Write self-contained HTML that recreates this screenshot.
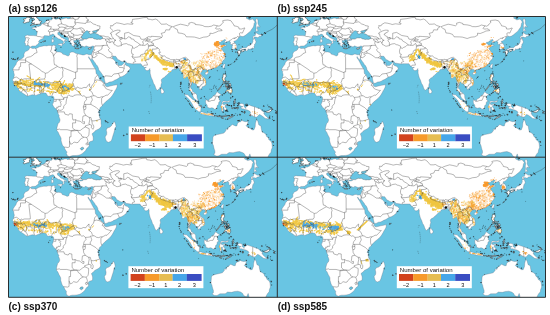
<!DOCTYPE html>
<html><head><meta charset="utf-8"><title>Number of variation</title>
<style>html,body{margin:0;padding:0;background:#fff}svg{display:block;font-family:"Liberation Sans",Arial,sans-serif}</style>
</head><body>
<svg width="550" height="315" viewBox="0 0 550 315">
<rect width="550" height="315" fill="#fff"/>
<defs>
<clipPath id="cpa"><rect x="0" y="0" width="268.8" height="140.7"/></clipPath><clipPath id="cpb"><rect x="0" y="0" width="268.2" height="140.7"/></clipPath><clipPath id="cpc"><rect x="0" y="0" width="268.8" height="140.1"/></clipPath><clipPath id="cpd"><rect x="0" y="0" width="268.2" height="140.1"/></clipPath>
<clipPath id="lc"><path d="M237.8 -6.5L237.8 -1.1L238.7 0.3L237.5 1.5L239.9 2.8L241.0 3.4L244.2 2.5L245.6 4.2L246.6 5.6L245.7 6.7L245.3 9.0L244.9 10.5L243.0 13.1L242.2 14.4L239.1 17.0L237.6 18.3L235.3 19.8L233.6 20.1L232.1 19.5L230.7 20.4L230.3 20.9L229.7 21.8L228.7 22.9L228.7 23.2L226.6 24.4L225.4 24.8L225.4 25.7L226.6 26.6L227.8 28.2L228.3 29.4L228.4 30.6L228.1 31.7L226.6 32.3L225.4 32.6L223.8 33.1L223.5 32.2L223.8 30.6L223.4 29.4L224.3 29.1L224.0 28.2L222.6 28.0L221.6 27.5L222.0 26.6L221.9 25.5L220.6 24.6L219.3 24.9L217.3 25.8L216.4 26.1L215.7 25.4L216.7 24.4L217.3 23.7L216.8 23.1L215.4 23.2L214.7 24.1L213.3 24.6L212.2 25.7L210.5 25.8L210.2 26.8L211.3 27.5L212.4 28.0L212.2 28.6L213.1 28.9L214.4 28.2L216.0 28.3L217.7 28.5L217.9 29.2L216.2 29.5L215.0 30.2L214.4 30.6L213.3 31.4L212.7 32.5L213.9 33.4L215.1 35.3L216.2 36.5L216.8 37.3L216.7 38.4L215.9 39.0L214.7 39.4L216.2 39.9L217.0 40.2L216.5 41.8L215.9 42.9L214.8 43.8L213.9 45.0L213.3 46.1L213.3 47.0L212.2 47.6L211.2 48.4L209.9 49.5L208.9 50.3L207.0 51.2L205.5 51.4L205.0 51.8L204.0 52.0L202.9 52.6L201.4 52.9L199.8 53.2L199.2 54.1L199.4 54.9L198.9 54.9L198.3 54.8L198.3 53.4L197.4 52.9L196.3 52.8L195.6 53.1L194.6 53.5L193.7 54.1L193.3 55.1L192.3 56.2L192.0 57.2L193.1 58.5L194.0 59.7L194.9 60.6L195.9 61.4L196.9 62.7L197.4 64.7L197.5 66.2L197.4 67.8L197.1 68.7L196.0 69.3L194.5 70.2L193.7 70.2L193.6 71.5L192.8 71.9L191.6 72.7L190.7 73.0L190.8 71.6L191.1 70.9L190.2 70.2L189.0 70.1L188.7 69.3L187.9 68.7L187.8 68.1L186.8 67.4L186.1 66.7L184.9 66.7L184.7 65.6L184.1 65.4L183.3 65.7L183.2 67.0L182.9 68.5L182.1 70.1L182.3 71.9L183.3 72.4L183.8 73.5L184.1 75.0L184.9 75.6L185.9 76.0L186.7 76.7L187.9 77.8L188.5 78.9L188.5 80.1L188.7 81.7L189.1 82.5L189.7 84.0L189.4 84.3L188.7 84.3L187.6 83.5L186.1 82.3L185.3 81.7L184.6 80.1L183.9 78.0L183.8 76.7L182.9 75.8L182.3 74.7L181.0 73.9L180.7 73.2L181.0 71.6L181.2 70.1L181.3 68.2L181.2 67.0L180.6 65.0L180.3 63.4L180.0 62.3L179.7 60.8L178.6 60.0L177.5 60.8L176.1 61.9L174.6 61.6L174.9 59.7L174.6 57.7L173.7 56.2L172.6 55.1L171.6 54.0L170.9 52.8L170.8 51.7L169.6 51.4L168.8 51.7L168.5 52.4L167.3 52.6L166.5 52.8L165.3 52.8L164.7 52.8L163.5 53.4L163.1 54.3L162.7 55.2L161.2 55.8L160.4 56.5L159.2 57.7L158.1 58.8L156.6 60.0L156.1 60.8L154.6 61.6L154.0 61.9L153.1 62.7L152.7 63.9L153.1 65.4L153.2 66.2L152.6 67.8L152.4 68.8L152.6 70.4L151.7 70.5L151.1 71.6L151.5 72.1L150.3 72.4L149.8 73.2L148.9 73.8L147.9 72.9L147.1 71.2L146.6 69.6L146.0 68.2L145.1 67.0L144.6 65.4L144.0 63.6L143.3 62.3L142.7 60.8L142.3 59.3L141.9 57.7L141.7 56.9L141.6 55.4L141.7 53.8L141.4 53.1L141.3 52.0L140.7 53.5L139.0 54.1L137.9 54.0L136.7 52.9L135.9 51.8L137.5 51.2L137.9 50.7L136.2 51.1L135.2 50.3L134.7 49.7L133.6 49.3L133.3 48.3L132.6 47.8L132.3 47.2L129.8 47.2L128.3 47.2L126.0 47.3L124.5 47.5L122.9 47.2L121.4 47.0L119.9 46.7L118.3 46.6L117.6 45.2L116.5 44.4L115.3 44.9L113.8 45.2L112.2 44.6L110.7 43.6L109.2 43.0L108.4 41.6L107.6 40.5L107.2 39.8L106.1 39.8L105.2 39.4L104.6 39.9L103.8 40.1L103.7 40.8L104.3 41.8L105.0 43.0L106.1 44.1L106.9 44.9L107.2 45.8L107.0 46.9L108.1 48.0L108.7 46.7L108.9 45.9L109.3 46.9L109.2 48.3L109.6 49.0L110.7 48.9L112.2 49.0L113.5 48.7L114.8 47.3L116.1 46.1L116.7 45.5L116.7 46.9L117.0 48.4L118.3 49.3L120.0 49.8L121.1 51.1L121.9 51.5L121.1 53.1L120.0 54.6L118.8 55.1L118.8 56.9L117.6 57.2L116.5 58.6L115.0 59.3L113.8 60.0L111.8 60.5L110.2 61.6L108.4 62.8L106.1 63.7L104.6 64.7L103.1 65.3L100.8 65.6L99.2 66.5L97.6 66.8L96.8 66.7L96.5 65.4L96.0 63.4L95.7 61.6L95.6 60.5L94.3 58.8L93.1 57.1L92.0 55.4L90.8 54.1L90.2 53.1L89.9 51.5L88.8 49.3L87.5 48.0L86.7 46.4L85.5 44.9L84.4 43.3L83.6 42.5L83.8 40.7L83.0 42.9L82.8 43.4L81.8 42.5L80.9 41.2L80.3 40.1L80.0 40.7L80.7 42.2L81.6 43.3L82.4 44.7L83.2 46.3L84.2 48.3L85.0 49.7L85.8 51.1L86.8 52.3L87.3 53.8L87.5 56.2L87.9 57.5L89.4 58.5L90.5 61.6L91.1 63.0L92.4 63.4L93.9 64.8L95.4 66.2L96.5 67.1L96.8 68.1L95.9 68.5L96.6 68.8L97.7 70.1L99.2 70.2L101.5 69.6L103.1 69.2L105.0 68.8L106.9 68.5L108.7 67.9L108.6 69.3L108.7 70.1L108.1 71.6L107.2 73.2L106.4 74.4L105.5 76.3L104.6 77.8L103.5 79.5L101.5 81.7L99.7 83.2L97.7 84.8L96.2 86.3L94.6 87.9L93.9 89.1L92.8 90.2L91.9 90.7L91.3 92.2L90.8 93.4L90.1 94.8L89.8 96.1L90.8 97.2L90.5 98.7L91.0 100.2L91.3 101.8L92.4 102.7L92.5 104.9L92.5 107.2L92.8 108.8L92.5 110.3L91.6 111.5L90.1 112.6L88.2 113.4L86.8 114.2L85.8 115.6L84.4 116.6L83.6 117.3L83.8 118.3L84.4 119.6L84.7 121.1L84.7 123.1L84.2 124.4L82.4 124.8L80.9 125.5L80.3 126.5L80.7 127.8L80.6 129.3L80.0 130.6L78.9 131.2L77.8 132.6L77.1 134.0L76.0 135.1L74.8 136.3L73.2 137.4L71.7 138.3L69.7 138.8L68.7 138.9L66.4 139.1L64.4 139.1L62.5 139.5L61.0 140.2L59.9 139.7L59.2 139.2L58.6 139.4L58.6 138.8L58.3 137.5L57.8 136.9L58.4 136.3L58.3 135.2L57.2 133.8L56.4 132.4L55.7 130.6L54.4 129.3L53.7 127.9L53.2 126.2L52.6 124.2L52.6 121.7L51.8 120.0L50.9 118.5L49.7 115.7L48.5 114.2L48.3 112.9L48.5 111.1L48.9 109.5L49.5 107.2L50.9 105.8L51.5 104.1L51.5 102.9L50.8 101.0L50.3 100.2L50.9 99.5L50.0 97.9L49.2 95.8L49.1 95.3L48.8 94.1L47.6 92.5L45.7 91.0L45.1 90.0L44.5 89.0L43.9 87.6L44.6 86.8L45.0 85.5L45.1 84.8L45.4 83.5L45.4 82.5L45.6 81.4L45.1 80.3L44.2 79.8L43.6 79.2L43.0 79.4L41.9 79.4L41.1 79.5L39.9 79.7L38.8 79.1L38.1 77.5L37.3 76.6L35.6 76.4L34.2 76.5L32.9 76.7L32.0 77.2L30.4 77.7L28.9 78.3L27.4 78.9L25.8 78.4L24.3 78.2L22.8 78.4L21.3 78.9L19.7 79.4L18.8 79.6L17.7 79.1L16.4 78.1L15.1 77.2L13.9 76.4L12.8 75.6L11.6 74.9L10.7 74.1L10.1 73.2L10.2 72.2L9.5 71.6L8.6 70.5L7.8 69.6L7.2 69.2L6.0 68.2L4.9 67.1L4.7 65.9L5.0 65.0L4.3 63.9L3.7 63.5L4.4 62.8L5.2 61.6L5.5 60.0L5.9 58.5L5.5 56.9L5.2 56.2L5.5 55.1L4.4 54.0L4.4 53.1L4.7 52.0L5.5 50.7L6.3 49.5L7.5 48.0L7.8 46.9L8.4 45.6L9.8 44.2L10.7 43.2L12.8 42.5L14.8 41.0L15.6 39.6L15.4 37.7L16.2 36.0L17.4 34.8L18.8 34.3L20.0 33.6L20.8 32.2L21.4 30.9L22.3 30.8L22.8 31.6L23.9 31.9L25.1 31.9L26.0 31.7L27.1 32.0L28.4 31.7L29.7 30.9L30.9 30.3L32.7 29.9L34.9 29.4L36.4 29.2L38.1 29.4L40.1 28.9L41.6 28.9L43.6 29.2L45.4 28.6L46.2 28.8L46.2 29.4L47.4 29.0L47.1 30.0L46.5 30.6L46.8 31.4L47.4 31.9L46.8 32.8L45.9 33.4L46.0 34.2L47.2 34.5L48.0 35.0L49.2 35.5L50.6 35.4L52.1 35.7L53.7 36.4L54.1 37.6L55.7 38.1L57.2 38.5L58.7 39.3L59.8 39.4L61.0 38.5L61.0 37.1L61.8 36.0L63.3 35.4L64.8 35.6L65.9 36.0L67.1 36.8L68.7 37.3L70.2 37.6L72.2 37.9L74.0 38.4L75.5 38.5L76.8 37.9L77.8 37.6L79.4 37.7L80.1 38.2L81.6 38.2L82.9 37.9L83.5 36.8L83.9 35.6L84.2 34.5L84.9 33.4L85.3 32.2L85.2 30.9L85.6 29.7L85.0 29.7L83.9 29.5L82.4 30.2L80.9 30.5L79.8 30.3L78.1 29.5L77.2 29.4L76.9 30.2L75.5 30.3L74.5 29.7L73.2 29.4L72.3 29.1L72.2 28.3L71.9 27.5L70.9 26.9L71.6 26.3L71.4 25.4L70.5 25.2L70.5 24.4L71.3 23.8L72.5 24.0L74.0 23.8L75.1 23.4L74.8 22.9L73.2 22.9L72.2 23.1L71.3 23.7L70.5 24.3L70.6 23.5L70.2 23.2L68.7 23.1L67.6 23.2L67.1 23.8L66.8 24.4L66.1 24.1L65.3 23.7L65.0 24.4L65.6 25.5L65.4 26.1L66.4 26.8L67.1 27.2L67.2 28.0L66.4 27.7L65.6 27.7L65.9 28.5L65.3 28.3L65.7 29.9L64.8 29.9L64.5 29.2L63.6 29.4L63.0 28.2L63.6 27.2L62.8 26.9L62.2 26.1L61.5 25.2L60.9 24.4L60.1 23.8L60.1 22.4L60.2 21.7L59.5 21.2L58.7 20.6L57.2 19.8L55.7 19.0L54.1 18.3L53.4 17.3L52.6 16.4L52.1 16.7L51.7 17.0L51.2 16.2L51.4 15.6L50.3 15.6L49.2 16.2L49.4 17.0L49.2 17.8L50.0 18.4L51.2 19.0L51.8 20.1L53.1 21.2L54.6 21.5L55.0 21.5L54.7 22.1L56.1 22.6L57.2 23.2L58.6 24.1L58.7 24.6L57.9 24.6L56.7 23.8L56.3 23.8L55.8 24.8L56.6 26.0L55.8 26.5L55.7 26.9L55.0 27.6L54.4 27.5L54.4 27.1L54.7 26.5L55.0 26.0L54.9 25.2L54.4 24.4L53.4 24.1L53.1 23.5L52.3 23.2L51.5 22.6L50.3 22.4L49.2 21.8L48.3 21.0L47.4 20.6L46.5 19.8L46.2 19.0L45.7 18.3L45.0 17.8L43.9 17.6L43.0 18.3L41.9 18.6L41.1 19.0L39.9 19.6L38.7 19.3L37.3 19.2L36.4 19.0L35.3 19.5L35.2 20.6L35.3 21.5L33.8 22.3L32.0 22.9L31.5 23.4L30.7 24.1L30.0 25.2L30.7 26.3L29.7 27.1L29.2 28.0L28.0 28.6L27.1 29.4L25.1 29.5L23.7 29.5L22.3 30.3L21.9 30.6L21.1 30.2L20.6 29.2L19.7 28.8L18.3 29.1L16.8 29.1L17.0 27.7L16.8 26.8L16.1 26.5L16.2 25.4L16.8 24.1L17.1 22.9L17.0 21.5L16.4 19.8L17.7 19.0L18.7 18.6L20.5 18.9L22.8 19.0L25.1 19.1L27.4 19.3L28.1 18.9L28.4 17.5L28.7 15.9L28.6 15.2L27.4 13.9L27.1 13.3L26.1 12.8L25.1 12.4L23.7 12.2L23.2 11.4L24.6 11.0L25.8 10.8L27.4 11.1L28.1 11.0L27.8 9.6L28.6 9.6L29.1 10.0L30.6 9.9L30.9 9.4L32.4 8.9L32.9 8.2L32.9 7.6L34.2 7.3L35.5 6.8L36.5 6.0L37.3 5.3L37.8 4.4L38.8 3.9L40.8 3.6L41.6 3.2L43.0 3.4L43.6 2.9L44.0 2.3L43.6 1.4L43.1 0.5L42.8 -0.3L43.0 -1.4L43.0 -6.5L46.2 -6.5L46.2 -1.1L47.1 -0.9L46.2 -0.3L46.0 0.5L45.4 0.9L45.1 1.4L45.7 2.0L46.9 2.8L47.6 2.8L48.8 2.5L49.5 2.2L51.1 2.3L52.1 2.9L52.8 2.8L54.9 2.3L56.4 1.7L58.4 1.5L59.0 2.2L60.2 2.2L60.9 1.7L61.8 1.4L62.5 0.8L62.7 -0.2L62.5 -0.8L62.6 -1.5L62.6 -6.5ZM20.9 -6.5L21.6 -1.5L21.9 -0.8L21.7 0.6L22.9 0.2L23.1 1.2L22.6 1.5L23.7 1.7L25.1 1.4L25.2 2.0L26.0 2.6L25.8 3.6L25.4 3.9L23.9 3.9L23.4 4.6L24.2 5.1L23.2 5.9L22.5 6.2L23.9 6.5L25.5 6.8L26.3 6.5L25.1 7.1L23.5 7.4L22.5 8.5L21.7 8.9L22.6 9.0L24.0 8.4L25.1 8.5L25.2 8.0L26.6 8.0L28.1 7.9L29.7 7.7L30.9 7.8L32.0 7.4L32.6 7.1L32.4 6.8L31.3 6.7L31.8 6.2L32.9 5.6L33.1 4.8L32.3 4.4L30.9 4.5L30.7 3.9L30.3 3.4L30.6 3.4L30.1 2.6L29.2 2.0L28.4 1.5L28.0 0.5L27.1 -0.3L25.5 -0.3L26.1 -0.8L26.6 -1.2L26.9 -6.5ZM15.1 6.5L15.9 6.7L17.4 6.3L19.0 5.7L20.6 5.6L21.1 4.6L21.1 3.6L20.9 2.8L21.9 2.2L21.6 1.4L20.8 0.9L19.3 0.8L17.9 1.1L17.4 1.9L17.3 2.3L15.1 2.5L15.3 3.6L16.2 4.2L15.7 5.0L14.7 5.7ZM49.8 -6.5L49.8 -0.8L50.2 0.5L50.9 0.7L52.1 0.6L52.4 0.2L52.9 -0.5L54.6 -0.5L55.5 -1.2L55.8 -6.5ZM47.6 0.2L49.5 -0.3L49.7 0.3L49.1 0.9L48.6 1.7L47.6 0.9ZM45.4 0.5L46.8 0.5L46.9 1.1L45.9 1.2ZM43.6 20.7L44.8 19.8L45.0 20.6L44.8 21.8L44.5 22.3L43.9 22.0ZM43.0 23.1L44.5 22.6L45.3 23.7L45.1 25.5L44.2 25.8L43.3 26.0L43.3 24.4ZM49.4 27.5L50.8 27.2L54.3 27.1L53.7 28.3L53.5 29.5L52.4 29.2L51.1 28.6L49.5 28.2ZM66.4 31.4L67.9 31.6L70.6 31.7L70.5 32.2L68.2 32.3L66.4 31.8ZM79.8 32.1L80.9 31.6L83.3 31.1L82.4 32.2L80.9 32.8L80.0 32.6ZM34.1 25.1L35.3 24.5L35.6 24.9L35.2 25.5ZM65.9 26.1L67.3 26.6L67.9 27.5L67.0 27.1ZM72.9 30.2L73.5 30.0L73.2 30.8ZM70.0 25.7L71.1 25.5L70.8 26.0ZM105.8 104.9L106.9 107.2L107.6 110.3L106.6 111.1L106.1 113.4L105.3 116.5L104.3 119.6L103.4 122.7L102.4 124.8L100.0 125.8L98.2 125.0L97.1 122.7L96.6 120.4L98.2 118.0L98.3 115.7L97.7 113.4L98.9 111.4L101.2 110.8L103.1 109.2L103.8 107.4L105.0 106.1ZM152.6 71.2L154.0 72.4L155.5 74.7L155.3 76.3L153.7 77.1L152.7 76.7L152.4 75.2L152.4 73.2ZM196.6 56.5L197.9 55.4L199.5 55.2L200.1 56.0L199.4 57.2L198.0 58.2L196.6 57.7ZM216.2 47.2L216.8 47.6L216.4 49.2L216.0 50.6L215.3 52.3L215.0 51.5L214.1 50.7L214.2 49.5L215.1 48.1ZM230.6 33.7L231.8 34.3L232.3 35.6L231.3 37.7L230.3 38.4L229.5 37.9L229.8 36.4L228.7 35.7L228.9 34.8L229.8 34.3ZM233.0 33.7L234.7 33.3L236.2 33.4L236.4 34.0L235.6 34.8L234.2 35.0L233.6 35.7L232.9 34.7ZM230.6 33.6L230.7 33.1L232.3 32.3L233.8 31.4L236.1 31.2L237.6 31.2L238.4 30.6L239.4 29.4L240.4 28.3L239.9 29.2L241.4 28.9L242.7 27.8L243.7 26.8L244.5 24.8L244.3 23.5L244.9 22.6L246.6 22.3L246.8 23.7L247.5 25.2L246.9 27.1L246.0 27.7L246.0 29.1L245.4 30.3L245.9 31.1L244.9 32.0L244.2 32.2L244.2 31.2L243.7 31.7L243.1 32.0L242.7 32.8L242.2 32.2L241.7 32.8L239.9 32.8L239.7 32.2L239.3 32.8L239.7 33.3L238.8 33.9L238.1 34.6L237.0 33.9L237.1 33.3L237.5 32.7L236.1 32.6L234.5 33.1L233.0 33.3L231.9 33.7ZM244.5 22.1L244.2 20.4L245.3 19.3L246.6 19.3L247.1 17.5L247.2 16.1L248.3 16.7L249.8 17.8L251.2 18.3L252.6 17.8L252.3 18.7L253.4 19.3L252.1 19.8L250.5 20.0L249.5 21.0L249.4 21.3L247.5 20.6L246.0 20.6L245.1 20.7L245.9 21.3L246.3 21.7L245.3 22.3ZM247.5 2.3L248.9 2.3L249.5 4.3L249.4 6.7L250.3 9.0L251.7 10.5L249.1 10.1L248.5 12.1L249.7 13.9L249.8 14.9L248.6 14.1L247.5 15.2L247.4 13.6L247.7 11.3L247.5 9.0L247.9 6.7L247.2 3.9ZM214.8 57.7L217.3 57.7L217.6 60.0L216.4 61.6L216.4 63.1L217.0 64.4L218.5 64.8L220.0 66.2L220.0 66.8L219.0 65.9L217.7 65.3L216.5 64.8L215.3 65.0L214.8 63.9L214.1 63.4L213.8 61.3L214.5 60.6L214.5 59.3ZM217.0 75.5L217.6 73.9L219.3 73.0L220.8 73.0L222.2 71.3L223.4 72.4L223.8 74.7L223.2 76.3L222.2 77.7L221.9 76.3L220.3 76.7L220.0 75.2L219.0 74.7L217.7 75.5ZM220.5 67.0L222.0 67.0L222.6 69.0L221.6 70.4L220.9 69.6L220.8 68.5ZM217.7 70.1L219.0 69.5L219.4 70.5L219.0 72.1L217.9 71.6ZM217.0 68.1L218.5 68.5L218.0 69.9L217.0 70.1ZM209.6 73.3L213.1 68.7L212.8 70.2L210.2 73.5ZM214.4 65.4L216.0 65.6L215.9 67.3L215.3 67.3ZM197.1 84.0L198.0 83.2L199.1 83.7L200.5 84.2L200.8 82.6L203.2 81.4L204.7 79.4L206.3 78.6L207.2 77.7L208.1 75.8L209.0 75.5L210.4 76.7L212.7 78.1L211.3 79.1L210.2 80.0L210.7 81.7L210.5 83.2L212.4 84.8L210.8 85.1L210.1 86.3L210.1 87.9L208.6 89.1L208.4 91.0L207.8 92.4L205.8 92.7L204.7 91.6L203.2 91.3L201.4 91.7L198.9 90.8L198.6 88.6L197.4 87.1L197.1 85.5ZM176.1 77.7L178.0 78.3L179.5 78.3L180.7 79.7L183.0 81.7L184.1 82.9L185.6 83.5L187.1 84.8L188.5 85.5L189.1 86.8L190.2 87.9L190.2 89.1L191.3 89.7L192.5 91.0L192.3 93.3L192.2 95.3L191.0 95.3L190.1 95.3L188.7 93.9L186.8 92.5L185.6 91.0L184.6 89.4L183.8 87.7L182.9 86.3L181.8 84.8L181.2 83.5L179.8 82.3L178.7 80.9L177.5 80.1L176.3 78.7ZM191.3 96.8L192.5 95.4L194.0 95.6L196.3 96.4L198.6 97.0L200.0 96.2L200.9 96.7L202.7 97.2L204.0 98.2L205.5 98.4L205.3 99.8L203.2 99.2L200.9 99.2L198.6 98.7L196.3 98.2L194.0 97.9L193.1 97.5ZM205.5 99.0L207.3 99.2L206.6 99.9ZM207.8 99.2L208.9 99.3L208.6 100.1ZM209.0 99.5L212.4 99.2L212.4 99.9L209.3 100.2ZM213.6 99.5L218.5 99.0L218.2 99.9L213.9 100.1ZM212.4 101.0L215.1 101.5L214.7 102.1L212.7 101.5ZM219.3 102.3L220.8 100.6L225.1 99.3L223.8 100.4L221.6 101.5L219.7 102.4ZM213.1 94.8L213.1 92.5L213.1 91.6L212.1 90.7L212.7 88.6L213.6 87.1L213.6 85.5L214.7 84.5L216.2 84.6L218.5 84.9L220.8 84.3L221.9 83.8L220.8 85.5L219.0 85.7L216.2 85.5L214.7 85.7L214.1 87.6L215.4 88.2L217.0 87.7L219.1 87.6L218.2 88.6L216.5 89.1L216.7 90.7L217.6 91.4L218.3 92.8L217.6 93.7L216.4 93.7L215.4 92.4L215.4 90.5L214.4 90.8L214.5 92.5L214.5 94.8ZM225.4 85.1L226.1 83.2L226.9 84.0L226.1 85.5L227.4 85.9L226.1 87.4L225.8 86.0ZM226.1 91.0L230.4 91.3L229.2 91.9L226.4 91.6ZM223.1 91.3L224.9 91.4L224.3 92.2L223.2 91.9ZM230.7 87.6L233.0 86.9L235.3 87.6L235.6 90.2L236.8 91.4L238.4 89.9L240.7 88.6L243.0 89.4L246.0 90.3L249.1 91.6L251.4 92.2L253.4 94.1L255.2 95.6L256.4 96.4L255.2 96.8L256.4 98.7L258.2 100.2L259.8 101.8L261.0 102.3L259.0 102.3L256.7 101.9L254.4 100.1L252.1 98.4L250.6 98.1L249.5 99.5L248.3 100.6L246.0 100.4L243.7 98.9L241.4 99.2L241.1 97.6L242.3 96.4L241.4 94.8L239.1 93.6L236.8 93.1L234.5 92.2L233.5 92.5L232.3 90.7L234.5 90.2L232.7 89.7L230.7 88.5ZM257.2 95.0L259.8 94.2L262.1 92.8L263.3 93.0L262.8 94.5L260.5 95.9L258.2 95.9ZM261.0 90.3L263.6 91.7L264.4 93.4L263.8 92.5L261.3 90.8ZM204.7 120.0L206.3 118.8L209.0 118.0L212.4 117.3L215.4 116.6L217.4 114.2L217.3 112.6L219.3 113.1L219.4 111.4L221.6 110.0L223.8 108.0L225.8 108.9L226.9 109.4L228.4 109.4L228.9 107.2L230.4 105.5L232.3 105.2L233.2 103.8L234.5 104.6L236.8 105.2L239.6 104.9L239.1 107.2L237.6 109.2L239.1 110.8L241.4 111.8L243.7 113.4L245.4 113.4L246.7 110.3L246.9 107.2L247.2 105.7L248.2 103.0L249.4 104.9L250.3 108.4L252.4 109.4L252.7 111.8L253.5 115.4L255.4 116.3L257.3 117.7L258.1 120.0L260.0 121.6L260.2 123.1L262.4 124.7L263.3 126.5L263.6 128.9L263.8 130.9L262.8 133.5L262.5 135.8L261.0 137.4L260.1 138.9L259.0 141.2L258.2 143.6L258.1 148.2L244.5 148.2L244.0 142.8L243.0 141.6L241.7 141.4L242.2 140.2L241.4 137.4L240.7 138.9L239.9 140.8L238.2 140.2L237.1 139.7L235.6 137.1L233.8 136.0L231.0 135.1L227.7 135.4L224.6 136.3L220.6 136.0L219.1 137.1L218.3 137.7L215.3 137.7L213.0 137.8L210.7 139.1L209.6 139.5L207.6 139.4L205.7 138.5L205.3 137.2L206.4 136.8L206.4 134.4L205.7 132.4L205.2 130.6L205.0 129.3L204.0 127.0L204.1 124.7L204.3 122.7L204.4 121.1ZM112.1 66.8L113.8 66.8L113.0 67.3ZM223.4 34.7L224.5 34.5L224.0 35.0ZM191.4 89.0L192.8 88.8L193.6 91.0L192.5 90.3ZM90.4 95.3L90.8 95.6L90.7 96.4ZM43.4 80.6L44.0 80.8L43.6 81.2Z"/></clipPath>
<g id="base">
<rect x="-2" y="-2" width="280.5" height="152.5" fill="#69c5e3"/>
<path d="M237.8 -6.5L237.8 -1.1L238.7 0.3L237.5 1.5L239.9 2.8L241.0 3.4L244.2 2.5L245.6 4.2L246.6 5.6L245.7 6.7L245.3 9.0L244.9 10.5L243.0 13.1L242.2 14.4L239.1 17.0L237.6 18.3L235.3 19.8L233.6 20.1L232.1 19.5L230.7 20.4L230.3 20.9L229.7 21.8L228.7 22.9L228.7 23.2L226.6 24.4L225.4 24.8L225.4 25.7L226.6 26.6L227.8 28.2L228.3 29.4L228.4 30.6L228.1 31.7L226.6 32.3L225.4 32.6L223.8 33.1L223.5 32.2L223.8 30.6L223.4 29.4L224.3 29.1L224.0 28.2L222.6 28.0L221.6 27.5L222.0 26.6L221.9 25.5L220.6 24.6L219.3 24.9L217.3 25.8L216.4 26.1L215.7 25.4L216.7 24.4L217.3 23.7L216.8 23.1L215.4 23.2L214.7 24.1L213.3 24.6L212.2 25.7L210.5 25.8L210.2 26.8L211.3 27.5L212.4 28.0L212.2 28.6L213.1 28.9L214.4 28.2L216.0 28.3L217.7 28.5L217.9 29.2L216.2 29.5L215.0 30.2L214.4 30.6L213.3 31.4L212.7 32.5L213.9 33.4L215.1 35.3L216.2 36.5L216.8 37.3L216.7 38.4L215.9 39.0L214.7 39.4L216.2 39.9L217.0 40.2L216.5 41.8L215.9 42.9L214.8 43.8L213.9 45.0L213.3 46.1L213.3 47.0L212.2 47.6L211.2 48.4L209.9 49.5L208.9 50.3L207.0 51.2L205.5 51.4L205.0 51.8L204.0 52.0L202.9 52.6L201.4 52.9L199.8 53.2L199.2 54.1L199.4 54.9L198.9 54.9L198.3 54.8L198.3 53.4L197.4 52.9L196.3 52.8L195.6 53.1L194.6 53.5L193.7 54.1L193.3 55.1L192.3 56.2L192.0 57.2L193.1 58.5L194.0 59.7L194.9 60.6L195.9 61.4L196.9 62.7L197.4 64.7L197.5 66.2L197.4 67.8L197.1 68.7L196.0 69.3L194.5 70.2L193.7 70.2L193.6 71.5L192.8 71.9L191.6 72.7L190.7 73.0L190.8 71.6L191.1 70.9L190.2 70.2L189.0 70.1L188.7 69.3L187.9 68.7L187.8 68.1L186.8 67.4L186.1 66.7L184.9 66.7L184.7 65.6L184.1 65.4L183.3 65.7L183.2 67.0L182.9 68.5L182.1 70.1L182.3 71.9L183.3 72.4L183.8 73.5L184.1 75.0L184.9 75.6L185.9 76.0L186.7 76.7L187.9 77.8L188.5 78.9L188.5 80.1L188.7 81.7L189.1 82.5L189.7 84.0L189.4 84.3L188.7 84.3L187.6 83.5L186.1 82.3L185.3 81.7L184.6 80.1L183.9 78.0L183.8 76.7L182.9 75.8L182.3 74.7L181.0 73.9L180.7 73.2L181.0 71.6L181.2 70.1L181.3 68.2L181.2 67.0L180.6 65.0L180.3 63.4L180.0 62.3L179.7 60.8L178.6 60.0L177.5 60.8L176.1 61.9L174.6 61.6L174.9 59.7L174.6 57.7L173.7 56.2L172.6 55.1L171.6 54.0L170.9 52.8L170.8 51.7L169.6 51.4L168.8 51.7L168.5 52.4L167.3 52.6L166.5 52.8L165.3 52.8L164.7 52.8L163.5 53.4L163.1 54.3L162.7 55.2L161.2 55.8L160.4 56.5L159.2 57.7L158.1 58.8L156.6 60.0L156.1 60.8L154.6 61.6L154.0 61.9L153.1 62.7L152.7 63.9L153.1 65.4L153.2 66.2L152.6 67.8L152.4 68.8L152.6 70.4L151.7 70.5L151.1 71.6L151.5 72.1L150.3 72.4L149.8 73.2L148.9 73.8L147.9 72.9L147.1 71.2L146.6 69.6L146.0 68.2L145.1 67.0L144.6 65.4L144.0 63.6L143.3 62.3L142.7 60.8L142.3 59.3L141.9 57.7L141.7 56.9L141.6 55.4L141.7 53.8L141.4 53.1L141.3 52.0L140.7 53.5L139.0 54.1L137.9 54.0L136.7 52.9L135.9 51.8L137.5 51.2L137.9 50.7L136.2 51.1L135.2 50.3L134.7 49.7L133.6 49.3L133.3 48.3L132.6 47.8L132.3 47.2L129.8 47.2L128.3 47.2L126.0 47.3L124.5 47.5L122.9 47.2L121.4 47.0L119.9 46.7L118.3 46.6L117.6 45.2L116.5 44.4L115.3 44.9L113.8 45.2L112.2 44.6L110.7 43.6L109.2 43.0L108.4 41.6L107.6 40.5L107.2 39.8L106.1 39.8L105.2 39.4L104.6 39.9L103.8 40.1L103.7 40.8L104.3 41.8L105.0 43.0L106.1 44.1L106.9 44.9L107.2 45.8L107.0 46.9L108.1 48.0L108.7 46.7L108.9 45.9L109.3 46.9L109.2 48.3L109.6 49.0L110.7 48.9L112.2 49.0L113.5 48.7L114.8 47.3L116.1 46.1L116.7 45.5L116.7 46.9L117.0 48.4L118.3 49.3L120.0 49.8L121.1 51.1L121.9 51.5L121.1 53.1L120.0 54.6L118.8 55.1L118.8 56.9L117.6 57.2L116.5 58.6L115.0 59.3L113.8 60.0L111.8 60.5L110.2 61.6L108.4 62.8L106.1 63.7L104.6 64.7L103.1 65.3L100.8 65.6L99.2 66.5L97.6 66.8L96.8 66.7L96.5 65.4L96.0 63.4L95.7 61.6L95.6 60.5L94.3 58.8L93.1 57.1L92.0 55.4L90.8 54.1L90.2 53.1L89.9 51.5L88.8 49.3L87.5 48.0L86.7 46.4L85.5 44.9L84.4 43.3L83.6 42.5L83.8 40.7L83.0 42.9L82.8 43.4L81.8 42.5L80.9 41.2L80.3 40.1L80.0 40.7L80.7 42.2L81.6 43.3L82.4 44.7L83.2 46.3L84.2 48.3L85.0 49.7L85.8 51.1L86.8 52.3L87.3 53.8L87.5 56.2L87.9 57.5L89.4 58.5L90.5 61.6L91.1 63.0L92.4 63.4L93.9 64.8L95.4 66.2L96.5 67.1L96.8 68.1L95.9 68.5L96.6 68.8L97.7 70.1L99.2 70.2L101.5 69.6L103.1 69.2L105.0 68.8L106.9 68.5L108.7 67.9L108.6 69.3L108.7 70.1L108.1 71.6L107.2 73.2L106.4 74.4L105.5 76.3L104.6 77.8L103.5 79.5L101.5 81.7L99.7 83.2L97.7 84.8L96.2 86.3L94.6 87.9L93.9 89.1L92.8 90.2L91.9 90.7L91.3 92.2L90.8 93.4L90.1 94.8L89.8 96.1L90.8 97.2L90.5 98.7L91.0 100.2L91.3 101.8L92.4 102.7L92.5 104.9L92.5 107.2L92.8 108.8L92.5 110.3L91.6 111.5L90.1 112.6L88.2 113.4L86.8 114.2L85.8 115.6L84.4 116.6L83.6 117.3L83.8 118.3L84.4 119.6L84.7 121.1L84.7 123.1L84.2 124.4L82.4 124.8L80.9 125.5L80.3 126.5L80.7 127.8L80.6 129.3L80.0 130.6L78.9 131.2L77.8 132.6L77.1 134.0L76.0 135.1L74.8 136.3L73.2 137.4L71.7 138.3L69.7 138.8L68.7 138.9L66.4 139.1L64.4 139.1L62.5 139.5L61.0 140.2L59.9 139.7L59.2 139.2L58.6 139.4L58.6 138.8L58.3 137.5L57.8 136.9L58.4 136.3L58.3 135.2L57.2 133.8L56.4 132.4L55.7 130.6L54.4 129.3L53.7 127.9L53.2 126.2L52.6 124.2L52.6 121.7L51.8 120.0L50.9 118.5L49.7 115.7L48.5 114.2L48.3 112.9L48.5 111.1L48.9 109.5L49.5 107.2L50.9 105.8L51.5 104.1L51.5 102.9L50.8 101.0L50.3 100.2L50.9 99.5L50.0 97.9L49.2 95.8L49.1 95.3L48.8 94.1L47.6 92.5L45.7 91.0L45.1 90.0L44.5 89.0L43.9 87.6L44.6 86.8L45.0 85.5L45.1 84.8L45.4 83.5L45.4 82.5L45.6 81.4L45.1 80.3L44.2 79.8L43.6 79.2L43.0 79.4L41.9 79.4L41.1 79.5L39.9 79.7L38.8 79.1L38.1 77.5L37.3 76.6L35.6 76.4L34.2 76.5L32.9 76.7L32.0 77.2L30.4 77.7L28.9 78.3L27.4 78.9L25.8 78.4L24.3 78.2L22.8 78.4L21.3 78.9L19.7 79.4L18.8 79.6L17.7 79.1L16.4 78.1L15.1 77.2L13.9 76.4L12.8 75.6L11.6 74.9L10.7 74.1L10.1 73.2L10.2 72.2L9.5 71.6L8.6 70.5L7.8 69.6L7.2 69.2L6.0 68.2L4.9 67.1L4.7 65.9L5.0 65.0L4.3 63.9L3.7 63.5L4.4 62.8L5.2 61.6L5.5 60.0L5.9 58.5L5.5 56.9L5.2 56.2L5.5 55.1L4.4 54.0L4.4 53.1L4.7 52.0L5.5 50.7L6.3 49.5L7.5 48.0L7.8 46.9L8.4 45.6L9.8 44.2L10.7 43.2L12.8 42.5L14.8 41.0L15.6 39.6L15.4 37.7L16.2 36.0L17.4 34.8L18.8 34.3L20.0 33.6L20.8 32.2L21.4 30.9L22.3 30.8L22.8 31.6L23.9 31.9L25.1 31.9L26.0 31.7L27.1 32.0L28.4 31.7L29.7 30.9L30.9 30.3L32.7 29.9L34.9 29.4L36.4 29.2L38.1 29.4L40.1 28.9L41.6 28.9L43.6 29.2L45.4 28.6L46.2 28.8L46.2 29.4L47.4 29.0L47.1 30.0L46.5 30.6L46.8 31.4L47.4 31.9L46.8 32.8L45.9 33.4L46.0 34.2L47.2 34.5L48.0 35.0L49.2 35.5L50.6 35.4L52.1 35.7L53.7 36.4L54.1 37.6L55.7 38.1L57.2 38.5L58.7 39.3L59.8 39.4L61.0 38.5L61.0 37.1L61.8 36.0L63.3 35.4L64.8 35.6L65.9 36.0L67.1 36.8L68.7 37.3L70.2 37.6L72.2 37.9L74.0 38.4L75.5 38.5L76.8 37.9L77.8 37.6L79.4 37.7L80.1 38.2L81.6 38.2L82.9 37.9L83.5 36.8L83.9 35.6L84.2 34.5L84.9 33.4L85.3 32.2L85.2 30.9L85.6 29.7L85.0 29.7L83.9 29.5L82.4 30.2L80.9 30.5L79.8 30.3L78.1 29.5L77.2 29.4L76.9 30.2L75.5 30.3L74.5 29.7L73.2 29.4L72.3 29.1L72.2 28.3L71.9 27.5L70.9 26.9L71.6 26.3L71.4 25.4L70.5 25.2L70.5 24.4L71.3 23.8L72.5 24.0L74.0 23.8L75.1 23.4L74.8 22.9L73.2 22.9L72.2 23.1L71.3 23.7L70.5 24.3L70.6 23.5L70.2 23.2L68.7 23.1L67.6 23.2L67.1 23.8L66.8 24.4L66.1 24.1L65.3 23.7L65.0 24.4L65.6 25.5L65.4 26.1L66.4 26.8L67.1 27.2L67.2 28.0L66.4 27.7L65.6 27.7L65.9 28.5L65.3 28.3L65.7 29.9L64.8 29.9L64.5 29.2L63.6 29.4L63.0 28.2L63.6 27.2L62.8 26.9L62.2 26.1L61.5 25.2L60.9 24.4L60.1 23.8L60.1 22.4L60.2 21.7L59.5 21.2L58.7 20.6L57.2 19.8L55.7 19.0L54.1 18.3L53.4 17.3L52.6 16.4L52.1 16.7L51.7 17.0L51.2 16.2L51.4 15.6L50.3 15.6L49.2 16.2L49.4 17.0L49.2 17.8L50.0 18.4L51.2 19.0L51.8 20.1L53.1 21.2L54.6 21.5L55.0 21.5L54.7 22.1L56.1 22.6L57.2 23.2L58.6 24.1L58.7 24.6L57.9 24.6L56.7 23.8L56.3 23.8L55.8 24.8L56.6 26.0L55.8 26.5L55.7 26.9L55.0 27.6L54.4 27.5L54.4 27.1L54.7 26.5L55.0 26.0L54.9 25.2L54.4 24.4L53.4 24.1L53.1 23.5L52.3 23.2L51.5 22.6L50.3 22.4L49.2 21.8L48.3 21.0L47.4 20.6L46.5 19.8L46.2 19.0L45.7 18.3L45.0 17.8L43.9 17.6L43.0 18.3L41.9 18.6L41.1 19.0L39.9 19.6L38.7 19.3L37.3 19.2L36.4 19.0L35.3 19.5L35.2 20.6L35.3 21.5L33.8 22.3L32.0 22.9L31.5 23.4L30.7 24.1L30.0 25.2L30.7 26.3L29.7 27.1L29.2 28.0L28.0 28.6L27.1 29.4L25.1 29.5L23.7 29.5L22.3 30.3L21.9 30.6L21.1 30.2L20.6 29.2L19.7 28.8L18.3 29.1L16.8 29.1L17.0 27.7L16.8 26.8L16.1 26.5L16.2 25.4L16.8 24.1L17.1 22.9L17.0 21.5L16.4 19.8L17.7 19.0L18.7 18.6L20.5 18.9L22.8 19.0L25.1 19.1L27.4 19.3L28.1 18.9L28.4 17.5L28.7 15.9L28.6 15.2L27.4 13.9L27.1 13.3L26.1 12.8L25.1 12.4L23.7 12.2L23.2 11.4L24.6 11.0L25.8 10.8L27.4 11.1L28.1 11.0L27.8 9.6L28.6 9.6L29.1 10.0L30.6 9.9L30.9 9.4L32.4 8.9L32.9 8.2L32.9 7.6L34.2 7.3L35.5 6.8L36.5 6.0L37.3 5.3L37.8 4.4L38.8 3.9L40.8 3.6L41.6 3.2L43.0 3.4L43.6 2.9L44.0 2.3L43.6 1.4L43.1 0.5L42.8 -0.3L43.0 -1.4L43.0 -6.5L46.2 -6.5L46.2 -1.1L47.1 -0.9L46.2 -0.3L46.0 0.5L45.4 0.9L45.1 1.4L45.7 2.0L46.9 2.8L47.6 2.8L48.8 2.5L49.5 2.2L51.1 2.3L52.1 2.9L52.8 2.8L54.9 2.3L56.4 1.7L58.4 1.5L59.0 2.2L60.2 2.2L60.9 1.7L61.8 1.4L62.5 0.8L62.7 -0.2L62.5 -0.8L62.6 -1.5L62.6 -6.5ZM49.8 -6.5L49.8 -0.8L50.2 0.5L50.9 0.7L52.1 0.6L52.4 0.2L52.9 -0.5L54.6 -0.5L55.5 -1.2L55.8 -6.5ZM43.6 20.7L44.8 19.8L45.0 20.6L44.8 21.8L44.5 22.3L43.9 22.0ZM43.0 23.1L44.5 22.6L45.3 23.7L45.1 25.5L44.2 25.8L43.3 26.0L43.3 24.4ZM49.4 27.5L50.8 27.2L54.3 27.1L53.7 28.3L53.5 29.5L52.4 29.2L51.1 28.6L49.5 28.2ZM105.8 104.9L106.9 107.2L107.6 110.3L106.6 111.1L106.1 113.4L105.3 116.5L104.3 119.6L103.4 122.7L102.4 124.8L100.0 125.8L98.2 125.0L97.1 122.7L96.6 120.4L98.2 118.0L98.3 115.7L97.7 113.4L98.9 111.4L101.2 110.8L103.1 109.2L103.8 107.4L105.0 106.1ZM152.6 71.2L154.0 72.4L155.5 74.7L155.3 76.3L153.7 77.1L152.7 76.7L152.4 75.2L152.4 73.2ZM196.6 56.5L197.9 55.4L199.5 55.2L200.1 56.0L199.4 57.2L198.0 58.2L196.6 57.7ZM216.2 47.2L216.8 47.6L216.4 49.2L216.0 50.6L215.3 52.3L215.0 51.5L214.1 50.7L214.2 49.5L215.1 48.1ZM230.6 33.6L230.7 33.1L232.3 32.3L233.8 31.4L236.1 31.2L237.6 31.2L238.4 30.6L239.4 29.4L240.4 28.3L239.9 29.2L241.4 28.9L242.7 27.8L243.7 26.8L244.5 24.8L244.3 23.5L244.9 22.6L246.6 22.3L246.8 23.7L247.5 25.2L246.9 27.1L246.0 27.7L246.0 29.1L245.4 30.3L245.9 31.1L244.9 32.0L244.2 32.2L244.2 31.2L243.7 31.7L243.1 32.0L242.7 32.8L242.2 32.2L241.7 32.8L239.9 32.8L239.7 32.2L239.3 32.8L239.7 33.3L238.8 33.9L238.1 34.6L237.0 33.9L237.1 33.3L237.5 32.7L236.1 32.6L234.5 33.1L233.0 33.3L231.9 33.7ZM244.5 22.1L244.2 20.4L245.3 19.3L246.6 19.3L247.1 17.5L247.2 16.1L248.3 16.7L249.8 17.8L251.2 18.3L252.6 17.8L252.3 18.7L253.4 19.3L252.1 19.8L250.5 20.0L249.5 21.0L249.4 21.3L247.5 20.6L246.0 20.6L245.1 20.7L245.9 21.3L246.3 21.7L245.3 22.3ZM247.5 2.3L248.9 2.3L249.5 4.3L249.4 6.7L250.3 9.0L251.7 10.5L249.1 10.1L248.5 12.1L249.7 13.9L249.8 14.9L248.6 14.1L247.5 15.2L247.4 13.6L247.7 11.3L247.5 9.0L247.9 6.7L247.2 3.9ZM197.1 84.0L198.0 83.2L199.1 83.7L200.5 84.2L200.8 82.6L203.2 81.4L204.7 79.4L206.3 78.6L207.2 77.7L208.1 75.8L209.0 75.5L210.4 76.7L212.7 78.1L211.3 79.1L210.2 80.0L210.7 81.7L210.5 83.2L212.4 84.8L210.8 85.1L210.1 86.3L210.1 87.9L208.6 89.1L208.4 91.0L207.8 92.4L205.8 92.7L204.7 91.6L203.2 91.3L201.4 91.7L198.9 90.8L198.6 88.6L197.4 87.1L197.1 85.5ZM176.1 77.7L178.0 78.3L179.5 78.3L180.7 79.7L183.0 81.7L184.1 82.9L185.6 83.5L187.1 84.8L188.5 85.5L189.1 86.8L190.2 87.9L190.2 89.1L191.3 89.7L192.5 91.0L192.3 93.3L192.2 95.3L191.0 95.3L190.1 95.3L188.7 93.9L186.8 92.5L185.6 91.0L184.6 89.4L183.8 87.7L182.9 86.3L181.8 84.8L181.2 83.5L179.8 82.3L178.7 80.9L177.5 80.1L176.3 78.7ZM191.3 96.8L192.5 95.4L194.0 95.6L196.3 96.4L198.6 97.0L200.0 96.2L200.9 96.7L202.7 97.2L204.0 98.2L205.5 98.4L205.3 99.8L203.2 99.2L200.9 99.2L198.6 98.7L196.3 98.2L194.0 97.9L193.1 97.5ZM213.1 94.8L213.1 92.5L213.1 91.6L212.1 90.7L212.7 88.6L213.6 87.1L213.6 85.5L214.7 84.5L216.2 84.6L218.5 84.9L220.8 84.3L221.9 83.8L220.8 85.5L219.0 85.7L216.2 85.5L214.7 85.7L214.1 87.6L215.4 88.2L217.0 87.7L219.1 87.6L218.2 88.6L216.5 89.1L216.7 90.7L217.6 91.4L218.3 92.8L217.6 93.7L216.4 93.7L215.4 92.4L215.4 90.5L214.4 90.8L214.5 92.5L214.5 94.8ZM230.7 87.6L233.0 86.9L235.3 87.6L235.6 90.2L236.8 91.4L238.4 89.9L240.7 88.6L243.0 89.4L246.0 90.3L249.1 91.6L251.4 92.2L253.4 94.1L255.2 95.6L256.4 96.4L255.2 96.8L256.4 98.7L258.2 100.2L259.8 101.8L261.0 102.3L259.0 102.3L256.7 101.9L254.4 100.1L252.1 98.4L250.6 98.1L249.5 99.5L248.3 100.6L246.0 100.4L243.7 98.9L241.4 99.2L241.1 97.6L242.3 96.4L241.4 94.8L239.1 93.6L236.8 93.1L234.5 92.2L233.5 92.5L232.3 90.7L234.5 90.2L232.7 89.7L230.7 88.5ZM204.7 120.0L206.3 118.8L209.0 118.0L212.4 117.3L215.4 116.6L217.4 114.2L217.3 112.6L219.3 113.1L219.4 111.4L221.6 110.0L223.8 108.0L225.8 108.9L226.9 109.4L228.4 109.4L228.9 107.2L230.4 105.5L232.3 105.2L233.2 103.8L234.5 104.6L236.8 105.2L239.6 104.9L239.1 107.2L237.6 109.2L239.1 110.8L241.4 111.8L243.7 113.4L245.4 113.4L246.7 110.3L246.9 107.2L247.2 105.7L248.2 103.0L249.4 104.9L250.3 108.4L252.4 109.4L252.7 111.8L253.5 115.4L255.4 116.3L257.3 117.7L258.1 120.0L260.0 121.6L260.2 123.1L262.4 124.7L263.3 126.5L263.6 128.9L263.8 130.9L262.8 133.5L262.5 135.8L261.0 137.4L260.1 138.9L259.0 141.2L258.2 143.6L258.1 148.2L244.5 148.2L244.0 142.8L243.0 141.6L241.7 141.4L242.2 140.2L241.4 137.4L240.7 138.9L239.9 140.8L238.2 140.2L237.1 139.7L235.6 137.1L233.8 136.0L231.0 135.1L227.7 135.4L224.6 136.3L220.6 136.0L219.1 137.1L218.3 137.7L215.3 137.7L213.0 137.8L210.7 139.1L209.6 139.5L207.6 139.4L205.7 138.5L205.3 137.2L206.4 136.8L206.4 134.4L205.7 132.4L205.2 130.6L205.0 129.3L204.0 127.0L204.1 124.7L204.3 122.7L204.4 121.1Z" fill="#fff" stroke="#667" stroke-width="0.3" stroke-linejoin="round"/>
<path d="M20.9 -6.5L21.6 -1.5L21.9 -0.8L21.7 0.6L22.9 0.2L23.1 1.2L22.6 1.5L23.7 1.7L25.1 1.4L25.2 2.0L26.0 2.6L25.8 3.6L25.4 3.9L23.9 3.9L23.4 4.6L24.2 5.1L23.2 5.9L22.5 6.2L23.9 6.5L25.5 6.8L26.3 6.5L25.1 7.1L23.5 7.4L22.5 8.5L21.7 8.9L22.6 9.0L24.0 8.4L25.1 8.5L25.2 8.0L26.6 8.0L28.1 7.9L29.7 7.7L30.9 7.8L32.0 7.4L32.6 7.1L32.4 6.8L31.3 6.7L31.8 6.2L32.9 5.6L33.1 4.8L32.3 4.4L30.9 4.5L30.7 3.9L30.3 3.4L30.6 3.4L30.1 2.6L29.2 2.0L28.4 1.5L28.0 0.5L27.1 -0.3L25.5 -0.3L26.1 -0.8L26.6 -1.2L26.9 -6.5ZM15.1 6.5L15.9 6.7L17.4 6.3L19.0 5.7L20.6 5.6L21.1 4.6L21.1 3.6L20.9 2.8L21.9 2.2L21.6 1.4L20.8 0.9L19.3 0.8L17.9 1.1L17.4 1.9L17.3 2.3L15.1 2.5L15.3 3.6L16.2 4.2L15.7 5.0L14.7 5.7ZM47.6 0.2L49.5 -0.3L49.7 0.3L49.1 0.9L48.6 1.7L47.6 0.9ZM45.4 0.5L46.8 0.5L46.9 1.1L45.9 1.2ZM66.4 31.4L67.9 31.6L70.6 31.7L70.5 32.2L68.2 32.3L66.4 31.8ZM79.8 32.1L80.9 31.6L83.3 31.1L82.4 32.2L80.9 32.8L80.0 32.6ZM34.1 25.1L35.3 24.5L35.6 24.9L35.2 25.5ZM65.9 26.1L67.3 26.6L67.9 27.5L67.0 27.1ZM72.9 30.2L73.5 30.0L73.2 30.8ZM70.0 25.7L71.1 25.5L70.8 26.0ZM230.6 33.7L231.8 34.3L232.3 35.6L231.3 37.7L230.3 38.4L229.5 37.9L229.8 36.4L228.7 35.7L228.9 34.8L229.8 34.3ZM233.0 33.7L234.7 33.3L236.2 33.4L236.4 34.0L235.6 34.8L234.2 35.0L233.6 35.7L232.9 34.7ZM214.8 57.7L217.3 57.7L217.6 60.0L216.4 61.6L216.4 63.1L217.0 64.4L218.5 64.8L220.0 66.2L220.0 66.8L219.0 65.9L217.7 65.3L216.5 64.8L215.3 65.0L214.8 63.9L214.1 63.4L213.8 61.3L214.5 60.6L214.5 59.3ZM217.0 75.5L217.6 73.9L219.3 73.0L220.8 73.0L222.2 71.3L223.4 72.4L223.8 74.7L223.2 76.3L222.2 77.7L221.9 76.3L220.3 76.7L220.0 75.2L219.0 74.7L217.7 75.5ZM220.5 67.0L222.0 67.0L222.6 69.0L221.6 70.4L220.9 69.6L220.8 68.5ZM217.7 70.1L219.0 69.5L219.4 70.5L219.0 72.1L217.9 71.6ZM217.0 68.1L218.5 68.5L218.0 69.9L217.0 70.1ZM209.6 73.3L213.1 68.7L212.8 70.2L210.2 73.5ZM214.4 65.4L216.0 65.6L215.9 67.3L215.3 67.3ZM205.5 99.0L207.3 99.2L206.6 99.9ZM207.8 99.2L208.9 99.3L208.6 100.1ZM209.0 99.5L212.4 99.2L212.4 99.9L209.3 100.2ZM213.6 99.5L218.5 99.0L218.2 99.9L213.9 100.1ZM212.4 101.0L215.1 101.5L214.7 102.1L212.7 101.5ZM219.3 102.3L220.8 100.6L225.1 99.3L223.8 100.4L221.6 101.5L219.7 102.4ZM225.4 85.1L226.1 83.2L226.9 84.0L226.1 85.5L227.4 85.9L226.1 87.4L225.8 86.0ZM226.1 91.0L230.4 91.3L229.2 91.9L226.4 91.6ZM223.1 91.3L224.9 91.4L224.3 92.2L223.2 91.9ZM257.2 95.0L259.8 94.2L262.1 92.8L263.3 93.0L262.8 94.5L260.5 95.9L258.2 95.9ZM261.0 90.3L263.6 91.7L264.4 93.4L263.8 92.5L261.3 90.8ZM112.1 66.8L113.8 66.8L113.0 67.3ZM223.4 34.7L224.5 34.5L224.0 35.0ZM191.4 89.0L192.8 88.8L193.6 91.0L192.5 90.3ZM90.4 95.3L90.8 95.6L90.7 96.4ZM43.4 80.6L44.0 80.8L43.6 81.2Z" fill="#fff" stroke="#222" stroke-width="0.45" stroke-linejoin="round"/>
<path d="M68.3 27.9L68.4 28.1L68.9 28.4L69.0 28.2L68.8 28.0L68.4 27.8ZM69.1 29.2L69.2 29.2L69.6 29.1L69.5 28.9L69.4 28.8L69.1 28.8ZM67.7 29.6L67.8 29.7L68.1 29.6L68.1 29.5L67.9 29.4L67.7 29.5ZM69.1 30.1L69.2 30.1L69.4 30.1L69.4 29.9L69.3 29.9L69.1 29.9ZM70.1 27.2L70.2 27.3L70.4 27.2L70.4 26.8L70.3 26.7L70.1 26.8ZM71.2 28.1L71.4 28.1L71.8 28.0L71.8 27.9L71.5 27.9L71.2 27.9ZM71.6 29.5L71.8 29.4L72.2 29.3L72.1 29.2L71.9 29.2L71.6 29.4ZM61.7 27.4L61.8 27.5L62.2 27.4L62.2 27.1L62.0 27.0L61.7 27.1ZM60.4 25.2L60.5 25.4L60.7 25.3L60.9 24.9L60.9 24.7L60.7 24.7ZM68.7 24.7L68.9 24.8L69.3 24.7L69.3 24.5L69.1 24.4L68.7 24.5ZM67.9 23.5L68.0 23.5L68.3 23.5L68.3 23.3L68.2 23.2L67.9 23.3ZM67.8 26.3L67.9 26.4L68.1 26.3L68.1 26.1L68.0 26.1L67.8 26.1ZM65.5 30.4L65.5 30.4L65.7 30.4L65.7 30.1L65.6 30.1L65.5 30.1ZM71.8 31.5L71.9 31.6L72.1 31.4L72.0 31.1L72.0 30.9L71.8 31.0ZM69.9 29.3L70.0 29.4L70.2 29.3L70.2 29.2L70.1 29.1L69.9 29.2ZM67.5 28.5L67.5 28.5L67.7 28.4L67.7 28.2L67.6 28.1L67.5 28.1ZM52.3 17.1L52.4 17.3L52.7 17.2L52.9 16.7L52.8 16.4L52.5 16.5ZM52.9 17.5L52.9 17.7L53.2 17.7L53.5 17.3L53.5 17.1L53.3 17.1ZM53.3 18.3L53.3 18.4L53.5 18.4L53.8 18.1L53.9 17.9L53.7 17.9ZM55.5 19.4L55.8 19.4L56.4 19.4L56.4 19.3L56.1 19.2L55.5 19.3ZM55.7 19.6L56.0 19.6L56.9 19.6L56.8 19.5L56.4 19.5L55.7 19.5ZM56.0 20.0L56.2 20.0L56.9 20.0L56.8 19.9L56.5 19.8L56.0 19.9ZM57.0 20.2L57.1 20.3L57.4 20.2L57.4 20.2L57.2 20.1L57.0 20.1ZM32.3 26.1L32.5 26.2L32.8 26.1L32.8 25.9L32.6 25.8L32.3 25.9ZM36.2 24.6L36.5 24.7L37.0 24.6L37.0 24.4L36.7 24.4L36.2 24.4ZM52.3 30.9L52.4 30.9L52.6 30.9L52.6 30.7L52.5 30.7L52.3 30.7ZM46.8 34.2L47.0 34.2L47.4 34.2L47.3 33.9L47.1 33.8L46.8 33.9ZM45.9 20.2L46.1 20.3L46.4 20.2L46.4 20.1L46.2 20.1L45.9 20.1ZM47.3 32.6L47.5 32.6L47.8 32.6L47.8 32.5L47.6 32.5L47.3 32.5ZM4.6 42.5L4.8 42.7L5.5 42.9L5.6 42.6L5.3 42.4L4.7 42.2ZM6.2 43.3L6.4 43.4L6.9 43.3L6.9 42.9L6.6 42.8L6.2 42.9ZM8.6 42.7L8.6 42.9L9.0 42.8L9.3 42.2L9.2 41.9L8.9 41.9ZM9.3 41.5L9.3 41.6L9.7 41.7L9.8 41.3L9.7 41.1L9.5 41.1ZM3.0 42.1L3.1 42.2L3.3 42.1L3.3 41.8L3.2 41.7L3.0 41.7ZM4.0 43.0L4.1 43.0L4.3 42.9L4.3 42.8L4.2 42.7L4.0 42.7ZM4.1 35.7L4.3 35.8L4.8 35.7L4.8 35.6L4.5 35.5L4.1 35.6ZM107.6 46.2L107.7 46.3L107.9 46.2L107.9 45.8L107.7 45.7L107.6 45.8ZM115.2 44.7L115.6 44.8L116.5 45.0L116.5 44.9L116.1 44.7L115.3 44.5ZM120.0 54.9L120.0 55.1L120.3 55.0L120.5 54.5L120.4 54.3L120.2 54.3ZM94.4 60.5L94.6 60.6L94.9 60.5L94.9 60.1L94.7 60.0L94.4 60.1ZM91.4 62.3L91.6 62.3L92.0 62.2L92.0 61.8L91.8 61.7L91.4 61.8ZM111.7 67.6L111.8 67.6L112.2 67.6L112.1 67.5L112.0 67.4L111.7 67.5ZM91.1 94.5L91.1 94.7L91.4 94.5L91.3 93.9L91.2 93.7L91.1 93.9ZM91.1 98.8L91.2 98.9L91.4 98.7L91.4 98.4L91.3 98.2L91.1 98.3ZM96.5 104.6L96.6 104.7L96.9 104.6L96.9 104.1L96.8 104.0L96.5 104.1ZM98.0 105.3L98.2 105.4L98.6 105.3L98.6 105.1L98.4 105.0L98.0 105.1ZM99.3 106.3L99.4 106.4L99.7 106.3L99.6 106.0L99.5 105.9L99.3 106.0ZM97.2 105.4L97.3 105.5L97.5 105.4L97.5 105.3L97.4 105.2L97.2 105.3ZM114.9 119.2L115.1 119.3L115.7 119.1L115.6 118.8L115.4 118.7L114.9 118.7ZM118.2 117.9L118.4 118.0L118.8 117.9L118.8 117.4L118.6 117.3L118.2 117.4ZM115.1 93.6L115.1 93.7L115.4 93.6L115.3 93.4L115.2 93.4L115.1 93.4ZM5.7 69.1L6.0 69.2L6.5 69.1L6.5 68.8L6.2 68.7L5.7 68.8ZM40.3 86.1L40.4 86.2L40.7 86.1L40.7 85.8L40.6 85.7L40.3 85.7ZM41.6 83.9L41.7 84.0L41.8 83.9L41.8 83.8L41.8 83.7L41.6 83.8ZM106.6 112.8L106.7 112.9L106.8 112.8L106.8 112.4L106.7 112.3L106.6 112.4ZM104.1 107.1L104.2 107.1L104.5 107.1L104.4 106.9L104.3 106.8L104.1 106.9ZM172.2 67.1L172.4 67.4L172.7 66.9L172.5 65.7L172.4 65.4L172.1 65.7ZM172.1 68.2L172.2 68.4L172.4 68.2L172.4 67.6L172.3 67.4L172.1 67.6ZM171.6 70.0L171.8 70.1L172.1 70.0L172.1 69.7L171.9 69.6L171.6 69.7ZM173.6 75.7L173.7 75.9L174.0 75.8L174.1 75.3L174.0 75.1L173.7 75.2ZM173.3 74.1L173.3 74.1L173.5 74.0L173.5 73.9L173.4 73.8L173.3 73.8ZM172.2 72.2L172.3 72.2L172.4 72.2L172.4 72.0L172.3 71.9L172.2 72.0ZM152.2 72.4L152.3 72.4L152.4 72.3L152.4 72.2L152.3 72.1L152.2 72.1ZM217.0 39.9L217.1 40.0L217.4 39.9L217.4 39.7L217.2 39.7L217.0 39.7ZM215.9 37.4L216.1 37.5L216.8 37.6L216.8 37.5L216.5 37.3L215.9 37.2ZM213.1 50.0L213.2 50.1L213.4 50.0L213.4 49.8L213.3 49.7L213.1 49.8ZM213.5 47.0L213.6 47.0L213.7 46.9L213.7 46.8L213.6 46.8L213.5 46.8ZM211.3 48.6L211.3 48.6L211.5 48.5L211.5 48.5L211.4 48.4L211.3 48.4ZM204.4 52.0L204.5 52.0L204.8 51.9L204.8 51.9L204.6 51.8L204.4 51.8ZM202.7 52.9L202.8 52.9L203.1 52.9L203.0 52.8L202.9 52.7L202.7 52.7ZM216.1 52.3L216.2 52.3L216.3 52.3L216.3 52.2L216.2 52.1L216.1 52.2ZM199.3 53.9L199.4 54.0L199.6 53.9L199.6 53.8L199.5 53.7L199.3 53.8ZM217.9 25.7L218.0 25.7L218.2 25.6L218.2 25.6L218.1 25.5L217.9 25.5ZM215.4 27.7L215.4 27.7L215.5 27.7L215.5 27.4L215.5 27.3L215.4 27.4ZM200.9 60.9L201.1 60.9L201.5 60.9L201.5 60.7L201.3 60.7L200.9 60.7ZM202.1 60.3L202.2 60.3L202.3 60.3L202.3 60.2L202.2 60.2L202.1 60.2ZM200.4 61.9L200.4 62.0L200.5 61.9L200.5 61.8L200.5 61.8L200.4 61.8ZM205.2 70.4L205.2 70.4L205.4 70.4L205.4 70.3L205.3 70.2L205.2 70.3ZM204.5 71.7L204.7 71.7L204.9 71.7L204.9 71.6L204.8 71.5L204.5 71.6ZM207.4 69.8L207.4 69.9L207.6 69.8L207.6 69.7L207.5 69.7L207.4 69.7ZM203.1 73.1L203.2 73.1L203.3 73.1L203.3 73.0L203.2 72.9L203.1 73.0ZM205.7 68.8L205.8 68.8L205.9 68.7L205.9 68.6L205.8 68.6L205.7 68.6ZM208.7 54.4L208.8 54.4L209.0 54.3L209.0 54.3L208.9 54.2L208.7 54.2ZM210.4 62.9L210.5 63.0L210.7 62.9L210.6 62.8L210.6 62.8L210.4 62.8ZM201.4 72.7L201.5 72.7L201.6 72.7L201.6 72.6L201.5 72.6L201.4 72.6ZM203.0 74.8L203.0 74.8L203.1 74.8L203.1 74.7L203.1 74.6L203.0 74.7ZM206.9 71.4L207.0 71.4L207.1 71.4L207.1 71.3L207.0 71.2L206.9 71.3ZM208.1 72.5L208.2 72.5L208.4 72.4L208.4 72.4L208.3 72.3L208.1 72.3ZM223.2 33.1L223.4 33.2L223.8 33.1L223.8 32.9L223.6 32.9L223.2 32.9ZM226.8 32.5L227.0 32.6L227.3 32.5L227.3 32.3L227.1 32.3L226.8 32.3ZM230.4 28.4L230.5 28.4L230.6 28.4L230.6 28.3L230.5 28.2L230.4 28.3ZM242.0 27.8L242.2 27.9L242.4 27.5L242.1 27.1L241.8 27.1L241.7 27.3ZM228.2 33.5L228.3 33.6L228.5 33.3L228.2 32.8L228.0 32.7L227.9 32.9ZM236.6 33.4L236.7 33.5L236.8 33.3L236.6 33.0L236.5 32.9L236.4 33.1ZM227.3 35.9L227.5 35.9L227.7 35.5L227.5 35.3L227.2 35.3L227.0 35.6ZM229.0 36.5L229.1 36.5L229.4 36.4L229.4 36.1L229.2 36.0L229.0 36.1ZM230.7 39.3L230.8 39.4L230.9 39.2L230.8 38.7L230.7 38.6L230.6 38.7ZM229.8 39.6L229.9 39.6L230.2 39.6L230.1 39.3L230.0 39.3L229.8 39.3ZM227.8 42.4L228.0 42.6L228.6 42.9L228.7 42.7L228.4 42.5L227.9 42.2ZM227.4 43.5L227.5 43.5L227.7 43.5L227.7 43.3L227.5 43.2L227.4 43.3ZM225.8 45.4L225.7 45.6L226.1 45.6L226.5 45.1L226.5 44.9L226.2 44.8ZM221.8 48.0L221.9 48.1L222.2 48.0L222.2 47.9L222.0 47.8L221.8 47.9ZM220.1 48.7L220.3 48.7L220.5 48.6L220.5 48.5L220.4 48.5L220.1 48.5ZM219.5 48.8L219.6 48.8L219.9 48.7L219.9 48.6L219.8 48.5L219.5 48.5ZM233.7 30.4L233.8 30.5L234.2 30.4L234.1 30.2L234.0 30.2L233.7 30.2ZM243.5 32.6L243.5 32.7L243.6 32.6L243.6 32.5L243.6 32.4L243.5 32.5ZM244.1 35.2L244.2 35.2L244.3 35.2L244.3 35.0L244.2 35.0L244.1 35.0ZM246.3 16.6L246.4 16.6L246.6 16.6L246.6 16.4L246.5 16.3L246.3 16.4ZM247.8 44.6L247.8 44.6L247.9 44.5L247.9 44.4L247.9 44.4L247.8 44.4ZM252.8 17.7L253.2 18.0L254.1 18.6L254.1 18.4L253.7 18.1L252.9 17.6ZM255.5 16.0L256.1 16.4L257.5 17.4L257.5 17.2L256.8 16.7L255.6 15.9ZM240.2 1.7L240.6 1.8L241.4 1.6L241.4 1.2L240.9 1.0L240.2 1.1ZM241.5 1.2L241.6 1.3L242.0 1.2L241.9 0.9L241.8 0.9L241.5 0.9ZM219.2 70.9L219.2 71.2L219.6 70.8L220.0 69.4L220.0 68.9L219.8 69.2ZM219.8 71.3L220.1 71.4L220.9 71.3L220.8 70.9L220.4 70.7L219.8 70.8ZM220.9 70.4L221.0 70.7L221.5 70.3L221.7 69.0L221.5 68.5L221.1 68.8ZM218.7 67.3L219.1 67.5L220.0 67.9L220.0 67.6L219.6 67.3L218.9 67.0ZM216.6 76.2L216.8 76.3L217.3 76.2L217.3 76.0L217.0 75.9L216.6 76.0ZM215.3 77.2L215.5 77.2L216.0 77.3L216.0 77.1L215.8 77.0L215.3 76.9ZM213.5 78.4L213.7 78.5L214.2 78.7L214.3 78.5L214.0 78.3L213.6 78.2ZM220.2 65.2L220.3 65.4L220.6 65.2L220.6 64.7L220.4 64.6L220.2 64.7ZM216.7 54.9L216.8 54.9L216.9 54.9L216.9 54.7L216.8 54.6L216.7 54.7ZM216.6 56.5L216.7 56.6L217.0 56.5L217.0 56.4L216.9 56.3L216.6 56.4ZM216.9 57.1L216.9 57.1L217.1 57.1L217.1 56.9L217.0 56.9L216.9 56.9ZM222.4 71.2L222.5 71.3L222.7 71.2L222.6 70.7L222.6 70.5L222.4 70.7ZM223.0 71.2L223.1 71.3L223.3 71.2L223.3 70.9L223.2 70.9L223.0 70.9ZM217.7 67.3L217.8 67.4L218.1 67.3L218.1 67.0L217.9 66.9L217.7 67.0ZM217.0 67.1L217.1 67.2L217.2 67.1L217.2 66.7L217.1 66.6L217.0 66.7ZM216.6 65.7L216.8 65.7L217.2 65.7L217.1 65.5L216.9 65.4L216.6 65.5ZM213.9 67.8L214.0 67.9L214.4 68.0L214.5 67.7L214.4 67.6L214.1 67.5ZM213.6 68.1L213.7 68.1L213.9 68.1L213.9 67.9L213.8 67.8L213.6 67.9ZM209.2 74.2L209.3 74.2L209.5 74.1L209.5 73.9L209.4 73.8L209.2 73.9ZM221.0 72.2L221.1 72.2L221.3 72.2L221.3 72.0L221.2 72.0L221.0 72.0ZM219.3 72.2L219.4 72.2L219.6 72.2L219.5 72.0L219.4 72.0L219.3 72.0ZM215.3 69.9L215.3 69.9L215.4 69.9L215.4 69.7L215.4 69.6L215.3 69.7ZM213.8 61.1L213.8 61.1L213.9 61.1L213.9 61.0L213.8 61.0L213.8 61.0ZM223.9 80.1L224.0 80.2L224.2 80.1L224.2 79.9L224.1 79.8L223.9 79.8ZM222.2 77.9L222.2 78.0L222.3 77.9L222.3 77.8L222.3 77.8L222.2 77.8ZM215.4 57.1L215.4 57.2L215.5 57.1L215.5 57.0L215.5 57.0L215.4 57.0ZM195.1 91.1L195.4 91.2L196.0 91.0L196.0 90.6L195.7 90.4L195.1 90.5ZM195.7 80.5L195.8 80.6L196.1 80.5L196.0 80.1L195.9 79.9L195.7 80.0ZM192.7 81.6L192.8 81.7L193.0 81.6L193.0 81.4L192.9 81.4L192.7 81.4ZM191.9 81.9L192.0 82.0L192.2 81.9L192.1 81.8L192.1 81.7L191.9 81.8ZM189.7 85.0L189.9 85.1L190.4 85.0L190.3 84.7L190.1 84.6L189.7 84.7ZM190.1 86.8L190.3 86.9L190.6 86.8L190.6 86.5L190.4 86.4L190.1 86.5ZM189.7 86.1L189.8 86.2L190.1 86.1L190.0 85.9L189.9 85.9L189.7 85.9ZM188.6 85.1L188.7 85.2L188.9 85.1L188.9 84.9L188.8 84.9L188.6 84.9ZM186.8 84.1L186.9 84.2L187.4 84.4L187.5 84.3L187.3 84.1L186.9 83.9ZM186.6 84.8L186.8 84.9L187.1 85.1L187.2 84.9L187.0 84.7L186.7 84.6ZM179.7 85.2L179.9 85.3L180.1 84.8L179.5 84.2L179.2 84.1L179.1 84.5ZM181.9 88.9L182.2 89.0L182.2 88.6L181.7 88.0L181.4 87.8L181.3 88.2ZM177.5 82.7L177.7 82.7L177.7 82.4L177.2 82.0L177.0 81.9L177.0 82.2ZM183.7 91.0L183.8 91.0L183.9 90.7L183.6 90.4L183.4 90.3L183.3 90.5ZM184.0 91.2L184.2 91.2L184.2 91.0L184.0 90.8L183.9 90.7L183.8 90.9ZM182.8 89.8L182.9 89.8L183.0 89.6L182.8 89.4L182.7 89.4L182.6 89.5ZM180.8 87.1L181.0 87.1L181.1 86.9L180.9 86.5L180.8 86.5L180.6 86.7ZM186.6 94.8L186.7 94.8L187.0 94.7L186.9 94.6L186.8 94.6L186.6 94.6ZM176.0 77.3L176.1 77.4L176.3 77.3L176.2 77.2L176.2 77.2L176.0 77.2ZM183.7 78.2L183.7 78.2L183.9 78.2L183.9 77.9L183.8 77.9L183.7 77.9ZM182.8 76.6L182.9 76.6L183.2 76.6L183.2 76.4L183.1 76.4L182.8 76.4ZM180.7 74.3L180.7 74.4L181.0 74.2L180.9 73.8L180.8 73.7L180.7 73.8ZM180.6 68.0L180.7 68.1L180.8 68.0L180.8 67.5L180.8 67.4L180.6 67.5ZM180.3 69.5L180.4 69.6L180.5 69.5L180.5 69.1L180.4 69.0L180.3 69.1ZM180.3 67.0L180.4 67.1L180.5 67.0L180.5 66.7L180.4 66.6L180.3 66.7ZM180.0 71.0L180.1 71.0L180.2 70.9L180.2 70.8L180.1 70.7L180.0 70.7ZM173.2 57.2L173.3 57.4L173.6 57.4L173.8 57.1L173.7 56.9L173.4 56.9ZM173.8 56.6L173.9 56.6L174.0 56.5L174.0 56.2L173.9 56.2L173.8 56.2ZM189.3 70.7L189.4 70.9L189.6 70.7L189.5 70.2L189.5 70.1L189.3 70.2ZM193.3 72.9L193.4 72.9L193.5 72.9L193.5 72.8L193.4 72.8L193.3 72.8ZM197.2 81.9L197.2 81.9L197.3 81.9L197.3 81.8L197.3 81.8L197.2 81.8ZM202.7 97.4L203.4 97.5L205.0 97.4L204.8 97.1L204.0 97.0L202.7 97.1ZM206.8 97.1L207.0 97.1L207.2 97.1L207.2 96.9L207.1 96.9L206.8 96.9ZM202.6 95.4L202.7 95.4L202.9 95.4L202.9 95.2L202.8 95.2L202.6 95.2ZM207.9 92.2L208.0 92.3L208.2 92.1L208.2 91.6L208.1 91.5L207.9 91.6ZM210.2 81.1L210.3 81.2L210.5 81.1L210.5 80.9L210.3 80.8L210.2 80.9ZM210.3 80.2L210.4 80.2L210.7 80.2L210.6 80.1L210.5 80.0L210.3 80.1ZM196.7 88.9L196.8 88.9L197.0 88.9L197.0 88.7L196.9 88.7L196.7 88.7ZM191.3 102.5L191.3 102.6L191.4 102.5L191.4 102.4L191.4 102.4L191.3 102.4ZM199.2 95.4L199.2 95.4L199.3 95.4L199.3 95.3L199.2 95.3L199.2 95.3ZM218.3 94.7L218.5 95.0L218.8 94.6L218.6 93.5L218.3 93.1L218.0 93.5ZM217.5 94.5L217.7 94.7L217.9 94.4L217.8 93.7L217.6 93.4L217.4 93.7ZM216.8 94.7L216.9 94.7L217.3 94.6L217.2 94.4L217.1 94.3L216.8 94.4ZM214.6 96.1L214.6 96.3L214.8 96.1L214.8 95.4L214.7 95.2L214.6 95.4ZM216.7 97.7L216.8 97.7L216.9 97.7L216.9 97.6L216.8 97.5L216.7 97.6ZM219.2 95.1L219.3 95.1L219.6 95.1L219.6 94.9L219.5 94.9L219.2 94.9ZM218.3 88.5L218.6 88.6L219.5 88.6L219.4 88.3L219.0 88.2L218.3 88.2ZM220.0 89.1L220.4 89.2L221.2 89.1L221.2 88.9L220.8 88.9L220.0 88.9ZM222.4 89.3L222.7 89.3L223.5 89.3L223.4 89.1L223.0 89.0L222.4 89.1ZM222.9 90.1L223.0 90.2L223.1 90.1L223.1 89.8L223.0 89.7L222.9 89.8ZM225.0 88.9L225.4 88.9L226.2 88.8L226.2 88.6L225.7 88.5L225.0 88.6ZM226.5 83.0L226.6 83.2L227.0 83.0L227.0 82.5L226.8 82.4L226.5 82.5ZM225.1 87.6L225.3 87.7L225.6 87.6L225.6 87.1L225.4 86.9L225.1 87.1ZM225.1 85.3L225.1 85.3L225.2 85.3L225.2 85.1L225.2 85.0L225.1 85.1ZM225.2 86.0L225.2 86.0L225.3 86.0L225.3 85.8L225.2 85.7L225.2 85.8ZM224.2 80.6L224.3 80.7L224.4 80.5L224.3 79.9L224.2 79.8L224.1 79.9ZM222.2 81.3L222.3 81.3L222.4 81.2L222.4 80.9L222.3 80.8L222.2 80.9ZM222.1 82.4L222.1 82.4L222.2 82.3L222.2 82.1L222.2 82.0L222.1 82.1ZM229.7 86.7L230.1 86.7L231.2 86.7L231.1 86.4L230.6 86.4L229.7 86.4ZM228.8 89.3L229.1 89.3L229.9 89.3L229.8 89.1L229.5 89.0L228.8 89.1ZM230.0 88.1L230.1 88.2L230.2 88.0L230.2 87.6L230.1 87.4L230.0 87.5ZM228.9 87.0L229.0 87.1L229.2 87.0L229.1 86.7L229.1 86.6L228.9 86.7ZM238.0 87.8L238.2 87.9L239.0 88.1L239.0 87.8L238.7 87.6L238.1 87.5ZM237.1 89.1L237.8 89.1L239.3 89.1L239.2 89.0L238.4 88.9L237.1 88.9ZM236.5 88.0L236.6 88.0L236.9 87.9L236.9 87.8L236.7 87.8L236.5 87.8ZM235.6 96.5L235.9 96.8L236.5 96.4L236.5 95.1L236.2 94.7L235.6 95.0ZM233.7 95.6L233.8 95.8L234.0 95.5L233.7 94.7L233.6 94.5L233.4 94.8ZM233.2 95.1L233.3 95.2L233.4 95.1L233.4 94.8L233.3 94.8L233.2 94.8ZM231.4 98.6L231.6 98.8L231.9 98.4L231.6 97.6L231.4 97.4L231.1 97.7ZM228.6 98.7L228.7 98.7L229.0 98.7L229.0 98.6L228.9 98.5L228.6 98.5ZM227.0 97.4L227.1 97.5L227.2 97.4L227.2 97.3L227.2 97.3L227.0 97.3ZM225.8 99.0L225.9 99.0L226.2 99.0L226.2 98.9L226.0 98.8L225.8 98.9ZM222.9 98.4L223.4 98.4L224.5 98.4L224.4 98.1L223.8 98.0L222.9 98.1ZM222.5 99.0L222.6 99.0L222.8 99.0L222.8 98.9L222.7 98.8L222.5 98.9ZM220.4 99.2L220.7 99.3L221.5 99.3L221.4 99.2L221.1 99.0L220.4 99.0ZM219.8 99.2L220.0 99.3L220.4 99.2L220.3 99.1L220.2 99.0L219.8 99.1ZM219.0 99.3L219.1 99.4L219.6 99.3L219.5 99.1L219.3 99.1L219.0 99.1ZM218.5 103.2L218.7 103.1L219.2 102.8L219.1 102.6L218.8 102.7L218.4 102.9ZM216.5 102.7L216.7 102.8L216.9 102.7L216.9 102.6L216.8 102.5L216.5 102.6ZM213.0 99.7L213.1 99.8L213.4 99.7L213.4 99.5L213.3 99.5L213.0 99.5ZM210.8 99.1L210.9 99.2L211.2 99.1L211.2 98.9L211.0 98.9L210.8 98.9ZM228.1 91.2L228.3 91.2L228.8 91.2L228.8 91.1L228.5 91.0L228.1 91.1ZM226.2 92.1L226.3 92.1L226.7 92.1L226.7 91.9L226.5 91.8L226.2 91.9ZM225.4 91.5L225.4 91.5L225.5 91.5L225.5 91.4L225.5 91.3L225.4 91.3ZM229.0 93.4L229.0 93.4L229.1 93.4L229.1 93.3L229.1 93.3L229.0 93.3ZM229.1 89.5L229.2 89.5L229.3 89.5L229.3 89.4L229.2 89.3L229.1 89.4ZM241.5 99.3L241.9 99.2L242.6 98.6L242.3 98.1L241.8 98.2L241.1 98.8ZM237.4 91.6L237.4 91.7L237.5 91.6L237.5 91.5L237.5 91.5L237.4 91.5ZM254.6 89.7L254.9 89.7L255.8 89.7L255.7 89.5L255.3 89.4L254.6 89.5ZM259.1 88.6L259.1 88.7L259.3 88.6L259.3 88.5L259.2 88.4L259.1 88.5ZM260.1 90.4L260.3 90.4L260.7 90.4L260.7 90.2L260.4 90.1L260.1 90.2ZM262.8 90.9L262.8 90.9L262.9 90.9L262.9 90.8L262.9 90.7L262.8 90.8ZM255.3 94.6L255.4 94.7L255.7 94.6L255.7 94.4L255.5 94.4L255.3 94.4ZM256.4 95.1L256.5 95.1L256.8 95.1L256.7 94.9L256.6 94.8L256.4 94.9ZM253.5 93.6L253.6 93.7L253.8 93.6L253.8 93.4L253.7 93.4L253.5 93.4ZM266.9 96.2L266.8 96.6L267.5 96.6L268.5 95.4L268.6 94.9L268.0 94.8ZM266.7 94.5L266.8 94.6L267.0 94.5L267.0 94.2L266.9 94.1L266.7 94.2ZM260.5 101.2L260.8 101.1L261.3 100.7L261.1 100.6L260.8 100.7L260.4 101.0ZM261.1 101.9L261.3 101.9L261.7 101.7L261.6 101.5L261.4 101.5L261.0 101.7ZM261.3 99.7L261.4 99.7L261.6 99.6L261.6 99.5L261.5 99.4L261.3 99.4ZM263.8 100.5L263.9 100.5L264.2 100.5L264.2 100.3L264.0 100.3L263.8 100.3ZM264.7 104.2L264.9 104.2L265.6 104.2L265.5 104.0L265.2 104.0L264.7 104.0ZM266.0 103.9L266.1 104.0L266.3 103.9L266.3 103.8L266.2 103.8L266.0 103.8ZM263.9 102.9L264.0 102.9L264.2 102.8L264.2 102.8L264.1 102.7L263.9 102.7ZM249.9 91.6L250.0 91.6L250.1 91.6L250.0 91.5L250.0 91.5L249.9 91.5ZM268.1 97.1L268.2 97.2L268.5 97.3L268.6 97.2L268.5 97.0L268.2 96.9ZM230.0 104.5L230.4 104.7L231.3 104.5L231.3 104.0L230.8 103.9L230.0 104.0ZM229.1 104.4L229.3 104.5L229.9 104.4L229.8 104.0L229.6 103.9L229.1 104.0ZM239.0 108.3L239.2 108.4L239.7 108.3L239.7 107.7L239.4 107.5L239.0 107.7ZM243.2 112.1L243.4 112.1L244.0 112.0L243.9 111.8L243.6 111.7L243.2 111.8ZM264.6 125.9L264.7 126.1L264.9 125.7L264.6 124.8L264.4 124.6L264.3 124.8ZM239.6 104.3L239.7 104.3L239.7 104.1L239.5 103.7L239.3 103.6L239.3 103.8ZM203.3 126.7L203.3 126.9L203.4 126.7L203.4 126.1L203.4 125.9L203.3 126.1ZM265.0 129.1L265.0 129.2L265.1 129.1L265.1 128.7L265.1 128.6L265.0 128.6ZM253.9 115.3L254.0 115.4L254.2 115.3L254.1 115.2L254.1 115.1L253.9 115.2ZM247.7 102.7L247.8 102.8L248.0 102.7L248.0 102.6L247.9 102.5L247.7 102.6ZM232.9 103.5L233.0 103.5L233.3 103.5L233.3 103.4L233.1 103.3L232.9 103.4ZM206.7 118.5L206.8 118.5L207.0 118.5L207.0 118.4L206.9 118.3L206.7 118.4ZM239.5 110.7L239.7 110.7L240.0 110.7L240.0 110.5L239.8 110.5L239.5 110.5ZM261.7 122.8L261.7 122.8L261.9 122.8L261.8 122.6L261.8 122.5L261.7 122.6ZM260.1 120.9L260.2 120.9L260.4 120.9L260.3 120.8L260.3 120.7L260.1 120.7ZM258.2 117.8L258.2 117.8L258.3 117.8L258.3 117.7L258.3 117.6L258.2 117.7ZM219.2 111.7L219.3 111.7L219.4 111.7L219.4 111.5L219.4 111.5L219.2 111.5ZM221.0 109.9L221.0 109.9L221.2 109.9L221.2 109.8L221.1 109.7L221.0 109.8ZM46.9 1.7L47.1 1.7L47.6 1.7L47.6 1.4L47.3 1.4L46.9 1.4ZM48.9 1.5L49.0 1.5L49.3 1.5L49.3 1.3L49.1 1.2L48.9 1.3ZM52.9 1.1L53.1 1.2L53.5 1.1L53.5 0.9L53.3 0.9L52.9 0.9ZM50.5 2.2L50.8 2.3L51.3 2.2L51.3 1.8L51.0 1.7L50.5 1.8ZM51.5 2.9L51.7 2.9L52.1 2.9L52.1 2.7L51.9 2.7L51.5 2.7ZM46.3 1.6L46.4 1.7L46.6 1.6L46.6 1.2L46.5 1.1L46.3 1.2ZM43.2 1.8L43.2 1.9L43.4 1.8L43.4 1.5L43.3 1.4L43.2 1.5ZM20.7 0.2L20.9 0.3L21.2 0.2L21.2 -0.1L21.0 -0.2L20.7 -0.1ZM22.2 0.5L22.3 0.5L22.6 0.4L22.6 0.2L22.4 0.1L22.2 0.1ZM23.4 2.7L23.5 2.7L23.7 2.6L23.7 2.3L23.6 2.2L23.4 2.3ZM28.2 8.0L28.3 8.1L28.7 8.0L28.7 7.9L28.5 7.8L28.2 7.9ZM23.4 4.0L23.6 4.1L24.0 4.0L23.9 3.8L23.8 3.7L23.4 3.8ZM20.9 -0.8L21.1 -0.8L21.6 -0.9L21.6 -1.1L21.3 -1.2L20.9 -1.2ZM27.0 10.3L27.1 10.3L27.3 10.3L27.3 10.2L27.2 10.1L27.0 10.1ZM26.4 9.9L26.5 9.9L26.6 9.9L26.6 9.8L26.5 9.7L26.4 9.8ZM37.7 4.0L37.9 4.0L38.5 3.8L38.4 3.8L38.1 3.8L37.7 3.9ZM39.1 3.6L39.4 3.7L40.1 3.6L40.0 3.6L39.7 3.5L39.1 3.6ZM28.4 15.4L28.5 15.4L28.6 15.4L28.6 15.1L28.5 15.0L28.4 15.1ZM25.5 13.2L25.5 13.2L25.8 13.1L25.7 13.1L25.6 13.0L25.5 13.0ZM49.6 -0.3L49.7 -0.3L49.8 -0.3L49.8 -0.4L49.7 -0.5L49.6 -0.4ZM47.9 -1.3L47.9 -1.3L48.2 -1.3L48.1 -1.5L48.0 -1.5L47.9 -1.5ZM46.6 0.0L46.6 0.1L46.7 0.0L46.7 -0.2L46.6 -0.2L46.6 -0.2Z" fill="#fff" stroke="#111" stroke-width="0.6" stroke-linejoin="round"/>
<path d="M74.8 22.6L73.4 22.0L73.1 20.9L72.5 20.4L73.1 19.5L74.2 18.9L74.3 17.8L74.8 17.0L75.8 16.4L76.6 15.3L77.5 14.4L78.6 14.2L79.4 14.4L80.1 15.0L81.8 15.0L80.1 16.1L81.5 17.3L82.3 17.6L84.4 16.7L86.2 16.2L84.4 16.1L83.8 15.0L84.4 14.5L86.7 14.1L88.1 13.6L89.4 13.3L90.5 13.5L89.3 14.1L88.2 14.2L88.8 15.0L88.2 15.8L87.0 16.2L86.7 16.6L87.6 17.2L88.8 17.6L90.4 18.4L91.3 19.2L93.1 20.0L94.0 20.7L94.0 22.0L93.1 22.4L91.6 22.9L90.1 22.7L88.5 23.0L87.0 22.6L85.9 22.4L84.7 21.8L83.9 21.3L82.4 21.4L80.9 21.3L79.4 21.8L78.3 22.6L76.8 22.6ZM71.7 132.1L72.5 133.2L73.5 133.7L74.9 132.6L75.4 131.6L74.3 130.7L72.9 131.0Z" fill="#69c5e3" stroke="#333" stroke-width="0.3" stroke-linejoin="round"/>
</g>
<g id="lines">
<path d="M27.1 32.0L27.8 33.0L28.6 36.0L25.8 37.1L24.8 38.5L22.0 40.2L19.0 40.8L17.1 41.9L17.1 43.5M10.2 43.5L17.1 43.5L17.1 46.1L12.1 46.1L12.1 50.0L10.6 50.7L10.6 53.4L4.4 53.4M17.1 44.1L23.1 47.6L20.5 47.6L22.0 60.8L21.9 62.3L16.2 62.3L13.8 63.0L12.8 62.2L11.8 63.4M11.8 63.4L10.6 62.3L9.3 61.4L8.3 60.6L6.7 60.8L5.5 61.4L5.2 61.6M11.8 63.4L12.4 65.6L13.0 67.1M13.0 67.1L11.3 67.1L9.5 66.8L7.5 66.7L4.9 67.2M9.5 66.8L9.5 68.2L8.0 68.5L7.5 69.4M4.9 65.3L7.3 65.0L9.3 65.4L9.3 65.9L7.2 65.7L4.9 66.1M10.1 72.4L11.3 71.0L13.3 70.9L14.2 72.2L14.7 73.2L14.2 73.9L12.8 75.6M14.7 73.2L15.9 73.3L16.2 74.9L17.4 74.6L17.7 76.3L19.0 77.3L18.9 79.5M13.0 67.1L14.4 67.8L16.2 67.1L17.0 68.5L17.7 69.3L18.2 70.5L18.7 72.4L17.9 73.5L17.4 74.6M18.2 70.5L20.5 70.1L22.0 70.2L23.5 71.3L26.3 71.6L26.1 73.9L25.5 76.3L26.1 78.4M22.0 70.2L22.3 68.1L23.7 66.7L25.1 65.7L26.1 64.7L27.7 63.9L29.4 63.1L30.7 63.2L32.0 62.7L35.8 62.5L36.8 60.8L36.8 56.8L35.3 55.7L33.2 54.9L32.3 53.7L23.1 47.6M36.8 56.8L39.3 56.2L41.9 54.0L48.8 50.0L48.0 48.7L46.0 48.3L45.6 46.1L45.4 43.8L45.6 41.5L45.0 39.6L44.3 36.7L43.1 36.0L42.0 34.8L43.0 32.6L43.1 30.6L43.6 29.2M45.0 39.6L46.2 37.3L48.0 35.9L48.0 35.0M48.8 50.0L52.1 51.4L53.4 50.7L67.1 56.2L67.1 55.4L68.7 55.4L68.7 52.3L68.7 41.2L68.2 39.6L69.0 37.4M68.7 52.3L86.8 52.3M53.4 50.7L54.7 53.8L54.1 55.4L54.3 60.3L51.2 63.9L51.1 65.1L49.5 66.1L46.5 65.7L44.2 66.5L41.9 66.1L40.1 65.3L37.8 65.1L36.5 65.7L35.9 68.2L34.7 67.3L34.1 67.8L33.2 66.7L31.8 65.6L30.9 64.5L30.7 63.2M26.3 71.6L26.1 69.3L30.3 69.2L31.8 69.3L32.6 68.7L34.1 67.8M30.3 69.2L31.0 70.4L31.0 72.4L31.3 74.7L31.5 76.6L32.3 76.9M31.8 69.3L32.6 71.6L32.9 75.5L32.9 76.7M35.9 68.2L35.9 70.9L34.7 72.4L34.6 74.7L34.6 76.4M51.1 65.1L52.0 66.1L52.1 67.1L52.8 68.5L51.5 69.3L50.6 70.9L49.5 73.0L48.5 75.3L47.7 76.3L46.5 75.5L45.4 75.8L44.2 77.2L43.6 78.9M52.0 66.1L53.2 67.0L53.5 68.5L54.1 70.9L51.8 71.0L53.7 73.2L54.1 74.7L56.4 74.4L58.9 73.8L59.6 72.4L61.6 72.2L63.6 69.9L65.4 69.5L64.8 67.0L64.1 66.2L64.8 64.4L65.6 62.0L67.1 62.0L67.1 56.2M54.1 74.7L52.6 77.0L52.9 79.2L54.6 80.9L55.2 82.9M45.4 82.8L47.7 82.9L50.8 82.9L55.2 82.9L55.8 80.9L58.9 80.9M45.4 84.8L47.7 84.8L47.7 82.9M50.8 82.9L50.6 84.3L52.1 84.3L52.6 85.1L51.7 86.3L52.6 87.1L52.4 89.1L52.0 90.0L50.2 89.7L49.8 90.8L48.2 90.7L48.6 92.0L47.4 92.4M58.9 80.9L58.9 79.7L60.2 78.4L61.9 79.5L64.7 80.0L65.4 78.9L67.7 78.4L69.1 78.3L72.3 78.4L70.8 76.1L69.0 74.7L67.1 72.9L66.4 72.7L66.5 71.0L65.4 69.5M58.9 80.9L58.1 82.6L57.6 85.5L57.5 87.1L55.2 89.7L55.2 91.7L54.1 92.5L52.8 93.9L50.9 93.7L50.0 93.1L49.1 95.3M48.8 94.1L49.7 93.9M49.2 95.8L50.6 95.4L55.8 95.4L56.4 97.6L60.1 98.7L61.0 97.2L63.8 97.6L63.9 101.0L64.5 103.6L67.1 103.2L67.1 106.4L64.1 106.4L64.1 111.4L66.2 113.5M48.5 113.1L51.1 112.6L52.1 113.2L58.6 113.2L62.5 114.2L66.2 113.5L69.1 113.9M62.5 114.6L66.2 114.2L69.1 113.9M62.5 114.6L62.5 120.4L61.0 120.4L61.0 124.7L61.0 130.3L59.5 131.0L57.0 130.7L55.7 130.6M61.0 124.7L62.2 127.8L64.1 127.0L65.6 125.5L68.2 126.2L69.6 125.9L71.6 123.0L73.1 121.9L75.4 120.7L73.2 119.6L72.8 118.0L70.5 116.5L69.1 113.9L71.7 114.0L74.5 111.8L76.9 110.5L78.3 111.1L80.7 112.2L80.7 114.9L80.4 118.0L80.0 119.3L78.3 121.0L75.4 120.7M78.3 121.0L79.4 124.2L79.2 126.4L77.8 126.5L77.5 127.8L78.3 128.6L79.5 127.8L79.2 126.4M79.5 127.8L80.7 127.9M67.1 103.2L69.1 104.3L71.6 104.7L72.5 105.4L74.8 107.1L76.0 107.1L76.0 105.1L74.8 105.5L73.9 104.6L74.2 102.1L74.3 100.6L74.6 99.5L77.4 99.0L80.7 100.9M80.7 100.9L82.4 101.0L83.3 104.3L83.8 107.2L85.3 109.4L85.2 111.1L84.4 112.8L82.9 111.1L83.3 108.8L81.2 108.0L80.4 107.4L81.3 103.0L80.7 100.9M81.2 108.0L76.6 109.5L76.9 110.5M83.3 104.3L85.5 104.4L88.5 103.8L92.2 102.6M90.4 93.6L87.9 91.1L82.4 87.9L77.1 87.9M82.4 87.9L82.4 86.0L83.2 84.6L83.9 83.4L83.0 80.6L82.4 79.8L85.3 79.2L86.8 79.5L88.7 80.8L90.8 81.1L93.1 80.3L94.5 80.3L93.1 82.0L93.1 86.3L93.9 89.0M94.5 80.3L95.9 79.7L97.6 78.7L99.2 78.7L103.8 73.9L102.3 73.9L98.6 72.7L97.1 71.8L96.0 69.5L95.3 69.3L94.3 68.8L95.3 67.0L96.3 66.7M95.3 67.0L92.8 64.4L90.1 63.7L88.4 63.4L86.2 64.2L86.8 61.1L87.6 60.0L89.4 58.5M86.2 64.2L85.6 66.7L84.1 68.1L82.9 70.1L82.6 73.0L80.9 73.9L82.0 74.4L83.6 75.8L84.4 78.0L85.3 79.2M67.1 72.9L68.7 70.4L70.9 71.6L73.2 71.9L75.5 70.9L77.8 71.2L80.0 68.2L81.2 67.4L81.0 69.8L82.6 71.6M72.3 78.4L73.9 79.7L75.5 79.2L77.5 80.9L79.4 80.8L81.6 80.5L82.4 79.8M77.5 80.9L78.1 82.9L76.3 85.1L75.8 86.5L75.7 88.5L77.1 87.9L77.5 90.0L77.1 90.0L77.5 91.4L76.8 93.1L75.4 93.2M74.8 90.5L77.1 90.0M75.7 88.5L75.1 89.0L74.8 90.5L75.1 92.4L75.4 93.2L75.7 96.1L77.4 99.0M17.0 21.5L17.9 21.2L20.3 21.5L20.9 22.0L19.9 22.9L19.7 24.9L19.0 25.1L19.7 26.1L19.3 27.1L19.1 28.8M27.7 19.3L29.4 20.0L31.5 20.1L33.0 20.6L35.2 20.7M41.9 18.6L41.1 17.8L41.0 16.6L41.1 15.3L39.8 14.9L39.8 14.2L41.1 13.0L42.0 12.7L42.4 11.1L43.0 10.5L40.2 9.7L39.3 9.7L37.8 9.0L36.8 8.5L35.0 7.7L34.3 7.3M35.6 6.8L37.0 6.8L38.1 6.7L39.3 7.1L39.1 7.7L39.6 7.8L40.1 8.5L39.8 8.8L40.4 9.3L40.2 9.7M39.3 9.7L39.1 8.8L39.8 8.8M39.6 7.8L39.8 6.2L40.8 5.9L41.1 5.1L41.4 3.9M43.6 1.4L45.0 1.5M52.1 2.9L52.4 3.9L52.0 4.5L52.9 5.4L52.9 6.7L53.4 7.4L52.3 7.4L49.2 8.5L49.5 9.1L51.5 10.8L50.0 11.9L50.3 12.8L49.1 12.7L46.5 12.8L45.1 12.8L43.4 12.5L42.0 12.7M45.1 12.8L45.0 13.6L46.3 13.8L46.5 14.2L45.9 14.7L44.6 14.4L44.2 15.3L43.4 14.5L42.7 15.2L41.1 15.3M46.5 14.2L47.6 13.7L49.1 13.6L49.4 14.1L51.4 14.4L51.1 15.2L51.4 15.8M51.4 14.4L52.8 14.5L54.9 14.1L55.0 13.8L55.7 12.8L56.6 12.1L56.3 11.0L53.4 10.5L51.5 10.8M53.4 7.4L54.9 8.0L56.3 8.4L57.5 8.5L59.2 9.7L57.8 10.5L56.3 11.0M59.2 9.7L61.0 10.2L62.5 9.9L65.0 10.4L64.2 11.4L63.3 11.3L61.0 11.8L59.2 12.4L56.6 12.1M65.0 10.4L65.1 9.6L67.1 8.0L66.5 6.7L66.7 5.6L65.9 5.4L67.0 4.8L66.4 2.9L65.3 2.2L60.7 2.1M65.3 2.2L65.1 1.4L64.1 1.1L63.0 0.9M66.4 2.9L67.7 2.9L69.9 2.5L69.6 1.4L71.1 0.8L71.1 0.2L68.5 -0.9L64.1 -0.9L62.6 -0.5M71.1 0.2L73.5 -0.5L77.7 0.3L77.8 1.7L79.5 3.1L80.4 3.7L78.4 4.0L79.0 5.7L77.7 5.7L77.1 7.0L75.1 6.8L72.5 6.5L68.7 6.0L66.5 6.7M73.5 -0.5L72.8 -1.9M79.0 5.7L82.1 5.3L84.7 7.4L87.8 8.4L88.5 9.1L91.6 9.6L91.3 11.1L91.3 12.4L88.8 13.5M55.0 13.8L55.7 14.4L56.7 15.2L59.3 15.3L61.5 14.9L62.8 14.5L64.1 12.7L65.4 12.1L64.2 11.4M65.4 12.1L68.5 12.5L71.1 11.6L72.9 11.3L74.9 12.2L76.3 14.5L74.6 14.5L73.5 15.9L73.4 13.9L71.1 11.6M73.5 15.9L75.8 16.2M61.5 14.9L63.1 16.4L63.1 17.0L64.8 17.3L65.1 17.9L65.4 18.6L69.4 18.8L71.7 18.1L74.2 18.6M65.1 17.9L64.7 19.0L65.6 19.6L64.7 20.9L65.6 22.4L67.9 22.1L70.3 22.3L70.8 21.8L72.2 21.2L73.2 21.3M70.8 21.8L71.1 22.4L70.2 23.2M65.6 22.4L63.8 23.1L62.4 23.1L62.1 24.3L61.0 24.9M62.4 23.1L61.8 22.1L61.9 21.3L61.2 20.4L60.1 21.5M61.9 21.3L63.5 21.0L64.7 20.9M61.2 20.4L61.9 19.5L63.8 20.3L63.5 21.0M61.2 20.4L61.5 19.8L59.9 19.0L58.7 20.6M59.9 19.0L60.2 17.9L59.6 16.9L56.4 16.4L54.6 16.4L54.6 17.2L55.7 18.3L57.3 19.8L58.7 20.6M59.6 16.9L59.5 15.9L59.3 15.3M51.2 15.9L53.8 15.9L54.4 14.9L55.7 14.4M94.0 22.1L95.9 22.1L96.9 22.7L97.2 24.3L98.9 24.9L98.3 25.4L98.0 26.9L98.9 28.8L95.3 28.9L91.6 29.4L88.5 29.4L86.5 29.4L86.4 30.3L85.8 30.8L85.3 30.8M95.3 28.9L93.6 29.9L93.4 32.5L89.8 34.7L86.7 36.4L85.2 35.7M84.1 35.1L85.2 34.8L86.4 33.4L86.1 32.8L85.4 32.7M84.9 35.7L84.7 37.6L83.9 40.6M82.8 37.9L83.8 40.7M83.9 40.8L85.6 41.2L87.8 39.9L88.5 39.1L87.0 37.6L90.1 36.8L90.4 36.6L89.8 34.7M90.4 36.6L92.2 37.0L94.6 38.2L98.8 41.2L101.5 41.3L102.9 39.9L103.7 39.9M101.5 41.3L103.1 41.5L103.4 42.2L104.4 42.2M98.9 28.8L99.8 30.6L101.1 31.9L100.0 33.0L100.3 34.3L101.1 35.3L102.9 36.2L103.5 37.1L103.4 38.4L103.8 39.1L104.7 40.0M95.9 61.0L96.5 59.4L98.5 59.4L101.5 59.7L103.1 60.0L105.3 57.5L109.9 56.9L114.5 55.4L115.6 52.3L114.8 51.2L110.9 50.9L109.3 48.9M115.6 52.3L115.7 49.2L116.2 48.1L116.7 47.7M109.9 56.9L111.6 60.6M108.1 48.0L108.9 48.3M98.9 24.9L100.8 26.1L101.5 26.1L103.8 24.9L104.4 25.4L105.2 26.8M105.2 26.8L105.7 25.5L106.0 24.1L107.5 23.8L106.1 23.4L105.3 22.4L104.7 21.6L103.5 20.1L103.1 19.0L102.9 17.3L101.8 17.3L102.6 15.9L104.6 15.2L105.7 14.5L107.6 13.9L109.2 13.6L111.5 13.8L111.8 14.5L110.7 15.9L108.9 16.4L108.4 17.5L107.3 17.6L108.9 19.5L110.7 20.1L110.7 21.8L111.5 21.7L113.3 21.0L113.9 22.4L111.5 23.2L111.3 24.4L112.4 25.7L112.8 26.1L112.7 28.6L113.0 29.1L111.5 29.3L109.9 29.7L108.4 29.5L107.2 28.5L106.0 28.3L105.2 26.8M91.6 19.2L93.9 19.5L95.4 19.5L97.4 20.3L99.1 20.3L100.3 20.6L101.4 21.5L102.7 22.4L103.7 22.6L104.7 21.6M101.4 21.5L101.7 22.7L99.2 22.4L96.9 22.7M99.2 22.4L100.1 23.2L100.8 24.1L101.5 25.2L101.5 26.1M104.6 14.2L102.3 12.1L101.5 11.4L102.3 10.2L102.0 9.1L104.4 9.3L105.0 8.0L108.1 6.3L110.7 6.7L113.8 7.4L115.6 8.0L118.8 7.3L120.0 7.4L122.0 7.7L124.3 7.7L124.6 7.0L122.3 6.0L123.7 5.4L123.8 4.3L124.0 2.9L126.8 2.5L129.8 2.2L134.7 1.2L138.7 0.8L139.3 2.6L142.0 2.9L143.6 3.4L147.4 2.5L147.9 2.9L149.5 3.9L152.7 7.7L155.8 7.7L157.9 7.4L160.4 9.0L163.9 10.2M163.9 10.2L161.5 11.6L161.2 13.5L157.3 13.3L156.3 15.9L152.7 16.9L154.0 19.5L153.1 21.0L151.5 20.3L146.3 20.0L142.8 19.8L142.7 20.6L140.2 20.1L139.0 20.6L138.8 21.0L135.9 22.6L134.4 22.9L132.4 22.6L131.3 20.0L125.2 19.0L120.0 15.9L116.1 16.7L116.1 22.4L114.2 21.5L111.5 21.2M116.1 22.4L117.6 22.4L120.0 20.3L122.2 21.0L122.5 22.4L125.1 22.7L126.0 24.4L129.0 26.1L132.1 28.5M112.8 28.5L115.3 27.5L117.9 27.1L119.9 28.2L121.2 28.4L124.0 29.7L124.0 31.2L125.7 31.9L127.1 30.9L129.0 30.2L130.7 28.5L132.1 28.5L134.1 28.8L136.4 28.9L137.8 28.2L138.7 26.9L139.6 27.5L139.9 29.5L142.5 28.5L144.9 28.8L144.9 26.8L143.3 26.6L143.1 25.4L140.2 25.4L138.2 24.4L136.4 24.8M134.1 28.8L134.9 27.2L134.1 25.1L136.4 23.2L138.2 23.8L138.2 24.1L140.2 24.3L142.0 23.2L140.5 22.6L137.9 22.9L139.4 22.1L138.8 21.0M143.1 25.4L145.1 23.8L147.9 23.0L150.1 22.4L153.1 21.0M124.0 31.2L123.1 33.3L122.9 35.3L123.5 37.6L124.9 37.9L123.5 40.1L126.0 40.8L128.3 40.7L131.8 40.2L132.0 38.5L133.6 37.9L135.6 37.4L136.4 36.8L136.7 35.3L137.5 33.7L139.1 33.6L139.9 31.6L139.9 30.0L142.8 29.2L144.9 28.8M123.5 40.1L124.9 42.1L126.4 42.7L126.4 44.2L127.2 45.0L124.9 45.8L124.6 47.3M134.7 49.7L135.6 48.7L139.0 48.6L138.5 46.7L137.8 45.3L136.7 44.6L138.1 43.0L140.4 43.2L142.0 41.2L143.4 39.6L144.5 38.2L144.3 36.8L145.6 36.4L144.2 35.6L143.6 35.0L144.0 33.7L143.6 32.6L146.6 32.6L148.2 32.2L149.4 31.4M144.9 28.8L146.3 29.5L147.9 31.1L149.4 31.4L151.1 33.3L150.8 34.3L152.0 35.9L150.9 36.2L150.3 36.0L150.8 37.6L151.5 38.2L154.3 39.6M154.3 39.6L156.0 39.4L158.1 41.2L159.2 41.6L160.7 42.1L161.9 43.2L163.5 43.2L165.1 43.2L166.2 43.0L166.4 44.1L167.6 42.7L169.6 43.2L170.5 43.3M154.3 39.6L153.1 40.2L152.8 41.8L154.7 42.8L156.9 43.5L157.8 44.0L159.9 44.2L161.6 45.2L163.9 45.5L165.1 45.5L165.1 43.2M170.5 43.3L171.2 44.7L168.5 44.9L166.5 44.9L166.4 44.1M165.6 45.3L166.5 45.8L167.7 46.1L167.7 47.2L171.7 47.5L171.4 48.7L169.9 49.2L169.9 50.0L170.3 50.7L170.8 50.3L171.6 49.7L172.0 52.4L171.6 53.8L171.6 54.3M166.5 52.8L166.2 51.5L166.0 50.3L165.7 48.7L165.0 48.1L165.6 47.2L165.1 46.3L165.6 45.3M172.0 52.3L172.9 52.0L173.2 49.7L174.5 49.2L175.2 47.0L176.0 45.5L177.5 44.1L178.7 43.5L179.4 42.7M170.5 43.3L171.2 44.7L173.4 44.6L175.7 43.5L177.2 43.2L178.7 43.5M170.5 43.3L172.9 42.2L175.2 41.0L177.2 40.8L179.4 42.7M179.4 42.7L180.7 43.6L181.3 45.3L179.7 48.0L179.7 49.3L181.6 49.0L181.6 50.4L182.6 50.9L182.1 52.1L183.6 53.1L185.1 52.9L185.2 53.5L183.5 54.8L181.8 55.2L180.3 55.8L179.8 57.7L179.4 57.7L181.2 61.0L180.6 62.8L182.1 66.2L182.7 68.1L181.5 70.2L181.4 70.9M185.2 53.5L186.1 53.5L186.5 51.7L187.9 51.5L189.3 51.4L191.4 50.3L193.6 50.9L193.6 52.3L195.6 53.1M186.5 51.7L187.8 52.8L189.3 54.1L190.8 55.1L189.4 56.2L191.3 57.5L193.3 60.0L194.6 61.6L194.9 62.8L194.8 63.6L194.8 67.0L192.5 68.2L192.3 69.5L190.1 70.2M183.5 54.8L184.1 56.0L185.2 56.2L185.2 59.1L186.5 58.3L188.2 57.9L189.7 58.5L190.7 59.6L190.7 61.0L191.7 62.0L191.9 63.9L191.3 64.2L192.5 64.0L194.8 63.6M191.3 64.2L188.2 64.1L187.1 65.3L187.1 67.0L187.8 68.2M183.5 76.3L184.9 77.3L186.1 77.3L186.5 76.7M198.0 83.2L199.4 84.9L201.4 84.8L203.2 84.0L206.0 83.8L207.2 80.9L207.3 79.7L210.2 79.8M204.9 79.2L206.0 79.7L206.7 78.7M246.0 90.3L246.0 100.4M221.6 99.8L221.7 100.9M164.7 10.2L166.2 11.8L168.8 13.0L169.6 16.4L173.4 16.9L176.3 17.9L177.8 20.3L183.3 20.4L186.1 20.6L191.0 22.0L194.8 20.7L198.6 20.3L201.5 18.7L201.4 16.7L204.1 17.0L207.8 15.6L209.9 14.5L213.6 14.1L213.4 13.3L210.8 12.2L210.5 12.5L207.6 12.5L207.0 11.8L208.9 9.3M164.7 10.2L167.4 9.1L171.9 7.7L174.6 8.2L179.2 9.3L180.7 8.0L180.3 6.7L183.2 5.9L186.7 7.0L186.7 8.0L191.0 8.4L194.0 9.0L196.3 10.1L199.8 10.2L202.9 9.7L205.2 8.5L208.9 9.3M208.9 9.3L210.5 9.7L212.7 8.5L212.8 8.0L215.1 5.4L213.9 4.6L215.3 3.9L219.4 3.5L222.5 4.3L225.4 8.5L225.5 9.3L228.4 9.9L230.3 10.7L230.6 12.5L233.2 12.5L236.1 11.4L236.4 11.6L235.5 13.1L233.9 16.6L232.1 16.2L230.9 16.9L231.2 19.0L230.1 20.7M230.1 20.7L229.0 19.9L228.0 21.0L226.1 21.3L226.6 22.1L224.5 21.7L223.1 23.1L220.6 24.4M223.2 27.9L224.6 27.1L226.7 26.6" fill="none" stroke="#333" stroke-width="0.36" stroke-linejoin="round"/>
<path d="M230.0 39.1L228.4 41.8L226.1 44.9L225.7 45.8M224.9 46.1L222.0 48.0L220.0 48.6L218.5 48.6M172.5 65.3L172.2 67.4L172.0 68.5M171.9 69.6L171.9 70.1M172.3 72.1L173.8 75.3M142.0 75.3L142.7 79.8L142.8 83.5L142.5 87.3M141.6 68.4L140.8 70.7M140.2 94.5L141.1 97.6M115.1 93.4L115.4 93.6M96.6 104.3L98.3 105.2L99.5 106.3M118.3 117.6L118.7 117.9M115.1 119.0L115.6 119.1M213.0 78.6L213.9 77.8L215.4 77.0L217.0 76.0M236.1 95.0L236.2 96.5L235.6 95.9L236.1 95.0M231.3 97.6L231.8 98.4L231.2 98.7M225.5 91.3L226.4 92.0M220.5 89.0L222.0 89.1L223.1 89.1M218.2 94.4L218.6 93.6M4.7 42.5L5.7 42.2M6.4 43.0L6.9 42.9M8.7 42.5L9.2 42.1M4.1 35.7L4.7 35.6M-6.3 63.1L-5.5 63.0" fill="none" stroke="#222" stroke-width="0.45" stroke-dasharray="0.7 1.3"/>
<path d="M253.4 18.4L256.0 16.7L259.8 14.7L263.6 12.8L266.7 10.5L269.0 8.0L270.5 6.7" fill="none" stroke="#333" stroke-width="0.35"/>
<path d="M167 49.9l1.7-.6 1 1.6-1.3 1.3-1.6-.7zM92 60.6l.8.3.3 1-.8-.2z" fill="#111"/>
</g>
<g id="legend">
<rect x="120.2" y="110" width="75" height="22" fill="#fff"/>
<rect x="122.4" y="117.8" width="14.3" height="6.9" fill="#d2421c"/>
<rect x="136.6" y="117.8" width="14.5" height="6.9" fill="#f79a2a"/>
<rect x="151" y="117.8" width="13.5" height="6.9" fill="#e6bd52"/>
<rect x="164.4" y="117.8" width="14.3" height="6.9" fill="#46a6e8"/>
<rect x="178.6" y="117.8" width="14.8" height="6.9" fill="#3a4dc2"/>
<text x="123.2" y="115.7" font-size="6.05" fill="#111">Number of variation</text>
<g font-size="5.6" fill="#111" text-anchor="middle">
<text x="129.3" y="130.4">−2</text><text x="143.8" y="130.4">−1</text><text x="157.6" y="130.4">1</text><text x="171.4" y="130.4">2</text><text x="186.2" y="130.4">3</text>
</g>
</g>
</defs>
<g transform="translate(8.5 16.5)" clip-path="url(#cpa)"><g transform="scale(1.0000 1.0000)"><use href="#base"/><g clip-path="url(#lc)"><path transform="translate(1.3 0.3)" d="M87 64.3L85.6 66.4M85 67.6L83 70.7" stroke="#efc53f" stroke-width="0.8" fill="none"/><path transform="translate(1.3 0.3)" d="M80.6 72L79.4 73.2" stroke="#efc53f" stroke-width="1.3" fill="none"/><path d="M69.6 74.5L71 76.1L71.4 74.7M71 76.1L71.9 77.3" stroke="#efc53f" stroke-width="1.0" fill="none" stroke-linecap="round"/><path d="M212.2 43.0h1.5v1.5h-1.5zM211.0 41.4h1.1v1.1h-1.1zM202.8 37.5h1.4v1.4h-1.4z" fill="#efc53f" opacity="0.1"/><path d="M207.3 51.2h1.2v1.2h-1.2zM206.9 41.7h1.4v1.4h-1.4zM212.1 38.6h1.3v1.3h-1.3zM215.2 37.3h1.1v1.1h-1.1zM214.3 44.1h1.0v1.0h-1.0zM196.6 46.0h1.5v1.5h-1.5zM208.8 40.9h0.8v0.8h-0.8zM194.4 44.9h1.5v1.5h-1.5zM209.5 49.1h1.3v1.3h-1.3zM208.8 48.5h1.2v1.2h-1.2zM207.0 42.2h1.4v1.4h-1.4zM207.6 39.4h1.1v1.1h-1.1zM210.4 45.9h1.4v1.4h-1.4zM204.7 49.2h1.2v1.2h-1.2zM203.3 43.7h1.0v1.0h-1.0zM186.0 46.7h1.1v1.1h-1.1z" fill="#efc53f" opacity="0.2"/><path d="M180.1 53.4h1.8v1.8h-1.8zM174.3 56.5h1.6v1.6h-1.6zM177.6 59.3h1.4v1.4h-1.4zM179.2 60.7h1.5v1.5h-1.5zM173.0 47.5h1.3v1.3h-1.3zM178.9 58.2h1.1v1.1h-1.1zM177.9 43.1h1.6v1.6h-1.6zM180.8 57.4h1.3v1.3h-1.3zM174.8 46.3h1.4v1.4h-1.4zM173.0 46.5h1.6v1.6h-1.6zM179.7 60.8h1.1v1.1h-1.1zM189.9 59.5h1.5v1.5h-1.5zM182.2 60.8h1.3v1.3h-1.3zM189.8 54.2h1.8v1.8h-1.8zM182.8 62.3h1.2v1.2h-1.2zM184.0 56.4h1.2v1.2h-1.2zM179.4 59.2h1.1v1.1h-1.1zM187.5 65.0h1.7v1.7h-1.7zM188.2 53.8h1.1v1.1h-1.1zM194.6 44.1h1.2v1.2h-1.2zM190.5 51.7h1.5v1.5h-1.5zM190.5 48.8h1.0v1.0h-1.0zM189.5 52.4h1.2v1.2h-1.2zM196.8 65.1h0.9v0.9h-0.9zM197.0 68.4h1.1v1.1h-1.1zM181.3 73.3h0.9v0.9h-0.9zM202.3 43.7h1.4v1.4h-1.4zM207.1 36.8h1.5v1.5h-1.5zM209.9 45.8h1.3v1.3h-1.3zM193.7 43.6h1.0v1.0h-1.0zM211.2 42.0h1.5v1.5h-1.5zM202.7 47.2h0.9v0.9h-0.9zM202.4 50.2h0.9v0.9h-0.9zM199.4 48.6h0.9v0.9h-0.9zM200.0 46.8h0.9v0.9h-0.9zM190.1 47.6h1.4v1.4h-1.4zM184.6 45.0h1.3v1.3h-1.3zM185.8 46.3h1.2v1.2h-1.2zM187.9 45.0h0.9v0.9h-0.9zM184.2 47.4h1.2v1.2h-1.2zM189.2 44.2h1.1v1.1h-1.1z" fill="#efc53f" opacity="0.3"/><path d="M181.5 57.9h1.4v1.4h-1.4zM176.4 61.6h1.6v1.6h-1.6zM181.7 59.3h1.4v1.4h-1.4zM175.4 55.6h1.1v1.1h-1.1zM180.0 61.8h1.7v1.7h-1.7zM175.8 53.7h1.8v1.8h-1.8zM181.7 51.2h1.8v1.8h-1.8zM173.0 54.2h1.6v1.6h-1.6zM176.1 51.5h1.0v1.0h-1.0zM176.4 42.1h1.4v1.4h-1.4zM179.7 54.4h1.8v1.8h-1.8zM178.0 54.9h1.3v1.3h-1.3zM176.3 60.3h1.5v1.5h-1.5zM176.5 60.0h1.2v1.2h-1.2zM179.8 48.6h1.6v1.6h-1.6zM177.2 53.4h1.5v1.5h-1.5zM175.4 48.8h1.7v1.7h-1.7zM181.3 49.2h1.6v1.6h-1.6zM179.9 61.1h1.8v1.8h-1.8zM176.1 55.7h1.7v1.7h-1.7zM176.0 45.5h1.7v1.7h-1.7zM172.9 46.8h1.1v1.1h-1.1zM178.4 49.3h1.6v1.6h-1.6zM178.1 50.7h1.5v1.5h-1.5zM181.8 64.0h1.7v1.7h-1.7zM190.1 61.8h1.8v1.8h-1.8zM187.4 54.6h1.8v1.8h-1.8zM189.1 60.4h1.4v1.4h-1.4zM188.1 58.0h1.3v1.3h-1.3zM188.7 63.8h1.4v1.4h-1.4zM190.9 61.0h1.4v1.4h-1.4zM186.4 63.3h1.3v1.3h-1.3zM186.1 51.9h1.2v1.2h-1.2zM179.5 56.3h1.4v1.4h-1.4zM185.4 51.3h1.7v1.7h-1.7zM187.0 57.6h1.2v1.2h-1.2zM187.6 63.4h1.6v1.6h-1.6zM180.2 60.7h1.1v1.1h-1.1zM182.1 64.1h1.5v1.5h-1.5zM183.1 58.9h1.4v1.4h-1.4zM180.5 56.4h1.3v1.3h-1.3zM188.9 60.2h1.7v1.7h-1.7zM183.1 61.8h1.6v1.6h-1.6zM184.9 59.2h1.2v1.2h-1.2zM180.4 56.4h1.3v1.3h-1.3zM187.6 58.4h1.4v1.4h-1.4zM186.2 61.7h1.7v1.7h-1.7zM181.4 59.9h1.4v1.4h-1.4zM185.1 58.0h1.7v1.7h-1.7zM183.3 53.7h1.5v1.5h-1.5zM185.4 62.6h1.3v1.3h-1.3zM183.2 57.8h1.8v1.8h-1.8zM181.1 59.4h1.1v1.1h-1.1zM188.1 64.4h1.6v1.6h-1.6zM183.9 65.5h1.4v1.4h-1.4zM187.0 57.7h1.2v1.2h-1.2zM179.9 56.5h1.6v1.6h-1.6zM183.4 61.6h1.8v1.8h-1.8zM181.2 52.9h1.6v1.6h-1.6zM187.1 63.0h1.2v1.2h-1.2zM183.5 54.2h1.4v1.4h-1.4zM192.0 48.6h1.1v1.1h-1.1zM188.1 49.6h1.1v1.1h-1.1zM193.0 48.4h1.5v1.5h-1.5zM194.9 51.5h1.4v1.4h-1.4zM194.0 52.2h1.5v1.5h-1.5zM192.4 50.2h1.1v1.1h-1.1zM190.6 49.0h1.4v1.4h-1.4zM196.5 47.4h0.9v0.9h-0.9zM191.3 51.4h1.3v1.3h-1.3zM191.9 47.1h1.5v1.5h-1.5zM190.2 51.4h1.5v1.5h-1.5zM194.2 45.7h1.1v1.1h-1.1zM195.7 62.0h0.8v0.8h-0.8zM194.3 61.3h0.9v0.9h-0.9zM196.4 66.1h0.8v0.8h-0.8zM197.0 64.8h0.9v0.9h-0.9zM204.7 44.5h1.1v1.1h-1.1zM210.7 41.4h1.2v1.2h-1.2zM202.4 35.7h1.3v1.3h-1.3zM202.9 35.5h1.3v1.3h-1.3zM196.4 36.7h0.8v0.8h-0.8zM193.3 42.9h1.3v1.3h-1.3zM182.8 45.8h1.2v1.2h-1.2zM187.1 45.9h1.3v1.3h-1.3z" fill="#efc53f" opacity="0.4"/><path d="M132.6 39.0h1.3v1.3h-1.3zM137.3 39.2h1.0v1.0h-1.0zM133.7 42.9h0.8v0.8h-0.8zM136.0 43.4h1.2v1.2h-1.2zM132.5 43.1h0.8v0.8h-0.8zM135.3 43.5h1.1v1.1h-1.1zM132.4 42.9h1.2v1.2h-1.2zM132.8 44.3h1.0v1.0h-1.0zM133.9 44.1h0.8v0.8h-0.8zM171.7 45.1h0.9v0.9h-0.9zM167.5 46.8h0.9v0.9h-0.9zM169.3 46.3h0.7v0.7h-0.7zM177.5 55.5h1.5v1.5h-1.5zM179.0 58.4h1.7v1.7h-1.7zM177.5 45.6h1.2v1.2h-1.2zM175.7 45.6h1.2v1.2h-1.2zM177.0 57.7h1.0v1.0h-1.0zM179.4 60.8h1.4v1.4h-1.4zM172.5 50.5h1.7v1.7h-1.7zM180.2 55.3h1.1v1.1h-1.1zM173.9 50.3h1.8v1.8h-1.8zM173.3 53.1h1.7v1.7h-1.7zM177.2 55.6h1.4v1.4h-1.4zM173.5 54.0h1.2v1.2h-1.2zM175.2 52.6h1.0v1.0h-1.0zM179.1 54.7h1.2v1.2h-1.2zM174.2 43.2h1.7v1.7h-1.7zM175.6 44.4h1.5v1.5h-1.5zM179.8 47.8h1.2v1.2h-1.2zM176.1 53.0h1.4v1.4h-1.4zM180.3 59.7h1.5v1.5h-1.5zM175.7 48.3h1.4v1.4h-1.4zM180.7 50.4h1.3v1.3h-1.3zM178.2 58.1h1.7v1.7h-1.7zM173.7 45.8h1.3v1.3h-1.3zM186.9 63.5h1.4v1.4h-1.4zM184.1 64.1h1.1v1.1h-1.1zM188.5 65.7h1.4v1.4h-1.4zM189.0 55.1h1.3v1.3h-1.3zM181.2 53.2h1.3v1.3h-1.3zM187.8 56.7h1.3v1.3h-1.3zM183.3 56.2h1.2v1.2h-1.2zM182.2 53.8h1.2v1.2h-1.2zM179.6 57.8h1.0v1.0h-1.0zM183.5 56.1h1.1v1.1h-1.1zM184.7 55.2h1.7v1.7h-1.7zM183.6 64.8h1.6v1.6h-1.6zM184.4 54.5h1.8v1.8h-1.8zM183.6 59.6h1.5v1.5h-1.5zM189.2 57.1h1.8v1.8h-1.8zM189.4 57.7h1.4v1.4h-1.4zM184.1 61.1h1.1v1.1h-1.1zM181.5 64.1h1.7v1.7h-1.7zM184.4 62.4h1.6v1.6h-1.6zM191.4 59.7h1.2v1.2h-1.2zM187.2 64.3h1.8v1.8h-1.8zM181.0 53.8h1.2v1.2h-1.2zM194.7 49.9h1.3v1.3h-1.3zM194.3 45.0h1.0v1.0h-1.0zM192.1 48.9h1.5v1.5h-1.5zM194.6 52.3h1.2v1.2h-1.2zM194.7 62.6h1.0v1.0h-1.0zM197.3 66.5h0.8v0.8h-0.8zM195.7 63.3h1.0v1.0h-1.0zM194.4 63.7h0.8v0.8h-0.8zM196.5 69.3h1.1v1.1h-1.1zM213.6 58.8h1.1v1.1h-1.1zM222.7 74.2h1.0v1.0h-1.0zM186.6 45.9h1.0v1.0h-1.0z" fill="#efc53f" opacity="0.5"/><path d="M145.1 38.5h1.1v1.1h-1.1zM147.6 39.4h1.2v1.2h-1.2zM152.0 43.4h0.8v0.8h-0.8zM132.2 41.1h1.0v1.0h-1.0zM135.3 42.5h1.2v1.2h-1.2zM133.5 43.3h1.2v1.2h-1.2zM138.2 41.9h1.0v1.0h-1.0zM136.8 39.1h1.0v1.0h-1.0zM133.6 38.2h0.8v0.8h-0.8zM133.7 42.0h1.1v1.1h-1.1zM136.1 39.5h1.1v1.1h-1.1zM135.2 41.6h0.8v0.8h-0.8zM172.3 45.0h0.8v0.8h-0.8zM177.9 57.5h1.5v1.5h-1.5zM175.8 61.1h1.5v1.5h-1.5zM177.0 58.6h1.8v1.8h-1.8zM182.0 57.1h1.4v1.4h-1.4zM181.7 50.1h1.1v1.1h-1.1zM176.0 42.0h1.7v1.7h-1.7zM180.7 60.9h1.2v1.2h-1.2zM180.6 51.1h1.6v1.6h-1.6zM181.1 52.9h1.6v1.6h-1.6zM178.3 54.2h1.0v1.0h-1.0zM176.8 53.4h1.7v1.7h-1.7zM176.2 47.0h1.5v1.5h-1.5zM174.8 58.0h1.5v1.5h-1.5zM180.2 49.4h1.5v1.5h-1.5zM174.5 49.8h1.8v1.8h-1.8zM174.9 45.7h1.7v1.7h-1.7zM172.8 54.3h1.5v1.5h-1.5zM175.9 52.5h1.1v1.1h-1.1zM181.8 55.4h1.6v1.6h-1.6zM181.2 56.6h1.4v1.4h-1.4zM184.0 60.6h1.4v1.4h-1.4zM185.7 51.9h1.4v1.4h-1.4zM181.4 57.7h1.5v1.5h-1.5zM185.5 62.0h1.3v1.3h-1.3zM183.9 63.5h1.5v1.5h-1.5zM189.5 56.2h1.4v1.4h-1.4zM182.2 58.1h1.2v1.2h-1.2zM188.6 54.8h1.7v1.7h-1.7zM180.9 55.1h1.2v1.2h-1.2zM189.2 59.5h1.6v1.6h-1.6zM180.6 54.9h1.3v1.3h-1.3zM190.9 59.1h1.3v1.3h-1.3zM188.8 56.5h1.4v1.4h-1.4zM186.5 57.3h1.4v1.4h-1.4zM190.7 61.2h1.3v1.3h-1.3zM183.4 52.8h1.4v1.4h-1.4zM191.4 59.0h1.5v1.5h-1.5zM188.8 66.0h1.0v1.0h-1.0zM186.4 62.9h1.6v1.6h-1.6zM181.2 59.6h1.7v1.7h-1.7zM180.0 59.1h1.6v1.6h-1.6zM187.3 66.0h1.3v1.3h-1.3zM186.7 56.3h1.3v1.3h-1.3zM188.7 63.9h1.2v1.2h-1.2zM190.1 60.1h1.2v1.2h-1.2zM179.3 57.2h1.0v1.0h-1.0zM179.6 61.3h1.2v1.2h-1.2zM185.7 60.7h1.7v1.7h-1.7zM194.2 50.3h1.1v1.1h-1.1zM190.0 45.8h1.4v1.4h-1.4zM190.1 54.7h1.6v1.6h-1.6zM188.5 53.2h1.3v1.3h-1.3zM194.6 52.6h1.0v1.0h-1.0zM196.5 47.7h1.4v1.4h-1.4zM188.0 51.8h1.4v1.4h-1.4zM188.5 49.4h1.0v1.0h-1.0zM196.6 69.8h1.1v1.1h-1.1zM197.5 65.8h0.8v0.8h-0.8zM212.3 61.8h0.9v0.9h-0.9zM218.5 73.7h0.9v0.9h-0.9zM213.3 91.8h1.0v1.0h-1.0zM212.5 89.4h1.0v1.0h-1.0zM185.5 48.6h0.9v0.9h-0.9zM184.7 47.0h1.1v1.1h-1.1z" fill="#efc53f" opacity="0.6"/><path d="M10.3 73.6h1.2v1.2h-1.2zM22.5 73.6h1.0v1.0h-1.0zM21.1 71.7h1.3v1.3h-1.3zM28.5 73.4h1.0v1.0h-1.0zM39.5 74.3h1.1v1.1h-1.1zM44.1 74.3h1.0v1.0h-1.0zM43.5 75.8h1.3v1.3h-1.3zM40.3 74.2h1.2v1.2h-1.2zM145.1 41.0h1.2v1.2h-1.2zM144.7 36.2h0.9v0.9h-0.9zM149.3 43.7h1.1v1.1h-1.1zM146.6 40.4h1.2v1.2h-1.2zM156.2 47.3h1.0v1.0h-1.0zM155.1 45.1h1.0v1.0h-1.0zM158.1 45.9h1.2v1.2h-1.2zM162.9 47.9h1.1v1.1h-1.1zM161.9 49.1h0.9v0.9h-0.9zM162.1 46.3h0.9v0.9h-0.9zM162.2 48.4h1.2v1.2h-1.2zM136.7 42.3h1.2v1.2h-1.2zM136.8 42.8h1.0v1.0h-1.0zM137.1 40.7h1.0v1.0h-1.0zM137.3 43.6h0.8v0.8h-0.8zM136.0 40.8h1.2v1.2h-1.2zM133.2 42.2h1.0v1.0h-1.0zM136.7 42.7h1.1v1.1h-1.1zM167.5 47.0h0.8v0.8h-0.8zM168.2 47.5h0.6v0.6h-0.6zM174.3 43.4h1.0v1.0h-1.0zM167.1 46.0h0.7v0.7h-0.7zM172.2 45.1h0.8v0.8h-0.8zM175.5 45.1h0.8v0.8h-0.8zM175.2 43.1h1.8v1.8h-1.8zM181.3 53.5h1.6v1.6h-1.6zM173.8 44.8h1.2v1.2h-1.2zM176.3 46.8h1.4v1.4h-1.4zM174.5 52.7h1.7v1.7h-1.7zM174.3 53.4h1.3v1.3h-1.3zM174.0 45.8h1.0v1.0h-1.0zM179.6 54.9h1.4v1.4h-1.4zM175.1 60.5h1.5v1.5h-1.5zM176.8 45.4h1.7v1.7h-1.7zM179.4 55.7h1.3v1.3h-1.3zM173.9 46.1h1.4v1.4h-1.4zM179.7 54.1h1.7v1.7h-1.7zM177.7 45.6h1.6v1.6h-1.6zM173.4 48.4h1.7v1.7h-1.7zM179.7 60.4h1.7v1.7h-1.7zM183.5 54.5h1.2v1.2h-1.2zM181.7 56.9h1.1v1.1h-1.1zM186.7 65.4h1.0v1.0h-1.0zM184.8 58.2h1.3v1.3h-1.3zM191.2 61.2h1.6v1.6h-1.6zM184.7 60.0h1.0v1.0h-1.0zM184.6 65.1h1.2v1.2h-1.2zM186.0 55.0h1.1v1.1h-1.1zM184.4 53.6h1.6v1.6h-1.6zM181.2 62.4h1.8v1.8h-1.8zM188.6 53.2h1.7v1.7h-1.7zM182.4 59.4h1.2v1.2h-1.2zM192.6 44.5h1.5v1.5h-1.5zM188.7 51.8h0.9v0.9h-0.9zM190.2 49.5h1.0v1.0h-1.0zM188.9 47.6h1.1v1.1h-1.1zM189.8 49.3h0.9v0.9h-0.9zM192.9 50.2h1.3v1.3h-1.3zM190.9 48.8h1.5v1.5h-1.5zM195.5 61.5h1.1v1.1h-1.1zM196.3 63.1h1.0v1.0h-1.0zM194.8 63.1h0.9v0.9h-0.9zM196.4 67.9h0.8v0.8h-0.8zM219.3 73.5h0.7v0.7h-0.7zM219.3 73.3h0.8v0.8h-0.8zM221.1 73.6h0.8v0.8h-0.8zM184.1 84.4h0.9v0.9h-0.9zM185.6 85.0h1.0v1.0h-1.0zM190.4 88.2h0.9v0.9h-0.9z" fill="#efc53f" opacity="0.7"/><path d="M7.9 67.7h1.0v1.0h-1.0zM7.0 64.0h1.0v1.0h-1.0zM14.4 65.3h1.3v1.3h-1.3zM7.4 66.2h1.0v1.0h-1.0zM21.0 67.1h1.1v1.1h-1.1zM19.0 65.2h1.5v1.5h-1.5zM9.0 66.0h0.9v0.9h-0.9zM6.7 68.3h1.2v1.2h-1.2zM9.2 66.7h1.5v1.5h-1.5zM5.9 66.7h1.4v1.4h-1.4zM14.9 66.0h1.3v1.3h-1.3zM20.1 68.6h1.0v1.0h-1.0zM16.4 65.6h1.4v1.4h-1.4zM16.6 66.0h1.2v1.2h-1.2zM13.1 66.0h1.2v1.2h-1.2zM15.5 64.9h1.2v1.2h-1.2zM17.2 65.0h1.3v1.3h-1.3zM16.9 64.6h0.8v0.8h-0.8zM10.4 66.2h0.9v0.9h-0.9zM19.9 65.7h1.3v1.3h-1.3zM19.6 65.2h1.1v1.1h-1.1zM9.8 66.8h1.1v1.1h-1.1zM15.2 67.6h1.4v1.4h-1.4zM16.7 66.5h1.4v1.4h-1.4zM13.2 64.0h1.1v1.1h-1.1zM15.1 67.3h1.4v1.4h-1.4zM19.8 69.5h1.1v1.1h-1.1zM15.3 68.1h1.2v1.2h-1.2zM20.5 67.5h1.3v1.3h-1.3zM10.4 63.9h1.4v1.4h-1.4zM9.7 66.7h1.1v1.1h-1.1zM18.4 67.8h1.2v1.2h-1.2zM8.5 66.2h1.2v1.2h-1.2zM7.0 68.0h1.2v1.2h-1.2zM9.4 66.6h1.1v1.1h-1.1zM13.7 67.9h1.2v1.2h-1.2zM9.4 65.6h0.9v0.9h-0.9zM8.5 67.2h0.8v0.8h-0.8zM14.5 64.5h0.9v0.9h-0.9zM22.5 68.3h1.1v1.1h-1.1zM35.3 65.6h1.1v1.1h-1.1zM26.4 63.0h0.9v0.9h-0.9zM35.7 69.1h1.5v1.5h-1.5zM24.3 67.8h1.1v1.1h-1.1zM26.7 66.9h0.8v0.8h-0.8zM24.2 65.6h1.4v1.4h-1.4zM34.5 71.5h1.4v1.4h-1.4zM34.7 69.5h1.5v1.5h-1.5zM37.9 68.0h1.1v1.1h-1.1zM23.0 66.0h1.1v1.1h-1.1zM29.0 66.9h1.4v1.4h-1.4zM35.3 68.4h1.3v1.3h-1.3zM23.1 66.2h0.9v0.9h-0.9zM27.9 69.4h0.9v0.9h-0.9zM36.0 66.2h1.1v1.1h-1.1zM38.2 68.6h1.1v1.1h-1.1zM28.6 66.4h1.2v1.2h-1.2zM35.8 64.8h1.3v1.3h-1.3zM37.3 66.9h1.2v1.2h-1.2zM31.5 65.9h0.9v0.9h-0.9zM34.6 67.9h1.3v1.3h-1.3zM33.0 66.9h1.3v1.3h-1.3zM35.0 65.1h0.9v0.9h-0.9zM25.2 65.9h1.0v1.0h-1.0zM22.8 65.1h0.9v0.9h-0.9zM24.6 67.3h1.3v1.3h-1.3zM32.0 67.4h1.3v1.3h-1.3zM30.1 65.0h1.5v1.5h-1.5zM35.8 66.0h1.5v1.5h-1.5zM33.2 68.6h1.1v1.1h-1.1zM28.2 67.9h0.9v0.9h-0.9zM32.7 68.4h1.3v1.3h-1.3zM31.0 68.8h1.4v1.4h-1.4zM27.9 67.7h1.1v1.1h-1.1zM29.6 69.9h1.1v1.1h-1.1zM28.3 67.0h1.0v1.0h-1.0zM33.3 67.1h1.3v1.3h-1.3zM27.7 66.5h1.3v1.3h-1.3zM39.2 65.3h1.5v1.5h-1.5zM32.8 67.2h1.0v1.0h-1.0zM31.8 66.9h1.1v1.1h-1.1zM23.6 65.5h1.4v1.4h-1.4zM59.4 68.3h1.4v1.4h-1.4zM53.0 68.1h0.9v0.9h-0.9zM52.6 67.3h0.8v0.8h-0.8zM57.9 68.4h1.1v1.1h-1.1zM51.5 70.3h1.3v1.3h-1.3zM52.5 68.9h0.8v0.8h-0.8zM41.9 66.9h1.2v1.2h-1.2zM62.8 70.6h0.8v0.8h-0.8zM61.4 69.3h1.0v1.0h-1.0zM53.7 69.1h1.1v1.1h-1.1zM44.6 67.6h0.9v0.9h-0.9zM43.8 68.2h1.3v1.3h-1.3zM61.0 71.4h1.0v1.0h-1.0zM62.0 68.6h1.5v1.5h-1.5zM54.2 68.6h1.0v1.0h-1.0zM57.8 70.1h1.2v1.2h-1.2zM45.7 68.3h1.4v1.4h-1.4zM53.6 66.3h1.0v1.0h-1.0zM46.0 67.7h1.0v1.0h-1.0zM40.2 70.3h1.0v1.0h-1.0zM48.5 66.3h1.1v1.1h-1.1zM55.0 72.2h1.3v1.3h-1.3zM60.7 66.5h1.4v1.4h-1.4zM48.9 66.8h1.0v1.0h-1.0zM44.0 67.2h1.1v1.1h-1.1zM46.1 69.6h1.0v1.0h-1.0zM49.0 70.5h0.9v0.9h-0.9zM61.4 70.4h1.4v1.4h-1.4zM56.9 68.9h0.9v0.9h-0.9zM60.8 69.5h0.8v0.8h-0.8zM63.3 68.7h1.3v1.3h-1.3zM54.9 70.1h1.1v1.1h-1.1zM47.5 69.2h0.9v0.9h-0.9zM49.5 67.7h0.9v0.9h-0.9zM47.8 68.4h1.2v1.2h-1.2zM56.8 66.8h1.1v1.1h-1.1zM41.0 67.1h1.1v1.1h-1.1zM53.9 67.5h1.0v1.0h-1.0zM61.2 69.4h1.3v1.3h-1.3zM44.1 66.1h1.2v1.2h-1.2zM61.7 69.9h1.2v1.2h-1.2zM47.3 65.8h1.0v1.0h-1.0zM55.9 71.9h1.2v1.2h-1.2zM63.1 68.5h1.2v1.2h-1.2zM45.4 67.7h0.9v0.9h-0.9zM51.9 68.9h1.3v1.3h-1.3zM43.3 69.9h1.2v1.2h-1.2zM62.1 70.9h1.3v1.3h-1.3zM48.7 67.5h1.1v1.1h-1.1zM56.7 66.6h0.9v0.9h-0.9zM45.1 68.4h1.0v1.0h-1.0zM40.6 70.7h0.9v0.9h-0.9zM51.1 69.6h1.4v1.4h-1.4zM51.4 66.3h1.2v1.2h-1.2zM55.3 70.0h1.5v1.5h-1.5zM40.2 67.9h0.9v0.9h-0.9zM48.3 68.5h0.9v0.9h-0.9zM57.9 67.0h0.9v0.9h-0.9zM48.1 67.7h1.2v1.2h-1.2zM49.2 67.5h1.4v1.4h-1.4zM47.0 69.7h1.5v1.5h-1.5zM60.4 67.9h1.4v1.4h-1.4zM15.9 72.5h1.3v1.3h-1.3zM18.8 74.3h1.3v1.3h-1.3zM13.8 72.8h0.9v0.9h-0.9zM8.0 70.6h1.2v1.2h-1.2zM18.1 72.1h0.8v0.8h-0.8zM11.8 69.5h1.1v1.1h-1.1zM25.5 74.0h1.4v1.4h-1.4zM25.1 74.7h1.0v1.0h-1.0zM20.7 72.9h1.2v1.2h-1.2zM19.9 71.7h1.0v1.0h-1.0zM20.2 73.8h1.2v1.2h-1.2zM29.8 73.5h1.2v1.2h-1.2zM21.0 72.5h1.1v1.1h-1.1zM30.5 73.5h0.8v0.8h-0.8zM25.5 71.5h0.8v0.8h-0.8zM21.5 72.3h1.4v1.4h-1.4zM20.6 72.5h1.1v1.1h-1.1zM38.7 73.9h1.0v1.0h-1.0zM41.2 75.0h0.9v0.9h-0.9zM41.7 75.9h1.0v1.0h-1.0zM42.0 74.6h1.1v1.1h-1.1zM40.7 74.8h1.0v1.0h-1.0zM42.7 74.3h1.4v1.4h-1.4zM41.3 74.7h1.0v1.0h-1.0zM41.1 75.2h0.8v0.8h-0.8zM35.9 73.2h1.0v1.0h-1.0zM35.8 73.3h1.1v1.1h-1.1zM53.5 72.6h1.3v1.3h-1.3zM48.8 74.3h1.3v1.3h-1.3zM53.6 75.2h1.3v1.3h-1.3zM50.1 73.0h1.5v1.5h-1.5zM51.8 73.7h1.3v1.3h-1.3zM57.3 76.3h1.4v1.4h-1.4zM53.8 73.7h1.2v1.2h-1.2zM56.5 72.2h1.4v1.4h-1.4zM57.8 72.4h1.0v1.0h-1.0zM52.9 72.5h1.4v1.4h-1.4zM54.4 76.2h1.2v1.2h-1.2zM56.8 73.7h1.0v1.0h-1.0zM54.7 73.6h1.1v1.1h-1.1zM55.6 74.1h1.4v1.4h-1.4zM59.2 74.2h1.3v1.3h-1.3zM54.1 75.5h0.9v0.9h-0.9zM57.8 75.6h0.9v0.9h-0.9zM59.3 76.6h1.0v1.0h-1.0zM59.3 73.9h1.0v1.0h-1.0zM57.2 72.7h1.5v1.5h-1.5zM55.6 75.8h0.8v0.8h-0.8zM57.0 75.0h1.0v1.0h-1.0zM52.0 75.7h1.5v1.5h-1.5zM55.7 76.0h1.2v1.2h-1.2zM56.6 74.3h1.3v1.3h-1.3zM58.1 74.9h1.2v1.2h-1.2zM62.8 72.7h1.4v1.4h-1.4zM57.0 72.0h0.8v0.8h-0.8zM56.8 71.7h0.9v0.9h-0.9zM58.9 70.1h1.4v1.4h-1.4zM61.2 72.7h1.0v1.0h-1.0zM57.3 72.6h1.1v1.1h-1.1zM63.6 71.6h1.3v1.3h-1.3zM61.0 72.0h1.3v1.3h-1.3zM64.3 72.3h1.3v1.3h-1.3zM59.3 71.9h1.5v1.5h-1.5zM56.1 71.7h1.5v1.5h-1.5zM58.0 72.4h1.4v1.4h-1.4zM58.5 70.8h1.3v1.3h-1.3zM57.0 72.3h1.3v1.3h-1.3zM61.9 70.3h1.2v1.2h-1.2zM57.0 71.4h1.2v1.2h-1.2zM59.0 72.6h1.1v1.1h-1.1zM147.9 41.6h1.0v1.0h-1.0zM151.2 40.1h1.2v1.2h-1.2zM154.2 46.0h1.0v1.0h-1.0zM156.8 45.6h1.3v1.3h-1.3zM150.7 43.9h1.0v1.0h-1.0zM154.0 44.9h0.8v0.8h-0.8zM160.9 46.4h1.0v1.0h-1.0zM161.6 54.5h0.9v0.9h-0.9zM159.4 54.2h1.0v1.0h-1.0zM134.0 39.7h1.1v1.1h-1.1zM136.5 42.2h1.0v1.0h-1.0zM135.3 41.0h1.1v1.1h-1.1zM135.5 40.1h1.1v1.1h-1.1zM135.4 40.0h1.2v1.2h-1.2zM136.9 41.2h0.9v0.9h-0.9zM135.3 41.2h1.2v1.2h-1.2zM132.6 43.1h1.1v1.1h-1.1zM164.8 47.8h1.0v1.0h-1.0zM173.5 45.4h0.9v0.9h-0.9zM213.9 62.9h1.1v1.1h-1.1zM222.8 75.0h0.7v0.7h-0.7zM221.6 75.4h0.7v0.7h-0.7zM199.8 96.8h0.9v0.9h-0.9zM200.5 97.3h1.0v1.0h-1.0zM212.1 89.4h0.7v0.7h-0.7zM185.3 91.2h1.1v1.1h-1.1zM246.1 95.0h0.9v0.9h-0.9z" fill="#efc53f" opacity="0.8"/><path d="M12.8 63.1h1.2v1.2h-1.2zM8.4 64.6h1.4v1.4h-1.4zM7.1 65.8h0.8v0.8h-0.8zM21.1 67.3h1.2v1.2h-1.2zM5.8 65.8h1.4v1.4h-1.4zM13.9 65.2h1.0v1.0h-1.0zM10.5 66.2h1.1v1.1h-1.1zM6.5 69.0h1.0v1.0h-1.0zM7.0 69.2h0.9v0.9h-0.9zM11.5 62.5h1.4v1.4h-1.4zM19.5 69.0h0.9v0.9h-0.9zM6.6 66.1h1.0v1.0h-1.0zM12.6 67.1h0.9v0.9h-0.9zM17.2 65.1h1.3v1.3h-1.3zM21.3 68.0h1.1v1.1h-1.1zM6.0 65.1h1.0v1.0h-1.0zM18.6 67.7h1.5v1.5h-1.5zM7.6 67.1h1.1v1.1h-1.1zM15.7 65.0h0.9v0.9h-0.9zM16.8 66.9h1.2v1.2h-1.2zM19.5 67.7h0.9v0.9h-0.9zM17.1 63.0h1.3v1.3h-1.3zM8.5 69.1h1.4v1.4h-1.4zM7.0 64.3h0.8v0.8h-0.8zM18.4 67.3h0.9v0.9h-0.9zM10.7 66.2h1.3v1.3h-1.3zM20.9 68.7h0.9v0.9h-0.9zM11.8 66.1h1.1v1.1h-1.1zM20.5 65.9h0.8v0.8h-0.8zM18.8 64.2h1.3v1.3h-1.3zM5.5 66.8h1.4v1.4h-1.4zM20.8 67.9h1.3v1.3h-1.3zM30.9 66.9h0.8v0.8h-0.8zM34.0 68.0h1.1v1.1h-1.1zM25.1 66.3h0.8v0.8h-0.8zM37.5 68.4h1.1v1.1h-1.1zM37.5 66.3h1.3v1.3h-1.3zM21.5 68.0h1.2v1.2h-1.2zM25.5 68.9h1.2v1.2h-1.2zM33.9 67.6h1.3v1.3h-1.3zM28.1 68.0h1.2v1.2h-1.2zM32.2 70.6h1.2v1.2h-1.2zM27.9 68.3h1.2v1.2h-1.2zM32.4 66.5h1.1v1.1h-1.1zM24.9 68.6h1.3v1.3h-1.3zM29.6 67.8h1.1v1.1h-1.1zM35.8 62.7h1.0v1.0h-1.0zM23.5 65.8h1.2v1.2h-1.2zM27.9 66.7h1.2v1.2h-1.2zM32.8 67.2h0.9v0.9h-0.9zM25.2 65.2h1.4v1.4h-1.4zM22.8 68.8h0.9v0.9h-0.9zM33.0 68.5h1.4v1.4h-1.4zM22.8 68.5h1.0v1.0h-1.0zM30.3 65.7h1.3v1.3h-1.3zM31.0 66.7h0.9v0.9h-0.9zM23.6 67.5h0.9v0.9h-0.9zM25.8 69.3h1.5v1.5h-1.5zM22.9 66.5h1.1v1.1h-1.1zM27.0 66.7h1.3v1.3h-1.3zM34.3 66.9h1.1v1.1h-1.1zM21.5 69.4h1.0v1.0h-1.0zM28.6 66.6h1.0v1.0h-1.0zM38.5 66.8h1.0v1.0h-1.0zM36.2 68.1h1.3v1.3h-1.3zM23.2 67.1h0.9v0.9h-0.9zM37.9 68.4h1.3v1.3h-1.3zM35.4 68.3h0.8v0.8h-0.8zM23.2 66.6h1.4v1.4h-1.4zM63.4 71.3h1.3v1.3h-1.3zM44.5 67.4h0.9v0.9h-0.9zM52.2 68.8h1.0v1.0h-1.0zM50.8 69.0h1.3v1.3h-1.3zM49.4 66.6h1.4v1.4h-1.4zM57.2 68.7h1.2v1.2h-1.2zM61.5 70.4h1.4v1.4h-1.4zM49.6 68.6h1.4v1.4h-1.4zM62.4 69.5h0.9v0.9h-0.9zM56.9 70.6h0.9v0.9h-0.9zM44.9 69.9h0.9v0.9h-0.9zM50.4 67.6h0.8v0.8h-0.8zM43.7 71.4h1.3v1.3h-1.3zM49.1 65.9h0.9v0.9h-0.9zM53.1 67.8h1.2v1.2h-1.2zM51.9 67.5h1.2v1.2h-1.2zM62.7 70.6h1.0v1.0h-1.0zM50.0 70.6h1.4v1.4h-1.4zM45.4 67.3h0.8v0.8h-0.8zM53.9 68.7h1.4v1.4h-1.4zM43.8 68.2h1.1v1.1h-1.1zM40.5 67.1h1.2v1.2h-1.2zM49.2 68.1h0.9v0.9h-0.9zM52.8 68.5h1.5v1.5h-1.5zM60.6 69.6h1.1v1.1h-1.1zM62.4 68.2h1.3v1.3h-1.3zM47.5 68.6h0.8v0.8h-0.8zM49.2 68.6h0.8v0.8h-0.8zM47.2 68.8h0.9v0.9h-0.9zM46.2 70.6h1.1v1.1h-1.1zM39.8 68.8h1.4v1.4h-1.4zM62.4 69.7h1.2v1.2h-1.2zM49.0 68.5h1.2v1.2h-1.2zM47.8 69.2h1.3v1.3h-1.3zM51.5 67.3h1.2v1.2h-1.2zM42.2 68.3h1.1v1.1h-1.1zM59.2 67.0h1.0v1.0h-1.0zM53.2 69.8h1.2v1.2h-1.2zM59.9 69.5h1.0v1.0h-1.0zM43.8 67.2h1.5v1.5h-1.5zM63.1 70.9h1.1v1.1h-1.1zM47.5 68.6h1.1v1.1h-1.1zM62.5 68.7h0.9v0.9h-0.9zM47.3 70.2h1.0v1.0h-1.0zM60.6 70.9h0.9v0.9h-0.9zM62.9 68.0h1.4v1.4h-1.4zM56.8 69.0h1.0v1.0h-1.0zM48.6 71.4h1.4v1.4h-1.4zM41.9 67.0h0.9v0.9h-0.9zM50.0 69.6h0.9v0.9h-0.9zM44.2 65.4h1.1v1.1h-1.1zM54.8 72.1h1.4v1.4h-1.4zM56.4 67.7h1.1v1.1h-1.1zM49.0 68.8h0.8v0.8h-0.8zM14.6 72.7h1.2v1.2h-1.2zM18.5 73.0h1.0v1.0h-1.0zM18.7 72.2h1.1v1.1h-1.1zM10.9 70.0h1.1v1.1h-1.1zM8.6 70.1h1.3v1.3h-1.3zM11.8 69.8h1.0v1.0h-1.0zM14.8 71.0h1.1v1.1h-1.1zM11.5 71.7h1.0v1.0h-1.0zM12.3 71.1h1.4v1.4h-1.4zM10.7 70.9h1.1v1.1h-1.1zM32.6 73.2h1.2v1.2h-1.2zM23.6 73.4h0.9v0.9h-0.9zM30.7 75.4h1.1v1.1h-1.1zM33.4 72.2h1.4v1.4h-1.4zM28.1 73.3h1.3v1.3h-1.3zM32.6 74.0h1.1v1.1h-1.1zM21.3 72.2h1.0v1.0h-1.0zM21.7 71.2h1.2v1.2h-1.2zM40.4 75.7h1.0v1.0h-1.0zM38.7 74.0h1.1v1.1h-1.1zM37.5 74.2h1.0v1.0h-1.0zM37.9 74.0h1.2v1.2h-1.2zM34.1 73.9h1.4v1.4h-1.4zM41.2 76.5h1.4v1.4h-1.4zM46.3 75.4h1.1v1.1h-1.1zM39.4 74.0h1.4v1.4h-1.4zM50.5 75.9h1.5v1.5h-1.5zM49.5 74.6h1.5v1.5h-1.5zM56.6 72.3h1.0v1.0h-1.0zM58.3 73.6h1.1v1.1h-1.1zM54.3 76.0h1.0v1.0h-1.0zM54.2 76.1h1.0v1.0h-1.0zM58.0 72.6h1.3v1.3h-1.3zM52.4 72.3h1.0v1.0h-1.0zM55.8 74.4h1.0v1.0h-1.0zM52.5 71.4h1.2v1.2h-1.2zM52.9 74.1h1.0v1.0h-1.0zM55.5 76.6h1.1v1.1h-1.1zM53.4 75.2h1.5v1.5h-1.5zM53.5 74.3h1.2v1.2h-1.2zM58.6 73.9h1.5v1.5h-1.5zM55.0 74.0h1.2v1.2h-1.2zM54.6 74.1h1.2v1.2h-1.2zM55.6 75.5h1.3v1.3h-1.3zM54.1 72.7h1.2v1.2h-1.2zM56.7 76.2h1.0v1.0h-1.0zM50.2 75.6h1.3v1.3h-1.3zM56.4 72.8h1.1v1.1h-1.1zM54.0 71.6h1.1v1.1h-1.1zM50.3 73.3h1.2v1.2h-1.2zM60.3 75.8h0.8v0.8h-0.8zM55.5 73.2h1.1v1.1h-1.1zM51.1 75.8h1.0v1.0h-1.0zM57.2 73.6h1.2v1.2h-1.2zM58.6 73.0h1.5v1.5h-1.5zM49.8 74.3h1.1v1.1h-1.1zM59.3 74.8h0.9v0.9h-0.9zM54.7 77.2h1.0v1.0h-1.0zM48.6 73.4h1.5v1.5h-1.5zM59.7 73.6h1.3v1.3h-1.3zM57.1 74.1h1.0v1.0h-1.0zM55.3 76.0h1.5v1.5h-1.5zM61.1 69.9h1.5v1.5h-1.5zM60.8 70.9h1.3v1.3h-1.3zM59.2 73.4h1.5v1.5h-1.5zM58.5 73.3h1.1v1.1h-1.1zM60.9 71.4h1.3v1.3h-1.3zM61.4 71.7h1.5v1.5h-1.5zM63.5 73.0h1.3v1.3h-1.3zM58.7 73.2h1.3v1.3h-1.3zM57.5 72.1h1.5v1.5h-1.5zM62.4 72.6h1.3v1.3h-1.3zM58.9 70.9h0.8v0.8h-0.8zM63.2 73.1h0.8v0.8h-0.8zM56.9 72.3h1.1v1.1h-1.1zM57.5 72.0h1.1v1.1h-1.1zM64.6 71.4h1.3v1.3h-1.3zM63.9 71.7h0.8v0.8h-0.8zM60.8 70.5h1.0v1.0h-1.0zM60.8 70.1h1.0v1.0h-1.0zM58.9 71.1h1.5v1.5h-1.5zM63.8 71.4h0.9v0.9h-0.9zM42.9 69.9h1.1v1.1h-1.1zM43.5 70.4h1.1v1.1h-1.1zM43.9 71.2h1.1v1.1h-1.1zM44.4 71.8h1.1v1.1h-1.1zM45.0 72.2h1.1v1.1h-1.1zM45.8 72.4h1.1v1.1h-1.1zM46.6 72.2h1.1v1.1h-1.1zM47.4 72.3h1.1v1.1h-1.1zM48.1 72.6h1.1v1.1h-1.1zM48.9 72.6h1.1v1.1h-1.1zM45.0 71.2h1.1v1.1h-1.1zM44.3 71.6h1.1v1.1h-1.1zM43.6 72.1h1.1v1.1h-1.1zM42.9 72.4h1.1v1.1h-1.1zM42.1 72.3h1.1v1.1h-1.1zM41.3 72.1h1.1v1.1h-1.1zM40.7 71.6h1.1v1.1h-1.1zM39.9 71.5h1.1v1.1h-1.1zM39.2 71.1h1.1v1.1h-1.1zM38.6 70.6h1.1v1.1h-1.1zM34.7 68.2h1.1v1.1h-1.1zM33.9 68.4h1.1v1.1h-1.1zM33.2 68.7h1.1v1.1h-1.1zM32.4 68.9h1.1v1.1h-1.1zM31.6 68.8h1.1v1.1h-1.1zM30.9 68.5h1.1v1.1h-1.1zM16.9 67.4h1.1v1.1h-1.1zM17.7 67.6h1.1v1.1h-1.1zM18.5 67.5h1.1v1.1h-1.1zM19.3 67.7h1.1v1.1h-1.1zM19.9 68.2h1.1v1.1h-1.1zM20.7 68.4h1.1v1.1h-1.1zM21.4 68.6h1.1v1.1h-1.1zM22.2 68.6h1.1v1.1h-1.1zM23.0 68.7h1.1v1.1h-1.1zM45.0 70.3h1.1v1.1h-1.1zM45.7 70.6h1.1v1.1h-1.1zM46.5 70.9h1.1v1.1h-1.1zM47.3 70.9h1.1v1.1h-1.1zM48.0 70.6h1.1v1.1h-1.1zM48.7 70.2h1.1v1.1h-1.1zM49.5 70.2h1.1v1.1h-1.1zM50.3 70.2h1.1v1.1h-1.1zM51.0 70.5h1.1v1.1h-1.1zM51.8 70.5h1.1v1.1h-1.1zM8.6 65.7h1.1v1.1h-1.1zM7.8 66.0h1.1v1.1h-1.1zM7.1 66.4h1.1v1.1h-1.1zM6.4 66.8h1.1v1.1h-1.1zM5.9 67.4h1.1v1.1h-1.1zM5.3 67.9h1.1v1.1h-1.1zM26.9 66.2h1.1v1.1h-1.1zM27.6 66.5h1.1v1.1h-1.1zM28.4 66.3h1.1v1.1h-1.1zM29.2 66.0h1.1v1.1h-1.1zM29.9 65.8h1.1v1.1h-1.1zM30.6 65.4h1.1v1.1h-1.1zM31.1 64.8h1.1v1.1h-1.1zM32.8 66.2h1.1v1.1h-1.1zM32.0 66.2h1.1v1.1h-1.1zM31.2 65.9h1.1v1.1h-1.1zM30.4 65.8h1.1v1.1h-1.1zM29.6 65.9h1.1v1.1h-1.1zM28.8 66.0h1.1v1.1h-1.1zM28.0 66.0h1.1v1.1h-1.1zM27.3 65.7h1.1v1.1h-1.1zM26.7 65.1h1.1v1.1h-1.1zM22.8 66.8h1.1v1.1h-1.1zM22.0 66.9h1.1v1.1h-1.1zM21.3 67.3h1.1v1.1h-1.1zM20.7 67.8h1.1v1.1h-1.1zM20.0 68.2h1.1v1.1h-1.1zM57.3 67.4h1.1v1.1h-1.1zM56.5 67.5h1.1v1.1h-1.1zM55.7 67.6h1.1v1.1h-1.1zM54.9 67.9h1.1v1.1h-1.1zM54.2 68.1h1.1v1.1h-1.1zM53.4 68.2h1.1v1.1h-1.1zM52.6 68.0h1.1v1.1h-1.1zM51.8 68.1h1.1v1.1h-1.1zM36.3 67.1h1.1v1.1h-1.1zM35.5 67.1h1.1v1.1h-1.1zM34.7 67.3h1.1v1.1h-1.1zM34.0 67.7h1.1v1.1h-1.1zM33.4 68.3h1.1v1.1h-1.1zM32.7 68.4h1.1v1.1h-1.1zM31.9 68.6h1.1v1.1h-1.1zM31.2 69.1h1.1v1.1h-1.1zM30.4 69.2h1.1v1.1h-1.1zM46.0 68.4h1.1v1.1h-1.1zM45.2 68.2h1.1v1.1h-1.1zM44.5 68.0h1.1v1.1h-1.1zM43.7 68.0h1.1v1.1h-1.1zM42.9 68.1h1.1v1.1h-1.1zM42.1 67.8h1.1v1.1h-1.1zM41.4 67.5h1.1v1.1h-1.1zM40.6 67.3h1.1v1.1h-1.1zM39.8 67.2h1.1v1.1h-1.1zM25.6 65.4h1.1v1.1h-1.1zM26.3 65.0h1.1v1.1h-1.1zM26.9 64.5h1.1v1.1h-1.1zM27.3 63.8h1.1v1.1h-1.1zM27.8 63.1h1.1v1.1h-1.1zM28.2 62.4h1.1v1.1h-1.1zM28.8 62.0h1.1v1.1h-1.1zM29.5 61.6h1.1v1.1h-1.1zM30.0 60.9h1.1v1.1h-1.1zM30.6 60.4h1.1v1.1h-1.1zM51.4 68.3h1.1v1.1h-1.1zM52.2 68.4h1.1v1.1h-1.1zM53.0 68.2h1.1v1.1h-1.1zM53.7 67.8h1.1v1.1h-1.1zM54.1 67.1h1.1v1.1h-1.1zM54.3 66.3h1.1v1.1h-1.1zM54.5 65.5h1.1v1.1h-1.1zM54.9 64.9h1.1v1.1h-1.1zM55.3 64.2h1.1v1.1h-1.1zM55.5 63.4h1.1v1.1h-1.1zM17.4 63.9h1.1v1.1h-1.1zM18.1 63.7h1.1v1.1h-1.1zM18.9 63.5h1.1v1.1h-1.1zM19.7 63.2h1.1v1.1h-1.1zM20.5 63.2h1.1v1.1h-1.1zM21.2 62.9h1.1v1.1h-1.1zM22.0 62.9h1.1v1.1h-1.1zM22.8 62.6h1.1v1.1h-1.1zM23.5 62.3h1.1v1.1h-1.1zM24.3 62.3h1.1v1.1h-1.1zM22.5 69.0h1.1v1.1h-1.1zM23.2 68.6h1.1v1.1h-1.1zM23.7 68.0h1.1v1.1h-1.1zM24.5 67.7h1.1v1.1h-1.1zM25.2 67.5h1.1v1.1h-1.1zM26.0 67.7h1.1v1.1h-1.1zM26.8 68.0h1.1v1.1h-1.1zM27.5 68.4h1.1v1.1h-1.1zM28.2 68.7h1.1v1.1h-1.1zM28.8 69.2h1.1v1.1h-1.1zM10.6 65.0h1.1v1.1h-1.1zM9.8 64.9h1.1v1.1h-1.1zM9.0 65.1h1.1v1.1h-1.1zM8.5 65.6h1.1v1.1h-1.1zM7.7 65.9h1.1v1.1h-1.1zM25.2 68.4h1.1v1.1h-1.1zM26.0 68.1h1.1v1.1h-1.1zM26.8 68.0h1.1v1.1h-1.1zM27.6 68.0h1.1v1.1h-1.1zM28.4 67.7h1.1v1.1h-1.1zM46.6 70.1h1.1v1.1h-1.1zM47.3 69.9h1.1v1.1h-1.1zM48.0 69.6h1.1v1.1h-1.1zM48.7 69.1h1.1v1.1h-1.1zM49.2 68.5h1.1v1.1h-1.1zM16.2 64.4h1.1v1.1h-1.1zM15.5 64.2h1.1v1.1h-1.1zM14.7 64.0h1.1v1.1h-1.1zM14.1 63.5h1.1v1.1h-1.1zM13.3 63.2h1.1v1.1h-1.1zM12.7 62.7h1.1v1.1h-1.1zM45.9 70.8h1.1v1.1h-1.1zM46.4 71.5h1.1v1.1h-1.1zM46.7 72.2h1.1v1.1h-1.1zM47.0 73.0h1.1v1.1h-1.1zM47.4 73.7h1.1v1.1h-1.1zM48.0 74.2h1.1v1.1h-1.1zM48.6 74.7h1.1v1.1h-1.1zM49.3 75.1h1.1v1.1h-1.1zM50.1 75.3h1.1v1.1h-1.1zM11.2 67.5h1.1v1.1h-1.1zM10.5 67.6h1.1v1.1h-1.1zM9.8 68.1h1.1v1.1h-1.1zM9.4 68.8h1.1v1.1h-1.1zM9.1 69.5h1.1v1.1h-1.1zM8.6 70.1h1.1v1.1h-1.1zM8.3 70.9h1.1v1.1h-1.1zM7.8 71.5h1.1v1.1h-1.1zM7.1 71.9h1.1v1.1h-1.1zM50.0 66.1h1.1v1.1h-1.1zM49.2 66.0h1.1v1.1h-1.1zM48.4 66.1h1.1v1.1h-1.1zM47.7 66.4h1.1v1.1h-1.1zM46.9 66.4h1.1v1.1h-1.1zM46.1 66.6h1.1v1.1h-1.1zM45.3 66.6h1.1v1.1h-1.1zM9.6 65.8h1.1v1.1h-1.1zM10.4 65.8h1.1v1.1h-1.1zM11.2 65.6h1.1v1.1h-1.1zM12.0 65.8h1.1v1.1h-1.1zM12.7 66.1h1.1v1.1h-1.1zM13.5 66.1h1.1v1.1h-1.1zM14.2 66.5h1.1v1.1h-1.1zM14.8 67.1h1.1v1.1h-1.1zM15.1 67.8h1.1v1.1h-1.1zM15.6 68.5h1.1v1.1h-1.1zM59.2 70.5h1.1v1.1h-1.1zM58.5 70.1h1.1v1.1h-1.1zM57.8 69.8h1.1v1.1h-1.1zM57.1 69.4h1.1v1.1h-1.1zM56.3 69.3h1.1v1.1h-1.1zM55.5 69.1h1.1v1.1h-1.1zM54.7 69.3h1.1v1.1h-1.1zM53.9 69.2h1.1v1.1h-1.1zM53.1 69.0h1.1v1.1h-1.1zM52.3 68.9h1.1v1.1h-1.1zM51.6 68.7h1.1v1.1h-1.1zM59.0 68.2h1.1v1.1h-1.1zM59.8 68.0h1.1v1.1h-1.1zM60.6 67.9h1.1v1.1h-1.1zM61.4 67.8h1.1v1.1h-1.1zM62.1 67.5h1.1v1.1h-1.1zM62.8 67.1h1.1v1.1h-1.1zM63.5 66.8h1.1v1.1h-1.1zM13.6 67.2h1.1v1.1h-1.1zM14.4 67.1h1.1v1.1h-1.1zM15.2 67.4h1.1v1.1h-1.1zM15.9 67.8h1.1v1.1h-1.1zM16.6 67.9h1.1v1.1h-1.1zM17.4 68.2h1.1v1.1h-1.1zM18.2 68.3h1.1v1.1h-1.1zM19.0 68.3h1.1v1.1h-1.1zM19.8 68.5h1.1v1.1h-1.1zM20.4 69.0h1.1v1.1h-1.1zM30.2 66.7h1.1v1.1h-1.1zM29.4 66.5h1.1v1.1h-1.1zM28.6 66.2h1.1v1.1h-1.1zM27.8 66.1h1.1v1.1h-1.1zM27.1 65.9h1.1v1.1h-1.1zM26.5 65.3h1.1v1.1h-1.1zM25.9 64.9h1.1v1.1h-1.1zM25.2 64.4h1.1v1.1h-1.1zM24.4 64.2h1.1v1.1h-1.1zM23.7 64.3h1.1v1.1h-1.1zM22.9 64.5h1.1v1.1h-1.1zM46.9 69.9h1.1v1.1h-1.1zM46.2 69.6h1.1v1.1h-1.1zM45.6 69.0h1.1v1.1h-1.1zM44.9 68.6h1.1v1.1h-1.1zM44.3 68.0h1.1v1.1h-1.1zM21.2 63.9h1.1v1.1h-1.1zM21.7 63.2h1.1v1.1h-1.1zM21.9 62.5h1.1v1.1h-1.1zM21.8 61.7h1.1v1.1h-1.1zM21.4 61.0h1.1v1.1h-1.1zM20.8 60.5h1.1v1.1h-1.1zM20.1 60.0h1.1v1.1h-1.1zM19.4 59.7h1.1v1.1h-1.1zM18.7 59.4h1.1v1.1h-1.1zM18.1 58.8h1.1v1.1h-1.1zM13.9 67.2h1.1v1.1h-1.1zM13.3 66.7h1.1v1.1h-1.1zM12.5 66.5h1.1v1.1h-1.1zM11.7 66.5h1.1v1.1h-1.1zM10.9 66.6h1.1v1.1h-1.1zM10.1 66.7h1.1v1.1h-1.1zM9.4 67.0h1.1v1.1h-1.1zM8.7 67.3h1.1v1.1h-1.1zM8.0 67.7h1.1v1.1h-1.1zM31.3 68.6h1.1v1.1h-1.1zM32.1 68.6h1.1v1.1h-1.1zM32.9 68.5h1.1v1.1h-1.1zM33.6 68.3h1.1v1.1h-1.1zM34.3 67.9h1.1v1.1h-1.1zM46.8 67.0h1.1v1.1h-1.1zM47.6 66.9h1.1v1.1h-1.1zM48.3 66.6h1.1v1.1h-1.1zM49.1 66.7h1.1v1.1h-1.1zM49.9 66.9h1.1v1.1h-1.1zM50.5 67.4h1.1v1.1h-1.1zM51.0 68.0h1.1v1.1h-1.1zM51.3 68.8h1.1v1.1h-1.1zM51.8 69.4h1.1v1.1h-1.1zM45.3 64.3h1.1v1.1h-1.1zM46.1 64.2h1.1v1.1h-1.1zM46.9 64.2h1.1v1.1h-1.1zM47.7 64.4h1.1v1.1h-1.1zM48.5 64.5h1.1v1.1h-1.1zM49.3 64.4h1.1v1.1h-1.1zM50.1 64.3h1.1v1.1h-1.1zM50.8 64.5h1.1v1.1h-1.1zM51.6 64.4h1.1v1.1h-1.1zM137.4 36.6h1.4v1.4h-1.4zM137.5 36.3h1.2v1.2h-1.2zM136.2 38.9h1.0v1.0h-1.0zM136.2 36.4h1.6v1.6h-1.6zM137.1 37.8h1.5v1.5h-1.5zM137.8 36.3h1.2v1.2h-1.2zM137.4 37.3h1.3v1.3h-1.3zM137.4 36.6h1.4v1.4h-1.4zM138.8 35.4h1.0v1.0h-1.0zM138.1 35.9h1.1v1.1h-1.1zM138.8 36.3h1.4v1.4h-1.4zM138.9 33.8h1.3v1.3h-1.3zM139.6 34.0h1.4v1.4h-1.4zM141.5 32.7h1.0v1.0h-1.0zM141.1 32.3h1.4v1.4h-1.4zM141.0 33.3h1.4v1.4h-1.4zM139.8 34.0h1.1v1.1h-1.1zM140.6 33.0h1.1v1.1h-1.1zM142.0 33.2h1.2v1.2h-1.2zM143.3 35.2h1.2v1.2h-1.2zM142.2 33.2h1.4v1.4h-1.4zM143.3 35.5h1.4v1.4h-1.4zM142.0 34.9h1.5v1.5h-1.5zM142.0 38.8h1.5v1.5h-1.5zM141.1 39.4h1.0v1.0h-1.0zM142.5 37.2h1.1v1.1h-1.1zM140.9 40.4h1.2v1.2h-1.2zM140.7 39.8h1.3v1.3h-1.3zM142.4 37.0h1.5v1.5h-1.5zM141.3 39.3h1.5v1.5h-1.5zM141.3 39.4h1.4v1.4h-1.4zM140.8 38.2h1.6v1.6h-1.6zM144.0 36.2h1.9v1.9h-1.9zM145.4 39.1h2.0v2.0h-2.0zM143.5 36.8h1.2v1.2h-1.2zM145.1 39.5h1.6v1.6h-1.6zM142.9 36.2h1.6v1.6h-1.6zM146.1 38.4h1.6v1.6h-1.6zM146.7 39.2h1.7v1.7h-1.7zM145.6 38.1h1.4v1.4h-1.4zM144.0 36.7h1.5v1.5h-1.5zM142.9 36.7h1.8v1.8h-1.8zM143.4 37.8h1.5v1.5h-1.5zM143.6 36.7h1.7v1.7h-1.7zM149.5 42.0h1.8v1.8h-1.8zM147.7 40.1h1.4v1.4h-1.4zM148.2 42.0h1.3v1.3h-1.3zM150.0 43.3h1.2v1.2h-1.2zM147.9 41.5h1.7v1.7h-1.7zM149.4 42.2h1.8v1.8h-1.8zM148.7 40.7h1.5v1.5h-1.5zM148.3 41.6h1.3v1.3h-1.3zM148.5 40.9h1.5v1.5h-1.5zM147.3 40.1h1.3v1.3h-1.3zM150.7 42.5h2.0v2.0h-2.0zM153.5 44.6h2.0v2.0h-2.0zM154.3 44.0h1.6v1.6h-1.6zM156.2 44.7h1.4v1.4h-1.4zM151.0 42.3h1.4v1.4h-1.4zM150.5 44.1h2.0v2.0h-2.0zM155.1 45.4h1.5v1.5h-1.5zM155.5 47.4h1.8v1.8h-1.8zM152.3 44.1h1.3v1.3h-1.3zM156.6 45.2h1.5v1.5h-1.5zM151.8 43.3h1.6v1.6h-1.6zM156.1 44.5h1.8v1.8h-1.8zM154.1 44.4h1.3v1.3h-1.3zM152.3 45.6h1.7v1.7h-1.7zM151.7 43.4h1.7v1.7h-1.7zM151.0 43.8h1.8v1.8h-1.8zM153.6 44.5h1.9v1.9h-1.9zM153.1 45.7h1.2v1.2h-1.2zM153.9 44.5h1.9v1.9h-1.9zM153.0 44.0h1.8v1.8h-1.8zM152.6 45.1h1.5v1.5h-1.5zM151.2 43.0h1.8v1.8h-1.8zM156.6 45.5h1.8v1.8h-1.8zM153.2 45.0h1.9v1.9h-1.9zM154.5 43.8h1.7v1.7h-1.7zM154.9 47.3h1.6v1.6h-1.6zM151.8 44.0h1.7v1.7h-1.7zM151.6 44.0h1.9v1.9h-1.9zM155.4 45.6h1.4v1.4h-1.4zM155.8 45.3h1.7v1.7h-1.7zM152.6 45.9h2.1v2.1h-2.1zM153.9 47.0h1.9v1.9h-1.9zM158.2 48.0h1.6v1.6h-1.6zM162.6 48.4h1.5v1.5h-1.5zM160.0 47.0h2.0v2.0h-2.0zM160.5 48.4h1.6v1.6h-1.6zM157.8 45.7h1.4v1.4h-1.4zM160.2 47.4h1.4v1.4h-1.4zM161.7 46.0h2.1v2.1h-2.1zM160.3 46.4h1.3v1.3h-1.3zM161.3 47.7h1.4v1.4h-1.4zM158.7 46.9h1.3v1.3h-1.3zM161.0 48.6h1.8v1.8h-1.8zM162.5 47.7h1.9v1.9h-1.9zM157.3 47.0h1.5v1.5h-1.5zM159.8 47.0h1.8v1.8h-1.8zM163.5 47.0h1.7v1.7h-1.7zM159.6 45.6h1.7v1.7h-1.7zM157.5 47.3h1.6v1.6h-1.6zM158.5 45.6h1.9v1.9h-1.9zM160.9 46.8h1.4v1.4h-1.4zM158.4 47.5h1.8v1.8h-1.8zM157.8 46.1h1.2v1.2h-1.2zM157.2 46.0h1.4v1.4h-1.4zM160.7 46.6h1.4v1.4h-1.4zM160.6 46.3h1.8v1.8h-1.8zM159.6 46.2h2.0v2.0h-2.0zM163.6 48.9h1.4v1.4h-1.4zM157.8 44.8h1.8v1.8h-1.8zM160.7 46.4h1.8v1.8h-1.8zM163.2 47.4h1.6v1.6h-1.6zM163.8 47.0h1.8v1.8h-1.8zM158.8 47.2h1.5v1.5h-1.5zM156.8 45.0h2.1v2.1h-2.1zM157.3 48.4h1.2v1.2h-1.2zM163.1 46.4h2.0v2.0h-2.0zM161.4 48.4h1.3v1.3h-1.3zM161.2 47.8h1.7v1.7h-1.7zM160.5 47.6h1.7v1.7h-1.7zM163.4 47.5h2.0v2.0h-2.0zM158.1 48.0h1.5v1.5h-1.5zM145.6 39.2h1.1v1.1h-1.1zM146.2 38.1h0.9v0.9h-0.9zM157.4 48.8h1.1v1.1h-1.1zM155.6 52.8h0.9v0.9h-0.9zM156.2 51.8h1.4v1.4h-1.4zM154.9 51.5h1.2v1.2h-1.2zM154.9 51.8h1.0v1.0h-1.0zM154.3 52.6h1.0v1.0h-1.0zM156.0 51.3h1.1v1.1h-1.1zM158.0 51.8h1.2v1.2h-1.2zM157.7 51.4h1.2v1.2h-1.2zM155.5 52.0h1.0v1.0h-1.0zM157.1 52.8h1.0v1.0h-1.0zM156.4 52.3h1.2v1.2h-1.2zM155.9 52.8h1.1v1.1h-1.1zM155.5 52.2h1.0v1.0h-1.0zM157.9 51.6h1.4v1.4h-1.4zM160.5 54.4h0.9v0.9h-0.9zM159.8 55.0h0.8v0.8h-0.8zM159.3 54.5h0.7v0.7h-0.7zM169.6 46.8h1.0v1.0h-1.0zM212.4 57.3h1.1v1.1h-1.1zM248.3 97.5h0.7v0.7h-0.7z" fill="#efc53f" opacity="0.9"/><path d="M21.4 65.3h1.3v1.3h-1.3zM18.8 67.6h1.4v1.4h-1.4zM5.4 66.6h1.1v1.1h-1.1zM8.2 66.9h1.4v1.4h-1.4zM11.1 66.4h1.3v1.3h-1.3zM17.9 67.5h1.4v1.4h-1.4zM12.1 65.4h1.2v1.2h-1.2zM8.5 64.5h1.4v1.4h-1.4zM21.3 66.3h0.8v0.8h-0.8zM5.8 66.9h1.0v1.0h-1.0zM10.8 63.7h1.0v1.0h-1.0zM18.9 65.8h1.1v1.1h-1.1zM15.6 66.9h1.2v1.2h-1.2zM14.1 64.3h1.2v1.2h-1.2zM16.2 67.9h1.4v1.4h-1.4zM15.9 63.7h1.0v1.0h-1.0zM17.4 66.0h1.0v1.0h-1.0zM10.5 67.1h0.9v0.9h-0.9zM19.0 66.5h0.9v0.9h-0.9zM32.2 65.1h1.4v1.4h-1.4zM26.0 69.0h1.1v1.1h-1.1zM31.0 66.5h1.2v1.2h-1.2zM38.7 68.3h1.2v1.2h-1.2zM29.2 68.6h1.0v1.0h-1.0zM30.6 69.3h1.4v1.4h-1.4zM29.0 69.0h1.1v1.1h-1.1zM34.4 64.5h1.1v1.1h-1.1zM31.6 64.0h0.8v0.8h-0.8zM30.7 67.3h1.3v1.3h-1.3zM37.9 65.2h1.4v1.4h-1.4zM36.3 69.0h1.2v1.2h-1.2zM27.0 68.0h1.1v1.1h-1.1zM27.3 64.9h1.2v1.2h-1.2zM21.3 66.6h1.4v1.4h-1.4zM38.6 70.0h1.0v1.0h-1.0zM35.9 64.8h0.9v0.9h-0.9zM24.6 67.3h1.2v1.2h-1.2zM28.6 65.7h1.4v1.4h-1.4zM36.3 66.9h1.2v1.2h-1.2zM31.1 65.4h1.5v1.5h-1.5zM46.5 69.2h0.9v0.9h-0.9zM49.0 67.8h0.8v0.8h-0.8zM55.0 70.9h1.2v1.2h-1.2zM57.9 68.9h1.4v1.4h-1.4zM46.5 71.0h1.0v1.0h-1.0zM50.9 66.9h1.5v1.5h-1.5zM57.1 68.1h1.4v1.4h-1.4zM43.3 67.6h1.4v1.4h-1.4zM41.2 66.8h0.8v0.8h-0.8zM51.5 69.4h0.9v0.9h-0.9zM50.7 68.6h0.9v0.9h-0.9zM46.9 67.9h1.3v1.3h-1.3zM55.7 71.0h1.0v1.0h-1.0zM49.6 67.5h1.1v1.1h-1.1zM53.1 70.4h1.0v1.0h-1.0zM56.9 68.2h1.4v1.4h-1.4zM42.4 69.2h0.9v0.9h-0.9zM54.4 71.2h1.1v1.1h-1.1zM58.8 68.8h1.3v1.3h-1.3zM63.7 68.0h1.1v1.1h-1.1zM48.5 67.5h1.0v1.0h-1.0zM46.2 68.0h1.0v1.0h-1.0zM8.6 71.0h1.2v1.2h-1.2zM12.8 71.8h0.9v0.9h-0.9zM10.4 69.8h1.3v1.3h-1.3zM8.1 68.4h1.3v1.3h-1.3zM9.1 69.2h1.2v1.2h-1.2zM28.7 73.0h1.4v1.4h-1.4zM28.8 72.4h1.4v1.4h-1.4zM22.8 71.6h0.9v0.9h-0.9zM31.3 74.1h1.1v1.1h-1.1zM42.5 75.4h1.1v1.1h-1.1zM33.6 75.3h0.8v0.8h-0.8zM44.7 74.8h1.0v1.0h-1.0zM42.4 74.5h1.3v1.3h-1.3zM54.0 76.7h1.1v1.1h-1.1zM53.6 71.3h1.3v1.3h-1.3zM53.8 76.0h0.9v0.9h-0.9zM51.5 75.5h1.2v1.2h-1.2zM51.7 76.0h0.9v0.9h-0.9zM51.7 71.7h0.9v0.9h-0.9zM52.7 74.2h1.2v1.2h-1.2zM60.0 74.1h1.5v1.5h-1.5zM55.4 75.0h0.8v0.8h-0.8zM49.9 75.8h1.5v1.5h-1.5zM60.0 74.1h0.9v0.9h-0.9zM52.9 76.4h1.1v1.1h-1.1zM51.2 73.3h1.2v1.2h-1.2zM50.3 74.1h1.2v1.2h-1.2zM55.2 76.1h1.4v1.4h-1.4zM56.5 72.2h1.0v1.0h-1.0zM50.5 72.1h1.3v1.3h-1.3zM53.6 73.5h1.4v1.4h-1.4zM58.4 70.7h1.0v1.0h-1.0zM59.9 72.4h1.2v1.2h-1.2zM59.3 73.3h1.3v1.3h-1.3zM63.4 71.8h0.8v0.8h-0.8zM57.1 71.2h0.9v0.9h-0.9zM58.7 73.4h1.0v1.0h-1.0zM58.2 70.1h1.1v1.1h-1.1zM59.6 70.7h1.1v1.1h-1.1zM87.8 103.8h1.3v1.3h-1.3zM137.9 36.3h1.3v1.3h-1.3zM137.8 37.3h1.0v1.0h-1.0zM137.0 37.4h1.5v1.5h-1.5zM138.8 35.8h1.2v1.2h-1.2zM138.8 34.2h1.1v1.1h-1.1zM138.5 35.6h1.6v1.6h-1.6zM142.5 35.2h1.0v1.0h-1.0zM142.9 35.3h1.5v1.5h-1.5zM142.3 37.4h1.2v1.2h-1.2zM141.9 38.7h1.2v1.2h-1.2zM141.1 39.1h1.6v1.6h-1.6zM141.4 37.3h1.2v1.2h-1.2zM146.2 40.0h1.4v1.4h-1.4zM146.6 39.1h1.5v1.5h-1.5zM144.4 36.6h1.5v1.5h-1.5zM142.9 37.3h1.8v1.8h-1.8zM146.4 39.3h1.6v1.6h-1.6zM143.8 36.7h1.8v1.8h-1.8zM143.4 37.3h1.6v1.6h-1.6zM142.6 37.1h1.3v1.3h-1.3zM147.3 39.7h1.4v1.4h-1.4zM147.1 38.8h1.8v1.8h-1.8zM149.7 43.0h1.5v1.5h-1.5zM146.5 40.4h1.7v1.7h-1.7zM148.7 42.2h1.3v1.3h-1.3zM147.4 40.7h1.7v1.7h-1.7zM149.0 42.4h1.9v1.9h-1.9zM149.1 43.2h1.4v1.4h-1.4zM148.8 41.2h2.0v2.0h-2.0zM147.6 41.1h1.9v1.9h-1.9zM150.3 42.4h2.0v2.0h-2.0zM155.2 45.2h1.5v1.5h-1.5zM155.3 45.5h1.4v1.4h-1.4zM151.8 45.3h1.7v1.7h-1.7zM152.8 43.3h1.8v1.8h-1.8zM153.9 43.1h1.3v1.3h-1.3zM153.7 43.9h1.4v1.4h-1.4zM155.1 44.6h1.8v1.8h-1.8zM155.0 44.2h2.1v2.1h-2.1zM154.3 43.4h1.8v1.8h-1.8zM152.8 40.8h1.2v1.2h-1.2zM153.1 44.8h1.3v1.3h-1.3zM153.8 47.4h1.4v1.4h-1.4zM158.3 45.9h1.4v1.4h-1.4zM162.9 48.6h2.1v2.1h-2.1zM162.8 48.7h1.8v1.8h-1.8zM162.1 47.7h1.7v1.7h-1.7zM159.9 45.8h1.9v1.9h-1.9zM159.9 45.5h1.5v1.5h-1.5zM161.5 48.0h1.9v1.9h-1.9zM159.8 47.4h1.7v1.7h-1.7zM157.0 52.5h1.2v1.2h-1.2zM157.3 51.3h0.9v0.9h-0.9zM156.6 52.4h1.2v1.2h-1.2zM154.2 51.5h1.3v1.3h-1.3zM157.1 52.0h1.2v1.2h-1.2zM155.7 51.7h1.2v1.2h-1.2zM157.8 52.2h1.0v1.0h-1.0zM156.2 51.8h1.0v1.0h-1.0zM156.2 52.2h1.0v1.0h-1.0zM156.2 51.8h1.2v1.2h-1.2zM196.9 97.3h1.1v1.1h-1.1zM194.3 96.8h0.7v0.7h-0.7zM192.5 96.8h1.0v1.0h-1.0z" fill="#efc53f" opacity="1.0"/><path d="M203.3 49.4h1.1v1.1h-1.1zM192.2 50.6h1.5v1.5h-1.5zM198.2 52.8h0.9v0.9h-0.9zM212.2 42.0h1.2v1.2h-1.2zM195.1 45.4h1.0v1.0h-1.0zM190.8 49.3h1.1v1.1h-1.1zM193.7 46.9h1.5v1.5h-1.5zM207.0 45.6h1.0v1.0h-1.0zM213.3 37.5h1.0v1.0h-1.0zM203.9 46.8h1.6v1.6h-1.6zM205.9 39.4h1.3v1.3h-1.3zM211.0 43.6h1.3v1.3h-1.3zM198.2 39.3h1.5v1.5h-1.5z" fill="#f8992a" opacity="0.1"/><path d="M200.1 39.6h0.8v0.8h-0.8zM206.4 41.0h0.9v0.9h-0.9zM211.0 48.8h1.5v1.5h-1.5zM206.4 50.8h1.4v1.4h-1.4zM193.6 50.1h1.6v1.6h-1.6zM194.4 49.1h1.5v1.5h-1.5zM204.9 43.2h1.5v1.5h-1.5zM212.2 43.1h0.9v0.9h-0.9zM191.3 43.4h1.0v1.0h-1.0zM205.8 47.4h1.6v1.6h-1.6zM201.8 49.8h1.4v1.4h-1.4zM201.4 36.6h1.3v1.3h-1.3zM195.1 49.0h1.5v1.5h-1.5zM214.1 40.9h1.1v1.1h-1.1zM206.4 47.3h1.0v1.0h-1.0zM205.2 39.1h1.5v1.5h-1.5zM194.9 49.0h1.1v1.1h-1.1zM209.3 34.9h1.2v1.2h-1.2zM191.7 49.5h1.2v1.2h-1.2zM201.2 36.1h1.3v1.3h-1.3zM198.2 44.2h1.6v1.6h-1.6zM205.6 48.3h1.0v1.0h-1.0zM204.4 48.2h1.3v1.3h-1.3zM201.9 51.3h1.4v1.4h-1.4zM205.0 37.5h1.4v1.4h-1.4zM215.9 37.1h0.8v0.8h-0.8zM200.9 36.5h0.9v0.9h-0.9zM204.7 52.2h1.4v1.4h-1.4zM209.6 38.3h1.2v1.2h-1.2zM210.9 39.3h1.1v1.1h-1.1zM195.3 45.1h1.4v1.4h-1.4zM197.7 36.7h1.3v1.3h-1.3zM196.5 37.7h1.4v1.4h-1.4zM207.9 45.8h1.0v1.0h-1.0zM206.3 46.4h1.1v1.1h-1.1zM194.7 51.9h1.3v1.3h-1.3zM197.2 49.2h1.3v1.3h-1.3zM195.7 49.9h0.9v0.9h-0.9zM197.6 45.3h1.2v1.2h-1.2zM196.8 45.3h1.3v1.3h-1.3zM208.7 48.8h1.2v1.2h-1.2zM203.0 33.5h1.0v1.0h-1.0zM198.0 51.8h0.9v0.9h-0.9zM198.7 37.2h1.3v1.3h-1.3zM200.6 49.6h0.9v0.9h-0.9zM206.5 44.1h1.6v1.6h-1.6zM213.8 46.4h1.5v1.5h-1.5zM195.8 44.2h1.3v1.3h-1.3zM204.7 51.3h1.2v1.2h-1.2zM191.0 43.5h1.4v1.4h-1.4zM211.8 36.7h1.3v1.3h-1.3zM211.7 44.8h1.3v1.3h-1.3zM210.9 49.2h0.9v0.9h-0.9zM206.8 45.9h1.0v1.0h-1.0zM195.6 43.0h1.2v1.2h-1.2zM193.9 40.6h0.9v0.9h-0.9zM188.7 44.1h1.1v1.1h-1.1zM186.0 45.3h0.9v0.9h-0.9z" fill="#f8992a" opacity="0.2"/><path d="M178.3 43.6h1.0v1.0h-1.0zM178.7 56.2h1.1v1.1h-1.1zM173.4 45.0h1.2v1.2h-1.2zM177.6 47.7h1.6v1.6h-1.6zM176.8 61.5h1.7v1.7h-1.7zM188.7 53.9h1.4v1.4h-1.4zM184.8 56.7h1.0v1.0h-1.0zM190.5 60.9h1.4v1.4h-1.4zM192.2 50.3h1.0v1.0h-1.0zM188.9 52.1h1.4v1.4h-1.4zM190.9 46.1h1.1v1.1h-1.1zM196.6 63.2h1.0v1.0h-1.0zM180.0 74.0h0.9v0.9h-0.9zM208.8 40.7h1.1v1.1h-1.1zM198.4 34.9h1.0v1.0h-1.0zM196.4 44.4h1.0v1.0h-1.0zM204.9 43.6h1.2v1.2h-1.2zM203.5 34.9h1.4v1.4h-1.4zM197.5 44.8h1.3v1.3h-1.3zM192.7 42.9h1.0v1.0h-1.0zM207.8 41.0h1.3v1.3h-1.3zM207.9 33.5h0.9v0.9h-0.9zM212.2 43.5h0.8v0.8h-0.8zM203.4 44.0h1.3v1.3h-1.3zM191.6 44.2h1.3v1.3h-1.3zM209.3 35.6h1.2v1.2h-1.2zM210.3 39.2h0.9v0.9h-0.9zM191.4 49.6h0.9v0.9h-0.9zM210.6 50.6h1.2v1.2h-1.2zM204.2 46.7h1.5v1.5h-1.5zM206.5 46.2h1.5v1.5h-1.5zM200.8 48.0h1.3v1.3h-1.3zM198.8 40.2h0.9v0.9h-0.9zM215.6 40.5h1.1v1.1h-1.1zM202.4 52.7h1.4v1.4h-1.4zM201.6 49.5h1.2v1.2h-1.2zM203.6 49.3h1.4v1.4h-1.4zM210.1 43.4h1.4v1.4h-1.4zM212.5 39.4h1.0v1.0h-1.0zM195.9 52.7h1.4v1.4h-1.4zM199.6 35.6h0.8v0.8h-0.8zM192.7 39.8h1.1v1.1h-1.1zM205.9 32.9h1.0v1.0h-1.0zM202.5 41.7h0.9v0.9h-0.9zM206.0 39.1h1.4v1.4h-1.4zM208.1 41.2h1.5v1.5h-1.5zM198.8 46.3h1.2v1.2h-1.2zM211.4 36.6h1.0v1.0h-1.0zM211.4 33.7h1.5v1.5h-1.5zM216.2 41.5h1.4v1.4h-1.4zM191.8 50.7h1.0v1.0h-1.0zM207.9 47.8h1.3v1.3h-1.3zM193.5 45.7h0.9v0.9h-0.9zM201.3 33.9h1.0v1.0h-1.0zM199.2 47.5h1.0v1.0h-1.0zM208.5 42.5h0.9v0.9h-0.9zM205.5 37.5h1.5v1.5h-1.5zM206.8 49.5h1.3v1.3h-1.3zM205.2 50.8h0.9v0.9h-0.9zM203.7 34.1h1.5v1.5h-1.5zM212.2 29.6h0.9v0.9h-0.9zM209.8 32.4h0.9v0.9h-0.9zM211.4 31.5h0.9v0.9h-0.9zM186.6 47.1h1.1v1.1h-1.1zM192.2 46.9h1.0v1.0h-1.0zM185.8 45.3h1.0v1.0h-1.0zM213.3 26.8h0.9v0.9h-0.9zM213.3 24.8h0.9v0.9h-0.9z" fill="#f8992a" opacity="0.3"/><path d="M174.9 59.1h1.3v1.3h-1.3zM177.2 47.9h1.7v1.7h-1.7zM172.7 45.1h1.3v1.3h-1.3zM176.4 52.1h1.2v1.2h-1.2zM176.9 50.8h1.5v1.5h-1.5zM180.9 60.5h1.2v1.2h-1.2zM186.3 64.3h1.4v1.4h-1.4zM185.8 53.7h1.2v1.2h-1.2zM181.8 63.6h1.0v1.0h-1.0zM182.4 54.5h1.5v1.5h-1.5zM187.2 55.0h1.4v1.4h-1.4zM188.4 63.0h1.5v1.5h-1.5zM190.7 63.9h1.2v1.2h-1.2zM191.3 60.0h1.3v1.3h-1.3zM184.4 61.0h1.2v1.2h-1.2zM189.2 63.6h1.6v1.6h-1.6zM187.9 54.3h1.6v1.6h-1.6zM190.8 51.1h1.1v1.1h-1.1zM195.6 51.2h1.4v1.4h-1.4zM193.7 47.9h1.4v1.4h-1.4zM188.6 51.6h1.3v1.3h-1.3zM194.3 48.5h1.0v1.0h-1.0zM194.5 65.0h0.8v0.8h-0.8zM195.4 63.3h0.8v0.8h-0.8zM201.0 36.6h1.1v1.1h-1.1zM211.6 46.1h0.8v0.8h-0.8zM213.9 40.5h1.3v1.3h-1.3zM207.7 37.8h1.5v1.5h-1.5zM196.6 43.0h0.9v0.9h-0.9zM213.6 42.0h1.0v1.0h-1.0zM208.4 35.2h1.0v1.0h-1.0zM200.9 49.2h1.1v1.1h-1.1zM207.7 32.7h1.4v1.4h-1.4zM216.2 38.2h1.0v1.0h-1.0zM197.8 48.1h1.0v1.0h-1.0zM197.6 53.2h0.9v0.9h-0.9zM197.6 40.4h1.4v1.4h-1.4zM195.5 38.2h1.2v1.2h-1.2zM195.2 52.2h0.8v0.8h-0.8zM201.2 37.9h1.5v1.5h-1.5zM212.5 46.6h1.1v1.1h-1.1zM213.6 39.9h0.8v0.8h-0.8zM205.4 53.2h1.0v1.0h-1.0zM205.1 52.9h1.0v1.0h-1.0zM201.5 49.9h0.8v0.8h-0.8zM213.0 48.3h1.1v1.1h-1.1zM214.3 46.4h1.2v1.2h-1.2zM198.1 38.4h1.3v1.3h-1.3zM198.8 48.5h0.8v0.8h-0.8zM205.3 40.9h1.3v1.3h-1.3zM197.3 44.3h1.4v1.4h-1.4zM196.0 51.3h1.0v1.0h-1.0zM190.7 43.3h1.5v1.5h-1.5zM216.0 39.1h1.4v1.4h-1.4zM194.4 39.5h1.4v1.4h-1.4zM203.1 45.0h1.4v1.4h-1.4zM199.5 36.1h1.3v1.3h-1.3zM192.7 45.6h1.4v1.4h-1.4zM199.0 44.1h1.4v1.4h-1.4zM216.0 42.3h1.3v1.3h-1.3zM206.9 50.4h1.4v1.4h-1.4zM200.8 48.0h1.4v1.4h-1.4zM210.0 42.3h1.0v1.0h-1.0zM202.2 52.0h1.2v1.2h-1.2zM205.5 40.3h1.1v1.1h-1.1zM209.2 33.3h1.1v1.1h-1.1zM202.6 36.6h1.5v1.5h-1.5zM195.5 41.5h0.9v0.9h-0.9zM210.4 29.2h1.1v1.1h-1.1zM204.7 51.9h1.0v1.0h-1.0zM204.0 51.3h1.1v1.1h-1.1zM212.2 47.4h0.9v0.9h-0.9zM208.4 48.1h0.8v0.8h-0.8zM206.4 49.5h1.0v1.0h-1.0zM187.5 48.9h1.3v1.3h-1.3zM217.2 20.8h0.9v0.9h-0.9zM217.9 21.8h1.0v1.0h-1.0zM211.9 23.5h1.0v1.0h-1.0z" fill="#f8992a" opacity="0.4"/><path d="M173.2 44.1h0.7v0.7h-0.7zM172.4 44.6h0.6v0.6h-0.6zM181.8 51.8h1.7v1.7h-1.7zM180.6 54.4h1.6v1.6h-1.6zM174.3 53.9h1.1v1.1h-1.1zM181.4 63.8h1.7v1.7h-1.7zM184.1 65.2h1.7v1.7h-1.7zM181.8 62.1h1.4v1.4h-1.4zM181.6 62.7h1.2v1.2h-1.2zM187.9 58.1h1.3v1.3h-1.3zM179.5 57.3h1.8v1.8h-1.8zM190.3 57.7h1.4v1.4h-1.4zM184.1 59.5h1.2v1.2h-1.2zM182.1 64.6h1.4v1.4h-1.4zM180.2 60.6h1.6v1.6h-1.6zM192.0 50.1h1.0v1.0h-1.0zM192.2 48.5h1.0v1.0h-1.0zM192.6 47.0h1.3v1.3h-1.3zM192.4 54.2h1.2v1.2h-1.2zM194.3 47.9h1.2v1.2h-1.2zM196.4 65.6h1.0v1.0h-1.0zM195.7 63.3h0.9v0.9h-0.9zM181.2 77.0h0.9v0.9h-0.9zM179.0 72.8h1.0v1.0h-1.0zM178.6 70.2h0.9v0.9h-0.9zM180.8 76.9h0.9v0.9h-0.9zM180.1 73.8h1.0v1.0h-1.0zM188.4 90.9h0.9v0.9h-0.9zM202.1 48.0h1.1v1.1h-1.1zM213.8 40.5h1.1v1.1h-1.1zM195.3 36.7h0.8v0.8h-0.8zM199.4 34.6h0.9v0.9h-0.9zM199.4 40.1h1.1v1.1h-1.1zM199.7 35.5h1.1v1.1h-1.1zM197.7 36.6h1.2v1.2h-1.2zM212.8 29.8h1.0v1.0h-1.0zM211.6 29.6h1.2v1.2h-1.2zM209.2 30.5h1.0v1.0h-1.0zM212.3 29.6h1.3v1.3h-1.3zM201.6 53.2h1.2v1.2h-1.2zM201.4 50.8h0.9v0.9h-0.9zM210.5 49.3h1.1v1.1h-1.1zM206.8 50.6h0.8v0.8h-0.8zM211.6 46.3h0.9v0.9h-0.9zM204.1 51.0h1.0v1.0h-1.0zM201.8 53.2h0.8v0.8h-0.8zM184.6 46.1h1.1v1.1h-1.1z" fill="#f8992a" opacity="0.5"/><path d="M172.9 44.0h0.9v0.9h-0.9zM164.4 46.5h0.8v0.8h-0.8zM173.6 45.4h0.8v0.8h-0.8zM171.6 46.2h0.7v0.7h-0.7zM180.9 49.7h1.3v1.3h-1.3zM180.7 61.2h1.1v1.1h-1.1zM174.3 55.1h1.7v1.7h-1.7zM183.1 65.9h1.6v1.6h-1.6zM187.0 58.8h1.1v1.1h-1.1zM191.3 58.1h1.5v1.5h-1.5zM193.4 51.6h1.1v1.1h-1.1zM193.1 54.4h0.9v0.9h-0.9zM194.4 47.5h1.0v1.0h-1.0zM191.6 52.1h0.9v0.9h-0.9zM193.5 51.6h1.5v1.5h-1.5zM189.2 49.7h1.2v1.2h-1.2zM196.4 68.3h0.9v0.9h-0.9zM197.0 64.9h0.9v0.9h-0.9zM179.5 75.1h1.0v1.0h-1.0zM180.0 71.8h0.7v0.7h-0.7zM182.4 75.5h1.1v1.1h-1.1zM179.3 70.2h1.0v1.0h-1.0zM213.7 61.5h0.9v0.9h-0.9zM214.1 64.1h0.9v0.9h-0.9zM201.4 97.3h1.0v1.0h-1.0zM202.6 97.2h0.8v0.8h-0.8zM248.0 96.9h0.8v0.8h-0.8zM245.3 96.7h0.8v0.8h-0.8zM202.4 46.3h0.9v0.9h-0.9zM207.5 48.8h1.1v1.1h-1.1zM211.8 43.1h1.1v1.1h-1.1zM197.4 52.6h0.9v0.9h-0.9zM199.4 40.0h1.0v1.0h-1.0zM204.1 35.2h0.9v0.9h-0.9zM194.7 40.1h0.9v0.9h-0.9zM191.9 36.5h0.8v0.8h-0.8zM211.3 32.5h0.8v0.8h-0.8zM213.7 47.2h0.7v0.7h-0.7zM196.9 55.9h0.7v0.7h-0.7zM206.1 48.1h1.1v1.1h-1.1zM211.4 47.1h1.0v1.0h-1.0zM196.7 55.4h1.0v1.0h-1.0zM202.7 53.4h1.1v1.1h-1.1zM203.4 51.1h0.9v0.9h-0.9zM187.7 45.0h0.9v0.9h-0.9z" fill="#f8992a" opacity="0.6"/><path d="M172.1 45.0h1.0v1.0h-1.0zM176.0 56.4h1.5v1.5h-1.5zM178.5 54.0h1.7v1.7h-1.7zM180.4 47.9h1.6v1.6h-1.6zM187.2 57.8h1.2v1.2h-1.2zM188.1 55.9h1.7v1.7h-1.7zM188.9 48.4h1.2v1.2h-1.2zM196.2 64.8h0.9v0.9h-0.9zM181.3 73.3h1.0v1.0h-1.0zM213.5 63.8h1.0v1.0h-1.0zM223.0 73.4h0.8v0.8h-0.8zM193.4 96.7h0.7v0.7h-0.7zM198.3 97.8h0.9v0.9h-0.9zM187.7 91.5h1.0v1.0h-1.0zM198.1 40.1h0.7v0.7h-0.7zM197.5 48.3h0.8v0.8h-0.8zM205.5 34.5h1.2v1.2h-1.2zM212.4 44.3h0.9v0.9h-0.9zM195.9 46.6h0.7v0.7h-0.7zM199.4 35.7h1.1v1.1h-1.1zM209.8 45.2h0.8v0.8h-0.8zM193.9 41.5h1.0v1.0h-1.0zM197.1 36.7h0.7v0.7h-0.7zM201.6 39.0h1.1v1.1h-1.1zM198.2 39.5h0.9v0.9h-0.9zM200.9 34.7h1.0v1.0h-1.0zM201.0 40.9h0.7v0.7h-0.7zM202.9 38.8h1.1v1.1h-1.1zM206.4 27.8h1.0v1.0h-1.0zM208.9 24.9h1.2v1.2h-1.2zM207.4 24.9h0.9v0.9h-0.9zM209.0 28.4h1.4v1.4h-1.4zM206.4 27.6h0.9v0.9h-0.9zM207.8 24.8h1.3v1.3h-1.3zM205.5 26.3h1.5v1.5h-1.5zM206.4 27.7h1.5v1.5h-1.5zM207.0 27.5h1.1v1.1h-1.1zM212.9 30.0h0.9v0.9h-0.9zM211.8 33.6h1.2v1.2h-1.2zM213.3 30.5h1.2v1.2h-1.2zM207.8 30.1h1.3v1.3h-1.3zM216.2 38.5h1.1v1.1h-1.1zM215.8 37.0h0.9v0.9h-0.9zM210.2 48.5h1.1v1.1h-1.1zM198.2 55.4h0.9v0.9h-0.9zM199.6 53.6h1.0v1.0h-1.0zM212.9 23.4h0.8v0.8h-0.8z" fill="#f8992a" opacity="0.7"/><path d="M172.5 45.9h0.9v0.9h-0.9zM169.9 46.4h0.8v0.8h-0.8zM172.5 44.7h1.0v1.0h-1.0zM214.6 63.9h0.7v0.7h-0.7zM212.5 57.9h0.8v0.8h-0.8zM199.8 97.9h0.7v0.7h-0.7zM202.4 97.1h0.8v0.8h-0.8zM211.9 89.3h0.9v0.9h-0.9zM212.9 92.2h1.1v1.1h-1.1zM190.2 90.2h0.8v0.8h-0.8zM248.2 95.7h0.9v0.9h-0.9zM201.4 45.4h1.0v1.0h-1.0zM200.4 42.6h0.8v0.8h-0.8zM212.7 39.4h0.9v0.9h-0.9zM207.7 35.0h0.9v0.9h-0.9zM193.0 37.2h0.9v0.9h-0.9zM203.6 37.0h0.8v0.8h-0.8zM209.0 24.6h1.3v1.3h-1.3zM209.4 25.3h1.0v1.0h-1.0zM208.6 26.9h1.1v1.1h-1.1zM210.0 27.3h1.2v1.2h-1.2zM208.7 25.7h1.1v1.1h-1.1zM206.4 26.7h1.4v1.4h-1.4zM205.9 28.4h1.3v1.3h-1.3zM209.5 27.6h1.0v1.0h-1.0zM206.1 28.2h1.2v1.2h-1.2zM207.9 25.9h1.0v1.0h-1.0zM207.3 27.9h1.1v1.1h-1.1zM207.9 24.6h1.1v1.1h-1.1zM207.4 28.9h1.3v1.3h-1.3zM209.7 26.8h1.0v1.0h-1.0zM208.3 24.8h1.2v1.2h-1.2zM205.6 26.8h1.1v1.1h-1.1zM206.3 25.2h1.0v1.0h-1.0zM206.2 26.0h1.0v1.0h-1.0zM207.2 26.9h1.0v1.0h-1.0zM207.3 28.9h1.4v1.4h-1.4zM214.1 29.2h1.0v1.0h-1.0zM213.6 28.6h1.2v1.2h-1.2zM213.9 29.1h1.2v1.2h-1.2zM214.1 29.5h0.8v0.8h-0.8zM213.1 29.1h1.1v1.1h-1.1zM210.6 33.2h1.3v1.3h-1.3zM209.4 31.0h1.3v1.3h-1.3zM210.4 31.6h1.0v1.0h-1.0zM212.4 32.7h1.0v1.0h-1.0zM216.9 36.4h0.8v0.8h-0.8zM216.1 38.0h1.1v1.1h-1.1zM212.2 47.1h0.9v0.9h-0.9zM206.9 51.0h1.1v1.1h-1.1zM207.8 49.8h1.0v1.0h-1.0zM198.5 54.6h0.9v0.9h-0.9zM201.1 52.6h1.1v1.1h-1.1zM210.3 49.1h1.1v1.1h-1.1zM210.8 47.6h1.0v1.0h-1.0zM204.5 52.1h0.8v0.8h-0.8zM203.2 52.1h0.8v0.8h-0.8zM196.8 54.9h0.8v0.8h-0.8z" fill="#f8992a" opacity="0.8"/><path d="M166.4 47.0h0.8v0.8h-0.8zM166.1 45.6h0.7v0.7h-0.7zM214.1 64.0h0.9v0.9h-0.9zM199.2 97.9h1.0v1.0h-1.0zM203.3 97.9h1.0v1.0h-1.0zM201.0 97.7h0.9v0.9h-0.9zM195.1 96.7h0.8v0.8h-0.8zM213.6 89.7h0.7v0.7h-0.7zM212.3 90.2h0.7v0.7h-0.7zM188.2 85.7h1.1v1.1h-1.1zM246.3 96.5h0.9v0.9h-0.9zM207.9 51.0h1.2v1.2h-1.2zM214.2 36.4h1.0v1.0h-1.0zM198.0 45.7h1.1v1.1h-1.1zM210.7 40.7h0.9v0.9h-0.9zM202.1 38.3h1.1v1.1h-1.1zM205.1 37.5h0.8v0.8h-0.8zM206.1 28.6h1.0v1.0h-1.0zM207.1 25.8h1.1v1.1h-1.1zM209.5 26.3h1.1v1.1h-1.1zM210.0 27.5h0.9v0.9h-0.9zM210.3 26.3h1.3v1.3h-1.3zM206.4 27.9h1.0v1.0h-1.0zM206.5 27.3h1.1v1.1h-1.1zM207.6 24.9h1.5v1.5h-1.5zM208.4 28.5h1.4v1.4h-1.4zM208.6 24.4h1.3v1.3h-1.3zM210.3 25.8h1.0v1.0h-1.0zM208.8 27.7h1.4v1.4h-1.4zM206.9 28.4h1.3v1.3h-1.3zM208.6 28.3h1.1v1.1h-1.1zM210.3 26.9h1.3v1.3h-1.3zM206.6 27.1h1.2v1.2h-1.2zM205.6 26.1h1.1v1.1h-1.1zM209.3 27.9h1.4v1.4h-1.4zM207.8 25.7h1.3v1.3h-1.3zM208.4 27.7h1.1v1.1h-1.1zM208.5 26.5h1.1v1.1h-1.1zM207.5 26.8h1.0v1.0h-1.0zM207.1 26.7h1.3v1.3h-1.3zM208.3 26.4h0.9v0.9h-0.9zM215.3 28.4h1.1v1.1h-1.1zM212.2 28.7h1.3v1.3h-1.3zM213.0 29.4h1.2v1.2h-1.2zM214.3 28.6h0.8v0.8h-0.8zM216.8 36.2h1.2v1.2h-1.2zM215.4 37.6h0.8v0.8h-0.8zM226.2 28.8h1.0v1.0h-1.0zM226.3 30.8h1.0v1.0h-1.0z" fill="#f8992a" opacity="0.9"/><path d="M195.8 97.1h1.0v1.0h-1.0zM212.3 90.4h1.1v1.1h-1.1zM243.9 95.0h0.7v0.7h-0.7zM245.5 95.0h1.0v1.0h-1.0zM207.3 26.1h0.9v0.9h-0.9zM205.2 27.3h1.3v1.3h-1.3zM208.3 24.5h1.5v1.5h-1.5zM207.9 25.3h1.4v1.4h-1.4zM207.9 27.5h1.0v1.0h-1.0zM209.0 28.3h1.2v1.2h-1.2zM207.5 26.8h1.5v1.5h-1.5zM212.8 29.0h0.9v0.9h-0.9zM216.0 38.7h1.0v1.0h-1.0zM215.6 37.3h1.1v1.1h-1.1zM215.9 37.3h0.9v0.9h-0.9zM225.6 32.4h1.0v1.0h-1.0z" fill="#f8992a" opacity="1.0"/><path d="M139.2 41.1h0.9v0.9h-0.9z" fill="#47a5e6" opacity="0.7"/><path d="M139.9 41.7h0.8v0.8h-0.8z" fill="#47a5e6" opacity="0.8"/><path d="M31.7 67.1h1.0v1.0h-1.0zM31.5 67.5h1.2v1.2h-1.2zM25.6 66.9h1.2v1.2h-1.2zM31.8 67.2h0.9v0.9h-0.9zM29.3 66.4h1.3v1.3h-1.3zM27.0 66.6h1.2v1.2h-1.2zM29.6 67.7h1.0v1.0h-1.0zM32.2 67.1h1.3v1.3h-1.3zM27.7 66.4h1.3v1.3h-1.3zM29.8 67.9h1.1v1.1h-1.1zM26.3 67.2h1.4v1.4h-1.4zM35.3 67.1h1.1v1.1h-1.1zM38.1 67.9h1.4v1.4h-1.4zM32.6 68.1h1.1v1.1h-1.1zM32.6 66.7h1.5v1.5h-1.5zM39.2 68.3h1.4v1.4h-1.4zM33.2 67.3h1.0v1.0h-1.0zM36.6 66.9h1.3v1.3h-1.3zM38.1 66.4h1.0v1.0h-1.0zM39.1 68.2h1.2v1.2h-1.2zM37.8 67.7h1.0v1.0h-1.0zM36.2 67.8h1.0v1.0h-1.0zM36.4 69.2h1.5v1.5h-1.5zM54.1 70.4h1.3v1.3h-1.3zM58.4 70.8h1.1v1.1h-1.1zM57.5 70.7h0.9v0.9h-0.9zM53.7 69.3h1.3v1.3h-1.3zM59.2 71.7h1.0v1.0h-1.0zM58.9 70.8h1.5v1.5h-1.5zM54.6 71.6h1.1v1.1h-1.1zM59.1 71.4h1.0v1.0h-1.0zM53.8 70.1h1.2v1.2h-1.2zM57.0 70.1h0.9v0.9h-0.9zM29.6 66.8h1.1v1.1h-1.1zM30.4 66.8h1.1v1.1h-1.1zM31.2 66.8h1.1v1.1h-1.1zM32.0 67.0h1.1v1.1h-1.1zM25.6 67.6h1.1v1.1h-1.1zM26.2 67.1h1.1v1.1h-1.1zM26.9 66.8h1.1v1.1h-1.1zM27.7 66.5h1.1v1.1h-1.1zM28.4 66.2h1.1v1.1h-1.1zM29.1 65.9h1.1v1.1h-1.1zM29.9 65.6h1.1v1.1h-1.1zM36.5 68.5h1.1v1.1h-1.1zM37.2 68.8h1.1v1.1h-1.1zM38.0 69.2h1.1v1.1h-1.1zM38.7 69.6h1.1v1.1h-1.1zM39.3 70.0h1.1v1.1h-1.1zM175.5 41.6h1.0v1.0h-1.0zM175.2 42.4h1.2v1.2h-1.2zM174.8 41.5h1.1v1.1h-1.1zM176.4 42.6h1.1v1.1h-1.1zM175.4 41.7h1.3v1.3h-1.3zM175.5 42.2h1.2v1.2h-1.2z" fill="#47a5e6" opacity="0.9"/><path d="M29.3 66.9h1.1v1.1h-1.1zM24.9 66.9h1.3v1.3h-1.3zM25.6 64.6h1.4v1.4h-1.4zM26.4 66.0h1.4v1.4h-1.4zM27.1 66.7h1.3v1.3h-1.3zM28.1 67.4h1.2v1.2h-1.2zM30.5 66.9h1.5v1.5h-1.5zM27.2 66.2h1.4v1.4h-1.4zM25.4 66.0h1.1v1.1h-1.1zM27.5 67.6h1.0v1.0h-1.0zM35.0 67.9h1.3v1.3h-1.3zM40.2 67.7h1.5v1.5h-1.5zM38.6 67.3h1.0v1.0h-1.0zM32.9 66.9h1.1v1.1h-1.1zM36.0 66.6h1.1v1.1h-1.1zM33.1 67.9h1.3v1.3h-1.3zM39.2 67.6h1.0v1.0h-1.0zM38.5 68.4h1.0v1.0h-1.0zM54.2 70.2h1.2v1.2h-1.2zM56.8 69.3h1.1v1.1h-1.1zM53.8 69.9h1.4v1.4h-1.4zM53.6 69.9h1.0v1.0h-1.0zM54.8 69.1h1.3v1.3h-1.3zM55.7 69.3h1.1v1.1h-1.1zM59.8 72.4h1.0v1.0h-1.0zM55.0 72.7h1.3v1.3h-1.3zM55.6 68.8h1.3v1.3h-1.3zM56.4 69.5h1.1v1.1h-1.1zM176.0 41.6h1.3v1.3h-1.3z" fill="#47a5e6" opacity="1.0"/></g><use href="#lines"/></g><use href="#legend" transform="translate(0 0)"/></g>
<g transform="translate(277.3 16.5)" clip-path="url(#cpb)"><g transform="scale(0.9941 1.0000)"><use href="#base"/><g clip-path="url(#lc)"><path transform="translate(1.3 0.3)" d="M87 64.5L86.4 65.3M84.6 67.8L83 70.3" stroke="#efc53f" stroke-width="0.9" fill="none"/><path transform="translate(1.3 0.3)" d="M80.3 72L79 73.2" stroke="#efc53f" stroke-width="1.4" fill="none"/><path d="M69.6 74.5L71 76.1L71.4 74.7M71 76.1L71.9 77.3" stroke="#efc53f" stroke-width="1.0" fill="none" stroke-linecap="round"/><path d="M198.0 47.3h1.5v1.5h-1.5z" fill="#efc53f" opacity="0.1"/><path d="M204.5 33.7h1.1v1.1h-1.1zM209.7 46.1h1.4v1.4h-1.4zM208.3 43.9h1.3v1.3h-1.3zM209.5 48.8h1.0v1.0h-1.0zM209.0 41.6h1.4v1.4h-1.4zM206.3 32.5h1.4v1.4h-1.4zM191.2 46.4h1.4v1.4h-1.4zM205.2 39.0h1.2v1.2h-1.2zM195.9 40.6h1.2v1.2h-1.2zM205.8 42.9h1.4v1.4h-1.4zM194.5 49.9h1.1v1.1h-1.1zM210.5 35.7h1.4v1.4h-1.4zM212.7 40.3h1.5v1.5h-1.5zM183.3 46.5h1.3v1.3h-1.3zM190.9 46.8h1.4v1.4h-1.4zM191.0 45.0h1.4v1.4h-1.4zM184.0 45.2h1.3v1.3h-1.3z" fill="#efc53f" opacity="0.2"/><path d="M182.3 54.6h1.1v1.1h-1.1zM175.2 55.6h1.3v1.3h-1.3zM176.9 45.0h1.2v1.2h-1.2zM180.1 59.7h1.7v1.7h-1.7zM175.6 45.3h1.2v1.2h-1.2zM177.4 46.9h1.4v1.4h-1.4zM180.6 46.3h1.2v1.2h-1.2zM175.4 50.5h1.1v1.1h-1.1zM179.9 59.9h1.5v1.5h-1.5zM181.7 53.2h1.3v1.3h-1.3zM181.6 59.2h1.8v1.8h-1.8zM183.8 58.3h1.1v1.1h-1.1zM179.6 59.9h1.7v1.7h-1.7zM189.0 56.3h1.4v1.4h-1.4zM189.1 55.0h1.1v1.1h-1.1zM187.5 52.5h1.4v1.4h-1.4zM185.7 58.5h1.5v1.5h-1.5zM188.4 56.4h1.4v1.4h-1.4zM182.2 55.0h1.5v1.5h-1.5zM181.7 59.0h1.0v1.0h-1.0zM189.8 60.4h1.6v1.6h-1.6zM180.9 63.0h1.7v1.7h-1.7zM188.3 53.2h1.1v1.1h-1.1zM189.5 56.1h1.6v1.6h-1.6zM190.4 57.0h1.6v1.6h-1.6zM185.8 54.8h1.8v1.8h-1.8zM184.1 63.9h1.0v1.0h-1.0zM185.3 59.5h1.2v1.2h-1.2zM182.7 63.3h1.2v1.2h-1.2zM182.9 57.1h1.3v1.3h-1.3zM183.9 54.0h1.2v1.2h-1.2zM194.8 46.7h1.3v1.3h-1.3zM195.1 45.6h1.3v1.3h-1.3zM191.8 53.5h1.4v1.4h-1.4zM190.9 46.6h0.9v0.9h-0.9zM195.5 49.3h1.4v1.4h-1.4zM195.2 49.3h1.1v1.1h-1.1zM192.3 44.1h1.5v1.5h-1.5zM195.5 68.4h0.9v0.9h-0.9zM179.4 71.5h1.0v1.0h-1.0zM182.4 74.4h0.9v0.9h-0.9zM202.4 52.6h1.0v1.0h-1.0zM214.2 38.5h1.2v1.2h-1.2zM201.7 47.2h1.3v1.3h-1.3zM191.3 46.1h1.2v1.2h-1.2zM197.9 53.8h1.3v1.3h-1.3zM208.0 33.1h0.9v0.9h-0.9zM204.4 38.8h1.0v1.0h-1.0zM199.9 54.0h1.2v1.2h-1.2zM207.0 47.5h1.3v1.3h-1.3zM212.6 39.6h0.9v0.9h-0.9zM214.2 46.4h1.4v1.4h-1.4zM207.8 34.2h1.1v1.1h-1.1zM198.7 48.8h1.5v1.5h-1.5z" fill="#efc53f" opacity="0.3"/><path d="M176.2 54.3h1.4v1.4h-1.4zM175.3 49.6h1.2v1.2h-1.2zM181.3 49.5h1.6v1.6h-1.6zM178.6 61.2h1.6v1.6h-1.6zM172.8 54.0h1.2v1.2h-1.2zM176.9 51.0h1.6v1.6h-1.6zM178.3 60.4h1.1v1.1h-1.1zM179.4 45.4h1.8v1.8h-1.8zM175.5 51.2h1.7v1.7h-1.7zM179.4 54.3h1.4v1.4h-1.4zM179.4 62.0h1.5v1.5h-1.5zM172.3 49.8h1.2v1.2h-1.2zM178.0 55.8h1.2v1.2h-1.2zM179.2 62.4h1.4v1.4h-1.4zM176.6 47.3h1.6v1.6h-1.6zM173.6 46.3h1.6v1.6h-1.6zM177.1 59.7h1.7v1.7h-1.7zM180.3 50.2h1.3v1.3h-1.3zM179.5 55.4h1.0v1.0h-1.0zM176.6 51.6h1.3v1.3h-1.3zM171.9 49.0h1.6v1.6h-1.6zM179.3 55.5h1.5v1.5h-1.5zM184.1 53.5h1.7v1.7h-1.7zM185.4 59.1h1.7v1.7h-1.7zM186.3 53.6h1.5v1.5h-1.5zM184.9 53.8h1.6v1.6h-1.6zM184.4 58.8h1.8v1.8h-1.8zM183.2 54.8h1.2v1.2h-1.2zM181.9 62.7h1.8v1.8h-1.8zM184.6 64.1h1.0v1.0h-1.0zM186.2 57.9h1.2v1.2h-1.2zM180.7 60.2h1.1v1.1h-1.1zM183.7 66.7h1.4v1.4h-1.4zM187.2 63.8h1.4v1.4h-1.4zM188.5 57.2h1.6v1.6h-1.6zM179.0 58.0h1.6v1.6h-1.6zM181.5 59.9h1.2v1.2h-1.2zM184.8 52.3h1.3v1.3h-1.3zM190.0 62.8h1.6v1.6h-1.6zM183.1 55.0h1.7v1.7h-1.7zM181.7 65.7h1.3v1.3h-1.3zM185.4 55.9h1.0v1.0h-1.0zM188.1 57.6h1.3v1.3h-1.3zM189.0 58.7h1.5v1.5h-1.5zM190.7 60.8h1.7v1.7h-1.7zM185.2 56.0h1.4v1.4h-1.4zM183.7 58.7h1.0v1.0h-1.0zM182.5 55.9h1.5v1.5h-1.5zM183.8 57.9h1.5v1.5h-1.5zM188.6 57.2h1.3v1.3h-1.3zM191.1 58.0h1.4v1.4h-1.4zM183.2 60.3h1.4v1.4h-1.4zM182.6 56.9h1.3v1.3h-1.3zM188.6 59.8h1.3v1.3h-1.3zM188.5 63.0h1.6v1.6h-1.6zM186.0 51.6h1.1v1.1h-1.1zM185.0 59.1h1.2v1.2h-1.2zM180.1 64.0h1.6v1.6h-1.6zM183.4 60.9h1.1v1.1h-1.1zM189.5 63.0h1.5v1.5h-1.5zM179.8 58.0h1.8v1.8h-1.8zM194.2 46.3h1.1v1.1h-1.1zM193.0 44.5h1.0v1.0h-1.0zM190.1 53.1h0.9v0.9h-0.9zM190.1 48.6h1.6v1.6h-1.6zM191.7 47.9h1.5v1.5h-1.5zM189.5 50.3h1.1v1.1h-1.1zM190.4 51.8h1.3v1.3h-1.3zM192.3 50.7h1.3v1.3h-1.3zM192.6 49.8h1.0v1.0h-1.0zM193.2 51.4h1.4v1.4h-1.4zM190.0 48.8h1.0v1.0h-1.0zM195.8 45.7h1.4v1.4h-1.4zM189.1 50.4h1.2v1.2h-1.2zM191.4 48.8h0.9v0.9h-0.9zM190.3 45.6h1.3v1.3h-1.3zM191.4 53.2h1.2v1.2h-1.2zM189.1 49.7h1.2v1.2h-1.2zM195.8 63.5h1.0v1.0h-1.0zM195.3 65.5h1.0v1.0h-1.0zM181.3 73.3h0.8v0.8h-0.8zM207.7 46.3h1.4v1.4h-1.4zM199.9 40.2h0.9v0.9h-0.9zM209.2 49.6h1.4v1.4h-1.4zM206.1 39.8h1.4v1.4h-1.4zM195.7 43.8h1.2v1.2h-1.2zM185.8 45.9h1.0v1.0h-1.0zM188.7 47.1h0.8v0.8h-0.8zM190.2 45.5h1.2v1.2h-1.2zM183.9 45.4h1.3v1.3h-1.3zM187.6 44.6h1.1v1.1h-1.1zM186.3 49.4h1.1v1.1h-1.1z" fill="#efc53f" opacity="0.4"/><path d="M135.4 40.7h1.2v1.2h-1.2zM136.6 40.8h0.9v0.9h-0.9zM135.1 41.3h1.0v1.0h-1.0zM137.0 43.4h0.8v0.8h-0.8zM132.0 40.9h1.1v1.1h-1.1zM137.0 40.3h0.9v0.9h-0.9zM134.6 38.6h1.4v1.4h-1.4zM133.3 40.5h1.1v1.1h-1.1zM136.3 42.5h1.1v1.1h-1.1zM134.5 41.0h1.2v1.2h-1.2zM133.6 42.9h1.2v1.2h-1.2zM132.0 41.3h1.3v1.3h-1.3zM135.9 40.3h1.1v1.1h-1.1zM168.6 45.0h0.7v0.7h-0.7zM172.0 44.9h1.0v1.0h-1.0zM167.0 46.2h1.0v1.0h-1.0zM175.2 52.8h1.4v1.4h-1.4zM177.9 46.1h1.0v1.0h-1.0zM178.1 53.3h1.3v1.3h-1.3zM175.1 54.9h1.5v1.5h-1.5zM173.7 53.9h1.2v1.2h-1.2zM179.1 60.1h1.4v1.4h-1.4zM180.5 53.0h1.7v1.7h-1.7zM181.8 57.5h1.6v1.6h-1.6zM176.7 46.8h1.2v1.2h-1.2zM179.3 54.5h1.3v1.3h-1.3zM174.5 43.1h1.4v1.4h-1.4zM178.7 49.5h1.7v1.7h-1.7zM175.2 49.7h1.2v1.2h-1.2zM173.4 44.8h1.2v1.2h-1.2zM175.3 42.1h1.6v1.6h-1.6zM180.2 54.2h1.4v1.4h-1.4zM182.2 56.7h1.8v1.8h-1.8zM181.8 51.0h1.6v1.6h-1.6zM179.7 60.6h1.3v1.3h-1.3zM179.9 61.5h1.8v1.8h-1.8zM177.8 60.2h1.4v1.4h-1.4zM180.1 50.2h1.6v1.6h-1.6zM177.8 53.1h1.3v1.3h-1.3zM180.0 56.0h1.1v1.1h-1.1zM174.6 50.6h1.3v1.3h-1.3zM179.9 53.7h1.8v1.8h-1.8zM179.9 56.2h1.7v1.7h-1.7zM174.9 59.3h1.5v1.5h-1.5zM176.9 55.0h1.6v1.6h-1.6zM176.6 62.1h1.4v1.4h-1.4zM178.9 47.5h1.2v1.2h-1.2zM187.6 60.1h1.4v1.4h-1.4zM184.4 53.0h1.8v1.8h-1.8zM184.8 54.5h1.4v1.4h-1.4zM183.9 59.0h1.5v1.5h-1.5zM188.2 52.7h1.5v1.5h-1.5zM189.5 56.3h1.6v1.6h-1.6zM180.1 59.7h1.2v1.2h-1.2zM189.2 62.7h1.7v1.7h-1.7zM182.7 61.7h1.4v1.4h-1.4zM191.3 58.7h1.0v1.0h-1.0zM184.1 60.4h1.1v1.1h-1.1zM183.7 56.3h1.0v1.0h-1.0zM189.5 64.1h1.0v1.0h-1.0zM179.6 58.8h1.1v1.1h-1.1zM191.3 57.4h1.3v1.3h-1.3zM189.2 57.3h1.1v1.1h-1.1zM182.7 53.7h1.7v1.7h-1.7zM184.2 58.0h1.7v1.7h-1.7zM180.8 54.6h1.8v1.8h-1.8zM189.0 66.0h1.1v1.1h-1.1zM183.6 59.8h1.3v1.3h-1.3zM187.7 65.9h1.5v1.5h-1.5zM182.5 63.1h1.4v1.4h-1.4zM190.4 56.9h1.8v1.8h-1.8zM182.6 54.2h1.3v1.3h-1.3zM187.6 63.8h1.5v1.5h-1.5zM183.2 57.0h1.2v1.2h-1.2zM186.8 65.0h1.3v1.3h-1.3zM188.4 48.8h1.4v1.4h-1.4zM190.2 47.3h1.6v1.6h-1.6zM189.8 49.3h1.4v1.4h-1.4zM190.3 54.6h1.0v1.0h-1.0zM194.7 44.3h1.2v1.2h-1.2zM194.8 43.9h1.4v1.4h-1.4zM194.8 47.3h1.0v1.0h-1.0zM192.8 50.8h1.5v1.5h-1.5zM190.4 49.2h1.5v1.5h-1.5zM194.4 46.3h1.3v1.3h-1.3zM193.1 48.0h1.4v1.4h-1.4zM194.6 50.9h1.5v1.5h-1.5zM193.5 47.5h1.4v1.4h-1.4zM188.8 51.6h1.3v1.3h-1.3zM190.2 51.1h1.5v1.5h-1.5zM196.3 66.4h0.7v0.7h-0.7zM197.1 66.1h0.9v0.9h-0.9zM197.1 63.7h0.8v0.8h-0.8zM179.4 74.1h0.8v0.8h-0.8zM212.5 61.0h1.0v1.0h-1.0zM191.6 47.2h1.0v1.0h-1.0zM187.3 44.7h1.2v1.2h-1.2zM191.2 46.6h0.9v0.9h-0.9z" fill="#efc53f" opacity="0.5"/><path d="M144.2 36.1h1.0v1.0h-1.0zM145.8 38.0h1.2v1.2h-1.2zM142.7 37.0h1.1v1.1h-1.1zM149.7 42.4h1.2v1.2h-1.2zM156.0 45.8h0.9v0.9h-0.9zM162.7 50.3h1.1v1.1h-1.1zM134.9 39.7h0.9v0.9h-0.9zM134.3 42.7h1.4v1.4h-1.4zM137.2 38.5h1.3v1.3h-1.3zM133.1 38.8h1.0v1.0h-1.0zM137.4 41.9h1.2v1.2h-1.2zM133.8 40.0h1.0v1.0h-1.0zM133.6 38.6h0.9v0.9h-0.9zM136.4 43.3h1.2v1.2h-1.2zM136.6 42.6h1.1v1.1h-1.1zM137.8 40.7h0.9v0.9h-0.9zM134.5 41.8h1.2v1.2h-1.2zM133.6 39.8h0.9v0.9h-0.9zM133.6 43.4h0.9v0.9h-0.9zM134.3 41.3h1.2v1.2h-1.2zM132.0 39.2h1.2v1.2h-1.2zM135.4 39.0h1.0v1.0h-1.0zM134.7 41.1h1.0v1.0h-1.0zM133.6 41.9h1.0v1.0h-1.0zM133.6 42.8h1.2v1.2h-1.2zM135.1 41.0h1.1v1.1h-1.1zM132.7 44.2h0.8v0.8h-0.8zM164.7 47.1h0.9v0.9h-0.9zM164.1 47.2h0.7v0.7h-0.7zM163.5 47.1h0.8v0.8h-0.8zM174.7 45.7h0.9v0.9h-0.9zM167.0 48.8h0.6v0.6h-0.6zM164.2 47.2h0.6v0.6h-0.6zM174.3 57.4h1.4v1.4h-1.4zM174.8 58.3h1.5v1.5h-1.5zM176.3 43.7h1.5v1.5h-1.5zM177.2 43.3h1.6v1.6h-1.6zM176.1 59.5h1.4v1.4h-1.4zM173.8 57.5h1.4v1.4h-1.4zM174.9 58.5h1.4v1.4h-1.4zM178.8 49.3h1.4v1.4h-1.4zM174.1 57.7h1.3v1.3h-1.3zM177.3 56.8h1.3v1.3h-1.3zM176.7 58.0h1.6v1.6h-1.6zM172.9 52.8h1.4v1.4h-1.4zM176.3 45.0h1.4v1.4h-1.4zM178.2 52.7h1.7v1.7h-1.7zM175.4 52.6h1.6v1.6h-1.6zM182.4 53.1h1.3v1.3h-1.3zM178.7 58.9h1.8v1.8h-1.8zM173.2 53.4h1.4v1.4h-1.4zM177.3 51.2h1.2v1.2h-1.2zM178.7 59.5h1.5v1.5h-1.5zM181.2 51.7h1.4v1.4h-1.4zM177.4 42.2h1.6v1.6h-1.6zM178.3 61.8h1.8v1.8h-1.8zM176.5 53.0h1.0v1.0h-1.0zM176.7 44.8h1.6v1.6h-1.6zM177.9 54.0h1.6v1.6h-1.6zM175.5 57.3h1.5v1.5h-1.5zM177.8 52.7h1.4v1.4h-1.4zM178.2 56.1h1.4v1.4h-1.4zM181.7 57.2h1.2v1.2h-1.2zM172.7 47.7h1.2v1.2h-1.2zM178.7 58.7h1.6v1.6h-1.6zM180.8 47.4h1.8v1.8h-1.8zM174.0 54.4h1.1v1.1h-1.1zM177.1 60.6h1.4v1.4h-1.4zM181.1 55.1h1.1v1.1h-1.1zM181.1 54.1h1.3v1.3h-1.3zM179.4 45.6h1.4v1.4h-1.4zM179.6 56.1h1.4v1.4h-1.4zM189.5 63.4h1.1v1.1h-1.1zM185.0 63.1h1.1v1.1h-1.1zM185.7 53.3h1.2v1.2h-1.2zM182.1 64.7h1.6v1.6h-1.6zM189.2 64.8h1.7v1.7h-1.7zM179.7 56.7h1.4v1.4h-1.4zM190.9 60.3h1.5v1.5h-1.5zM189.5 55.6h1.2v1.2h-1.2zM188.9 61.4h1.4v1.4h-1.4zM183.0 62.8h1.1v1.1h-1.1zM185.7 59.1h1.6v1.6h-1.6zM181.3 58.6h1.1v1.1h-1.1zM189.9 57.6h1.1v1.1h-1.1zM190.1 59.2h1.2v1.2h-1.2zM187.1 57.9h1.4v1.4h-1.4zM186.8 58.2h1.1v1.1h-1.1zM180.9 56.4h1.4v1.4h-1.4zM184.8 59.4h1.7v1.7h-1.7zM184.2 52.0h1.1v1.1h-1.1zM185.5 66.3h1.3v1.3h-1.3zM187.4 52.8h1.4v1.4h-1.4zM188.6 55.5h1.3v1.3h-1.3zM186.5 53.7h1.4v1.4h-1.4zM180.5 58.3h1.7v1.7h-1.7zM180.1 56.5h1.1v1.1h-1.1zM183.0 59.3h1.8v1.8h-1.8zM180.4 63.4h1.3v1.3h-1.3zM183.7 65.1h1.2v1.2h-1.2zM184.8 52.2h1.1v1.1h-1.1zM181.6 64.7h1.3v1.3h-1.3zM188.9 62.6h1.7v1.7h-1.7zM193.4 44.3h1.5v1.5h-1.5zM190.6 52.0h1.3v1.3h-1.3zM191.1 48.7h1.2v1.2h-1.2zM194.2 47.9h1.5v1.5h-1.5zM191.4 53.1h1.1v1.1h-1.1zM195.9 45.2h1.2v1.2h-1.2zM195.4 65.9h0.8v0.8h-0.8zM196.9 64.2h0.9v0.9h-0.9zM212.9 60.8h0.7v0.7h-0.7zM221.7 74.6h0.8v0.8h-0.8zM195.5 97.1h0.8v0.8h-0.8zM212.6 89.6h1.1v1.1h-1.1zM185.1 91.3h0.8v0.8h-0.8zM190.0 89.4h1.0v1.0h-1.0zM184.0 87.6h0.8v0.8h-0.8zM243.9 95.5h1.0v1.0h-1.0z" fill="#efc53f" opacity="0.6"/><path d="M15.7 71.2h1.3v1.3h-1.3zM10.5 71.5h0.9v0.9h-0.9zM14.3 70.5h1.3v1.3h-1.3zM8.2 71.1h1.2v1.2h-1.2zM13.4 70.4h0.9v0.9h-0.9zM32.4 74.7h0.9v0.9h-0.9zM33.0 74.1h1.2v1.2h-1.2zM37.2 72.7h1.3v1.3h-1.3zM33.6 73.2h1.3v1.3h-1.3zM40.1 75.2h1.1v1.1h-1.1zM40.3 75.5h1.0v1.0h-1.0zM39.4 74.8h1.1v1.1h-1.1zM39.0 76.3h0.8v0.8h-0.8zM42.4 73.8h0.8v0.8h-0.8zM36.4 75.0h1.1v1.1h-1.1zM144.1 37.7h1.3v1.3h-1.3zM150.5 41.2h1.0v1.0h-1.0zM148.8 41.4h0.8v0.8h-0.8zM150.2 42.3h1.0v1.0h-1.0zM156.4 43.9h0.9v0.9h-0.9zM152.5 44.0h0.9v0.9h-0.9zM156.8 45.6h1.1v1.1h-1.1zM156.5 44.8h1.1v1.1h-1.1zM159.4 44.4h1.0v1.0h-1.0zM161.0 49.8h0.9v0.9h-0.9zM163.7 46.8h1.0v1.0h-1.0zM160.2 54.5h0.9v0.9h-0.9zM135.6 40.7h0.8v0.8h-0.8zM136.7 42.9h0.8v0.8h-0.8zM132.6 40.6h0.8v0.8h-0.8zM135.1 41.7h1.4v1.4h-1.4zM133.7 43.7h1.0v1.0h-1.0zM135.9 42.4h1.3v1.3h-1.3zM133.3 39.8h1.3v1.3h-1.3zM133.7 40.3h0.9v0.9h-0.9zM136.6 43.2h1.1v1.1h-1.1zM133.3 39.8h1.2v1.2h-1.2zM135.3 38.9h1.1v1.1h-1.1zM134.1 39.8h1.4v1.4h-1.4zM132.5 41.0h0.9v0.9h-0.9zM133.3 43.2h1.0v1.0h-1.0zM135.8 43.5h1.0v1.0h-1.0zM137.9 42.6h0.9v0.9h-0.9zM137.1 42.2h1.1v1.1h-1.1zM132.7 44.0h0.9v0.9h-0.9zM134.4 42.3h1.0v1.0h-1.0zM133.4 43.8h0.8v0.8h-0.8zM135.3 39.8h1.0v1.0h-1.0zM134.3 40.7h0.9v0.9h-0.9zM163.6 47.1h0.9v0.9h-0.9zM167.3 47.0h0.7v0.7h-0.7zM172.8 45.5h0.9v0.9h-0.9zM176.3 48.7h1.5v1.5h-1.5zM181.0 59.7h1.2v1.2h-1.2zM179.3 47.6h1.8v1.8h-1.8zM174.9 53.9h1.3v1.3h-1.3zM174.2 43.4h1.6v1.6h-1.6zM180.1 58.5h1.1v1.1h-1.1zM181.6 59.1h1.7v1.7h-1.7zM175.1 50.0h1.1v1.1h-1.1zM179.5 59.3h1.6v1.6h-1.6zM174.6 52.9h1.5v1.5h-1.5zM176.8 53.6h1.7v1.7h-1.7zM187.0 53.6h1.1v1.1h-1.1zM189.8 60.3h1.3v1.3h-1.3zM189.9 55.7h1.7v1.7h-1.7zM180.7 63.3h1.1v1.1h-1.1zM187.0 53.4h1.4v1.4h-1.4zM186.0 56.2h1.4v1.4h-1.4zM184.7 60.9h1.0v1.0h-1.0zM180.0 56.7h1.1v1.1h-1.1zM189.7 55.3h1.7v1.7h-1.7zM188.4 61.6h1.3v1.3h-1.3zM188.3 57.2h1.8v1.8h-1.8zM179.6 59.8h1.5v1.5h-1.5zM183.2 54.7h1.2v1.2h-1.2zM184.3 61.8h1.4v1.4h-1.4zM180.6 58.4h1.8v1.8h-1.8zM179.1 60.6h1.2v1.2h-1.2zM186.3 61.7h1.5v1.5h-1.5zM179.9 55.6h1.4v1.4h-1.4zM188.1 63.7h1.8v1.8h-1.8zM183.3 51.5h1.7v1.7h-1.7zM182.7 61.6h1.0v1.0h-1.0zM195.5 46.0h1.6v1.6h-1.6zM188.9 47.9h1.2v1.2h-1.2zM195.1 61.7h0.8v0.8h-0.8zM180.7 70.4h0.7v0.7h-0.7zM213.5 66.4h0.8v0.8h-0.8zM213.9 60.8h0.9v0.9h-0.9zM213.2 63.3h0.9v0.9h-0.9zM214.0 65.1h1.1v1.1h-1.1zM220.1 73.6h0.9v0.9h-0.9zM218.7 73.0h0.8v0.8h-0.8zM218.8 73.5h1.1v1.1h-1.1zM191.4 95.9h0.8v0.8h-0.8zM193.2 96.3h1.0v1.0h-1.0zM196.4 95.9h0.8v0.8h-0.8zM197.7 97.9h0.9v0.9h-0.9zM201.8 97.4h0.8v0.8h-0.8zM211.7 90.1h0.8v0.8h-0.8zM185.0 90.6h0.9v0.9h-0.9zM246.6 97.0h1.0v1.0h-1.0zM248.2 95.6h1.0v1.0h-1.0z" fill="#efc53f" opacity="0.7"/><path d="M20.9 67.0h0.9v0.9h-0.9zM16.1 65.6h1.5v1.5h-1.5zM14.4 65.7h0.8v0.8h-0.8zM5.8 63.6h1.3v1.3h-1.3zM12.2 66.0h1.5v1.5h-1.5zM11.0 65.8h1.1v1.1h-1.1zM19.2 63.3h1.1v1.1h-1.1zM11.6 66.2h1.0v1.0h-1.0zM17.9 65.0h0.8v0.8h-0.8zM16.0 65.8h1.0v1.0h-1.0zM6.4 67.0h0.9v0.9h-0.9zM12.6 65.6h1.1v1.1h-1.1zM20.5 68.6h1.5v1.5h-1.5zM13.8 66.5h0.9v0.9h-0.9zM13.1 66.8h1.1v1.1h-1.1zM6.3 64.8h1.0v1.0h-1.0zM5.8 63.3h1.1v1.1h-1.1zM20.1 68.3h1.0v1.0h-1.0zM14.7 64.4h1.2v1.2h-1.2zM9.0 68.2h1.3v1.3h-1.3zM9.3 67.4h1.5v1.5h-1.5zM13.6 66.4h1.1v1.1h-1.1zM13.0 66.5h1.1v1.1h-1.1zM8.2 66.1h1.4v1.4h-1.4zM10.8 64.9h1.4v1.4h-1.4zM6.7 63.7h1.2v1.2h-1.2zM18.2 64.5h1.2v1.2h-1.2zM5.7 64.5h1.3v1.3h-1.3zM6.9 65.0h0.9v0.9h-0.9zM19.5 66.2h1.4v1.4h-1.4zM18.8 66.7h0.9v0.9h-0.9zM27.6 67.0h1.3v1.3h-1.3zM27.9 68.0h0.8v0.8h-0.8zM27.2 64.7h0.9v0.9h-0.9zM27.3 67.6h0.8v0.8h-0.8zM31.3 67.6h0.9v0.9h-0.9zM31.9 68.7h0.9v0.9h-0.9zM29.1 67.5h0.9v0.9h-0.9zM27.2 66.8h1.3v1.3h-1.3zM38.9 69.0h1.3v1.3h-1.3zM35.4 68.3h1.1v1.1h-1.1zM33.7 65.2h1.4v1.4h-1.4zM28.8 66.8h1.0v1.0h-1.0zM31.0 67.5h0.9v0.9h-0.9zM34.4 69.7h1.3v1.3h-1.3zM39.2 66.7h1.2v1.2h-1.2zM31.4 67.2h0.9v0.9h-0.9zM25.6 66.1h1.0v1.0h-1.0zM28.3 66.0h1.2v1.2h-1.2zM35.7 65.2h1.2v1.2h-1.2zM38.9 67.7h1.3v1.3h-1.3zM30.3 66.2h1.1v1.1h-1.1zM36.3 67.8h1.3v1.3h-1.3zM28.4 66.1h1.0v1.0h-1.0zM23.8 65.2h1.0v1.0h-1.0zM38.2 66.0h1.2v1.2h-1.2zM39.5 67.7h0.9v0.9h-0.9zM26.7 64.1h1.3v1.3h-1.3zM38.7 68.6h1.2v1.2h-1.2zM36.7 67.9h1.4v1.4h-1.4zM35.9 69.8h1.3v1.3h-1.3zM21.6 67.2h1.4v1.4h-1.4zM29.8 67.1h1.1v1.1h-1.1zM30.2 66.8h1.1v1.1h-1.1zM22.2 67.0h1.5v1.5h-1.5zM29.4 64.9h1.3v1.3h-1.3zM25.4 67.2h1.0v1.0h-1.0zM36.1 68.3h0.8v0.8h-0.8zM21.6 66.5h1.2v1.2h-1.2zM24.9 67.0h1.4v1.4h-1.4zM28.0 69.0h1.3v1.3h-1.3zM47.0 70.3h1.0v1.0h-1.0zM53.0 71.2h1.1v1.1h-1.1zM58.7 67.3h1.3v1.3h-1.3zM55.7 70.9h1.1v1.1h-1.1zM56.1 66.2h0.8v0.8h-0.8zM58.5 68.3h1.0v1.0h-1.0zM48.3 69.0h0.8v0.8h-0.8zM51.5 66.3h1.0v1.0h-1.0zM49.0 70.4h1.0v1.0h-1.0zM55.1 68.4h0.8v0.8h-0.8zM47.0 67.5h1.3v1.3h-1.3zM49.7 69.9h1.4v1.4h-1.4zM42.3 66.3h0.9v0.9h-0.9zM60.6 69.3h1.3v1.3h-1.3zM50.9 70.2h1.3v1.3h-1.3zM39.4 67.1h1.2v1.2h-1.2zM46.1 67.4h0.8v0.8h-0.8zM44.1 70.0h1.3v1.3h-1.3zM50.6 68.4h1.3v1.3h-1.3zM62.8 70.0h1.2v1.2h-1.2zM47.3 68.4h1.4v1.4h-1.4zM63.3 69.7h0.8v0.8h-0.8zM39.9 65.8h1.3v1.3h-1.3zM55.7 72.1h0.9v0.9h-0.9zM41.1 67.8h1.3v1.3h-1.3zM42.9 66.0h1.1v1.1h-1.1zM56.1 71.4h0.8v0.8h-0.8zM59.4 69.9h1.1v1.1h-1.1zM48.4 66.1h0.8v0.8h-0.8zM51.8 67.8h0.9v0.9h-0.9zM54.0 69.1h1.2v1.2h-1.2zM48.1 69.2h1.2v1.2h-1.2zM55.5 71.1h1.2v1.2h-1.2zM61.4 70.4h0.9v0.9h-0.9zM63.3 68.8h1.2v1.2h-1.2zM61.8 69.5h1.5v1.5h-1.5zM42.5 66.8h0.9v0.9h-0.9zM62.6 70.1h1.4v1.4h-1.4zM51.2 69.1h1.3v1.3h-1.3zM55.4 68.3h1.0v1.0h-1.0zM44.9 67.7h0.9v0.9h-0.9zM49.6 69.8h1.1v1.1h-1.1zM59.9 68.8h1.1v1.1h-1.1zM61.0 68.3h1.4v1.4h-1.4zM60.0 69.5h1.1v1.1h-1.1zM51.8 68.5h1.1v1.1h-1.1zM59.9 69.6h0.9v0.9h-0.9zM40.5 68.5h1.3v1.3h-1.3zM17.7 72.2h1.3v1.3h-1.3zM12.6 72.2h0.9v0.9h-0.9zM9.8 70.3h0.9v0.9h-0.9zM14.3 70.5h0.8v0.8h-0.8zM12.9 70.0h1.1v1.1h-1.1zM9.2 68.1h1.3v1.3h-1.3zM11.8 72.0h0.9v0.9h-0.9zM19.5 70.0h1.3v1.3h-1.3zM14.4 70.6h1.2v1.2h-1.2zM21.5 70.3h1.3v1.3h-1.3zM30.3 72.9h1.2v1.2h-1.2zM23.4 74.7h1.0v1.0h-1.0zM20.6 70.9h1.3v1.3h-1.3zM24.3 74.4h0.8v0.8h-0.8zM24.3 72.9h0.9v0.9h-0.9zM26.2 73.2h0.8v0.8h-0.8zM28.1 72.8h0.9v0.9h-0.9zM24.9 73.7h1.1v1.1h-1.1zM27.7 71.3h1.3v1.3h-1.3zM42.6 73.5h1.3v1.3h-1.3zM41.5 74.6h1.3v1.3h-1.3zM44.3 74.7h1.3v1.3h-1.3zM43.5 76.9h1.2v1.2h-1.2zM43.1 73.6h1.4v1.4h-1.4zM33.9 74.3h1.1v1.1h-1.1zM42.0 75.3h1.1v1.1h-1.1zM54.8 73.0h1.0v1.0h-1.0zM51.7 76.3h1.0v1.0h-1.0zM53.0 75.5h0.9v0.9h-0.9zM54.8 71.8h1.4v1.4h-1.4zM54.4 73.3h1.0v1.0h-1.0zM52.9 71.3h1.4v1.4h-1.4zM55.7 74.6h1.1v1.1h-1.1zM53.6 74.9h1.1v1.1h-1.1zM59.0 76.5h1.0v1.0h-1.0zM50.8 73.0h1.1v1.1h-1.1zM55.5 74.2h0.9v0.9h-0.9zM51.8 71.5h1.4v1.4h-1.4zM54.0 76.4h1.2v1.2h-1.2zM49.7 74.7h1.2v1.2h-1.2zM55.8 75.2h1.4v1.4h-1.4zM51.9 75.3h1.1v1.1h-1.1zM51.0 71.7h1.4v1.4h-1.4zM58.9 74.2h1.3v1.3h-1.3zM57.8 74.7h1.1v1.1h-1.1zM49.8 73.6h1.2v1.2h-1.2zM58.1 75.5h1.0v1.0h-1.0zM51.9 76.8h1.4v1.4h-1.4zM55.4 75.7h1.4v1.4h-1.4zM59.0 75.9h1.3v1.3h-1.3zM57.6 73.4h1.0v1.0h-1.0zM59.3 73.3h1.1v1.1h-1.1zM55.2 77.5h0.9v0.9h-0.9zM50.3 75.2h1.4v1.4h-1.4zM51.8 73.6h1.3v1.3h-1.3zM57.5 72.5h1.1v1.1h-1.1zM57.3 71.4h1.1v1.1h-1.1zM59.0 71.7h1.4v1.4h-1.4zM61.9 72.3h1.0v1.0h-1.0zM62.5 73.1h1.2v1.2h-1.2zM60.8 70.7h1.2v1.2h-1.2zM64.8 72.0h0.9v0.9h-0.9zM57.3 71.9h1.3v1.3h-1.3zM58.4 71.2h1.0v1.0h-1.0zM64.6 71.7h1.0v1.0h-1.0zM61.6 73.6h1.1v1.1h-1.1zM58.9 70.5h1.5v1.5h-1.5zM57.7 72.2h1.0v1.0h-1.0zM64.1 71.8h1.3v1.3h-1.3zM61.1 70.4h1.3v1.3h-1.3zM56.8 72.5h1.4v1.4h-1.4zM145.5 35.0h0.9v0.9h-0.9zM151.1 41.9h0.9v0.9h-0.9zM154.4 41.8h1.2v1.2h-1.2zM156.7 46.2h1.1v1.1h-1.1zM153.7 45.6h1.0v1.0h-1.0zM155.1 46.3h0.8v0.8h-0.8zM161.0 46.4h1.2v1.2h-1.2zM157.2 47.5h1.2v1.2h-1.2zM160.9 48.5h0.9v0.9h-0.9zM159.4 54.5h0.9v0.9h-0.9zM159.2 54.6h0.8v0.8h-0.8zM159.6 54.7h0.9v0.9h-0.9zM133.8 39.1h0.9v0.9h-0.9zM136.1 39.1h1.3v1.3h-1.3zM134.4 37.6h1.4v1.4h-1.4zM135.2 41.5h0.9v0.9h-0.9zM133.8 39.3h1.3v1.3h-1.3zM138.3 41.1h1.0v1.0h-1.0zM134.5 43.0h1.2v1.2h-1.2zM134.9 41.0h1.2v1.2h-1.2zM132.8 42.9h0.9v0.9h-0.9zM136.6 39.1h0.9v0.9h-0.9zM135.4 42.5h1.4v1.4h-1.4zM133.1 42.7h1.1v1.1h-1.1zM133.3 40.1h1.3v1.3h-1.3zM137.8 40.8h1.4v1.4h-1.4zM136.6 38.9h1.4v1.4h-1.4zM135.8 40.7h0.9v0.9h-0.9zM136.5 39.7h1.2v1.2h-1.2zM135.8 42.4h0.9v0.9h-0.9zM135.4 39.5h1.1v1.1h-1.1zM135.9 39.2h1.2v1.2h-1.2zM164.5 47.1h0.8v0.8h-0.8zM163.7 47.8h1.0v1.0h-1.0zM171.1 45.1h0.8v0.8h-0.8zM164.0 47.7h0.7v0.7h-0.7zM218.4 74.8h1.0v1.0h-1.0zM198.8 97.3h1.0v1.0h-1.0zM193.4 96.3h0.8v0.8h-0.8zM190.5 87.1h1.0v1.0h-1.0zM244.4 95.4h0.8v0.8h-0.8z" fill="#efc53f" opacity="0.8"/><path d="M20.7 65.7h1.4v1.4h-1.4zM20.6 69.3h1.2v1.2h-1.2zM7.8 65.6h0.9v0.9h-0.9zM6.2 65.4h1.2v1.2h-1.2zM11.5 65.1h1.1v1.1h-1.1zM14.0 67.4h0.9v0.9h-0.9zM18.9 67.0h1.2v1.2h-1.2zM21.3 66.7h1.0v1.0h-1.0zM17.9 64.7h1.5v1.5h-1.5zM9.9 66.8h0.9v0.9h-0.9zM9.9 63.8h0.9v0.9h-0.9zM19.8 66.5h0.8v0.8h-0.8zM13.4 66.0h0.8v0.8h-0.8zM15.5 69.3h0.9v0.9h-0.9zM11.4 65.5h0.9v0.9h-0.9zM9.7 67.4h1.4v1.4h-1.4zM20.7 68.9h1.4v1.4h-1.4zM11.2 67.3h1.5v1.5h-1.5zM7.9 63.1h1.3v1.3h-1.3zM5.7 64.6h1.4v1.4h-1.4zM18.4 66.8h1.5v1.5h-1.5zM19.9 66.9h1.3v1.3h-1.3zM12.0 64.4h1.4v1.4h-1.4zM20.1 65.0h1.2v1.2h-1.2zM18.0 67.0h0.8v0.8h-0.8zM16.5 67.7h0.9v0.9h-0.9zM11.8 65.5h1.4v1.4h-1.4zM9.4 67.6h1.3v1.3h-1.3zM11.2 66.6h1.0v1.0h-1.0zM12.3 65.0h0.8v0.8h-0.8zM15.1 65.4h1.3v1.3h-1.3zM12.7 66.8h1.0v1.0h-1.0zM14.2 66.0h1.0v1.0h-1.0zM12.5 66.2h0.8v0.8h-0.8zM20.6 63.6h0.9v0.9h-0.9zM20.7 66.5h1.1v1.1h-1.1zM6.2 66.4h0.9v0.9h-0.9zM18.2 65.7h1.1v1.1h-1.1zM9.2 65.1h1.0v1.0h-1.0zM37.3 68.7h1.3v1.3h-1.3zM22.3 64.8h1.3v1.3h-1.3zM21.3 66.8h1.4v1.4h-1.4zM30.4 65.6h1.0v1.0h-1.0zM32.0 69.2h1.2v1.2h-1.2zM30.5 68.4h0.9v0.9h-0.9zM38.7 68.0h1.3v1.3h-1.3zM30.5 65.9h1.0v1.0h-1.0zM29.1 68.3h1.2v1.2h-1.2zM30.3 65.8h1.3v1.3h-1.3zM31.3 64.1h1.2v1.2h-1.2zM38.6 68.9h1.1v1.1h-1.1zM22.0 65.6h0.8v0.8h-0.8zM23.7 66.3h1.4v1.4h-1.4zM26.8 67.8h1.4v1.4h-1.4zM29.6 66.2h1.0v1.0h-1.0zM26.6 68.1h1.2v1.2h-1.2zM38.0 67.2h1.3v1.3h-1.3zM31.0 66.5h1.3v1.3h-1.3zM35.5 66.5h1.3v1.3h-1.3zM23.4 67.1h1.2v1.2h-1.2zM39.2 67.9h1.1v1.1h-1.1zM29.3 66.1h1.0v1.0h-1.0zM30.2 66.7h1.1v1.1h-1.1zM36.9 65.0h1.1v1.1h-1.1zM27.3 65.6h1.4v1.4h-1.4zM36.6 68.2h1.0v1.0h-1.0zM22.4 65.1h0.8v0.8h-0.8zM37.1 66.2h1.2v1.2h-1.2zM23.2 69.5h0.9v0.9h-0.9zM32.7 68.8h1.1v1.1h-1.1zM36.5 67.4h1.3v1.3h-1.3zM22.3 67.4h1.3v1.3h-1.3zM36.1 65.8h1.1v1.1h-1.1zM38.9 62.8h1.3v1.3h-1.3zM38.6 67.7h1.5v1.5h-1.5zM26.1 65.8h0.9v0.9h-0.9zM23.8 65.2h0.9v0.9h-0.9zM22.8 66.0h1.3v1.3h-1.3zM30.5 64.9h1.0v1.0h-1.0zM39.5 69.2h1.5v1.5h-1.5zM59.6 65.5h1.2v1.2h-1.2zM57.8 66.7h1.0v1.0h-1.0zM61.9 70.4h1.3v1.3h-1.3zM54.1 69.8h0.9v0.9h-0.9zM48.6 65.1h1.2v1.2h-1.2zM53.1 70.4h0.9v0.9h-0.9zM42.5 66.0h1.4v1.4h-1.4zM46.2 67.6h1.4v1.4h-1.4zM63.6 71.2h1.2v1.2h-1.2zM50.2 68.3h0.9v0.9h-0.9zM61.0 67.1h0.9v0.9h-0.9zM46.2 68.0h0.9v0.9h-0.9zM51.6 69.2h1.1v1.1h-1.1zM48.6 68.1h1.4v1.4h-1.4zM48.2 69.6h1.2v1.2h-1.2zM52.6 68.5h1.2v1.2h-1.2zM44.1 67.6h1.4v1.4h-1.4zM44.1 67.9h1.2v1.2h-1.2zM55.1 69.3h1.4v1.4h-1.4zM39.6 70.0h0.8v0.8h-0.8zM47.3 69.2h1.1v1.1h-1.1zM60.9 68.5h1.5v1.5h-1.5zM62.2 67.9h1.1v1.1h-1.1zM57.1 68.2h1.3v1.3h-1.3zM63.1 69.0h1.4v1.4h-1.4zM50.7 69.4h1.0v1.0h-1.0zM45.4 64.9h0.8v0.8h-0.8zM58.1 67.7h1.4v1.4h-1.4zM58.6 67.6h0.8v0.8h-0.8zM55.2 68.1h1.3v1.3h-1.3zM56.0 65.6h1.4v1.4h-1.4zM53.2 71.3h0.9v0.9h-0.9zM56.1 67.7h0.9v0.9h-0.9zM55.0 70.4h1.1v1.1h-1.1zM58.3 66.9h0.8v0.8h-0.8zM52.0 69.3h1.2v1.2h-1.2zM59.2 70.5h1.1v1.1h-1.1zM48.8 69.9h1.0v1.0h-1.0zM63.9 68.8h1.2v1.2h-1.2zM61.2 70.9h1.0v1.0h-1.0zM56.5 70.9h1.3v1.3h-1.3zM42.6 67.3h1.2v1.2h-1.2zM51.2 66.9h1.2v1.2h-1.2zM50.2 69.1h1.3v1.3h-1.3zM39.8 68.4h1.2v1.2h-1.2zM45.2 66.6h1.0v1.0h-1.0zM63.6 68.1h1.0v1.0h-1.0zM11.1 69.1h1.2v1.2h-1.2zM9.2 70.4h0.9v0.9h-0.9zM10.3 70.5h1.2v1.2h-1.2zM11.0 70.0h1.0v1.0h-1.0zM28.1 71.8h1.3v1.3h-1.3zM31.6 73.2h1.4v1.4h-1.4zM23.4 70.1h0.9v0.9h-0.9zM29.0 73.6h1.0v1.0h-1.0zM30.1 73.0h1.0v1.0h-1.0zM30.2 73.6h0.9v0.9h-0.9zM24.2 74.1h1.1v1.1h-1.1zM20.7 72.4h1.0v1.0h-1.0zM37.6 74.3h1.0v1.0h-1.0zM43.8 73.6h1.2v1.2h-1.2zM36.8 75.2h1.2v1.2h-1.2zM34.2 72.1h1.0v1.0h-1.0zM43.5 73.8h1.0v1.0h-1.0zM58.2 73.7h1.1v1.1h-1.1zM50.0 73.5h0.9v0.9h-0.9zM52.4 73.8h0.8v0.8h-0.8zM57.6 72.8h1.4v1.4h-1.4zM58.1 75.0h0.8v0.8h-0.8zM49.2 73.4h1.1v1.1h-1.1zM54.8 76.0h1.1v1.1h-1.1zM59.2 73.6h1.5v1.5h-1.5zM55.0 76.1h1.1v1.1h-1.1zM56.3 74.5h1.4v1.4h-1.4zM55.3 75.6h1.4v1.4h-1.4zM55.0 71.7h1.0v1.0h-1.0zM53.1 74.9h1.1v1.1h-1.1zM55.4 76.5h0.9v0.9h-0.9zM57.2 73.3h1.2v1.2h-1.2zM51.4 75.3h0.9v0.9h-0.9zM53.5 74.2h1.3v1.3h-1.3zM53.3 75.2h1.0v1.0h-1.0zM55.2 72.2h0.9v0.9h-0.9zM52.8 73.4h1.5v1.5h-1.5zM49.4 72.3h1.4v1.4h-1.4zM51.1 72.0h1.0v1.0h-1.0zM55.3 74.5h0.9v0.9h-0.9zM57.2 76.4h1.5v1.5h-1.5zM58.2 75.2h1.1v1.1h-1.1zM52.6 71.5h1.1v1.1h-1.1zM55.6 75.0h1.0v1.0h-1.0zM52.4 77.1h1.1v1.1h-1.1zM54.6 71.6h1.1v1.1h-1.1zM55.7 73.7h1.3v1.3h-1.3zM53.4 73.8h1.1v1.1h-1.1zM50.7 74.8h0.9v0.9h-0.9zM50.7 73.5h0.8v0.8h-0.8zM53.1 74.8h1.3v1.3h-1.3zM63.0 72.3h1.4v1.4h-1.4zM56.9 71.3h1.3v1.3h-1.3zM58.0 70.5h0.9v0.9h-0.9zM63.7 71.4h1.1v1.1h-1.1zM63.5 72.6h1.0v1.0h-1.0zM56.2 71.5h1.2v1.2h-1.2zM56.4 71.9h1.1v1.1h-1.1zM61.7 71.5h1.2v1.2h-1.2zM61.4 73.5h1.0v1.0h-1.0zM60.2 72.6h0.8v0.8h-0.8zM62.4 72.1h1.4v1.4h-1.4zM58.3 70.4h1.2v1.2h-1.2zM57.2 72.3h1.5v1.5h-1.5zM63.5 71.1h0.9v0.9h-0.9zM61.8 72.2h1.3v1.3h-1.3zM60.6 71.9h1.0v1.0h-1.0zM60.8 73.5h1.4v1.4h-1.4zM64.2 70.9h1.1v1.1h-1.1zM57.6 72.9h1.0v1.0h-1.0zM64.6 71.3h1.3v1.3h-1.3zM16.4 67.3h1.1v1.1h-1.1zM17.2 67.6h1.1v1.1h-1.1zM17.9 68.0h1.1v1.1h-1.1zM18.5 68.4h1.1v1.1h-1.1zM18.9 69.1h1.1v1.1h-1.1zM19.5 69.7h1.1v1.1h-1.1zM19.8 70.4h1.1v1.1h-1.1zM20.4 71.0h1.1v1.1h-1.1zM20.7 71.7h1.1v1.1h-1.1zM48.1 65.4h1.1v1.1h-1.1zM48.7 66.0h1.1v1.1h-1.1zM49.4 66.4h1.1v1.1h-1.1zM50.2 66.6h1.1v1.1h-1.1zM50.9 66.9h1.1v1.1h-1.1zM51.5 67.5h1.1v1.1h-1.1zM24.2 69.2h1.1v1.1h-1.1zM24.9 68.9h1.1v1.1h-1.1zM25.5 68.3h1.1v1.1h-1.1zM26.1 67.8h1.1v1.1h-1.1zM26.5 67.1h1.1v1.1h-1.1zM27.0 66.5h1.1v1.1h-1.1zM27.3 65.8h1.1v1.1h-1.1zM27.6 65.0h1.1v1.1h-1.1zM39.9 67.4h1.1v1.1h-1.1zM40.7 67.1h1.1v1.1h-1.1zM41.4 66.8h1.1v1.1h-1.1zM42.1 66.4h1.1v1.1h-1.1zM42.8 66.1h1.1v1.1h-1.1zM40.8 68.2h1.1v1.1h-1.1zM40.1 67.9h1.1v1.1h-1.1zM39.3 67.9h1.1v1.1h-1.1zM38.5 67.7h1.1v1.1h-1.1zM37.7 67.5h1.1v1.1h-1.1zM36.9 67.7h1.1v1.1h-1.1zM36.2 67.9h1.1v1.1h-1.1zM35.4 68.0h1.1v1.1h-1.1zM34.6 68.0h1.1v1.1h-1.1zM33.8 67.9h1.1v1.1h-1.1zM61.0 68.3h1.1v1.1h-1.1zM60.2 68.2h1.1v1.1h-1.1zM59.4 68.1h1.1v1.1h-1.1zM58.8 67.7h1.1v1.1h-1.1zM58.0 67.4h1.1v1.1h-1.1zM57.4 66.9h1.1v1.1h-1.1zM57.1 66.1h1.1v1.1h-1.1zM21.7 65.8h1.1v1.1h-1.1zM21.0 65.6h1.1v1.1h-1.1zM20.2 65.3h1.1v1.1h-1.1zM19.4 65.2h1.1v1.1h-1.1zM18.6 65.2h1.1v1.1h-1.1zM17.8 65.1h1.1v1.1h-1.1zM17.0 65.2h1.1v1.1h-1.1zM16.3 65.3h1.1v1.1h-1.1zM15.5 65.2h1.1v1.1h-1.1zM14.7 65.0h1.1v1.1h-1.1zM17.6 67.0h1.1v1.1h-1.1zM16.9 66.8h1.1v1.1h-1.1zM16.1 66.5h1.1v1.1h-1.1zM15.3 66.4h1.1v1.1h-1.1zM14.5 66.5h1.1v1.1h-1.1zM13.7 66.4h1.1v1.1h-1.1zM12.9 66.5h1.1v1.1h-1.1zM12.3 67.0h1.1v1.1h-1.1zM41.3 65.9h1.1v1.1h-1.1zM40.5 65.7h1.1v1.1h-1.1zM39.7 65.6h1.1v1.1h-1.1zM39.0 65.3h1.1v1.1h-1.1zM38.2 65.4h1.1v1.1h-1.1zM37.4 65.5h1.1v1.1h-1.1zM36.6 65.6h1.1v1.1h-1.1zM9.5 68.3h1.1v1.1h-1.1zM10.1 68.9h1.1v1.1h-1.1zM10.4 69.7h1.1v1.1h-1.1zM10.7 70.4h1.1v1.1h-1.1zM11.3 70.9h1.1v1.1h-1.1zM12.0 71.4h1.1v1.1h-1.1zM12.8 71.5h1.1v1.1h-1.1zM13.6 71.6h1.1v1.1h-1.1zM14.2 72.1h1.1v1.1h-1.1zM19.6 63.3h1.1v1.1h-1.1zM20.4 63.4h1.1v1.1h-1.1zM21.2 63.4h1.1v1.1h-1.1zM22.0 63.4h1.1v1.1h-1.1zM22.7 63.2h1.1v1.1h-1.1zM23.5 63.3h1.1v1.1h-1.1zM24.3 63.1h1.1v1.1h-1.1zM24.9 62.6h1.1v1.1h-1.1zM25.7 62.3h1.1v1.1h-1.1zM26.5 62.2h1.1v1.1h-1.1zM27.3 62.3h1.1v1.1h-1.1zM32.9 70.1h1.1v1.1h-1.1zM32.1 69.9h1.1v1.1h-1.1zM31.3 69.8h1.1v1.1h-1.1zM30.5 69.6h1.1v1.1h-1.1zM29.8 69.5h1.1v1.1h-1.1zM49.6 68.1h1.1v1.1h-1.1zM50.3 67.7h1.1v1.1h-1.1zM50.9 67.2h1.1v1.1h-1.1zM51.6 66.8h1.1v1.1h-1.1zM52.4 66.5h1.1v1.1h-1.1zM53.2 66.6h1.1v1.1h-1.1zM53.9 66.4h1.1v1.1h-1.1zM54.7 66.5h1.1v1.1h-1.1zM55.5 66.3h1.1v1.1h-1.1zM56.2 65.9h1.1v1.1h-1.1zM56.9 65.5h1.1v1.1h-1.1zM40.3 69.5h1.1v1.1h-1.1zM39.6 69.8h1.1v1.1h-1.1zM38.8 70.0h1.1v1.1h-1.1zM38.0 69.7h1.1v1.1h-1.1zM37.4 69.3h1.1v1.1h-1.1zM36.8 68.7h1.1v1.1h-1.1zM36.2 68.2h1.1v1.1h-1.1zM35.6 67.7h1.1v1.1h-1.1zM35.0 67.1h1.1v1.1h-1.1zM32.7 69.8h1.1v1.1h-1.1zM33.5 69.7h1.1v1.1h-1.1zM34.3 69.9h1.1v1.1h-1.1zM35.1 70.1h1.1v1.1h-1.1zM35.8 70.4h1.1v1.1h-1.1zM36.4 70.9h1.1v1.1h-1.1zM37.1 71.3h1.1v1.1h-1.1zM37.7 71.8h1.1v1.1h-1.1zM38.5 72.1h1.1v1.1h-1.1zM39.3 72.0h1.1v1.1h-1.1zM21.3 68.3h1.1v1.1h-1.1zM20.5 68.5h1.1v1.1h-1.1zM19.7 68.3h1.1v1.1h-1.1zM18.9 68.4h1.1v1.1h-1.1zM18.1 68.4h1.1v1.1h-1.1zM52.6 68.8h1.1v1.1h-1.1zM51.8 69.0h1.1v1.1h-1.1zM51.0 69.1h1.1v1.1h-1.1zM50.3 68.8h1.1v1.1h-1.1zM49.7 68.3h1.1v1.1h-1.1zM49.0 67.9h1.1v1.1h-1.1zM48.5 67.2h1.1v1.1h-1.1zM48.4 66.4h1.1v1.1h-1.1zM52.3 68.7h1.1v1.1h-1.1zM53.0 69.0h1.1v1.1h-1.1zM53.7 69.4h1.1v1.1h-1.1zM54.3 70.0h1.1v1.1h-1.1zM55.0 70.3h1.1v1.1h-1.1zM55.8 70.5h1.1v1.1h-1.1zM56.4 71.0h1.1v1.1h-1.1zM43.3 65.7h1.1v1.1h-1.1zM44.1 65.5h1.1v1.1h-1.1zM44.8 65.3h1.1v1.1h-1.1zM45.6 65.1h1.1v1.1h-1.1zM46.2 64.6h1.1v1.1h-1.1zM16.2 64.1h1.1v1.1h-1.1zM15.5 63.6h1.1v1.1h-1.1zM15.1 62.9h1.1v1.1h-1.1zM14.9 62.1h1.1v1.1h-1.1zM14.4 61.5h1.1v1.1h-1.1zM14.2 60.7h1.1v1.1h-1.1zM14.0 59.9h1.1v1.1h-1.1zM13.7 59.2h1.1v1.1h-1.1zM13.3 58.5h1.1v1.1h-1.1zM12.7 57.9h1.1v1.1h-1.1zM49.6 69.8h1.1v1.1h-1.1zM48.8 69.9h1.1v1.1h-1.1zM48.0 69.6h1.1v1.1h-1.1zM47.3 69.2h1.1v1.1h-1.1zM46.8 68.6h1.1v1.1h-1.1zM46.6 67.9h1.1v1.1h-1.1zM46.4 67.1h1.1v1.1h-1.1zM45.8 66.5h1.1v1.1h-1.1zM45.4 65.8h1.1v1.1h-1.1zM26.6 67.0h1.1v1.1h-1.1zM25.9 67.4h1.1v1.1h-1.1zM25.1 67.5h1.1v1.1h-1.1zM24.3 67.4h1.1v1.1h-1.1zM23.6 67.4h1.1v1.1h-1.1zM22.8 67.4h1.1v1.1h-1.1zM22.0 67.3h1.1v1.1h-1.1zM21.2 67.1h1.1v1.1h-1.1zM20.5 66.7h1.1v1.1h-1.1zM20.3 68.8h1.1v1.1h-1.1zM19.5 68.5h1.1v1.1h-1.1zM18.7 68.5h1.1v1.1h-1.1zM18.0 68.1h1.1v1.1h-1.1zM17.3 67.9h1.1v1.1h-1.1zM16.7 67.4h1.1v1.1h-1.1zM16.2 66.8h1.1v1.1h-1.1zM16.0 66.0h1.1v1.1h-1.1zM15.7 65.2h1.1v1.1h-1.1zM43.5 67.6h1.1v1.1h-1.1zM44.3 67.6h1.1v1.1h-1.1zM45.1 67.4h1.1v1.1h-1.1zM45.9 67.3h1.1v1.1h-1.1zM46.6 66.9h1.1v1.1h-1.1zM47.0 66.2h1.1v1.1h-1.1zM47.2 65.4h1.1v1.1h-1.1zM16.9 64.9h1.1v1.1h-1.1zM16.1 64.8h1.1v1.1h-1.1zM15.3 64.6h1.1v1.1h-1.1zM14.6 64.8h1.1v1.1h-1.1zM13.8 65.1h1.1v1.1h-1.1zM13.0 65.2h1.1v1.1h-1.1zM12.3 65.6h1.1v1.1h-1.1zM13.4 64.5h1.1v1.1h-1.1zM12.6 64.5h1.1v1.1h-1.1zM11.8 64.5h1.1v1.1h-1.1zM11.0 64.9h1.1v1.1h-1.1zM10.3 65.0h1.1v1.1h-1.1zM9.5 65.2h1.1v1.1h-1.1zM8.7 65.1h1.1v1.1h-1.1zM7.9 65.3h1.1v1.1h-1.1zM7.2 65.8h1.1v1.1h-1.1zM6.5 66.0h1.1v1.1h-1.1zM28.2 70.5h1.1v1.1h-1.1zM27.4 70.6h1.1v1.1h-1.1zM26.6 70.4h1.1v1.1h-1.1zM25.9 70.2h1.1v1.1h-1.1zM25.1 70.0h1.1v1.1h-1.1zM24.4 69.5h1.1v1.1h-1.1zM14.8 67.2h1.1v1.1h-1.1zM15.6 67.2h1.1v1.1h-1.1zM16.4 67.3h1.1v1.1h-1.1zM17.1 67.5h1.1v1.1h-1.1zM17.8 67.9h1.1v1.1h-1.1zM18.4 68.5h1.1v1.1h-1.1zM18.8 69.1h1.1v1.1h-1.1zM19.2 69.8h1.1v1.1h-1.1zM19.8 70.4h1.1v1.1h-1.1zM20.3 71.1h1.1v1.1h-1.1zM20.6 71.8h1.1v1.1h-1.1zM51.0 66.2h1.1v1.1h-1.1zM51.8 66.1h1.1v1.1h-1.1zM52.5 65.7h1.1v1.1h-1.1zM53.2 65.5h1.1v1.1h-1.1zM54.0 65.3h1.1v1.1h-1.1zM54.7 64.9h1.1v1.1h-1.1zM55.2 64.3h1.1v1.1h-1.1zM55.9 63.9h1.1v1.1h-1.1zM56.6 63.5h1.1v1.1h-1.1zM32.2 66.6h1.1v1.1h-1.1zM32.9 67.0h1.1v1.1h-1.1zM33.5 67.6h1.1v1.1h-1.1zM34.0 68.2h1.1v1.1h-1.1zM34.5 68.8h1.1v1.1h-1.1zM35.3 69.1h1.1v1.1h-1.1zM36.0 69.4h1.1v1.1h-1.1zM36.8 69.5h1.1v1.1h-1.1zM37.6 69.3h1.1v1.1h-1.1zM38.4 69.3h1.1v1.1h-1.1zM30.5 66.4h1.1v1.1h-1.1zM29.8 66.8h1.1v1.1h-1.1zM29.2 67.4h1.1v1.1h-1.1zM28.9 68.2h1.1v1.1h-1.1zM28.5 68.8h1.1v1.1h-1.1zM42.3 71.1h1.1v1.1h-1.1zM41.6 70.7h1.1v1.1h-1.1zM40.9 70.4h1.1v1.1h-1.1zM40.2 70.1h1.1v1.1h-1.1zM39.6 69.5h1.1v1.1h-1.1zM38.8 69.2h1.1v1.1h-1.1zM83.0 106.5h0.9v0.9h-0.9zM138.1 36.9h1.2v1.2h-1.2zM136.5 38.4h1.0v1.0h-1.0zM138.0 36.4h1.0v1.0h-1.0zM137.7 36.3h1.2v1.2h-1.2zM136.3 39.5h1.3v1.3h-1.3zM136.8 38.8h1.5v1.5h-1.5zM137.3 36.7h1.5v1.5h-1.5zM139.4 34.5h1.1v1.1h-1.1zM138.9 34.4h1.1v1.1h-1.1zM137.7 35.7h1.2v1.2h-1.2zM138.9 34.8h1.3v1.3h-1.3zM139.6 33.9h1.1v1.1h-1.1zM138.8 33.6h1.4v1.4h-1.4zM141.0 32.1h1.4v1.4h-1.4zM139.8 32.6h1.3v1.3h-1.3zM141.2 33.5h1.1v1.1h-1.1zM141.2 33.0h1.3v1.3h-1.3zM141.9 34.3h1.0v1.0h-1.0zM142.7 35.2h1.5v1.5h-1.5zM142.7 33.8h1.2v1.2h-1.2zM142.0 34.9h1.6v1.6h-1.6zM143.0 33.2h1.5v1.5h-1.5zM142.3 34.9h1.2v1.2h-1.2zM142.8 38.1h1.1v1.1h-1.1zM141.3 38.5h1.2v1.2h-1.2zM142.5 36.5h1.2v1.2h-1.2zM141.5 38.6h1.5v1.5h-1.5zM141.1 38.6h1.4v1.4h-1.4zM142.7 36.1h1.2v1.2h-1.2zM142.2 38.0h1.4v1.4h-1.4zM142.1 40.2h1.5v1.5h-1.5zM141.8 37.8h1.3v1.3h-1.3zM147.1 38.9h1.3v1.3h-1.3zM145.2 38.3h1.7v1.7h-1.7zM145.1 38.0h1.6v1.6h-1.6zM145.5 37.1h1.7v1.7h-1.7zM146.9 37.1h1.7v1.7h-1.7zM143.0 36.1h1.8v1.8h-1.8zM143.8 37.0h1.3v1.3h-1.3zM144.1 35.3h1.5v1.5h-1.5zM144.5 36.7h1.9v1.9h-1.9zM144.8 37.6h1.7v1.7h-1.7zM145.1 40.7h1.7v1.7h-1.7zM146.0 37.2h1.5v1.5h-1.5zM145.0 36.3h2.0v2.0h-2.0zM144.6 38.6h1.3v1.3h-1.3zM145.8 37.7h1.4v1.4h-1.4zM144.9 37.9h1.7v1.7h-1.7zM145.7 38.2h1.6v1.6h-1.6zM147.7 41.7h1.3v1.3h-1.3zM150.8 42.1h1.3v1.3h-1.3zM148.1 42.1h1.5v1.5h-1.5zM147.3 41.3h1.5v1.5h-1.5zM149.6 41.4h1.4v1.4h-1.4zM148.1 41.3h1.8v1.8h-1.8zM147.9 38.4h1.8v1.8h-1.8zM149.7 41.6h1.3v1.3h-1.3zM148.5 41.6h1.7v1.7h-1.7zM148.4 42.1h1.7v1.7h-1.7zM146.2 39.7h2.0v2.0h-2.0zM150.5 41.3h1.5v1.5h-1.5zM153.0 44.5h1.5v1.5h-1.5zM152.3 43.3h1.4v1.4h-1.4zM154.4 46.2h1.4v1.4h-1.4zM155.7 46.6h1.8v1.8h-1.8zM153.7 45.0h1.4v1.4h-1.4zM152.1 43.1h1.3v1.3h-1.3zM152.0 41.6h1.4v1.4h-1.4zM149.9 43.3h1.7v1.7h-1.7zM156.1 44.9h1.7v1.7h-1.7zM153.4 44.7h1.4v1.4h-1.4zM152.6 44.1h1.6v1.6h-1.6zM155.2 46.0h1.9v1.9h-1.9zM154.1 44.5h1.6v1.6h-1.6zM154.1 44.6h1.3v1.3h-1.3zM155.8 45.0h2.0v2.0h-2.0zM155.8 46.0h1.5v1.5h-1.5zM149.8 44.1h1.7v1.7h-1.7zM156.1 45.2h2.0v2.0h-2.0zM155.5 47.3h1.9v1.9h-1.9zM152.8 41.2h1.5v1.5h-1.5zM156.0 45.7h1.7v1.7h-1.7zM155.7 46.5h1.8v1.8h-1.8zM149.7 44.4h1.4v1.4h-1.4zM152.4 44.6h1.9v1.9h-1.9zM149.7 44.9h2.0v2.0h-2.0zM152.2 43.8h1.4v1.4h-1.4zM150.9 44.2h1.7v1.7h-1.7zM153.9 44.0h1.9v1.9h-1.9zM150.2 45.2h1.4v1.4h-1.4zM154.6 45.8h1.3v1.3h-1.3zM152.2 45.1h1.3v1.3h-1.3zM156.3 45.7h1.7v1.7h-1.7zM150.6 42.2h1.5v1.5h-1.5zM155.2 45.9h1.4v1.4h-1.4zM152.0 45.3h2.0v2.0h-2.0zM155.8 45.2h1.5v1.5h-1.5zM152.8 41.7h1.9v1.9h-1.9zM152.2 42.1h2.0v2.0h-2.0zM153.4 46.5h2.0v2.0h-2.0zM161.5 46.8h1.3v1.3h-1.3zM160.6 46.8h1.9v1.9h-1.9zM163.4 48.9h1.6v1.6h-1.6zM159.1 45.4h1.9v1.9h-1.9zM160.1 46.4h1.7v1.7h-1.7zM159.5 46.1h1.4v1.4h-1.4zM158.1 47.2h1.4v1.4h-1.4zM157.7 45.2h1.6v1.6h-1.6zM163.0 48.4h1.4v1.4h-1.4zM156.7 46.7h1.6v1.6h-1.6zM159.2 48.9h1.6v1.6h-1.6zM159.0 47.6h1.8v1.8h-1.8zM163.1 48.3h1.3v1.3h-1.3zM158.2 46.4h1.4v1.4h-1.4zM164.3 47.1h1.4v1.4h-1.4zM158.0 47.6h2.0v2.0h-2.0zM161.3 47.0h1.8v1.8h-1.8zM159.6 48.8h1.5v1.5h-1.5zM158.7 46.3h1.7v1.7h-1.7zM160.7 48.3h1.9v1.9h-1.9zM157.2 45.7h2.1v2.1h-2.1zM158.5 47.3h2.1v2.1h-2.1zM159.8 44.8h2.1v2.1h-2.1zM160.4 47.0h1.3v1.3h-1.3zM160.3 49.5h1.7v1.7h-1.7zM163.6 47.7h1.4v1.4h-1.4zM157.8 44.9h1.7v1.7h-1.7zM162.8 49.1h1.3v1.3h-1.3zM159.8 47.6h1.6v1.6h-1.6zM162.6 48.9h1.9v1.9h-1.9zM163.3 48.2h1.7v1.7h-1.7zM163.4 46.3h2.0v2.0h-2.0zM159.0 46.1h1.6v1.6h-1.6zM161.8 47.8h1.7v1.7h-1.7zM162.0 48.1h1.9v1.9h-1.9zM147.0 38.8h0.9v0.9h-0.9zM150.8 42.4h0.8v0.8h-0.8zM162.0 47.6h0.8v0.8h-0.8zM157.7 47.3h1.2v1.2h-1.2zM158.0 51.9h1.1v1.1h-1.1zM158.2 51.8h1.1v1.1h-1.1zM157.1 52.3h1.1v1.1h-1.1zM155.7 52.7h0.9v0.9h-0.9zM157.0 52.1h1.1v1.1h-1.1zM155.3 52.8h1.0v1.0h-1.0zM156.1 52.1h1.1v1.1h-1.1zM156.8 52.7h1.1v1.1h-1.1zM154.5 51.7h1.1v1.1h-1.1zM155.1 51.5h1.0v1.0h-1.0zM156.0 51.1h1.1v1.1h-1.1zM154.7 52.7h1.0v1.0h-1.0zM153.4 52.5h1.0v1.0h-1.0zM157.0 51.8h1.0v1.0h-1.0zM154.1 52.8h1.2v1.2h-1.2zM156.0 51.9h1.1v1.1h-1.1zM154.2 52.8h0.9v0.9h-0.9zM156.7 51.0h1.4v1.4h-1.4zM158.0 52.2h1.1v1.1h-1.1zM154.0 52.3h1.3v1.3h-1.3zM161.8 54.7h0.7v0.7h-0.7zM133.1 43.5h1.2v1.2h-1.2zM132.5 44.3h0.8v0.8h-0.8zM136.1 41.3h1.2v1.2h-1.2zM165.8 47.6h0.6v0.6h-0.6zM170.2 46.9h0.9v0.9h-0.9zM169.3 44.8h0.8v0.8h-0.8zM165.0 48.1h0.8v0.8h-0.8zM220.7 74.8h0.8v0.8h-0.8zM200.7 97.6h0.9v0.9h-0.9zM212.0 91.0h1.0v1.0h-1.0zM187.5 87.0h0.7v0.7h-0.7zM245.1 95.6h1.0v1.0h-1.0zM248.6 97.3h0.9v0.9h-0.9z" fill="#efc53f" opacity="0.9"/><path d="M15.9 66.7h1.0v1.0h-1.0zM16.6 68.2h1.2v1.2h-1.2zM10.2 67.0h1.3v1.3h-1.3zM9.4 67.1h1.3v1.3h-1.3zM12.0 66.1h1.0v1.0h-1.0zM11.2 64.7h1.2v1.2h-1.2zM11.9 66.9h0.9v0.9h-0.9zM16.4 67.8h1.1v1.1h-1.1zM11.1 66.9h0.9v0.9h-0.9zM11.1 66.0h0.8v0.8h-0.8zM11.5 65.5h1.2v1.2h-1.2zM10.4 69.3h1.4v1.4h-1.4zM6.3 66.7h0.9v0.9h-0.9zM11.4 68.8h1.3v1.3h-1.3zM5.5 67.1h1.2v1.2h-1.2zM26.0 69.1h1.0v1.0h-1.0zM26.7 65.9h1.4v1.4h-1.4zM28.6 64.9h1.3v1.3h-1.3zM25.6 67.2h1.1v1.1h-1.1zM31.5 67.9h1.2v1.2h-1.2zM33.1 67.8h0.9v0.9h-0.9zM30.3 65.1h0.9v0.9h-0.9zM33.1 64.9h0.9v0.9h-0.9zM30.5 69.5h1.3v1.3h-1.3zM26.7 65.6h0.9v0.9h-0.9zM30.4 68.1h1.2v1.2h-1.2zM32.7 65.9h1.5v1.5h-1.5zM35.4 69.0h1.3v1.3h-1.3zM30.5 67.8h0.8v0.8h-0.8zM37.4 68.1h1.5v1.5h-1.5zM31.7 66.5h1.3v1.3h-1.3zM39.8 68.0h1.1v1.1h-1.1zM50.5 68.3h0.9v0.9h-0.9zM40.3 67.9h1.1v1.1h-1.1zM41.6 66.6h1.2v1.2h-1.2zM53.8 69.5h0.8v0.8h-0.8zM52.8 69.6h1.1v1.1h-1.1zM50.2 68.2h1.4v1.4h-1.4zM50.3 65.4h1.4v1.4h-1.4zM46.8 70.7h0.9v0.9h-0.9zM49.9 66.9h1.3v1.3h-1.3zM45.4 66.4h1.3v1.3h-1.3zM63.9 70.5h0.8v0.8h-0.8zM55.1 72.4h1.5v1.5h-1.5zM59.7 72.4h1.3v1.3h-1.3zM62.3 71.5h0.8v0.8h-0.8zM46.1 69.2h1.3v1.3h-1.3zM53.2 66.2h1.4v1.4h-1.4zM57.8 68.9h1.0v1.0h-1.0zM50.1 65.4h1.3v1.3h-1.3zM44.3 68.4h0.9v0.9h-0.9zM41.0 65.8h1.0v1.0h-1.0zM43.1 68.0h1.2v1.2h-1.2zM60.4 68.9h1.1v1.1h-1.1zM40.4 71.8h0.9v0.9h-0.9zM45.6 68.0h1.1v1.1h-1.1zM56.4 69.9h1.1v1.1h-1.1zM47.5 68.2h1.3v1.3h-1.3zM43.1 67.6h1.4v1.4h-1.4zM51.8 71.4h0.8v0.8h-0.8zM52.1 69.0h1.2v1.2h-1.2zM61.8 67.5h1.4v1.4h-1.4zM57.8 70.6h0.9v0.9h-0.9zM53.3 68.7h1.3v1.3h-1.3zM57.3 70.5h1.2v1.2h-1.2zM60.3 67.7h0.9v0.9h-0.9zM12.1 69.7h1.2v1.2h-1.2zM7.6 71.8h0.9v0.9h-0.9zM15.0 72.2h0.9v0.9h-0.9zM30.9 73.0h1.0v1.0h-1.0zM22.3 74.5h0.8v0.8h-0.8zM22.3 72.2h1.3v1.3h-1.3zM24.6 72.2h0.9v0.9h-0.9zM45.3 75.7h1.3v1.3h-1.3zM45.5 75.0h1.2v1.2h-1.2zM42.8 73.9h1.1v1.1h-1.1zM39.9 72.8h1.3v1.3h-1.3zM49.4 73.7h1.0v1.0h-1.0zM56.2 76.3h0.9v0.9h-0.9zM55.3 72.3h1.4v1.4h-1.4zM56.7 72.7h1.0v1.0h-1.0zM60.1 74.4h1.4v1.4h-1.4zM52.3 74.1h1.1v1.1h-1.1zM56.8 72.4h1.4v1.4h-1.4zM56.0 73.4h1.2v1.2h-1.2zM56.8 73.2h1.4v1.4h-1.4zM52.1 73.3h0.8v0.8h-0.8zM57.9 73.2h1.1v1.1h-1.1zM56.3 74.4h1.2v1.2h-1.2zM50.7 74.7h1.3v1.3h-1.3zM63.5 72.2h1.1v1.1h-1.1zM63.7 70.7h1.3v1.3h-1.3zM64.5 71.1h0.9v0.9h-0.9zM58.1 72.7h1.2v1.2h-1.2zM58.9 70.9h0.9v0.9h-0.9zM63.2 71.3h1.3v1.3h-1.3zM92.7 87.4h1.1v1.1h-1.1zM87.8 103.8h1.3v1.3h-1.3zM137.4 37.8h1.2v1.2h-1.2zM136.6 38.7h1.1v1.1h-1.1zM135.7 39.3h1.2v1.2h-1.2zM137.2 36.4h1.3v1.3h-1.3zM137.8 35.9h1.3v1.3h-1.3zM138.5 35.2h1.5v1.5h-1.5zM141.7 33.7h1.2v1.2h-1.2zM142.5 35.7h1.3v1.3h-1.3zM140.5 39.1h1.3v1.3h-1.3zM141.5 37.7h1.3v1.3h-1.3zM142.3 36.5h1.6v1.6h-1.6zM141.0 40.0h1.3v1.3h-1.3zM146.2 38.6h1.3v1.3h-1.3zM144.1 38.3h1.5v1.5h-1.5zM143.8 36.2h1.7v1.7h-1.7zM145.0 38.5h1.2v1.2h-1.2zM145.5 39.5h1.9v1.9h-1.9zM143.5 36.6h1.9v1.9h-1.9zM146.0 38.0h1.9v1.9h-1.9zM145.4 39.1h1.8v1.8h-1.8zM148.1 40.5h1.4v1.4h-1.4zM149.4 41.2h1.5v1.5h-1.5zM148.3 41.1h1.7v1.7h-1.7zM148.9 41.3h1.3v1.3h-1.3zM147.3 41.2h1.4v1.4h-1.4zM147.6 40.8h1.3v1.3h-1.3zM147.0 40.2h1.5v1.5h-1.5zM148.2 42.5h1.7v1.7h-1.7zM147.3 39.1h1.3v1.3h-1.3zM148.4 40.9h1.3v1.3h-1.3zM149.1 42.6h2.0v2.0h-2.0zM148.4 41.0h1.8v1.8h-1.8zM148.7 38.3h1.6v1.6h-1.6zM153.0 45.0h1.4v1.4h-1.4zM152.8 44.1h1.8v1.8h-1.8zM150.7 44.4h1.5v1.5h-1.5zM152.1 43.4h1.5v1.5h-1.5zM151.2 41.9h1.4v1.4h-1.4zM153.7 44.0h1.3v1.3h-1.3zM153.5 45.0h1.5v1.5h-1.5zM156.3 45.9h1.7v1.7h-1.7zM151.5 40.7h2.0v2.0h-2.0zM153.3 44.4h1.6v1.6h-1.6zM152.0 43.0h1.2v1.2h-1.2zM154.2 46.4h1.7v1.7h-1.7zM153.2 44.0h1.7v1.7h-1.7zM153.7 43.9h1.8v1.8h-1.8zM150.2 44.1h1.6v1.6h-1.6zM151.2 43.1h2.1v2.1h-2.1zM154.0 44.2h1.9v1.9h-1.9zM158.3 46.4h1.7v1.7h-1.7zM159.5 47.0h1.9v1.9h-1.9zM162.7 48.7h2.0v2.0h-2.0zM160.5 46.8h1.5v1.5h-1.5zM162.9 44.6h1.6v1.6h-1.6zM162.8 46.9h1.2v1.2h-1.2zM157.8 48.7h1.2v1.2h-1.2zM160.2 45.6h1.2v1.2h-1.2zM161.4 45.9h1.4v1.4h-1.4zM157.4 44.5h1.9v1.9h-1.9zM157.6 45.6h1.3v1.3h-1.3zM162.9 48.8h1.8v1.8h-1.8zM160.7 47.2h1.6v1.6h-1.6zM158.7 47.0h1.9v1.9h-1.9zM158.2 47.4h1.5v1.5h-1.5zM160.7 46.5h2.1v2.1h-2.1zM163.4 48.8h1.7v1.7h-1.7zM161.0 48.5h1.5v1.5h-1.5zM159.7 48.4h1.2v1.2h-1.2zM163.4 47.1h1.4v1.4h-1.4zM160.9 48.5h1.4v1.4h-1.4zM160.8 47.1h1.3v1.3h-1.3zM159.8 47.1h1.4v1.4h-1.4zM155.6 51.9h1.1v1.1h-1.1zM156.3 51.3h1.3v1.3h-1.3zM156.5 51.8h1.4v1.4h-1.4zM157.7 51.3h1.2v1.2h-1.2zM195.2 96.0h0.8v0.8h-0.8zM212.1 90.7h1.0v1.0h-1.0z" fill="#efc53f" opacity="1.0"/><path d="M199.1 45.9h1.6v1.6h-1.6zM202.2 33.6h1.4v1.4h-1.4zM197.2 50.7h1.5v1.5h-1.5zM195.8 37.3h0.9v0.9h-0.9zM193.1 51.7h1.3v1.3h-1.3zM199.5 46.3h1.4v1.4h-1.4zM204.7 32.7h1.6v1.6h-1.6zM199.1 42.8h1.3v1.3h-1.3zM208.6 34.6h1.2v1.2h-1.2zM213.2 42.9h1.3v1.3h-1.3zM199.3 45.1h1.2v1.2h-1.2zM196.6 41.6h1.0v1.0h-1.0zM209.8 46.2h1.0v1.0h-1.0zM201.3 46.0h0.9v0.9h-0.9zM211.0 49.2h1.1v1.1h-1.1zM192.5 41.2h1.1v1.1h-1.1z" fill="#f8992a" opacity="0.1"/><path d="M198.5 42.3h1.5v1.5h-1.5zM202.8 34.0h1.4v1.4h-1.4zM201.0 40.6h1.4v1.4h-1.4zM208.9 46.4h1.5v1.5h-1.5zM205.6 51.8h1.2v1.2h-1.2zM200.2 44.2h1.1v1.1h-1.1zM197.7 35.4h1.2v1.2h-1.2zM198.8 38.1h1.3v1.3h-1.3zM208.6 50.8h1.2v1.2h-1.2zM201.6 49.1h1.3v1.3h-1.3zM203.3 44.8h1.2v1.2h-1.2zM210.6 49.0h1.5v1.5h-1.5zM204.0 44.8h1.0v1.0h-1.0zM191.2 42.5h1.3v1.3h-1.3zM206.4 51.6h1.3v1.3h-1.3zM201.2 49.1h1.1v1.1h-1.1zM197.8 38.5h1.3v1.3h-1.3zM198.2 49.6h1.3v1.3h-1.3zM193.2 49.4h1.5v1.5h-1.5zM201.3 47.2h1.1v1.1h-1.1zM201.5 44.6h1.4v1.4h-1.4zM201.5 39.5h1.3v1.3h-1.3zM197.4 41.2h1.0v1.0h-1.0zM198.0 42.3h1.1v1.1h-1.1zM203.6 51.8h1.3v1.3h-1.3zM204.7 41.2h1.6v1.6h-1.6zM214.0 38.4h1.3v1.3h-1.3zM205.5 52.2h1.5v1.5h-1.5zM201.4 51.0h1.0v1.0h-1.0zM213.6 34.6h1.5v1.5h-1.5zM193.9 52.6h0.9v0.9h-0.9zM199.7 49.3h1.4v1.4h-1.4zM194.6 40.0h1.4v1.4h-1.4zM199.2 39.1h0.9v0.9h-0.9zM205.1 36.9h0.9v0.9h-0.9zM216.0 39.8h1.1v1.1h-1.1zM207.6 46.4h1.1v1.1h-1.1zM201.7 43.0h1.2v1.2h-1.2zM195.4 51.2h1.5v1.5h-1.5zM211.2 40.9h1.4v1.4h-1.4zM205.1 43.3h1.3v1.3h-1.3zM198.3 36.7h1.3v1.3h-1.3zM195.2 46.2h0.8v0.8h-0.8zM205.4 45.4h0.9v0.9h-0.9zM213.8 41.8h1.1v1.1h-1.1zM195.6 40.3h0.8v0.8h-0.8zM209.5 42.0h1.5v1.5h-1.5zM197.0 53.6h1.6v1.6h-1.6zM193.6 43.5h1.2v1.2h-1.2zM195.0 51.0h0.9v0.9h-0.9zM204.1 45.1h1.2v1.2h-1.2zM211.2 39.0h0.8v0.8h-0.8zM200.6 39.0h1.3v1.3h-1.3zM204.8 39.3h1.0v1.0h-1.0zM192.0 48.4h1.5v1.5h-1.5zM208.7 48.0h0.8v0.8h-0.8zM214.6 35.5h1.5v1.5h-1.5zM201.8 35.0h1.0v1.0h-1.0zM205.1 34.5h1.0v1.0h-1.0zM211.3 37.8h0.9v0.9h-0.9zM207.0 51.0h1.6v1.6h-1.6zM209.8 47.8h1.5v1.5h-1.5zM213.1 35.0h1.5v1.5h-1.5zM211.5 43.1h1.3v1.3h-1.3zM186.8 47.0h0.9v0.9h-0.9zM188.2 47.2h1.2v1.2h-1.2z" fill="#f8992a" opacity="0.2"/><path d="M177.2 54.1h1.2v1.2h-1.2zM172.3 49.3h1.7v1.7h-1.7zM184.3 65.1h1.1v1.1h-1.1zM183.5 55.0h1.6v1.6h-1.6zM195.1 44.8h1.1v1.1h-1.1zM192.8 45.8h1.1v1.1h-1.1zM189.1 52.9h1.3v1.3h-1.3zM194.4 64.6h1.0v1.0h-1.0zM182.4 74.7h0.8v0.8h-0.8zM213.5 44.6h0.9v0.9h-0.9zM208.3 42.2h0.9v0.9h-0.9zM204.4 47.0h1.2v1.2h-1.2zM211.8 40.3h1.2v1.2h-1.2zM196.4 47.4h1.1v1.1h-1.1zM192.9 44.8h1.4v1.4h-1.4zM191.3 48.4h1.6v1.6h-1.6zM202.4 37.5h1.6v1.6h-1.6zM210.7 36.8h1.5v1.5h-1.5zM207.3 34.8h1.6v1.6h-1.6zM209.8 35.7h1.0v1.0h-1.0zM196.7 41.2h1.3v1.3h-1.3zM202.6 45.4h1.2v1.2h-1.2zM194.6 45.3h1.3v1.3h-1.3zM197.6 39.9h1.3v1.3h-1.3zM193.1 50.0h1.2v1.2h-1.2zM194.0 40.8h1.2v1.2h-1.2zM204.9 40.2h1.2v1.2h-1.2zM206.9 46.3h1.3v1.3h-1.3zM197.4 49.7h1.1v1.1h-1.1zM193.1 43.1h1.5v1.5h-1.5zM194.1 47.0h0.9v0.9h-0.9zM198.9 48.8h1.2v1.2h-1.2zM206.0 40.9h1.2v1.2h-1.2zM205.3 50.6h1.6v1.6h-1.6zM193.3 49.2h1.6v1.6h-1.6zM209.7 45.9h1.4v1.4h-1.4zM202.3 35.5h1.0v1.0h-1.0zM196.4 49.6h1.6v1.6h-1.6zM206.7 51.2h1.5v1.5h-1.5zM215.5 38.0h1.1v1.1h-1.1zM211.8 33.8h1.6v1.6h-1.6zM194.4 43.3h1.2v1.2h-1.2zM202.2 47.6h1.3v1.3h-1.3zM191.7 46.0h1.0v1.0h-1.0zM204.7 34.4h1.3v1.3h-1.3zM206.3 50.2h1.5v1.5h-1.5zM212.6 42.0h1.2v1.2h-1.2zM193.0 47.2h0.8v0.8h-0.8zM216.5 40.9h0.9v0.9h-0.9zM197.1 53.7h1.1v1.1h-1.1zM211.2 35.4h1.4v1.4h-1.4zM193.9 49.0h1.3v1.3h-1.3zM208.1 38.8h1.0v1.0h-1.0zM203.6 50.2h1.2v1.2h-1.2zM214.8 37.1h1.0v1.0h-1.0zM198.7 39.5h0.8v0.8h-0.8zM209.4 39.0h0.8v0.8h-0.8zM205.4 49.2h0.8v0.8h-0.8zM200.2 49.8h1.3v1.3h-1.3zM197.7 38.0h1.3v1.3h-1.3zM197.7 47.7h1.5v1.5h-1.5zM194.3 42.4h1.6v1.6h-1.6zM215.3 42.4h1.6v1.6h-1.6zM205.6 41.1h0.8v0.8h-0.8zM209.6 32.1h1.2v1.2h-1.2zM210.1 33.9h0.9v0.9h-0.9z" fill="#f8992a" opacity="0.3"/><path d="M180.7 50.1h1.1v1.1h-1.1zM180.7 51.4h1.2v1.2h-1.2zM178.2 46.7h1.8v1.8h-1.8zM181.3 48.8h1.2v1.2h-1.2zM174.4 43.5h1.5v1.5h-1.5zM174.8 59.3h1.7v1.7h-1.7zM186.3 60.6h1.6v1.6h-1.6zM187.5 54.1h1.1v1.1h-1.1zM189.9 55.2h1.0v1.0h-1.0zM188.0 65.8h1.5v1.5h-1.5zM183.1 64.3h1.0v1.0h-1.0zM186.4 55.6h1.7v1.7h-1.7zM190.8 56.1h1.7v1.7h-1.7zM188.1 49.0h1.5v1.5h-1.5zM190.8 52.5h1.3v1.3h-1.3zM192.9 46.0h1.1v1.1h-1.1zM197.2 65.5h1.1v1.1h-1.1zM195.5 65.9h0.8v0.8h-0.8zM194.8 61.2h0.9v0.9h-0.9zM195.1 61.7h1.1v1.1h-1.1zM181.0 77.0h1.0v1.0h-1.0zM180.3 72.9h1.1v1.1h-1.1zM206.1 44.5h1.1v1.1h-1.1zM204.5 42.6h1.1v1.1h-1.1zM207.2 41.9h1.6v1.6h-1.6zM198.3 46.5h1.3v1.3h-1.3zM201.3 35.2h1.1v1.1h-1.1zM203.4 36.2h1.5v1.5h-1.5zM192.5 42.0h1.5v1.5h-1.5zM199.1 49.1h1.2v1.2h-1.2zM206.6 50.2h1.6v1.6h-1.6zM198.2 36.1h1.0v1.0h-1.0zM207.7 47.8h1.5v1.5h-1.5zM200.1 42.0h1.6v1.6h-1.6zM198.8 37.9h1.1v1.1h-1.1zM195.8 40.5h1.1v1.1h-1.1zM206.3 51.0h1.0v1.0h-1.0zM214.0 45.9h1.4v1.4h-1.4zM209.2 51.3h1.2v1.2h-1.2zM202.4 35.8h0.9v0.9h-0.9zM212.5 36.9h1.4v1.4h-1.4zM194.4 41.5h1.3v1.3h-1.3zM200.9 38.1h1.6v1.6h-1.6zM209.8 41.0h1.2v1.2h-1.2zM202.6 53.0h0.9v0.9h-0.9zM203.1 52.0h1.5v1.5h-1.5zM213.3 34.8h1.3v1.3h-1.3zM200.3 35.6h1.0v1.0h-1.0zM191.0 49.0h1.4v1.4h-1.4zM196.2 45.2h0.9v0.9h-0.9zM204.1 48.2h1.1v1.1h-1.1zM197.3 38.2h0.9v0.9h-0.9zM200.3 44.8h1.5v1.5h-1.5zM199.8 44.5h1.4v1.4h-1.4zM210.1 50.7h0.8v0.8h-0.8zM208.7 44.3h0.9v0.9h-0.9zM199.0 38.2h1.1v1.1h-1.1zM196.8 42.3h1.5v1.5h-1.5zM195.3 45.1h1.6v1.6h-1.6zM208.2 34.4h1.6v1.6h-1.6zM209.6 33.5h0.9v0.9h-0.9zM208.6 37.9h1.4v1.4h-1.4zM205.2 52.7h0.8v0.8h-0.8zM206.1 52.0h0.9v0.9h-0.9zM213.2 36.2h1.4v1.4h-1.4zM208.9 34.0h0.8v0.8h-0.8zM198.1 53.8h1.6v1.6h-1.6zM209.6 46.9h1.1v1.1h-1.1zM203.1 43.4h1.3v1.3h-1.3zM205.5 45.4h1.2v1.2h-1.2zM197.6 39.4h1.0v1.0h-1.0zM190.8 39.1h0.9v0.9h-0.9zM203.3 38.3h0.7v0.7h-0.7zM203.7 34.1h1.1v1.1h-1.1zM210.3 29.3h1.2v1.2h-1.2zM213.7 31.5h1.1v1.1h-1.1zM213.1 31.7h0.8v0.8h-0.8zM208.7 49.4h1.2v1.2h-1.2zM204.7 50.8h1.2v1.2h-1.2zM208.9 48.2h1.0v1.0h-1.0zM197.7 54.9h1.0v1.0h-1.0zM187.6 48.6h0.9v0.9h-0.9zM186.9 48.3h0.9v0.9h-0.9z" fill="#f8992a" opacity="0.4"/><path d="M170.0 44.9h0.9v0.9h-0.9zM174.7 45.8h0.6v0.6h-0.6zM181.5 57.3h1.3v1.3h-1.3zM179.3 61.9h1.4v1.4h-1.4zM175.9 53.8h1.5v1.5h-1.5zM178.9 55.5h1.7v1.7h-1.7zM172.2 47.2h1.7v1.7h-1.7zM183.9 52.7h1.8v1.8h-1.8zM188.2 53.1h1.4v1.4h-1.4zM187.4 57.0h1.0v1.0h-1.0zM186.8 53.7h1.5v1.5h-1.5zM191.3 58.9h1.5v1.5h-1.5zM185.1 52.8h1.1v1.1h-1.1zM189.4 47.6h1.3v1.3h-1.3zM191.8 53.9h1.3v1.3h-1.3zM195.0 51.3h1.3v1.3h-1.3zM190.3 46.8h1.4v1.4h-1.4zM192.9 48.2h1.4v1.4h-1.4zM196.0 69.2h0.8v0.8h-0.8zM194.4 64.1h0.8v0.8h-0.8zM195.7 65.6h0.8v0.8h-0.8zM197.3 65.4h0.9v0.9h-0.9zM196.7 64.8h1.0v1.0h-1.0zM196.6 69.6h0.9v0.9h-0.9zM197.1 65.6h1.0v1.0h-1.0zM196.9 69.9h0.8v0.8h-0.8zM195.9 67.0h1.1v1.1h-1.1zM195.8 63.3h0.9v0.9h-0.9zM195.5 65.7h0.8v0.8h-0.8zM179.7 72.9h0.8v0.8h-0.8zM182.6 76.6h0.7v0.7h-0.7zM179.9 75.0h0.7v0.7h-0.7zM210.3 39.1h1.2v1.2h-1.2zM211.7 40.6h0.9v0.9h-0.9zM192.4 36.6h0.7v0.7h-0.7zM200.5 40.1h1.1v1.1h-1.1zM196.9 37.0h1.2v1.2h-1.2zM195.7 40.1h1.0v1.0h-1.0zM193.3 36.8h1.0v1.0h-1.0zM196.9 38.9h1.1v1.1h-1.1zM209.2 33.5h0.8v0.8h-0.8zM211.3 29.2h1.3v1.3h-1.3zM208.5 33.2h0.8v0.8h-0.8zM208.9 29.8h0.9v0.9h-0.9zM210.7 29.8h0.8v0.8h-0.8zM210.8 30.6h0.8v0.8h-0.8zM208.8 49.5h1.0v1.0h-1.0zM210.5 47.8h1.0v1.0h-1.0zM204.3 51.3h1.0v1.0h-1.0zM200.9 52.7h1.0v1.0h-1.0zM205.2 52.5h0.9v0.9h-0.9zM200.4 54.0h0.9v0.9h-0.9zM198.2 55.6h0.9v0.9h-0.9zM200.7 53.5h0.8v0.8h-0.8zM198.1 55.0h0.7v0.7h-0.7zM201.5 53.0h0.9v0.9h-0.9zM208.8 49.5h1.0v1.0h-1.0zM190.7 48.2h1.3v1.3h-1.3zM185.3 45.9h1.3v1.3h-1.3zM191.5 46.7h1.4v1.4h-1.4zM212.3 25.5h0.8v0.8h-0.8zM217.3 24.8h1.0v1.0h-1.0z" fill="#f8992a" opacity="0.5"/><path d="M167.9 47.3h0.9v0.9h-0.9zM168.0 46.1h0.6v0.6h-0.6zM173.8 45.3h0.7v0.7h-0.7zM175.6 58.3h1.6v1.6h-1.6zM179.1 52.6h1.1v1.1h-1.1zM172.5 50.3h1.1v1.1h-1.1zM174.6 46.6h1.6v1.6h-1.6zM176.3 52.6h1.5v1.5h-1.5zM180.4 46.6h1.5v1.5h-1.5zM181.7 62.1h1.5v1.5h-1.5zM181.7 63.8h1.3v1.3h-1.3zM188.7 64.0h1.3v1.3h-1.3zM187.5 55.2h1.7v1.7h-1.7zM190.1 55.8h1.5v1.5h-1.5zM183.6 51.6h1.6v1.6h-1.6zM195.4 48.9h1.6v1.6h-1.6zM193.1 48.5h1.1v1.1h-1.1zM195.0 46.4h1.5v1.5h-1.5zM192.7 53.9h1.4v1.4h-1.4zM191.8 44.9h1.1v1.1h-1.1zM196.4 67.9h0.7v0.7h-0.7zM196.1 66.4h0.9v0.9h-0.9zM181.8 75.1h0.8v0.8h-0.8zM179.3 70.2h0.9v0.9h-0.9zM180.6 73.9h1.0v1.0h-1.0zM213.5 60.2h0.9v0.9h-0.9zM219.9 72.6h1.0v1.0h-1.0zM197.1 97.0h1.0v1.0h-1.0zM212.2 89.4h1.0v1.0h-1.0zM185.1 84.2h0.7v0.7h-0.7zM204.5 52.2h0.9v0.9h-0.9zM197.9 47.5h1.1v1.1h-1.1zM211.9 46.6h0.8v0.8h-0.8zM211.0 38.8h0.7v0.7h-0.7zM203.9 42.4h0.8v0.8h-0.8zM199.6 46.8h0.7v0.7h-0.7zM208.1 40.5h1.1v1.1h-1.1zM200.8 43.9h0.8v0.8h-0.8zM193.7 35.5h0.8v0.8h-0.8zM204.6 38.6h1.0v1.0h-1.0zM198.9 38.1h0.9v0.9h-0.9zM213.4 30.2h0.9v0.9h-0.9zM209.4 33.5h1.1v1.1h-1.1zM200.3 52.6h1.0v1.0h-1.0zM208.3 49.8h0.8v0.8h-0.8zM197.0 55.3h0.8v0.8h-0.8zM212.5 46.8h1.0v1.0h-1.0zM202.7 51.8h1.2v1.2h-1.2zM198.9 54.2h1.1v1.1h-1.1zM184.8 46.9h1.1v1.1h-1.1zM188.6 46.1h1.3v1.3h-1.3zM213.8 22.4h0.9v0.9h-0.9zM214.7 20.4h1.1v1.1h-1.1zM217.1 20.7h0.9v0.9h-0.9z" fill="#f8992a" opacity="0.6"/><path d="M174.2 44.2h0.6v0.6h-0.6zM173.8 45.0h0.9v0.9h-0.9zM166.8 46.7h0.7v0.7h-0.7zM180.6 50.4h1.6v1.6h-1.6zM189.3 53.2h1.5v1.5h-1.5zM182.3 57.1h1.3v1.3h-1.3zM184.9 52.2h1.1v1.1h-1.1zM182.4 59.8h1.6v1.6h-1.6zM181.7 53.9h1.6v1.6h-1.6zM191.1 60.6h1.3v1.3h-1.3zM189.0 48.6h1.3v1.3h-1.3zM192.7 51.2h1.5v1.5h-1.5zM190.6 54.2h1.6v1.6h-1.6zM196.9 63.8h0.9v0.9h-0.9zM196.3 66.4h1.0v1.0h-1.0zM195.8 68.0h0.8v0.8h-0.8zM213.1 66.1h0.7v0.7h-0.7zM215.1 59.1h0.8v0.8h-0.8zM213.5 66.2h0.7v0.7h-0.7zM221.7 72.8h0.7v0.7h-0.7zM191.3 96.3h1.0v1.0h-1.0zM212.1 91.4h0.9v0.9h-0.9zM212.5 88.9h1.0v1.0h-1.0zM213.2 90.4h0.9v0.9h-0.9zM189.2 89.8h0.8v0.8h-0.8zM244.1 95.9h0.9v0.9h-0.9zM199.4 43.0h0.7v0.7h-0.7zM203.0 49.8h0.7v0.7h-0.7zM209.9 39.7h1.0v1.0h-1.0zM211.2 40.3h0.9v0.9h-0.9zM195.8 43.9h0.9v0.9h-0.9zM210.6 49.0h0.8v0.8h-0.8zM203.8 44.2h0.8v0.8h-0.8zM207.9 45.9h1.0v1.0h-1.0zM195.5 37.7h1.0v1.0h-1.0zM205.8 35.7h0.9v0.9h-0.9zM201.0 33.7h1.1v1.1h-1.1zM213.6 28.4h1.1v1.1h-1.1zM211.7 33.6h0.9v0.9h-0.9zM207.9 30.0h0.8v0.8h-0.8zM210.7 32.2h1.2v1.2h-1.2zM216.8 35.8h1.0v1.0h-1.0zM208.0 49.1h1.0v1.0h-1.0zM204.1 52.3h0.8v0.8h-0.8zM209.6 47.7h0.9v0.9h-0.9zM197.7 55.6h0.7v0.7h-0.7zM212.7 25.7h1.0v1.0h-1.0z" fill="#f8992a" opacity="0.7"/><path d="M8.8 68.9h0.8v0.8h-0.8zM9.6 68.1h0.8v0.8h-0.8zM166.9 46.9h0.6v0.6h-0.6zM213.1 58.2h1.0v1.0h-1.0zM214.2 58.4h1.0v1.0h-1.0zM219.1 73.6h0.9v0.9h-0.9zM203.2 98.0h0.8v0.8h-0.8zM198.7 96.7h1.0v1.0h-1.0zM187.8 91.3h0.9v0.9h-0.9zM244.9 94.8h0.8v0.8h-0.8zM196.1 50.2h1.1v1.1h-1.1zM212.3 41.6h0.8v0.8h-0.8zM193.9 49.1h1.0v1.0h-1.0zM192.8 36.7h0.8v0.8h-0.8zM192.7 38.4h1.2v1.2h-1.2zM193.9 36.1h0.8v0.8h-0.8zM203.5 37.9h1.0v1.0h-1.0zM199.6 36.5h0.9v0.9h-0.9zM206.2 27.3h1.1v1.1h-1.1zM208.4 26.7h1.2v1.2h-1.2zM206.3 27.5h1.1v1.1h-1.1zM206.3 28.0h1.0v1.0h-1.0zM207.9 26.7h1.1v1.1h-1.1zM212.3 29.1h1.0v1.0h-1.0zM214.5 28.9h1.2v1.2h-1.2zM214.1 28.4h0.8v0.8h-0.8zM211.0 33.9h0.9v0.9h-0.9zM210.9 30.3h1.3v1.3h-1.3zM213.7 31.8h1.0v1.0h-1.0zM216.7 37.1h0.9v0.9h-0.9zM216.6 37.1h1.2v1.2h-1.2zM215.7 38.0h1.1v1.1h-1.1zM207.6 49.0h0.9v0.9h-0.9zM203.0 53.0h0.9v0.9h-0.9zM211.6 48.9h1.1v1.1h-1.1zM207.5 49.3h1.0v1.0h-1.0zM199.0 55.8h0.9v0.9h-0.9zM209.5 49.2h0.7v0.7h-0.7zM199.9 53.5h0.8v0.8h-0.8zM216.6 25.1h0.7v0.7h-0.7zM226.5 30.4h1.2v1.2h-1.2z" fill="#f8992a" opacity="0.8"/><path d="M8.1 68.0h0.9v0.9h-0.9zM7.4 67.4h1.0v1.0h-1.0zM165.0 47.7h0.6v0.6h-0.6zM199.2 97.0h1.1v1.1h-1.1zM248.2 97.4h0.8v0.8h-0.8zM198.9 49.5h1.2v1.2h-1.2zM204.4 35.2h0.9v0.9h-0.9zM199.9 43.1h0.7v0.7h-0.7zM212.3 38.3h0.8v0.8h-0.8zM202.4 34.4h0.7v0.7h-0.7zM204.4 35.0h0.7v0.7h-0.7zM205.0 27.2h0.9v0.9h-0.9zM208.3 27.0h1.3v1.3h-1.3zM207.7 26.5h0.9v0.9h-0.9zM206.7 26.9h0.9v0.9h-0.9zM205.4 27.0h1.3v1.3h-1.3zM205.8 27.0h1.2v1.2h-1.2zM206.5 27.8h1.2v1.2h-1.2zM205.4 27.0h1.1v1.1h-1.1zM207.7 27.6h1.1v1.1h-1.1zM206.9 26.6h1.0v1.0h-1.0zM207.1 27.4h1.0v1.0h-1.0zM207.9 26.9h1.2v1.2h-1.2zM206.7 26.2h1.3v1.3h-1.3zM213.7 28.5h0.9v0.9h-0.9zM213.3 29.5h1.0v1.0h-1.0zM212.2 29.2h0.9v0.9h-0.9zM213.6 29.3h1.1v1.1h-1.1zM214.1 28.3h1.0v1.0h-1.0zM216.5 37.8h1.1v1.1h-1.1zM216.1 37.2h1.2v1.2h-1.2zM215.3 38.2h0.8v0.8h-0.8zM200.7 53.4h1.1v1.1h-1.1zM202.4 52.6h1.0v1.0h-1.0zM202.2 52.5h1.2v1.2h-1.2zM205.4 51.5h0.8v0.8h-0.8zM225.4 32.3h1.0v1.0h-1.0zM226.4 31.0h1.1v1.1h-1.1zM226.7 30.8h1.1v1.1h-1.1z" fill="#f8992a" opacity="0.9"/><path d="M7.0 67.4h1.0v1.0h-1.0zM6.5 66.8h1.1v1.1h-1.1zM9.6 68.2h1.1v1.1h-1.1zM8.3 68.5h1.0v1.0h-1.0zM195.8 97.4h0.8v0.8h-0.8zM198.7 96.9h0.7v0.7h-0.7zM193.7 96.6h0.7v0.7h-0.7zM190.7 96.1h0.8v0.8h-0.8zM212.1 92.0h0.8v0.8h-0.8zM206.5 27.4h0.9v0.9h-0.9zM205.6 27.5h1.2v1.2h-1.2zM206.8 26.9h0.9v0.9h-0.9zM206.9 26.7h1.0v1.0h-1.0zM213.5 28.4h1.3v1.3h-1.3zM215.0 36.4h1.2v1.2h-1.2zM216.2 36.6h0.9v0.9h-0.9zM216.0 36.3h1.3v1.3h-1.3zM224.7 30.1h1.2v1.2h-1.2z" fill="#f8992a" opacity="1.0"/><path d="M30.1 67.7h1.5v1.5h-1.5zM29.1 66.1h1.0v1.0h-1.0zM24.7 66.9h1.3v1.3h-1.3zM26.4 66.6h0.9v0.9h-0.9zM28.4 66.6h1.0v1.0h-1.0zM26.1 65.4h1.2v1.2h-1.2zM32.0 68.0h0.9v0.9h-0.9zM29.5 65.5h1.0v1.0h-1.0zM34.7 68.0h1.1v1.1h-1.1zM33.3 68.2h1.3v1.3h-1.3zM39.0 68.1h1.2v1.2h-1.2zM36.0 68.2h1.2v1.2h-1.2zM35.0 65.9h1.2v1.2h-1.2zM34.9 69.8h1.1v1.1h-1.1zM35.0 66.1h1.2v1.2h-1.2zM38.7 67.5h1.3v1.3h-1.3zM60.2 69.9h0.9v0.9h-0.9zM59.7 72.5h1.1v1.1h-1.1zM58.9 71.2h1.3v1.3h-1.3zM53.5 70.9h1.0v1.0h-1.0zM56.7 69.7h1.5v1.5h-1.5zM55.4 69.4h1.5v1.5h-1.5zM26.1 68.5h1.1v1.1h-1.1zM26.9 68.7h1.1v1.1h-1.1zM27.7 68.5h1.1v1.1h-1.1zM28.5 68.6h1.1v1.1h-1.1zM141.4 40.0h1.1v1.1h-1.1zM141.6 40.4h1.1v1.1h-1.1zM143.0 40.0h1.0v1.0h-1.0zM141.3 39.0h1.3v1.3h-1.3zM142.1 41.3h1.0v1.0h-1.0zM142.2 40.5h0.9v0.9h-0.9zM142.2 39.3h0.9v0.9h-0.9zM139.5 37.7h0.9v0.9h-0.9zM139.9 37.7h0.9v0.9h-0.9zM176.1 41.6h1.2v1.2h-1.2zM174.8 42.3h1.1v1.1h-1.1z" fill="#47a5e6" opacity="0.9"/><path d="M30.3 66.4h1.3v1.3h-1.3zM25.9 68.0h1.0v1.0h-1.0zM38.2 66.6h1.1v1.1h-1.1zM35.8 67.6h1.4v1.4h-1.4zM55.9 69.0h1.3v1.3h-1.3zM56.7 72.1h0.9v0.9h-0.9zM59.3 71.3h1.4v1.4h-1.4zM58.3 69.2h1.3v1.3h-1.3zM142.4 40.9h1.0v1.0h-1.0zM142.5 40.8h1.1v1.1h-1.1zM142.8 40.7h1.2v1.2h-1.2zM141.6 39.1h1.3v1.3h-1.3zM142.4 40.2h1.0v1.0h-1.0zM141.1 39.1h1.2v1.2h-1.2zM142.7 41.5h0.9v0.9h-0.9zM139.6 38.1h0.9v0.9h-0.9zM175.3 42.7h0.9v0.9h-0.9zM175.8 42.6h1.0v1.0h-1.0zM175.7 42.4h1.0v1.0h-1.0zM176.6 41.8h1.2v1.2h-1.2zM175.6 41.9h0.9v0.9h-0.9z" fill="#47a5e6" opacity="1.0"/><path d="M5.4 67.1h1.1v1.1h-1.1z" fill="#d4421b" opacity="0.9"/><path d="M6.5 66.8h1.1v1.1h-1.1zM6.8 66.9h1.1v1.1h-1.1zM6.1 66.5h1.0v1.0h-1.0zM5.6 66.5h1.1v1.1h-1.1zM6.7 66.9h1.1v1.1h-1.1z" fill="#d4421b" opacity="1.0"/></g><use href="#lines"/></g><use href="#legend" transform="translate(-0.6 0)"/></g>
<g transform="translate(8.5 157.2)" clip-path="url(#cpc)"><g transform="scale(0.9928 0.9916)"><use href="#base"/><g clip-path="url(#lc)"><path transform="translate(1.3 0.3)" d="M84.4 68.6L83 70.7" stroke="#efc53f" stroke-width="1.0" fill="none"/><path transform="translate(1.3 0.3)" d="M80.4 72L79.2 73.2" stroke="#efc53f" stroke-width="1.4" fill="none"/><path d="M69.6 74.5L71 76.1L71.4 74.7M71 76.1L71.9 77.3" stroke="#efc53f" stroke-width="1.0" fill="none" stroke-linecap="round"/><path d="M199.5 51.4h1.2v1.2h-1.2zM204.0 51.8h1.2v1.2h-1.2zM205.5 37.9h1.0v1.0h-1.0zM197.8 41.1h1.1v1.1h-1.1zM204.0 41.4h0.9v0.9h-0.9zM200.7 34.4h1.6v1.6h-1.6zM206.2 34.7h1.4v1.4h-1.4zM204.2 34.0h1.0v1.0h-1.0z" fill="#efc53f" opacity="0.1"/><path d="M202.7 53.3h1.5v1.5h-1.5zM207.9 35.0h1.5v1.5h-1.5zM201.3 46.0h1.4v1.4h-1.4zM208.8 48.4h0.9v0.9h-0.9zM190.6 48.9h1.3v1.3h-1.3zM197.0 43.0h1.4v1.4h-1.4zM197.0 42.4h0.9v0.9h-0.9zM210.8 39.7h1.6v1.6h-1.6zM202.8 46.8h1.4v1.4h-1.4zM197.2 43.7h1.3v1.3h-1.3zM212.3 36.4h1.2v1.2h-1.2zM206.6 33.8h1.6v1.6h-1.6zM207.4 46.4h1.3v1.3h-1.3zM214.5 36.9h1.4v1.4h-1.4zM201.8 37.6h1.3v1.3h-1.3zM208.8 38.7h0.9v0.9h-0.9zM214.1 37.1h1.4v1.4h-1.4zM188.1 47.3h1.2v1.2h-1.2zM189.2 44.8h1.1v1.1h-1.1z" fill="#efc53f" opacity="0.2"/><path d="M178.4 43.0h1.8v1.8h-1.8zM179.5 49.5h1.4v1.4h-1.4zM176.2 42.5h1.6v1.6h-1.6zM177.9 49.4h1.2v1.2h-1.2zM177.4 57.8h1.1v1.1h-1.1zM178.1 56.4h1.0v1.0h-1.0zM176.7 51.6h1.4v1.4h-1.4zM177.8 62.3h1.2v1.2h-1.2zM186.8 61.5h1.8v1.8h-1.8zM187.4 55.3h1.5v1.5h-1.5zM191.0 57.3h1.1v1.1h-1.1zM187.9 55.2h1.5v1.5h-1.5zM184.0 64.8h1.5v1.5h-1.5zM186.2 52.8h1.6v1.6h-1.6zM188.5 61.8h1.4v1.4h-1.4zM185.6 66.1h1.3v1.3h-1.3zM179.2 61.3h1.6v1.6h-1.6zM180.3 63.3h1.1v1.1h-1.1zM189.1 54.0h1.6v1.6h-1.6zM187.2 56.1h1.8v1.8h-1.8zM187.7 62.8h1.0v1.0h-1.0zM185.8 58.0h1.2v1.2h-1.2zM187.8 51.5h1.3v1.3h-1.3zM190.4 48.1h1.1v1.1h-1.1zM190.9 53.0h1.2v1.2h-1.2zM192.7 46.6h1.5v1.5h-1.5zM195.9 62.0h1.1v1.1h-1.1zM180.1 69.9h0.9v0.9h-0.9zM180.7 74.8h0.7v0.7h-0.7zM203.1 37.6h0.8v0.8h-0.8zM215.1 36.5h1.1v1.1h-1.1zM215.3 45.2h1.3v1.3h-1.3zM197.3 42.0h1.5v1.5h-1.5zM204.8 43.6h1.0v1.0h-1.0zM203.8 48.1h1.0v1.0h-1.0zM192.7 48.7h1.1v1.1h-1.1zM204.5 35.3h1.4v1.4h-1.4zM207.0 46.4h1.2v1.2h-1.2zM202.0 51.7h1.0v1.0h-1.0zM209.0 41.0h1.1v1.1h-1.1zM186.9 45.7h1.3v1.3h-1.3zM189.9 47.7h1.0v1.0h-1.0z" fill="#efc53f" opacity="0.3"/><path d="M181.0 48.6h1.2v1.2h-1.2zM175.3 50.9h1.7v1.7h-1.7zM182.2 57.8h1.1v1.1h-1.1zM177.2 59.4h1.2v1.2h-1.2zM179.5 52.0h1.4v1.4h-1.4zM180.3 60.8h1.4v1.4h-1.4zM177.5 45.9h1.6v1.6h-1.6zM179.8 60.6h1.6v1.6h-1.6zM177.3 43.0h1.0v1.0h-1.0zM175.3 45.9h1.0v1.0h-1.0zM181.4 57.0h1.0v1.0h-1.0zM176.0 53.8h1.6v1.6h-1.6zM174.2 55.1h1.7v1.7h-1.7zM180.9 59.1h1.5v1.5h-1.5zM178.6 56.5h1.5v1.5h-1.5zM176.9 46.4h1.7v1.7h-1.7zM176.1 54.8h1.5v1.5h-1.5zM181.4 51.2h1.4v1.4h-1.4zM173.4 50.3h1.8v1.8h-1.8zM176.8 48.1h1.0v1.0h-1.0zM175.7 48.9h1.3v1.3h-1.3zM174.2 47.0h1.1v1.1h-1.1zM182.1 57.2h1.1v1.1h-1.1zM174.5 57.4h1.5v1.5h-1.5zM174.1 50.4h1.5v1.5h-1.5zM177.8 54.8h1.1v1.1h-1.1zM173.3 55.0h1.5v1.5h-1.5zM178.8 56.8h1.4v1.4h-1.4zM175.5 54.6h1.2v1.2h-1.2zM175.2 54.3h1.5v1.5h-1.5zM184.9 55.2h1.0v1.0h-1.0zM180.3 61.9h1.5v1.5h-1.5zM188.0 54.3h1.8v1.8h-1.8zM189.3 53.3h1.3v1.3h-1.3zM186.7 58.7h1.1v1.1h-1.1zM182.8 54.2h1.5v1.5h-1.5zM185.7 60.4h1.6v1.6h-1.6zM189.7 59.3h1.5v1.5h-1.5zM185.7 63.8h1.1v1.1h-1.1zM186.8 58.9h1.6v1.6h-1.6zM179.8 63.3h1.6v1.6h-1.6zM182.4 58.5h1.8v1.8h-1.8zM183.2 51.8h1.7v1.7h-1.7zM185.7 58.7h1.6v1.6h-1.6zM181.8 53.4h1.0v1.0h-1.0zM179.6 59.0h1.6v1.6h-1.6zM183.8 59.6h1.0v1.0h-1.0zM183.2 52.4h1.7v1.7h-1.7zM183.7 62.9h1.5v1.5h-1.5zM186.5 61.8h1.6v1.6h-1.6zM183.8 55.1h1.5v1.5h-1.5zM182.3 59.3h1.2v1.2h-1.2zM180.5 63.6h1.4v1.4h-1.4zM185.7 55.3h1.2v1.2h-1.2zM186.5 61.9h1.4v1.4h-1.4zM178.8 58.6h1.6v1.6h-1.6zM187.8 64.9h1.3v1.3h-1.3zM181.6 55.2h1.2v1.2h-1.2zM181.7 55.7h1.5v1.5h-1.5zM179.1 56.8h1.8v1.8h-1.8zM189.5 62.6h1.2v1.2h-1.2zM193.2 50.7h1.1v1.1h-1.1zM196.3 46.6h1.4v1.4h-1.4zM190.6 50.4h1.4v1.4h-1.4zM196.0 46.6h0.9v0.9h-0.9zM194.7 48.5h1.6v1.6h-1.6zM191.0 51.0h1.3v1.3h-1.3zM193.0 45.0h0.9v0.9h-0.9zM189.8 52.5h1.0v1.0h-1.0zM191.7 53.9h1.0v1.0h-1.0zM191.7 49.9h1.1v1.1h-1.1zM195.3 48.8h1.0v1.0h-1.0zM192.4 52.9h1.1v1.1h-1.1zM195.1 64.0h0.8v0.8h-0.8zM196.1 65.2h0.8v0.8h-0.8zM197.0 41.6h1.1v1.1h-1.1zM199.4 36.7h1.3v1.3h-1.3zM198.5 46.8h0.9v0.9h-0.9zM197.8 37.8h1.2v1.2h-1.2zM192.2 50.9h1.1v1.1h-1.1zM211.3 34.3h1.6v1.6h-1.6zM215.2 42.1h1.0v1.0h-1.0zM195.7 36.6h1.4v1.4h-1.4zM211.1 45.7h0.8v0.8h-0.8zM186.3 48.2h0.9v0.9h-0.9z" fill="#efc53f" opacity="0.4"/><path d="M134.9 42.4h0.9v0.9h-0.9zM135.1 40.0h1.2v1.2h-1.2zM135.7 38.4h0.8v0.8h-0.8zM134.2 39.9h0.9v0.9h-0.9zM133.9 43.1h1.2v1.2h-1.2zM136.2 44.1h0.8v0.8h-0.8zM135.2 37.8h1.3v1.3h-1.3zM132.1 40.2h0.8v0.8h-0.8zM134.6 44.2h0.9v0.9h-0.9zM135.2 43.1h1.3v1.3h-1.3zM132.8 43.5h1.1v1.1h-1.1zM136.2 42.8h0.9v0.9h-0.9zM134.5 39.4h0.8v0.8h-0.8zM134.7 41.3h1.0v1.0h-1.0zM134.7 42.0h1.1v1.1h-1.1zM171.4 45.4h0.7v0.7h-0.7zM164.1 47.0h0.8v0.8h-0.8zM172.0 44.3h0.9v0.9h-0.9zM164.1 48.0h0.7v0.7h-0.7zM174.7 55.8h1.5v1.5h-1.5zM180.1 49.8h1.6v1.6h-1.6zM177.1 58.3h1.6v1.6h-1.6zM181.3 56.1h1.7v1.7h-1.7zM174.5 47.0h1.7v1.7h-1.7zM181.2 51.4h1.3v1.3h-1.3zM179.8 60.6h1.2v1.2h-1.2zM177.5 46.6h1.2v1.2h-1.2zM177.4 61.8h1.5v1.5h-1.5zM181.4 56.7h1.5v1.5h-1.5zM175.6 50.5h1.6v1.6h-1.6zM177.4 52.5h1.5v1.5h-1.5zM178.5 51.5h1.3v1.3h-1.3zM179.7 59.1h1.6v1.6h-1.6zM173.2 52.6h1.5v1.5h-1.5zM180.1 56.9h1.5v1.5h-1.5zM173.7 52.4h1.8v1.8h-1.8zM181.6 51.9h1.1v1.1h-1.1zM178.0 62.6h1.4v1.4h-1.4zM176.0 47.7h1.7v1.7h-1.7zM181.1 56.7h1.6v1.6h-1.6zM174.2 57.1h1.8v1.8h-1.8zM177.5 56.3h1.6v1.6h-1.6zM177.3 50.6h1.2v1.2h-1.2zM176.0 44.2h1.5v1.5h-1.5zM172.7 51.0h1.4v1.4h-1.4zM176.0 53.0h1.8v1.8h-1.8zM177.5 57.8h1.4v1.4h-1.4zM176.7 57.5h1.0v1.0h-1.0zM175.1 44.9h1.8v1.8h-1.8zM173.5 53.6h1.7v1.7h-1.7zM175.2 57.9h1.8v1.8h-1.8zM187.8 56.0h1.6v1.6h-1.6zM188.9 65.8h1.3v1.3h-1.3zM183.4 58.6h1.5v1.5h-1.5zM182.6 66.3h1.3v1.3h-1.3zM189.0 55.3h1.2v1.2h-1.2zM191.9 60.9h1.0v1.0h-1.0zM188.4 58.0h1.2v1.2h-1.2zM181.6 63.3h1.7v1.7h-1.7zM184.0 52.9h1.5v1.5h-1.5zM185.1 66.3h1.4v1.4h-1.4zM188.6 65.8h1.0v1.0h-1.0zM183.1 60.2h1.7v1.7h-1.7zM185.8 63.7h1.2v1.2h-1.2zM186.8 60.9h1.1v1.1h-1.1zM184.8 63.1h1.2v1.2h-1.2zM180.5 58.5h1.4v1.4h-1.4zM191.3 60.7h1.7v1.7h-1.7zM185.8 56.8h1.3v1.3h-1.3zM184.2 63.4h1.0v1.0h-1.0zM182.7 54.9h1.8v1.8h-1.8zM185.3 59.1h1.6v1.6h-1.6zM190.3 61.9h1.6v1.6h-1.6zM181.9 57.4h1.3v1.3h-1.3zM183.8 52.1h1.4v1.4h-1.4zM187.0 52.8h1.7v1.7h-1.7zM188.9 59.6h1.6v1.6h-1.6zM187.0 55.5h1.3v1.3h-1.3zM185.7 59.2h1.5v1.5h-1.5zM190.3 55.7h1.2v1.2h-1.2zM183.9 55.0h1.5v1.5h-1.5zM179.2 59.9h1.2v1.2h-1.2zM182.2 65.4h1.7v1.7h-1.7zM180.1 61.9h1.1v1.1h-1.1zM185.6 52.7h1.7v1.7h-1.7zM188.7 61.8h1.2v1.2h-1.2zM188.7 65.1h1.7v1.7h-1.7zM184.0 62.5h1.3v1.3h-1.3zM180.1 64.0h1.7v1.7h-1.7zM183.9 56.0h1.5v1.5h-1.5zM184.0 65.0h1.1v1.1h-1.1zM188.6 65.0h1.6v1.6h-1.6zM188.8 54.0h1.5v1.5h-1.5zM194.3 53.1h1.1v1.1h-1.1zM192.4 49.0h1.5v1.5h-1.5zM192.9 48.0h1.5v1.5h-1.5zM191.4 48.2h0.9v0.9h-0.9zM193.2 46.1h1.0v1.0h-1.0zM196.8 48.3h1.2v1.2h-1.2zM189.7 46.0h1.5v1.5h-1.5zM192.9 53.6h1.5v1.5h-1.5zM191.9 54.3h1.4v1.4h-1.4zM188.8 50.8h1.2v1.2h-1.2zM189.1 50.9h1.1v1.1h-1.1zM195.9 68.9h1.1v1.1h-1.1zM195.0 64.5h0.9v0.9h-0.9zM195.3 62.8h1.0v1.0h-1.0zM180.7 76.7h0.7v0.7h-0.7zM181.8 74.7h1.0v1.0h-1.0zM220.9 73.9h1.1v1.1h-1.1zM187.3 44.9h0.8v0.8h-0.8zM187.8 48.4h0.9v0.9h-0.9z" fill="#efc53f" opacity="0.5"/><path d="M149.2 38.5h1.3v1.3h-1.3zM151.2 43.3h0.8v0.8h-0.8zM157.0 45.5h1.0v1.0h-1.0zM160.5 43.5h1.2v1.2h-1.2zM160.7 46.5h0.9v0.9h-0.9zM134.4 43.1h0.9v0.9h-0.9zM135.8 38.5h1.2v1.2h-1.2zM134.6 43.8h1.4v1.4h-1.4zM136.8 43.8h0.9v0.9h-0.9zM135.1 38.4h1.1v1.1h-1.1zM135.3 38.1h1.4v1.4h-1.4zM134.5 44.3h1.1v1.1h-1.1zM134.7 43.6h0.8v0.8h-0.8zM133.8 38.5h1.1v1.1h-1.1zM133.3 43.1h1.1v1.1h-1.1zM133.5 42.4h0.8v0.8h-0.8zM133.4 41.9h1.3v1.3h-1.3zM134.7 38.9h1.4v1.4h-1.4zM132.1 42.2h1.3v1.3h-1.3zM138.0 41.4h1.1v1.1h-1.1zM133.3 39.4h1.1v1.1h-1.1zM135.2 41.7h1.1v1.1h-1.1zM135.4 39.4h1.2v1.2h-1.2zM135.6 42.8h1.1v1.1h-1.1zM165.6 46.2h0.8v0.8h-0.8zM173.8 44.5h0.7v0.7h-0.7zM164.1 46.6h0.7v0.7h-0.7zM174.1 44.4h0.8v0.8h-0.8zM174.0 44.4h0.9v0.9h-0.9zM178.6 50.9h1.2v1.2h-1.2zM177.3 45.3h1.7v1.7h-1.7zM179.2 54.3h1.2v1.2h-1.2zM177.4 50.5h1.7v1.7h-1.7zM178.2 49.0h1.1v1.1h-1.1zM173.1 44.0h1.6v1.6h-1.6zM178.3 56.7h1.4v1.4h-1.4zM181.5 53.6h1.4v1.4h-1.4zM179.1 51.3h1.7v1.7h-1.7zM175.9 55.0h1.1v1.1h-1.1zM180.8 53.5h1.3v1.3h-1.3zM174.5 56.1h1.0v1.0h-1.0zM176.6 43.0h1.2v1.2h-1.2zM181.5 58.9h1.8v1.8h-1.8zM180.9 60.9h1.1v1.1h-1.1zM173.8 42.4h1.8v1.8h-1.8zM177.1 44.9h1.6v1.6h-1.6zM178.1 60.2h1.0v1.0h-1.0zM173.8 57.9h1.2v1.2h-1.2zM175.3 57.7h1.0v1.0h-1.0zM174.9 54.6h1.0v1.0h-1.0zM177.3 42.2h1.6v1.6h-1.6zM173.4 49.9h1.7v1.7h-1.7zM173.5 45.6h1.4v1.4h-1.4zM182.8 63.9h1.4v1.4h-1.4zM188.0 60.3h1.5v1.5h-1.5zM190.2 59.4h1.6v1.6h-1.6zM189.7 61.3h1.7v1.7h-1.7zM188.2 60.8h1.3v1.3h-1.3zM184.2 60.5h1.4v1.4h-1.4zM180.5 53.9h1.8v1.8h-1.8zM181.9 56.1h1.4v1.4h-1.4zM184.3 59.2h1.8v1.8h-1.8zM189.8 62.3h1.1v1.1h-1.1zM184.4 59.7h1.6v1.6h-1.6zM180.1 60.1h1.4v1.4h-1.4zM188.2 58.6h1.6v1.6h-1.6zM184.1 55.8h1.7v1.7h-1.7zM188.6 65.1h1.3v1.3h-1.3zM185.8 57.5h1.7v1.7h-1.7zM184.2 55.5h1.4v1.4h-1.4zM191.3 60.6h1.6v1.6h-1.6zM190.6 57.8h1.1v1.1h-1.1zM182.7 62.8h1.7v1.7h-1.7zM182.7 60.5h1.6v1.6h-1.6zM189.9 56.6h1.0v1.0h-1.0zM188.7 54.2h1.5v1.5h-1.5zM188.0 60.6h1.7v1.7h-1.7zM185.6 58.2h1.4v1.4h-1.4zM186.8 53.9h1.2v1.2h-1.2zM181.1 62.4h1.2v1.2h-1.2zM188.9 59.4h1.2v1.2h-1.2zM180.1 58.7h1.0v1.0h-1.0zM186.6 60.2h1.8v1.8h-1.8zM191.3 59.4h1.2v1.2h-1.2zM182.2 57.8h1.0v1.0h-1.0zM190.5 57.4h1.3v1.3h-1.3zM183.3 57.1h1.1v1.1h-1.1zM182.4 59.2h1.1v1.1h-1.1zM195.2 50.5h1.1v1.1h-1.1zM191.2 52.8h1.1v1.1h-1.1zM195.7 49.5h1.0v1.0h-1.0zM193.4 49.5h1.2v1.2h-1.2zM191.0 50.7h0.9v0.9h-0.9zM194.8 46.3h1.4v1.4h-1.4zM189.2 48.7h1.5v1.5h-1.5zM196.4 46.2h1.2v1.2h-1.2zM189.8 53.8h1.4v1.4h-1.4zM191.1 54.5h1.3v1.3h-1.3zM193.8 48.1h1.1v1.1h-1.1zM191.4 48.8h1.4v1.4h-1.4zM194.4 63.3h1.1v1.1h-1.1zM196.4 62.4h1.0v1.0h-1.0zM196.3 67.3h1.1v1.1h-1.1zM197.1 67.7h0.8v0.8h-0.8zM180.0 72.5h1.0v1.0h-1.0zM214.0 63.2h1.1v1.1h-1.1zM222.3 75.0h0.7v0.7h-0.7zM221.1 72.9h0.8v0.8h-0.8zM195.6 96.5h0.8v0.8h-0.8zM202.6 97.8h0.7v0.7h-0.7zM187.6 85.1h1.1v1.1h-1.1zM184.2 46.8h1.1v1.1h-1.1zM189.2 49.1h1.0v1.0h-1.0zM186.0 48.0h1.3v1.3h-1.3zM186.3 48.3h0.9v0.9h-0.9z" fill="#efc53f" opacity="0.6"/><path d="M10.0 71.8h0.9v0.9h-0.9zM17.5 70.4h1.3v1.3h-1.3zM11.8 72.2h1.2v1.2h-1.2zM32.4 73.0h1.0v1.0h-1.0zM32.5 73.4h1.3v1.3h-1.3zM30.9 72.6h1.3v1.3h-1.3zM25.7 73.1h1.4v1.4h-1.4zM38.8 74.1h1.0v1.0h-1.0zM47.4 75.3h1.2v1.2h-1.2zM148.0 37.7h0.9v0.9h-0.9zM143.8 39.4h0.9v0.9h-0.9zM145.6 38.6h1.2v1.2h-1.2zM146.3 38.1h1.0v1.0h-1.0zM141.9 38.0h1.2v1.2h-1.2zM147.8 41.9h0.8v0.8h-0.8zM147.7 39.5h0.9v0.9h-0.9zM151.3 42.5h1.0v1.0h-1.0zM153.0 43.8h1.3v1.3h-1.3zM157.3 44.3h1.0v1.0h-1.0zM153.8 46.9h1.0v1.0h-1.0zM155.9 47.9h1.3v1.3h-1.3zM161.4 49.9h1.1v1.1h-1.1zM163.9 49.5h0.8v0.8h-0.8zM164.5 45.4h1.0v1.0h-1.0zM159.8 48.6h1.1v1.1h-1.1zM137.6 42.0h1.2v1.2h-1.2zM133.6 43.3h1.4v1.4h-1.4zM136.5 43.8h1.0v1.0h-1.0zM132.2 39.3h1.2v1.2h-1.2zM136.2 40.5h1.3v1.3h-1.3zM132.8 40.0h1.2v1.2h-1.2zM133.2 39.8h1.3v1.3h-1.3zM133.7 38.5h1.3v1.3h-1.3zM137.1 42.2h1.2v1.2h-1.2zM138.0 40.6h1.1v1.1h-1.1zM133.9 40.2h1.4v1.4h-1.4zM133.1 39.7h0.8v0.8h-0.8zM135.7 39.9h0.9v0.9h-0.9zM133.4 43.6h1.2v1.2h-1.2zM134.0 43.3h0.9v0.9h-0.9zM133.9 42.2h0.8v0.8h-0.8zM170.7 45.5h0.8v0.8h-0.8zM168.1 45.9h0.7v0.7h-0.7zM175.3 43.8h0.6v0.6h-0.6zM164.5 47.5h0.9v0.9h-0.9zM165.9 45.5h0.9v0.9h-0.9zM171.1 46.1h0.7v0.7h-0.7zM180.0 46.2h1.4v1.4h-1.4zM177.7 47.4h1.3v1.3h-1.3zM179.1 59.2h1.1v1.1h-1.1zM176.8 41.8h1.2v1.2h-1.2zM177.5 56.2h1.7v1.7h-1.7zM174.4 47.8h1.2v1.2h-1.2zM176.1 52.5h1.5v1.5h-1.5zM176.1 53.2h1.6v1.6h-1.6zM179.4 49.7h1.4v1.4h-1.4zM178.4 57.4h1.3v1.3h-1.3zM179.1 53.6h1.7v1.7h-1.7zM174.5 57.1h1.3v1.3h-1.3zM181.1 49.0h1.6v1.6h-1.6zM181.5 53.0h1.0v1.0h-1.0zM173.3 43.2h1.8v1.8h-1.8zM179.5 59.0h1.5v1.5h-1.5zM175.8 51.3h1.1v1.1h-1.1zM178.6 51.0h1.0v1.0h-1.0zM176.7 62.0h1.6v1.6h-1.6zM183.7 51.7h1.3v1.3h-1.3zM186.6 64.5h1.7v1.7h-1.7zM188.2 64.8h1.6v1.6h-1.6zM188.8 56.3h1.6v1.6h-1.6zM190.7 55.6h1.7v1.7h-1.7zM183.7 56.4h1.4v1.4h-1.4zM188.2 62.4h1.6v1.6h-1.6zM185.7 66.2h1.4v1.4h-1.4zM181.8 61.3h1.4v1.4h-1.4zM185.4 59.4h1.2v1.2h-1.2zM186.2 66.9h1.8v1.8h-1.8zM185.1 51.8h1.8v1.8h-1.8zM181.9 61.6h1.5v1.5h-1.5zM192.8 54.4h1.1v1.1h-1.1zM195.5 47.3h1.0v1.0h-1.0zM193.8 50.1h1.5v1.5h-1.5zM189.4 54.2h1.5v1.5h-1.5zM190.3 46.5h1.0v1.0h-1.0zM192.0 49.7h1.2v1.2h-1.2zM193.3 44.2h1.1v1.1h-1.1zM196.3 69.5h0.8v0.8h-0.8zM196.0 65.3h1.0v1.0h-1.0zM178.8 69.7h0.9v0.9h-0.9zM213.4 64.9h1.1v1.1h-1.1zM211.9 62.0h0.8v0.8h-0.8zM221.9 74.1h0.8v0.8h-0.8zM197.6 97.4h1.0v1.0h-1.0zM190.7 96.1h1.1v1.1h-1.1zM194.4 96.6h1.0v1.0h-1.0zM195.6 96.8h1.1v1.1h-1.1zM212.9 91.2h1.1v1.1h-1.1zM244.8 95.8h0.9v0.9h-0.9zM245.2 95.1h0.8v0.8h-0.8z" fill="#efc53f" opacity="0.7"/><path d="M16.3 64.7h1.5v1.5h-1.5zM10.0 66.8h1.0v1.0h-1.0zM9.1 69.0h1.2v1.2h-1.2zM10.2 65.2h1.4v1.4h-1.4zM17.5 67.2h0.9v0.9h-0.9zM7.5 65.7h0.9v0.9h-0.9zM13.5 66.8h0.9v0.9h-0.9zM11.7 66.5h1.3v1.3h-1.3zM15.4 66.1h1.2v1.2h-1.2zM14.5 65.1h1.5v1.5h-1.5zM8.9 66.2h1.4v1.4h-1.4zM6.8 67.1h0.9v0.9h-0.9zM9.1 67.9h1.0v1.0h-1.0zM11.2 66.1h1.1v1.1h-1.1zM5.8 67.8h1.5v1.5h-1.5zM15.4 69.6h1.4v1.4h-1.4zM8.5 67.0h1.3v1.3h-1.3zM19.9 65.5h1.3v1.3h-1.3zM20.5 67.1h1.3v1.3h-1.3zM8.2 64.5h0.9v0.9h-0.9zM12.8 66.2h1.0v1.0h-1.0zM9.6 63.8h0.9v0.9h-0.9zM18.6 65.3h1.3v1.3h-1.3zM11.0 64.3h1.4v1.4h-1.4zM8.3 66.8h1.0v1.0h-1.0zM13.8 67.8h1.4v1.4h-1.4zM8.1 64.6h1.2v1.2h-1.2zM17.4 68.4h1.3v1.3h-1.3zM16.3 68.4h1.2v1.2h-1.2zM13.4 65.8h1.1v1.1h-1.1zM12.5 63.6h1.1v1.1h-1.1zM19.8 66.9h0.8v0.8h-0.8zM20.0 67.3h1.2v1.2h-1.2zM8.3 62.3h1.3v1.3h-1.3zM28.4 66.7h0.9v0.9h-0.9zM24.9 66.6h0.8v0.8h-0.8zM35.8 68.6h1.0v1.0h-1.0zM33.4 67.6h0.9v0.9h-0.9zM27.2 66.6h1.1v1.1h-1.1zM34.6 66.3h1.1v1.1h-1.1zM33.5 68.5h1.5v1.5h-1.5zM37.7 69.0h0.9v0.9h-0.9zM23.5 69.0h0.9v0.9h-0.9zM26.4 68.5h1.1v1.1h-1.1zM23.4 67.7h1.4v1.4h-1.4zM37.3 68.5h1.4v1.4h-1.4zM22.8 68.9h1.3v1.3h-1.3zM38.0 65.3h1.1v1.1h-1.1zM26.5 64.9h0.8v0.8h-0.8zM31.0 66.7h1.4v1.4h-1.4zM30.8 66.8h1.4v1.4h-1.4zM31.6 67.2h1.4v1.4h-1.4zM37.5 68.1h1.2v1.2h-1.2zM33.9 65.2h1.1v1.1h-1.1zM34.3 65.2h0.8v0.8h-0.8zM31.6 64.5h1.4v1.4h-1.4zM24.1 68.5h1.0v1.0h-1.0zM26.7 66.0h0.9v0.9h-0.9zM27.5 66.3h1.1v1.1h-1.1zM29.7 68.8h1.5v1.5h-1.5zM35.7 65.9h1.2v1.2h-1.2zM26.1 67.3h1.0v1.0h-1.0zM35.9 65.2h1.1v1.1h-1.1zM25.3 65.9h1.5v1.5h-1.5zM26.1 67.9h1.0v1.0h-1.0zM32.9 67.1h0.9v0.9h-0.9zM43.3 67.9h1.2v1.2h-1.2zM62.8 70.4h1.0v1.0h-1.0zM60.5 68.4h1.4v1.4h-1.4zM44.4 68.5h1.4v1.4h-1.4zM51.3 68.7h1.5v1.5h-1.5zM40.0 69.9h1.0v1.0h-1.0zM51.6 67.6h1.1v1.1h-1.1zM51.9 68.1h1.4v1.4h-1.4zM57.2 67.0h1.2v1.2h-1.2zM43.6 66.9h1.3v1.3h-1.3zM55.2 66.9h1.1v1.1h-1.1zM59.2 69.1h1.2v1.2h-1.2zM58.4 66.6h1.1v1.1h-1.1zM47.5 70.0h1.0v1.0h-1.0zM54.7 68.9h1.3v1.3h-1.3zM44.2 67.4h0.9v0.9h-0.9zM50.7 66.6h1.0v1.0h-1.0zM45.3 69.2h1.1v1.1h-1.1zM46.6 67.8h0.9v0.9h-0.9zM57.5 70.4h1.3v1.3h-1.3zM48.1 68.0h1.1v1.1h-1.1zM51.8 68.1h1.1v1.1h-1.1zM60.8 70.4h0.8v0.8h-0.8zM61.8 68.0h1.3v1.3h-1.3zM41.7 66.9h1.2v1.2h-1.2zM41.5 66.8h1.5v1.5h-1.5zM40.0 66.6h1.5v1.5h-1.5zM48.7 69.1h0.8v0.8h-0.8zM51.2 68.9h1.5v1.5h-1.5zM55.6 70.7h0.9v0.9h-0.9zM62.0 69.6h0.9v0.9h-0.9zM51.1 69.7h1.4v1.4h-1.4zM62.0 70.9h0.9v0.9h-0.9zM54.3 68.9h0.9v0.9h-0.9zM45.8 69.4h1.1v1.1h-1.1zM50.6 67.9h1.1v1.1h-1.1zM57.4 71.3h1.4v1.4h-1.4zM53.5 66.9h1.3v1.3h-1.3zM42.6 68.0h0.9v0.9h-0.9zM64.1 65.9h1.0v1.0h-1.0zM58.2 69.9h0.9v0.9h-0.9zM60.6 71.5h1.2v1.2h-1.2zM55.6 70.9h1.0v1.0h-1.0zM51.4 64.2h1.2v1.2h-1.2zM63.1 70.1h1.5v1.5h-1.5zM55.3 70.0h1.2v1.2h-1.2zM59.3 70.3h0.9v0.9h-0.9zM60.7 68.1h1.2v1.2h-1.2zM39.7 67.3h1.0v1.0h-1.0zM58.8 69.3h0.9v0.9h-0.9zM54.9 68.1h1.1v1.1h-1.1zM47.8 66.7h0.9v0.9h-0.9zM48.5 67.1h1.0v1.0h-1.0zM47.6 65.1h1.4v1.4h-1.4zM54.9 68.9h1.0v1.0h-1.0zM57.4 67.1h1.0v1.0h-1.0zM51.5 71.7h0.9v0.9h-0.9zM44.9 67.2h0.9v0.9h-0.9zM44.3 65.7h1.3v1.3h-1.3zM9.3 70.1h1.1v1.1h-1.1zM11.7 69.1h1.2v1.2h-1.2zM8.2 70.8h1.0v1.0h-1.0zM9.7 71.7h1.0v1.0h-1.0zM8.5 70.8h1.1v1.1h-1.1zM24.3 72.4h1.4v1.4h-1.4zM24.5 72.5h1.1v1.1h-1.1zM25.9 73.5h1.3v1.3h-1.3zM31.0 73.5h1.1v1.1h-1.1zM24.4 75.0h0.8v0.8h-0.8zM30.9 73.6h1.2v1.2h-1.2zM38.7 74.7h1.0v1.0h-1.0zM42.4 72.8h1.2v1.2h-1.2zM45.9 76.8h1.0v1.0h-1.0zM33.3 75.1h1.3v1.3h-1.3zM36.9 75.9h1.3v1.3h-1.3zM41.8 74.7h1.1v1.1h-1.1zM44.8 74.9h1.0v1.0h-1.0zM36.9 75.2h1.0v1.0h-1.0zM42.3 74.6h0.9v0.9h-0.9zM39.7 77.3h0.9v0.9h-0.9zM36.7 73.6h0.9v0.9h-0.9zM42.0 73.5h1.0v1.0h-1.0zM55.9 76.0h0.9v0.9h-0.9zM50.2 73.4h0.9v0.9h-0.9zM53.4 74.1h1.5v1.5h-1.5zM56.2 74.1h1.4v1.4h-1.4zM56.2 77.3h1.4v1.4h-1.4zM55.4 75.9h1.2v1.2h-1.2zM52.9 71.5h1.1v1.1h-1.1zM53.2 74.4h1.2v1.2h-1.2zM57.0 72.4h1.1v1.1h-1.1zM52.4 72.5h1.0v1.0h-1.0zM56.6 76.5h1.2v1.2h-1.2zM53.6 72.8h1.0v1.0h-1.0zM60.1 76.0h0.8v0.8h-0.8zM55.4 71.6h1.5v1.5h-1.5zM58.7 76.0h1.0v1.0h-1.0zM50.0 73.3h0.9v0.9h-0.9zM59.2 76.7h0.9v0.9h-0.9zM52.7 72.6h1.1v1.1h-1.1zM54.1 72.3h1.0v1.0h-1.0zM50.3 76.0h0.8v0.8h-0.8zM51.4 71.9h0.9v0.9h-0.9zM50.6 73.1h1.0v1.0h-1.0zM58.3 75.2h1.1v1.1h-1.1zM53.5 72.0h1.0v1.0h-1.0zM56.1 76.4h1.0v1.0h-1.0zM59.9 74.2h1.3v1.3h-1.3zM52.5 74.6h1.0v1.0h-1.0zM58.1 74.2h1.1v1.1h-1.1zM51.8 75.4h1.5v1.5h-1.5zM57.3 70.2h1.5v1.5h-1.5zM59.9 72.3h1.1v1.1h-1.1zM57.6 72.7h1.0v1.0h-1.0zM58.1 70.5h1.1v1.1h-1.1zM61.2 73.3h1.3v1.3h-1.3zM56.9 71.9h1.5v1.5h-1.5zM56.7 71.6h0.8v0.8h-0.8zM61.9 71.5h1.4v1.4h-1.4zM58.8 71.5h1.1v1.1h-1.1zM56.5 71.3h1.4v1.4h-1.4zM59.9 72.6h1.3v1.3h-1.3zM57.2 71.5h1.2v1.2h-1.2zM61.9 70.6h1.4v1.4h-1.4zM63.3 70.9h1.1v1.1h-1.1zM57.5 72.4h1.0v1.0h-1.0zM58.0 70.1h1.5v1.5h-1.5zM61.4 71.8h1.1v1.1h-1.1zM64.2 70.9h1.0v1.0h-1.0zM60.7 71.7h0.8v0.8h-0.8zM60.5 70.7h1.2v1.2h-1.2zM62.0 70.8h1.2v1.2h-1.2zM146.0 38.1h1.0v1.0h-1.0zM144.5 42.1h1.1v1.1h-1.1zM147.5 41.4h1.0v1.0h-1.0zM150.8 40.4h1.3v1.3h-1.3zM149.0 41.0h1.1v1.1h-1.1zM156.1 43.4h1.1v1.1h-1.1zM156.9 45.8h1.1v1.1h-1.1zM152.2 46.7h0.9v0.9h-0.9zM162.6 51.6h0.8v0.8h-0.8zM157.4 44.8h1.3v1.3h-1.3zM159.5 45.0h1.2v1.2h-1.2zM159.0 44.5h1.2v1.2h-1.2zM134.2 38.0h0.9v0.9h-0.9zM136.5 42.1h1.0v1.0h-1.0zM136.3 43.6h1.2v1.2h-1.2zM134.4 41.0h1.3v1.3h-1.3zM134.3 39.1h1.2v1.2h-1.2zM135.1 41.7h1.2v1.2h-1.2zM135.2 39.7h0.9v0.9h-0.9zM133.1 43.2h1.3v1.3h-1.3zM134.9 40.2h1.2v1.2h-1.2zM134.5 40.0h1.1v1.1h-1.1zM136.2 41.1h0.9v0.9h-0.9zM134.1 40.6h1.0v1.0h-1.0zM134.4 41.5h1.0v1.0h-1.0zM132.6 43.9h1.2v1.2h-1.2zM174.8 45.2h0.9v0.9h-0.9zM166.6 46.6h0.8v0.8h-0.8zM213.0 65.9h1.0v1.0h-1.0zM213.8 64.4h0.8v0.8h-0.8zM213.5 66.3h0.9v0.9h-0.9zM222.2 73.2h1.0v1.0h-1.0zM195.7 97.0h1.1v1.1h-1.1zM212.6 90.9h0.7v0.7h-0.7zM212.6 92.7h0.8v0.8h-0.8zM186.4 87.9h0.9v0.9h-0.9zM244.9 96.2h0.7v0.7h-0.7zM246.5 96.0h0.9v0.9h-0.9z" fill="#efc53f" opacity="0.8"/><path d="M14.5 64.4h1.4v1.4h-1.4zM20.0 64.6h1.2v1.2h-1.2zM10.4 65.8h0.8v0.8h-0.8zM15.9 66.9h1.1v1.1h-1.1zM14.1 66.6h1.1v1.1h-1.1zM14.3 65.2h0.9v0.9h-0.9zM15.1 66.2h1.0v1.0h-1.0zM19.7 65.2h0.8v0.8h-0.8zM15.4 65.0h1.3v1.3h-1.3zM17.4 65.0h1.4v1.4h-1.4zM5.5 64.5h1.4v1.4h-1.4zM18.3 66.7h1.4v1.4h-1.4zM5.8 63.0h1.0v1.0h-1.0zM7.6 65.3h0.9v0.9h-0.9zM11.9 67.9h1.2v1.2h-1.2zM11.6 67.4h1.0v1.0h-1.0zM6.1 66.0h1.1v1.1h-1.1zM19.4 69.3h0.9v0.9h-0.9zM11.8 65.4h0.9v0.9h-0.9zM11.3 67.5h1.5v1.5h-1.5zM13.5 65.0h1.0v1.0h-1.0zM18.2 65.5h1.4v1.4h-1.4zM6.1 64.1h1.0v1.0h-1.0zM19.8 68.9h1.0v1.0h-1.0zM19.9 67.1h1.0v1.0h-1.0zM9.4 65.9h1.3v1.3h-1.3zM12.5 65.8h0.9v0.9h-0.9zM10.4 65.3h0.8v0.8h-0.8zM20.4 65.9h1.0v1.0h-1.0zM20.9 66.9h1.0v1.0h-1.0zM20.3 67.6h1.3v1.3h-1.3zM20.0 68.6h1.1v1.1h-1.1zM15.4 65.0h1.5v1.5h-1.5zM15.5 64.8h1.1v1.1h-1.1zM7.5 66.5h1.4v1.4h-1.4zM9.3 66.0h1.3v1.3h-1.3zM13.8 67.3h0.9v0.9h-0.9zM9.4 66.0h1.1v1.1h-1.1zM18.1 66.1h0.9v0.9h-0.9zM30.2 67.5h1.4v1.4h-1.4zM35.4 66.7h1.4v1.4h-1.4zM24.3 66.4h1.4v1.4h-1.4zM36.8 64.5h1.5v1.5h-1.5zM21.4 67.1h1.4v1.4h-1.4zM37.2 67.9h1.1v1.1h-1.1zM37.2 66.5h1.5v1.5h-1.5zM35.5 67.6h0.9v0.9h-0.9zM39.5 66.8h0.8v0.8h-0.8zM35.5 65.3h1.4v1.4h-1.4zM29.6 70.7h0.9v0.9h-0.9zM38.1 67.8h1.3v1.3h-1.3zM29.4 67.7h1.1v1.1h-1.1zM30.4 65.5h1.2v1.2h-1.2zM34.3 66.2h0.8v0.8h-0.8zM27.0 67.8h1.5v1.5h-1.5zM23.9 65.0h1.1v1.1h-1.1zM21.9 66.8h1.3v1.3h-1.3zM35.4 68.8h1.3v1.3h-1.3zM37.8 68.9h1.0v1.0h-1.0zM25.7 66.0h1.4v1.4h-1.4zM26.4 66.4h1.2v1.2h-1.2zM28.0 66.9h1.3v1.3h-1.3zM27.2 66.6h0.8v0.8h-0.8zM25.7 66.8h1.1v1.1h-1.1zM38.7 67.1h1.4v1.4h-1.4zM29.3 69.0h0.8v0.8h-0.8zM34.3 69.6h1.5v1.5h-1.5zM38.8 67.1h1.0v1.0h-1.0zM24.0 66.6h1.4v1.4h-1.4zM23.4 67.0h1.1v1.1h-1.1zM35.9 69.6h1.1v1.1h-1.1zM38.7 67.3h0.9v0.9h-0.9zM31.1 68.4h1.3v1.3h-1.3zM32.9 70.0h1.3v1.3h-1.3zM26.1 65.7h0.9v0.9h-0.9zM27.6 65.7h1.2v1.2h-1.2zM24.5 68.1h1.4v1.4h-1.4zM36.9 66.0h1.4v1.4h-1.4zM32.0 68.1h0.8v0.8h-0.8zM30.7 66.8h0.8v0.8h-0.8zM32.4 67.4h1.1v1.1h-1.1zM31.9 68.5h1.1v1.1h-1.1zM27.8 66.7h0.9v0.9h-0.9zM44.0 67.6h0.9v0.9h-0.9zM44.2 66.8h1.2v1.2h-1.2zM58.9 68.7h1.3v1.3h-1.3zM50.9 70.8h0.8v0.8h-0.8zM60.5 70.5h0.9v0.9h-0.9zM54.1 71.0h1.1v1.1h-1.1zM62.6 69.1h0.8v0.8h-0.8zM41.5 69.3h1.2v1.2h-1.2zM48.5 68.9h1.0v1.0h-1.0zM56.7 67.2h1.4v1.4h-1.4zM53.6 68.1h1.1v1.1h-1.1zM59.0 67.9h1.1v1.1h-1.1zM49.2 69.8h1.0v1.0h-1.0zM49.9 68.1h1.5v1.5h-1.5zM40.1 65.1h1.3v1.3h-1.3zM53.1 68.3h1.5v1.5h-1.5zM59.7 68.3h1.1v1.1h-1.1zM58.4 68.7h1.5v1.5h-1.5zM54.8 67.4h1.3v1.3h-1.3zM40.2 66.4h0.8v0.8h-0.8zM50.2 68.9h0.8v0.8h-0.8zM49.7 70.0h1.0v1.0h-1.0zM58.3 70.8h1.1v1.1h-1.1zM54.1 69.1h1.3v1.3h-1.3zM48.8 67.1h1.4v1.4h-1.4zM52.3 68.8h1.2v1.2h-1.2zM56.1 67.4h0.9v0.9h-0.9zM40.9 67.1h0.9v0.9h-0.9zM45.8 66.7h1.0v1.0h-1.0zM61.3 68.8h1.1v1.1h-1.1zM63.5 68.6h1.1v1.1h-1.1zM48.5 68.7h1.2v1.2h-1.2zM61.6 69.2h1.2v1.2h-1.2zM44.6 69.3h0.9v0.9h-0.9zM62.9 70.5h1.4v1.4h-1.4zM59.5 69.7h1.0v1.0h-1.0zM55.1 69.6h1.4v1.4h-1.4zM53.5 68.8h0.9v0.9h-0.9zM40.4 65.8h1.1v1.1h-1.1zM40.8 66.4h1.3v1.3h-1.3zM53.1 70.2h0.9v0.9h-0.9zM49.3 65.9h1.3v1.3h-1.3zM50.1 68.0h1.1v1.1h-1.1zM48.8 67.7h1.1v1.1h-1.1zM58.8 68.8h1.1v1.1h-1.1zM43.3 70.3h1.0v1.0h-1.0zM55.7 67.5h1.2v1.2h-1.2zM63.0 68.8h1.1v1.1h-1.1zM9.2 71.5h1.3v1.3h-1.3zM12.9 71.0h1.0v1.0h-1.0zM14.3 73.0h1.1v1.1h-1.1zM13.9 70.5h1.4v1.4h-1.4zM7.8 69.7h1.1v1.1h-1.1zM9.0 69.6h1.0v1.0h-1.0zM14.8 70.7h1.1v1.1h-1.1zM11.6 71.0h1.2v1.2h-1.2zM10.5 69.6h0.9v0.9h-0.9zM17.7 71.3h1.2v1.2h-1.2zM12.2 71.8h1.0v1.0h-1.0zM9.6 72.1h1.4v1.4h-1.4zM25.5 73.6h1.0v1.0h-1.0zM20.0 73.3h1.3v1.3h-1.3zM19.8 72.8h1.3v1.3h-1.3zM30.5 74.8h0.8v0.8h-0.8zM23.0 71.9h1.3v1.3h-1.3zM29.8 72.8h1.3v1.3h-1.3zM22.2 72.9h0.8v0.8h-0.8zM28.8 73.6h1.2v1.2h-1.2zM27.7 72.7h1.2v1.2h-1.2zM44.7 76.1h1.1v1.1h-1.1zM36.9 74.1h1.0v1.0h-1.0zM43.0 74.9h0.9v0.9h-0.9zM35.5 74.9h1.3v1.3h-1.3zM42.3 76.2h1.1v1.1h-1.1zM34.2 74.9h0.8v0.8h-0.8zM46.6 74.6h1.1v1.1h-1.1zM38.4 73.9h1.4v1.4h-1.4zM38.9 74.0h1.4v1.4h-1.4zM55.9 77.1h1.4v1.4h-1.4zM54.2 75.2h1.4v1.4h-1.4zM55.1 74.8h1.2v1.2h-1.2zM55.9 76.7h1.3v1.3h-1.3zM59.6 75.8h1.4v1.4h-1.4zM57.5 77.2h0.8v0.8h-0.8zM51.4 76.5h1.3v1.3h-1.3zM53.3 76.8h1.3v1.3h-1.3zM58.8 72.9h1.3v1.3h-1.3zM56.1 76.3h0.9v0.9h-0.9zM55.4 73.2h1.4v1.4h-1.4zM53.8 72.7h1.5v1.5h-1.5zM54.5 76.7h1.3v1.3h-1.3zM56.5 77.3h0.8v0.8h-0.8zM55.1 77.4h0.9v0.9h-0.9zM50.1 74.2h1.3v1.3h-1.3zM54.3 74.0h0.8v0.8h-0.8zM55.0 74.3h1.5v1.5h-1.5zM54.3 74.2h1.2v1.2h-1.2zM54.3 72.3h1.4v1.4h-1.4zM58.8 76.6h1.2v1.2h-1.2zM56.0 73.7h1.4v1.4h-1.4zM55.7 76.0h0.8v0.8h-0.8zM56.9 74.3h1.0v1.0h-1.0zM50.5 72.0h1.0v1.0h-1.0zM50.6 72.1h1.5v1.5h-1.5zM50.3 75.1h1.0v1.0h-1.0zM56.6 74.6h1.2v1.2h-1.2zM57.2 76.4h1.0v1.0h-1.0zM58.6 71.0h1.4v1.4h-1.4zM58.6 70.2h1.3v1.3h-1.3zM62.5 70.1h1.2v1.2h-1.2zM62.2 72.5h1.1v1.1h-1.1zM58.2 70.1h1.4v1.4h-1.4zM63.2 72.3h1.4v1.4h-1.4zM63.3 72.2h1.0v1.0h-1.0zM58.5 73.4h1.3v1.3h-1.3zM56.4 72.4h0.8v0.8h-0.8zM61.3 70.4h1.0v1.0h-1.0zM59.9 69.9h1.4v1.4h-1.4zM60.0 72.8h1.1v1.1h-1.1zM62.4 71.5h0.9v0.9h-0.9zM9.7 65.7h1.1v1.1h-1.1zM10.5 65.9h1.1v1.1h-1.1zM11.2 66.2h1.1v1.1h-1.1zM11.9 66.6h1.1v1.1h-1.1zM12.7 66.7h1.1v1.1h-1.1zM13.5 66.6h1.1v1.1h-1.1zM14.2 66.2h1.1v1.1h-1.1zM14.8 65.7h1.1v1.1h-1.1zM15.6 65.4h1.1v1.1h-1.1zM33.3 67.0h1.1v1.1h-1.1zM34.1 67.0h1.1v1.1h-1.1zM34.9 67.2h1.1v1.1h-1.1zM35.7 67.1h1.1v1.1h-1.1zM36.5 67.2h1.1v1.1h-1.1zM37.2 67.5h1.1v1.1h-1.1zM37.9 67.8h1.1v1.1h-1.1zM61.3 66.7h1.1v1.1h-1.1zM62.1 67.0h1.1v1.1h-1.1zM62.8 67.3h1.1v1.1h-1.1zM63.4 67.8h1.1v1.1h-1.1zM64.1 68.1h1.1v1.1h-1.1zM64.9 68.2h1.1v1.1h-1.1zM65.7 68.6h1.1v1.1h-1.1zM66.4 68.7h1.1v1.1h-1.1zM67.2 68.9h1.1v1.1h-1.1zM68.0 69.1h1.1v1.1h-1.1zM39.6 68.0h1.1v1.1h-1.1zM40.1 68.6h1.1v1.1h-1.1zM40.4 69.4h1.1v1.1h-1.1zM40.7 70.2h1.1v1.1h-1.1zM40.7 70.9h1.1v1.1h-1.1zM41.2 71.6h1.1v1.1h-1.1zM41.5 72.4h1.1v1.1h-1.1zM46.0 68.7h1.1v1.1h-1.1zM45.2 68.5h1.1v1.1h-1.1zM44.4 68.4h1.1v1.1h-1.1zM43.7 68.1h1.1v1.1h-1.1zM43.1 67.5h1.1v1.1h-1.1zM42.3 67.3h1.1v1.1h-1.1zM41.5 67.3h1.1v1.1h-1.1zM40.8 67.5h1.1v1.1h-1.1zM40.0 67.6h1.1v1.1h-1.1zM18.5 68.3h1.1v1.1h-1.1zM17.8 68.5h1.1v1.1h-1.1zM17.0 68.6h1.1v1.1h-1.1zM16.2 68.6h1.1v1.1h-1.1zM15.5 68.9h1.1v1.1h-1.1zM14.8 69.3h1.1v1.1h-1.1zM14.0 69.6h1.1v1.1h-1.1zM13.3 69.8h1.1v1.1h-1.1zM25.5 68.0h1.1v1.1h-1.1zM26.3 67.7h1.1v1.1h-1.1zM27.0 67.5h1.1v1.1h-1.1zM27.8 67.4h1.1v1.1h-1.1zM28.5 67.0h1.1v1.1h-1.1zM29.1 66.5h1.1v1.1h-1.1zM29.4 65.7h1.1v1.1h-1.1zM29.7 65.0h1.1v1.1h-1.1zM29.9 64.2h1.1v1.1h-1.1zM30.3 63.6h1.1v1.1h-1.1zM30.9 63.0h1.1v1.1h-1.1zM11.8 65.2h1.1v1.1h-1.1zM12.4 65.7h1.1v1.1h-1.1zM13.2 66.0h1.1v1.1h-1.1zM14.0 66.1h1.1v1.1h-1.1zM14.8 66.2h1.1v1.1h-1.1zM15.5 66.0h1.1v1.1h-1.1zM16.3 65.7h1.1v1.1h-1.1zM17.0 65.3h1.1v1.1h-1.1zM17.7 64.9h1.1v1.1h-1.1zM18.5 64.8h1.1v1.1h-1.1zM19.2 64.7h1.1v1.1h-1.1zM24.9 65.6h1.1v1.1h-1.1zM25.7 65.3h1.1v1.1h-1.1zM26.3 64.8h1.1v1.1h-1.1zM26.6 64.0h1.1v1.1h-1.1zM27.1 63.4h1.1v1.1h-1.1zM27.7 62.9h1.1v1.1h-1.1zM61.3 69.1h1.1v1.1h-1.1zM62.1 69.3h1.1v1.1h-1.1zM62.9 69.4h1.1v1.1h-1.1zM63.7 69.4h1.1v1.1h-1.1zM64.4 69.6h1.1v1.1h-1.1zM65.1 70.0h1.1v1.1h-1.1zM65.8 70.4h1.1v1.1h-1.1zM19.4 68.1h1.1v1.1h-1.1zM18.8 67.6h1.1v1.1h-1.1zM18.3 66.9h1.1v1.1h-1.1zM18.1 66.2h1.1v1.1h-1.1zM18.3 65.4h1.1v1.1h-1.1zM18.4 64.6h1.1v1.1h-1.1zM28.8 66.3h1.1v1.1h-1.1zM28.1 66.6h1.1v1.1h-1.1zM27.5 67.2h1.1v1.1h-1.1zM26.7 67.5h1.1v1.1h-1.1zM26.1 68.0h1.1v1.1h-1.1zM25.4 68.3h1.1v1.1h-1.1zM24.6 68.5h1.1v1.1h-1.1zM23.9 68.8h1.1v1.1h-1.1zM32.9 68.9h1.1v1.1h-1.1zM32.1 69.1h1.1v1.1h-1.1zM31.3 69.0h1.1v1.1h-1.1zM30.5 69.0h1.1v1.1h-1.1zM29.7 69.3h1.1v1.1h-1.1zM29.0 69.6h1.1v1.1h-1.1zM28.3 70.0h1.1v1.1h-1.1zM27.6 70.4h1.1v1.1h-1.1zM26.8 70.4h1.1v1.1h-1.1zM26.1 70.1h1.1v1.1h-1.1zM25.4 69.6h1.1v1.1h-1.1zM9.4 69.0h1.1v1.1h-1.1zM10.1 69.4h1.1v1.1h-1.1zM10.8 69.8h1.1v1.1h-1.1zM11.5 70.0h1.1v1.1h-1.1zM12.3 70.2h1.1v1.1h-1.1zM13.0 70.7h1.1v1.1h-1.1zM13.4 71.3h1.1v1.1h-1.1zM14.0 71.9h1.1v1.1h-1.1zM42.0 67.0h1.1v1.1h-1.1zM41.2 67.2h1.1v1.1h-1.1zM40.4 67.2h1.1v1.1h-1.1zM39.6 67.4h1.1v1.1h-1.1zM38.8 67.4h1.1v1.1h-1.1zM9.4 64.9h1.1v1.1h-1.1zM9.9 65.6h1.1v1.1h-1.1zM10.5 66.1h1.1v1.1h-1.1zM11.1 66.6h1.1v1.1h-1.1zM11.6 67.2h1.1v1.1h-1.1zM11.8 68.0h1.1v1.1h-1.1zM12.3 68.7h1.1v1.1h-1.1zM12.3 69.5h1.1v1.1h-1.1zM12.3 70.3h1.1v1.1h-1.1zM12.2 71.1h1.1v1.1h-1.1zM55.8 70.9h1.1v1.1h-1.1zM55.0 70.8h1.1v1.1h-1.1zM54.3 70.4h1.1v1.1h-1.1zM53.9 69.7h1.1v1.1h-1.1zM53.8 68.9h1.1v1.1h-1.1zM53.7 68.1h1.1v1.1h-1.1zM53.5 67.3h1.1v1.1h-1.1zM16.0 66.0h1.1v1.1h-1.1zM16.7 66.4h1.1v1.1h-1.1zM17.5 66.4h1.1v1.1h-1.1zM18.3 66.6h1.1v1.1h-1.1zM19.1 66.7h1.1v1.1h-1.1zM19.9 66.6h1.1v1.1h-1.1zM35.4 68.6h1.1v1.1h-1.1zM34.6 68.7h1.1v1.1h-1.1zM33.8 68.6h1.1v1.1h-1.1zM33.0 68.5h1.1v1.1h-1.1zM32.3 68.2h1.1v1.1h-1.1zM31.5 68.2h1.1v1.1h-1.1zM30.7 67.9h1.1v1.1h-1.1zM30.0 67.7h1.1v1.1h-1.1zM39.1 67.1h1.1v1.1h-1.1zM39.8 67.4h1.1v1.1h-1.1zM40.4 68.0h1.1v1.1h-1.1zM40.9 68.7h1.1v1.1h-1.1zM41.4 69.2h1.1v1.1h-1.1zM41.7 70.0h1.1v1.1h-1.1zM32.1 67.2h1.1v1.1h-1.1zM32.9 67.4h1.1v1.1h-1.1zM33.7 67.4h1.1v1.1h-1.1zM34.4 67.8h1.1v1.1h-1.1zM35.0 68.3h1.1v1.1h-1.1zM35.4 69.0h1.1v1.1h-1.1zM35.9 69.6h1.1v1.1h-1.1zM36.6 70.1h1.1v1.1h-1.1zM36.9 70.8h1.1v1.1h-1.1zM37.2 71.5h1.1v1.1h-1.1zM42.6 68.9h1.1v1.1h-1.1zM41.9 68.5h1.1v1.1h-1.1zM41.5 67.8h1.1v1.1h-1.1zM41.0 67.3h1.1v1.1h-1.1zM40.6 66.5h1.1v1.1h-1.1zM40.2 65.9h1.1v1.1h-1.1zM39.9 65.1h1.1v1.1h-1.1zM39.5 64.4h1.1v1.1h-1.1zM39.3 63.7h1.1v1.1h-1.1zM38.8 63.0h1.1v1.1h-1.1zM38.4 62.3h1.1v1.1h-1.1zM40.5 67.2h1.1v1.1h-1.1zM41.3 67.5h1.1v1.1h-1.1zM41.9 68.0h1.1v1.1h-1.1zM42.5 68.6h1.1v1.1h-1.1zM42.8 69.3h1.1v1.1h-1.1zM43.3 69.9h1.1v1.1h-1.1zM43.8 70.5h1.1v1.1h-1.1zM44.5 71.0h1.1v1.1h-1.1zM23.9 68.4h1.1v1.1h-1.1zM23.1 68.1h1.1v1.1h-1.1zM22.4 67.9h1.1v1.1h-1.1zM21.8 67.3h1.1v1.1h-1.1zM21.5 66.6h1.1v1.1h-1.1zM21.1 65.9h1.1v1.1h-1.1zM20.7 65.2h1.1v1.1h-1.1zM20.5 64.4h1.1v1.1h-1.1zM20.1 63.7h1.1v1.1h-1.1zM61.3 68.5h1.1v1.1h-1.1zM60.6 68.1h1.1v1.1h-1.1zM59.8 67.8h1.1v1.1h-1.1zM59.0 67.7h1.1v1.1h-1.1zM58.2 67.7h1.1v1.1h-1.1zM57.5 67.5h1.1v1.1h-1.1zM56.9 66.9h1.1v1.1h-1.1zM56.2 66.6h1.1v1.1h-1.1zM30.2 65.0h1.1v1.1h-1.1zM29.4 65.2h1.1v1.1h-1.1zM28.7 65.6h1.1v1.1h-1.1zM28.1 66.1h1.1v1.1h-1.1zM27.4 66.4h1.1v1.1h-1.1zM26.8 66.9h1.1v1.1h-1.1zM26.1 67.4h1.1v1.1h-1.1zM25.4 67.5h1.1v1.1h-1.1zM41.7 70.2h1.1v1.1h-1.1zM40.9 70.6h1.1v1.1h-1.1zM40.2 70.8h1.1v1.1h-1.1zM39.4 70.8h1.1v1.1h-1.1zM38.6 71.1h1.1v1.1h-1.1zM37.8 71.1h1.1v1.1h-1.1zM37.1 70.8h1.1v1.1h-1.1zM36.4 70.4h1.1v1.1h-1.1zM35.6 70.4h1.1v1.1h-1.1zM34.8 70.2h1.1v1.1h-1.1zM41.8 66.5h1.1v1.1h-1.1zM42.6 66.7h1.1v1.1h-1.1zM43.3 67.1h1.1v1.1h-1.1zM43.9 67.6h1.1v1.1h-1.1zM44.7 67.9h1.1v1.1h-1.1zM45.3 68.4h1.1v1.1h-1.1zM46.1 68.6h1.1v1.1h-1.1zM46.9 68.5h1.1v1.1h-1.1zM54.1 71.0h1.1v1.1h-1.1zM54.9 70.7h1.1v1.1h-1.1zM55.7 70.6h1.1v1.1h-1.1zM56.5 70.6h1.1v1.1h-1.1zM57.2 70.9h1.1v1.1h-1.1zM58.0 71.0h1.1v1.1h-1.1zM58.8 71.1h1.1v1.1h-1.1zM59.6 71.1h1.1v1.1h-1.1zM60.4 71.2h1.1v1.1h-1.1zM61.0 71.7h1.1v1.1h-1.1zM39.1 69.0h1.1v1.1h-1.1zM39.9 69.1h1.1v1.1h-1.1zM40.5 69.6h1.1v1.1h-1.1zM41.3 69.7h1.1v1.1h-1.1zM42.1 69.8h1.1v1.1h-1.1zM42.9 70.0h1.1v1.1h-1.1zM43.5 70.5h1.1v1.1h-1.1zM43.9 71.2h1.1v1.1h-1.1zM40.0 66.0h1.1v1.1h-1.1zM39.4 66.5h1.1v1.1h-1.1zM38.7 66.8h1.1v1.1h-1.1zM37.9 66.9h1.1v1.1h-1.1zM37.1 67.2h1.1v1.1h-1.1zM36.6 67.9h1.1v1.1h-1.1zM47.0 66.9h1.1v1.1h-1.1zM47.7 67.3h1.1v1.1h-1.1zM48.1 68.0h1.1v1.1h-1.1zM48.2 68.8h1.1v1.1h-1.1zM48.0 69.5h1.1v1.1h-1.1zM47.8 70.3h1.1v1.1h-1.1zM47.6 71.1h1.1v1.1h-1.1zM47.5 71.9h1.1v1.1h-1.1zM47.7 72.7h1.1v1.1h-1.1zM137.2 37.0h1.5v1.5h-1.5zM137.5 37.1h1.1v1.1h-1.1zM135.6 39.5h1.4v1.4h-1.4zM136.1 38.5h1.5v1.5h-1.5zM136.0 38.8h1.3v1.3h-1.3zM137.0 36.4h1.1v1.1h-1.1zM136.7 38.3h1.2v1.2h-1.2zM136.8 37.0h1.5v1.5h-1.5zM139.3 33.9h1.3v1.3h-1.3zM139.9 33.7h1.4v1.4h-1.4zM138.5 34.4h1.2v1.2h-1.2zM138.2 35.3h1.6v1.6h-1.6zM138.7 35.9h1.1v1.1h-1.1zM139.4 33.5h1.5v1.5h-1.5zM138.7 35.8h1.1v1.1h-1.1zM139.3 35.0h1.4v1.4h-1.4zM139.7 33.4h1.1v1.1h-1.1zM140.3 33.3h1.0v1.0h-1.0zM141.4 32.8h1.5v1.5h-1.5zM140.8 33.5h1.4v1.4h-1.4zM142.9 35.8h1.1v1.1h-1.1zM142.5 33.9h1.1v1.1h-1.1zM143.0 34.8h1.3v1.3h-1.3zM142.2 33.6h1.6v1.6h-1.6zM142.3 34.1h1.6v1.6h-1.6zM142.1 38.4h1.3v1.3h-1.3zM142.4 37.4h1.2v1.2h-1.2zM142.6 37.7h1.3v1.3h-1.3zM140.9 40.0h1.5v1.5h-1.5zM143.1 37.1h1.1v1.1h-1.1zM142.2 37.9h1.0v1.0h-1.0zM141.8 37.5h1.4v1.4h-1.4zM142.0 39.0h1.3v1.3h-1.3zM142.9 36.9h1.2v1.2h-1.2zM141.5 40.5h1.1v1.1h-1.1zM142.3 35.8h1.2v1.2h-1.2zM144.9 39.2h1.5v1.5h-1.5zM145.3 37.5h1.7v1.7h-1.7zM144.3 37.6h1.3v1.3h-1.3zM144.3 38.1h1.3v1.3h-1.3zM145.3 38.1h1.3v1.3h-1.3zM147.0 39.3h1.3v1.3h-1.3zM144.8 38.7h1.8v1.8h-1.8zM145.8 37.9h1.5v1.5h-1.5zM144.9 36.9h1.3v1.3h-1.3zM143.0 37.1h1.5v1.5h-1.5zM145.4 37.0h2.0v2.0h-2.0zM144.4 37.1h1.8v1.8h-1.8zM147.0 37.6h1.6v1.6h-1.6zM145.3 38.1h1.3v1.3h-1.3zM145.0 35.9h1.6v1.6h-1.6zM145.8 39.4h1.6v1.6h-1.6zM145.2 39.6h1.5v1.5h-1.5zM145.1 37.2h1.3v1.3h-1.3zM144.8 34.4h2.0v2.0h-2.0zM144.7 36.8h1.6v1.6h-1.6zM148.4 38.7h1.3v1.3h-1.3zM148.3 38.4h1.4v1.4h-1.4zM147.7 41.3h1.4v1.4h-1.4zM148.1 39.1h1.6v1.6h-1.6zM147.7 40.6h1.3v1.3h-1.3zM147.6 41.2h1.8v1.8h-1.8zM148.7 41.3h1.7v1.7h-1.7zM148.6 40.6h2.0v2.0h-2.0zM148.7 39.2h1.5v1.5h-1.5zM149.8 41.4h1.6v1.6h-1.6zM150.6 41.5h1.5v1.5h-1.5zM150.1 42.3h1.2v1.2h-1.2zM149.6 41.1h1.9v1.9h-1.9zM147.2 40.2h1.6v1.6h-1.6zM147.7 40.4h1.3v1.3h-1.3zM147.8 40.7h1.8v1.8h-1.8zM148.3 44.1h1.6v1.6h-1.6zM147.8 40.9h1.3v1.3h-1.3zM146.1 40.0h1.6v1.6h-1.6zM146.6 40.3h1.4v1.4h-1.4zM146.9 40.2h1.3v1.3h-1.3zM148.9 41.9h2.0v2.0h-2.0zM149.7 40.6h1.9v1.9h-1.9zM150.1 40.9h1.4v1.4h-1.4zM151.5 40.8h1.9v1.9h-1.9zM152.7 46.1h1.7v1.7h-1.7zM153.9 43.6h1.6v1.6h-1.6zM153.0 47.2h1.6v1.6h-1.6zM155.9 46.4h1.5v1.5h-1.5zM154.3 45.8h1.6v1.6h-1.6zM155.1 46.9h1.7v1.7h-1.7zM151.3 41.7h1.6v1.6h-1.6zM151.5 41.5h1.4v1.4h-1.4zM156.2 45.6h2.1v2.1h-2.1zM153.2 45.1h1.5v1.5h-1.5zM151.1 46.5h1.5v1.5h-1.5zM153.7 43.3h1.4v1.4h-1.4zM149.6 43.8h1.8v1.8h-1.8zM156.3 45.8h1.9v1.9h-1.9zM153.6 43.9h1.7v1.7h-1.7zM152.2 45.0h1.3v1.3h-1.3zM157.9 42.3h1.5v1.5h-1.5zM150.9 42.1h1.8v1.8h-1.8zM156.7 45.1h1.6v1.6h-1.6zM153.5 43.5h1.4v1.4h-1.4zM150.5 45.2h1.7v1.7h-1.7zM151.1 41.2h1.7v1.7h-1.7zM152.9 45.4h1.9v1.9h-1.9zM151.2 46.3h2.0v2.0h-2.0zM154.9 47.1h1.7v1.7h-1.7zM155.9 47.3h1.6v1.6h-1.6zM152.6 44.5h1.5v1.5h-1.5zM156.2 46.0h1.5v1.5h-1.5zM152.6 43.4h2.1v2.1h-2.1zM155.6 45.8h1.3v1.3h-1.3zM152.4 45.3h1.3v1.3h-1.3zM154.4 42.5h1.8v1.8h-1.8zM154.1 44.8h1.9v1.9h-1.9zM154.7 44.8h1.5v1.5h-1.5zM153.0 43.2h1.5v1.5h-1.5zM153.2 42.2h1.2v1.2h-1.2zM156.5 43.7h1.4v1.4h-1.4zM156.0 47.2h1.2v1.2h-1.2zM154.1 45.5h2.1v2.1h-2.1zM156.1 46.3h1.9v1.9h-1.9zM153.4 45.6h1.7v1.7h-1.7zM153.0 43.6h1.6v1.6h-1.6zM152.1 43.4h1.5v1.5h-1.5zM153.0 44.2h1.4v1.4h-1.4zM152.4 42.4h1.3v1.3h-1.3zM154.0 43.8h1.9v1.9h-1.9zM156.0 44.9h1.6v1.6h-1.6zM157.0 44.4h1.9v1.9h-1.9zM160.4 47.8h2.1v2.1h-2.1zM158.1 48.0h1.8v1.8h-1.8zM162.5 47.4h1.8v1.8h-1.8zM161.6 49.1h1.9v1.9h-1.9zM162.0 46.6h1.6v1.6h-1.6zM157.6 48.3h1.4v1.4h-1.4zM157.4 44.8h1.6v1.6h-1.6zM162.1 46.9h1.5v1.5h-1.5zM162.1 46.9h1.8v1.8h-1.8zM158.6 47.2h1.7v1.7h-1.7zM160.5 48.1h1.6v1.6h-1.6zM161.8 50.3h1.8v1.8h-1.8zM163.1 48.3h1.7v1.7h-1.7zM163.1 45.7h1.9v1.9h-1.9zM158.6 47.5h1.5v1.5h-1.5zM160.4 47.8h1.4v1.4h-1.4zM157.4 46.0h1.9v1.9h-1.9zM160.5 45.6h1.7v1.7h-1.7zM156.8 45.7h1.7v1.7h-1.7zM160.2 48.8h2.0v2.0h-2.0zM162.7 46.9h1.3v1.3h-1.3zM159.7 47.8h1.5v1.5h-1.5zM158.3 45.7h1.8v1.8h-1.8zM160.4 47.8h1.8v1.8h-1.8zM160.4 45.1h1.8v1.8h-1.8zM163.8 46.2h1.6v1.6h-1.6zM160.3 46.1h1.4v1.4h-1.4zM163.5 48.4h1.8v1.8h-1.8zM163.1 47.0h1.8v1.8h-1.8zM159.0 47.7h1.5v1.5h-1.5zM159.3 45.2h1.4v1.4h-1.4zM161.1 49.6h1.9v1.9h-1.9zM162.5 45.8h2.0v2.0h-2.0zM160.7 46.3h1.6v1.6h-1.6zM157.0 49.3h2.0v2.0h-2.0zM163.5 47.1h1.2v1.2h-1.2zM157.9 52.1h1.3v1.3h-1.3zM158.6 49.0h2.0v2.0h-2.0zM163.0 47.6h1.3v1.3h-1.3zM159.5 45.6h1.5v1.5h-1.5zM160.2 43.4h1.3v1.3h-1.3zM162.1 49.9h1.4v1.4h-1.4zM163.2 46.6h1.9v1.9h-1.9zM162.1 47.8h1.6v1.6h-1.6zM160.7 47.5h2.0v2.0h-2.0zM160.8 44.0h1.8v1.8h-1.8zM156.5 47.3h2.0v2.0h-2.0zM161.1 46.3h1.2v1.2h-1.2zM163.1 48.4h1.3v1.3h-1.3zM158.9 47.5h1.4v1.4h-1.4zM160.2 47.4h2.1v2.1h-2.1zM160.3 45.6h1.8v1.8h-1.8zM162.6 48.5h1.4v1.4h-1.4zM146.2 39.6h1.0v1.0h-1.0zM148.2 40.9h1.0v1.0h-1.0zM146.6 42.5h0.9v0.9h-0.9zM155.0 40.8h1.2v1.2h-1.2zM151.0 44.0h1.1v1.1h-1.1zM156.0 51.1h1.0v1.0h-1.0zM158.4 50.2h1.1v1.1h-1.1zM155.4 51.6h1.3v1.3h-1.3zM156.7 51.9h1.1v1.1h-1.1zM155.5 51.9h1.3v1.3h-1.3zM156.8 51.1h1.1v1.1h-1.1zM155.8 52.3h1.3v1.3h-1.3zM156.7 52.1h1.3v1.3h-1.3zM153.8 52.6h1.3v1.3h-1.3zM158.0 51.5h1.2v1.2h-1.2zM155.6 52.0h1.4v1.4h-1.4zM153.4 52.4h0.9v0.9h-0.9zM155.4 52.6h1.1v1.1h-1.1zM155.9 52.2h1.2v1.2h-1.2zM156.6 51.4h1.1v1.1h-1.1zM154.2 52.0h1.0v1.0h-1.0zM157.8 51.5h1.1v1.1h-1.1zM155.8 52.4h1.3v1.3h-1.3zM155.2 52.2h1.4v1.4h-1.4zM161.5 54.3h0.7v0.7h-0.7zM159.5 54.8h0.9v0.9h-0.9zM159.7 54.7h0.6v0.6h-0.6zM159.7 54.8h1.0v1.0h-1.0zM160.7 54.4h0.9v0.9h-0.9zM133.8 38.5h1.2v1.2h-1.2zM136.6 40.4h1.2v1.2h-1.2zM168.1 46.0h1.0v1.0h-1.0zM166.2 47.3h0.8v0.8h-0.8zM164.7 48.0h0.8v0.8h-0.8zM193.5 96.7h1.0v1.0h-1.0zM212.0 89.8h0.9v0.9h-0.9zM213.1 92.3h1.0v1.0h-1.0zM247.3 97.2h1.1v1.1h-1.1zM247.2 95.5h0.9v0.9h-0.9z" fill="#efc53f" opacity="0.9"/><path d="M13.3 67.9h1.2v1.2h-1.2zM15.1 66.2h1.2v1.2h-1.2zM18.2 65.5h0.8v0.8h-0.8zM20.7 67.3h1.4v1.4h-1.4zM6.4 68.0h1.3v1.3h-1.3zM17.3 69.2h0.8v0.8h-0.8zM7.4 65.8h1.4v1.4h-1.4zM14.4 68.8h1.2v1.2h-1.2zM10.1 66.7h1.4v1.4h-1.4zM16.3 67.1h0.9v0.9h-0.9zM18.2 64.6h1.4v1.4h-1.4zM19.8 66.1h0.9v0.9h-0.9zM38.4 63.5h1.0v1.0h-1.0zM35.9 66.6h1.4v1.4h-1.4zM24.1 64.1h0.9v0.9h-0.9zM36.9 67.2h1.4v1.4h-1.4zM27.6 66.9h1.0v1.0h-1.0zM27.3 69.7h1.5v1.5h-1.5zM24.3 67.3h1.4v1.4h-1.4zM22.4 64.8h1.0v1.0h-1.0zM28.9 66.6h1.1v1.1h-1.1zM22.6 68.7h0.9v0.9h-0.9zM35.3 64.2h0.9v0.9h-0.9zM36.4 67.4h0.9v0.9h-0.9zM36.3 67.9h1.0v1.0h-1.0zM27.5 68.2h0.8v0.8h-0.8zM31.8 66.5h1.2v1.2h-1.2zM28.6 68.1h1.4v1.4h-1.4zM30.5 66.9h1.0v1.0h-1.0zM35.7 68.1h1.0v1.0h-1.0zM24.9 66.2h1.1v1.1h-1.1zM30.4 66.3h1.3v1.3h-1.3zM52.1 67.5h1.4v1.4h-1.4zM47.9 68.6h1.3v1.3h-1.3zM44.2 70.3h1.0v1.0h-1.0zM39.9 67.3h1.0v1.0h-1.0zM49.0 68.5h1.1v1.1h-1.1zM40.2 67.3h0.9v0.9h-0.9zM49.4 68.8h1.3v1.3h-1.3zM51.7 67.0h1.5v1.5h-1.5zM46.6 65.3h1.3v1.3h-1.3zM52.1 69.4h1.1v1.1h-1.1zM43.5 67.5h1.2v1.2h-1.2zM52.5 69.5h1.1v1.1h-1.1zM58.6 70.6h1.3v1.3h-1.3zM52.5 69.3h1.1v1.1h-1.1zM57.2 70.1h1.1v1.1h-1.1zM40.2 65.8h1.5v1.5h-1.5zM42.9 67.6h1.4v1.4h-1.4zM41.3 66.8h1.0v1.0h-1.0zM61.9 68.8h1.0v1.0h-1.0zM50.2 70.5h0.9v0.9h-0.9zM50.1 68.8h1.4v1.4h-1.4zM61.6 69.0h1.2v1.2h-1.2zM51.2 68.4h1.3v1.3h-1.3zM57.8 70.1h1.0v1.0h-1.0zM17.3 72.6h1.3v1.3h-1.3zM23.4 73.5h1.2v1.2h-1.2zM31.6 74.2h1.2v1.2h-1.2zM30.9 72.3h0.8v0.8h-0.8zM22.3 73.3h1.0v1.0h-1.0zM28.4 74.8h1.3v1.3h-1.3zM37.8 74.8h1.1v1.1h-1.1zM55.7 72.2h1.3v1.3h-1.3zM59.6 74.5h1.4v1.4h-1.4zM54.8 72.4h0.8v0.8h-0.8zM59.4 74.9h1.4v1.4h-1.4zM50.3 72.9h0.8v0.8h-0.8zM55.0 72.8h1.1v1.1h-1.1zM58.4 77.2h0.9v0.9h-0.9zM56.2 72.2h1.4v1.4h-1.4zM52.8 76.0h1.0v1.0h-1.0zM57.1 73.4h1.2v1.2h-1.2zM52.8 72.5h1.0v1.0h-1.0zM50.1 72.3h0.8v0.8h-0.8zM55.3 73.4h0.9v0.9h-0.9zM50.5 73.2h0.9v0.9h-0.9zM54.7 72.2h1.1v1.1h-1.1zM59.9 75.6h0.9v0.9h-0.9zM53.0 74.0h0.9v0.9h-0.9zM53.2 72.3h0.8v0.8h-0.8zM56.6 72.5h1.2v1.2h-1.2zM60.0 69.9h1.0v1.0h-1.0zM64.8 71.5h1.3v1.3h-1.3zM62.1 70.9h1.2v1.2h-1.2zM58.9 73.1h1.5v1.5h-1.5zM58.6 71.4h1.1v1.1h-1.1zM62.9 72.4h1.0v1.0h-1.0zM63.2 71.2h1.4v1.4h-1.4zM87.8 103.8h1.3v1.3h-1.3zM135.8 38.9h1.4v1.4h-1.4zM136.9 38.0h1.1v1.1h-1.1zM137.7 37.2h1.1v1.1h-1.1zM141.3 32.7h1.6v1.6h-1.6zM142.8 35.4h1.3v1.3h-1.3zM141.8 34.6h1.4v1.4h-1.4zM142.5 39.9h1.1v1.1h-1.1zM142.1 39.4h1.6v1.6h-1.6zM144.9 35.9h1.5v1.5h-1.5zM146.6 35.8h1.7v1.7h-1.7zM143.9 38.2h1.9v1.9h-1.9zM146.8 38.7h1.4v1.4h-1.4zM144.4 36.5h1.9v1.9h-1.9zM145.2 37.0h1.6v1.6h-1.6zM143.9 37.6h1.6v1.6h-1.6zM145.6 38.0h1.6v1.6h-1.6zM142.8 39.5h1.6v1.6h-1.6zM143.8 38.7h1.8v1.8h-1.8zM147.6 38.7h1.3v1.3h-1.3zM144.3 36.5h1.9v1.9h-1.9zM144.0 36.8h2.0v2.0h-2.0zM146.9 39.2h1.6v1.6h-1.6zM148.2 42.7h1.6v1.6h-1.6zM148.7 40.7h1.7v1.7h-1.7zM148.6 40.5h1.2v1.2h-1.2zM149.0 41.7h1.8v1.8h-1.8zM148.0 41.3h1.5v1.5h-1.5zM150.0 41.7h1.5v1.5h-1.5zM149.6 42.3h1.9v1.9h-1.9zM148.0 41.3h1.3v1.3h-1.3zM155.8 43.6h1.2v1.2h-1.2zM150.5 44.0h1.8v1.8h-1.8zM154.2 46.6h1.5v1.5h-1.5zM154.9 47.0h1.3v1.3h-1.3zM155.1 46.0h1.3v1.3h-1.3zM150.7 45.0h1.4v1.4h-1.4zM153.0 43.0h1.5v1.5h-1.5zM155.1 43.9h2.0v2.0h-2.0zM153.5 43.5h1.7v1.7h-1.7zM153.5 45.1h1.5v1.5h-1.5zM155.0 46.3h2.1v2.1h-2.1zM154.9 45.4h1.8v1.8h-1.8zM151.2 42.8h1.3v1.3h-1.3zM155.2 47.2h2.0v2.0h-2.0zM155.3 45.0h1.6v1.6h-1.6zM154.0 45.5h1.7v1.7h-1.7zM155.9 45.5h1.3v1.3h-1.3zM155.4 43.2h1.3v1.3h-1.3zM155.5 41.9h2.0v2.0h-2.0zM155.0 44.5h1.4v1.4h-1.4zM155.3 44.1h2.0v2.0h-2.0zM150.7 45.1h1.4v1.4h-1.4zM156.8 43.5h2.1v2.1h-2.1zM152.1 42.5h1.4v1.4h-1.4zM154.1 45.4h1.7v1.7h-1.7zM157.0 45.2h2.0v2.0h-2.0zM161.6 42.8h1.6v1.6h-1.6zM162.4 47.3h2.0v2.0h-2.0zM161.9 48.4h1.2v1.2h-1.2zM161.4 49.2h1.5v1.5h-1.5zM158.8 46.8h1.6v1.6h-1.6zM160.1 46.6h1.3v1.3h-1.3zM156.6 48.0h1.3v1.3h-1.3zM159.5 47.5h1.3v1.3h-1.3zM157.3 46.0h1.5v1.5h-1.5zM158.5 44.3h2.0v2.0h-2.0zM161.6 44.5h2.0v2.0h-2.0zM158.2 46.4h1.3v1.3h-1.3zM157.6 45.0h1.5v1.5h-1.5zM157.3 45.3h1.3v1.3h-1.3zM161.2 46.3h1.7v1.7h-1.7zM164.2 45.8h2.1v2.1h-2.1zM159.5 47.3h1.2v1.2h-1.2zM161.9 45.1h1.3v1.3h-1.3zM162.3 48.7h1.4v1.4h-1.4zM161.7 48.5h1.5v1.5h-1.5zM162.1 49.2h1.3v1.3h-1.3zM157.0 48.7h1.2v1.2h-1.2zM158.0 52.0h1.4v1.4h-1.4zM154.7 51.5h1.2v1.2h-1.2zM156.5 52.7h1.1v1.1h-1.1zM158.3 51.9h1.0v1.0h-1.0zM155.9 51.8h1.2v1.2h-1.2zM157.0 51.5h1.3v1.3h-1.3zM157.8 51.6h1.1v1.1h-1.1zM248.2 97.0h0.8v0.8h-0.8zM245.6 96.5h0.8v0.8h-0.8z" fill="#efc53f" opacity="1.0"/><path d="M206.8 35.9h1.2v1.2h-1.2zM211.4 43.3h1.5v1.5h-1.5zM197.9 48.9h0.9v0.9h-0.9zM209.6 42.9h1.5v1.5h-1.5zM192.2 43.9h1.2v1.2h-1.2zM199.7 49.2h1.0v1.0h-1.0zM196.9 47.5h1.6v1.6h-1.6zM200.9 40.3h0.9v0.9h-0.9zM199.0 35.8h1.2v1.2h-1.2zM203.1 38.9h0.9v0.9h-0.9zM203.5 43.8h1.2v1.2h-1.2zM192.0 41.4h1.5v1.5h-1.5zM199.0 37.8h1.1v1.1h-1.1zM211.2 39.0h0.9v0.9h-0.9zM202.8 52.3h1.3v1.3h-1.3zM196.3 39.4h1.2v1.2h-1.2zM200.9 50.5h1.3v1.3h-1.3zM202.2 39.0h0.9v0.9h-0.9zM193.6 42.1h1.5v1.5h-1.5zM213.4 35.3h1.5v1.5h-1.5zM205.1 36.8h1.3v1.3h-1.3zM205.6 52.0h0.9v0.9h-0.9zM192.1 44.2h0.9v0.9h-0.9zM202.8 51.8h1.4v1.4h-1.4zM199.9 52.6h1.3v1.3h-1.3zM200.7 34.8h1.4v1.4h-1.4zM207.4 42.1h0.9v0.9h-0.9zM194.5 40.5h1.0v1.0h-1.0z" fill="#f8992a" opacity="0.1"/><path d="M213.2 45.0h1.1v1.1h-1.1zM213.6 42.0h1.2v1.2h-1.2zM206.0 37.4h1.5v1.5h-1.5zM200.7 44.1h1.1v1.1h-1.1zM212.3 47.0h1.5v1.5h-1.5zM200.9 34.9h1.0v1.0h-1.0zM202.2 46.4h1.3v1.3h-1.3zM209.7 50.7h1.6v1.6h-1.6zM194.6 42.5h1.3v1.3h-1.3zM204.3 36.5h1.2v1.2h-1.2zM196.3 46.4h1.4v1.4h-1.4zM204.4 44.2h1.4v1.4h-1.4zM202.3 34.2h1.1v1.1h-1.1zM196.1 38.8h1.2v1.2h-1.2zM208.2 46.1h1.5v1.5h-1.5zM203.3 50.4h0.9v0.9h-0.9zM203.0 35.2h1.0v1.0h-1.0zM203.0 53.0h1.3v1.3h-1.3zM199.2 53.9h1.3v1.3h-1.3zM205.3 42.4h1.3v1.3h-1.3zM198.6 42.1h1.0v1.0h-1.0zM215.5 39.7h1.2v1.2h-1.2zM203.9 51.9h1.1v1.1h-1.1zM192.0 46.5h1.5v1.5h-1.5zM202.3 51.1h1.1v1.1h-1.1zM203.6 33.5h0.9v0.9h-0.9zM208.2 39.4h1.4v1.4h-1.4zM211.6 41.3h0.9v0.9h-0.9zM196.5 47.4h1.5v1.5h-1.5zM206.1 45.7h1.2v1.2h-1.2zM195.7 39.0h1.3v1.3h-1.3zM202.8 51.4h0.9v0.9h-0.9zM205.7 34.3h0.8v0.8h-0.8zM206.0 35.4h1.1v1.1h-1.1zM208.5 47.9h1.1v1.1h-1.1zM193.1 44.4h0.9v0.9h-0.9zM197.6 44.6h1.5v1.5h-1.5zM202.4 38.1h1.5v1.5h-1.5zM205.0 45.4h1.6v1.6h-1.6zM200.4 41.0h1.6v1.6h-1.6zM204.2 44.6h1.0v1.0h-1.0zM201.7 38.0h0.9v0.9h-0.9zM211.1 41.7h1.6v1.6h-1.6zM205.6 35.6h1.0v1.0h-1.0zM194.9 37.8h1.1v1.1h-1.1zM208.1 42.4h1.6v1.6h-1.6zM204.7 43.6h1.4v1.4h-1.4zM214.1 45.9h0.9v0.9h-0.9zM204.1 48.1h1.1v1.1h-1.1zM210.1 50.2h1.2v1.2h-1.2zM190.5 42.8h1.6v1.6h-1.6zM196.6 49.3h0.9v0.9h-0.9zM211.9 40.7h1.2v1.2h-1.2zM214.5 36.6h1.4v1.4h-1.4zM199.9 35.1h1.6v1.6h-1.6zM216.5 42.2h1.3v1.3h-1.3zM199.8 48.3h1.5v1.5h-1.5zM193.2 45.6h0.9v0.9h-0.9zM199.5 43.0h0.9v0.9h-0.9zM198.3 40.7h1.4v1.4h-1.4zM199.3 44.4h1.6v1.6h-1.6zM196.9 41.5h1.0v1.0h-1.0zM193.5 45.6h1.5v1.5h-1.5zM205.8 34.4h0.9v0.9h-0.9zM208.6 37.8h1.1v1.1h-1.1zM213.5 36.3h1.1v1.1h-1.1zM199.0 40.7h1.1v1.1h-1.1zM204.1 52.6h1.1v1.1h-1.1zM192.1 50.2h1.1v1.1h-1.1zM215.4 40.8h1.0v1.0h-1.0zM208.5 34.2h1.0v1.0h-1.0zM191.4 48.9h1.6v1.6h-1.6zM201.8 33.6h0.8v0.8h-0.8zM192.6 51.5h1.0v1.0h-1.0zM192.1 51.3h1.0v1.0h-1.0zM197.5 40.5h1.3v1.3h-1.3zM198.8 48.2h1.1v1.1h-1.1zM185.7 47.8h1.3v1.3h-1.3zM186.8 48.3h1.2v1.2h-1.2zM184.3 47.3h0.8v0.8h-0.8zM187.1 49.0h0.9v0.9h-0.9z" fill="#f8992a" opacity="0.2"/><path d="M181.9 54.6h1.6v1.6h-1.6zM173.8 49.2h1.6v1.6h-1.6zM177.5 48.8h1.4v1.4h-1.4zM173.6 43.8h1.1v1.1h-1.1zM175.9 48.2h1.0v1.0h-1.0zM188.0 63.6h1.1v1.1h-1.1zM182.6 65.5h1.7v1.7h-1.7zM191.3 56.8h1.0v1.0h-1.0zM179.9 57.1h1.7v1.7h-1.7zM190.7 53.9h1.5v1.5h-1.5zM195.5 67.6h1.0v1.0h-1.0zM196.0 61.6h1.1v1.1h-1.1zM181.9 75.1h0.9v0.9h-0.9zM201.6 33.7h1.2v1.2h-1.2zM200.5 40.3h0.9v0.9h-0.9zM200.6 49.1h1.0v1.0h-1.0zM198.9 34.4h1.5v1.5h-1.5zM205.1 49.2h1.2v1.2h-1.2zM190.8 43.9h1.1v1.1h-1.1zM196.4 40.4h1.4v1.4h-1.4zM212.0 35.4h1.0v1.0h-1.0zM203.0 39.9h1.0v1.0h-1.0zM216.1 43.9h1.1v1.1h-1.1zM204.2 41.0h1.2v1.2h-1.2zM200.7 48.1h1.4v1.4h-1.4zM201.2 51.3h1.5v1.5h-1.5zM206.5 45.2h1.3v1.3h-1.3zM207.5 34.9h1.3v1.3h-1.3zM193.7 44.4h0.8v0.8h-0.8zM202.3 44.0h1.1v1.1h-1.1zM209.0 34.3h0.9v0.9h-0.9zM202.7 44.0h1.4v1.4h-1.4zM203.9 44.1h1.0v1.0h-1.0zM214.2 39.3h1.2v1.2h-1.2zM208.7 45.0h1.6v1.6h-1.6zM208.7 45.0h1.6v1.6h-1.6zM205.1 39.6h1.4v1.4h-1.4zM205.4 41.6h0.9v0.9h-0.9zM212.2 37.2h1.5v1.5h-1.5zM196.8 50.0h1.2v1.2h-1.2zM196.9 51.1h1.4v1.4h-1.4zM209.1 42.9h0.9v0.9h-0.9zM198.5 40.6h1.1v1.1h-1.1zM195.0 41.8h1.0v1.0h-1.0zM203.8 33.2h1.0v1.0h-1.0zM198.5 36.6h1.5v1.5h-1.5zM202.9 35.4h1.0v1.0h-1.0zM195.3 42.3h1.1v1.1h-1.1zM211.1 44.6h1.5v1.5h-1.5zM199.9 36.1h1.1v1.1h-1.1zM215.5 38.9h0.8v0.8h-0.8zM207.9 33.3h1.4v1.4h-1.4zM210.4 49.2h1.6v1.6h-1.6zM198.1 48.6h1.1v1.1h-1.1zM197.3 51.0h0.9v0.9h-0.9zM210.8 39.3h1.3v1.3h-1.3zM215.5 41.5h1.2v1.2h-1.2zM210.2 39.1h0.9v0.9h-0.9zM202.1 35.9h1.5v1.5h-1.5zM206.1 50.1h1.2v1.2h-1.2zM202.3 47.6h1.1v1.1h-1.1zM208.5 47.1h1.5v1.5h-1.5zM194.9 53.1h0.9v0.9h-0.9zM197.1 42.8h1.6v1.6h-1.6zM193.5 41.9h0.8v0.8h-0.8zM203.5 43.9h1.0v1.0h-1.0zM194.8 37.0h1.5v1.5h-1.5zM212.9 46.7h1.2v1.2h-1.2zM204.7 41.5h0.9v0.9h-0.9zM200.0 52.0h1.3v1.3h-1.3zM203.5 35.3h1.3v1.3h-1.3zM206.9 39.7h1.1v1.1h-1.1zM205.3 51.9h1.2v1.2h-1.2zM198.3 47.8h0.8v0.8h-0.8zM212.8 36.1h1.3v1.3h-1.3zM215.1 39.1h1.2v1.2h-1.2zM203.9 53.5h1.0v1.0h-1.0zM210.0 31.4h1.1v1.1h-1.1zM207.3 31.6h1.1v1.1h-1.1zM187.7 49.3h1.1v1.1h-1.1zM188.0 47.8h1.0v1.0h-1.0zM185.0 44.5h1.2v1.2h-1.2zM189.9 47.0h1.2v1.2h-1.2zM216.6 24.0h0.8v0.8h-0.8z" fill="#f8992a" opacity="0.3"/><path d="M178.0 44.1h1.1v1.1h-1.1zM177.1 55.2h1.6v1.6h-1.6zM175.5 47.1h1.6v1.6h-1.6zM177.6 59.7h1.5v1.5h-1.5zM182.3 64.2h1.8v1.8h-1.8zM180.7 54.8h1.7v1.7h-1.7zM184.7 60.5h1.1v1.1h-1.1zM184.7 58.9h1.3v1.3h-1.3zM180.7 62.9h1.3v1.3h-1.3zM183.2 53.8h1.3v1.3h-1.3zM184.4 62.4h1.7v1.7h-1.7zM180.2 60.5h1.3v1.3h-1.3zM181.1 63.4h1.5v1.5h-1.5zM195.6 46.7h1.4v1.4h-1.4zM191.8 54.7h0.9v0.9h-0.9zM191.5 53.7h1.4v1.4h-1.4zM189.6 53.5h0.9v0.9h-0.9zM190.9 51.0h1.2v1.2h-1.2zM196.4 47.8h0.9v0.9h-0.9zM195.5 46.2h0.9v0.9h-0.9zM194.7 64.9h0.8v0.8h-0.8zM196.5 65.3h1.0v1.0h-1.0zM197.0 69.4h0.8v0.8h-0.8zM194.9 63.8h0.7v0.7h-0.7zM194.5 64.9h0.8v0.8h-0.8zM195.5 62.8h1.0v1.0h-1.0zM179.3 69.8h0.8v0.8h-0.8zM181.8 77.6h0.8v0.8h-0.8zM180.7 73.4h0.8v0.8h-0.8zM180.3 72.8h1.0v1.0h-1.0zM208.1 52.2h1.1v1.1h-1.1zM210.2 39.0h0.8v0.8h-0.8zM196.7 48.5h1.2v1.2h-1.2zM208.5 33.3h0.8v0.8h-0.8zM205.9 33.1h0.9v0.9h-0.9zM193.8 48.6h1.4v1.4h-1.4zM210.7 40.8h0.9v0.9h-0.9zM203.6 53.8h1.2v1.2h-1.2zM212.7 39.0h1.3v1.3h-1.3zM208.5 35.4h1.1v1.1h-1.1zM204.5 53.3h1.1v1.1h-1.1zM195.5 45.0h1.5v1.5h-1.5zM192.5 51.7h1.2v1.2h-1.2zM201.4 43.1h1.3v1.3h-1.3zM199.4 47.4h1.3v1.3h-1.3zM204.2 50.7h1.6v1.6h-1.6zM206.5 49.6h1.6v1.6h-1.6zM202.5 38.4h1.2v1.2h-1.2zM198.8 39.8h0.9v0.9h-0.9zM191.9 50.0h1.2v1.2h-1.2zM205.9 45.3h1.6v1.6h-1.6zM207.6 35.2h1.4v1.4h-1.4zM201.1 39.8h1.5v1.5h-1.5zM200.9 45.4h0.9v0.9h-0.9zM191.9 49.4h1.1v1.1h-1.1zM204.6 45.4h0.8v0.8h-0.8zM214.3 41.7h1.0v1.0h-1.0zM192.2 41.0h1.4v1.4h-1.4zM208.5 48.6h1.5v1.5h-1.5zM195.0 47.4h1.5v1.5h-1.5zM210.8 34.6h1.4v1.4h-1.4zM197.9 38.0h1.5v1.5h-1.5zM205.4 43.9h1.0v1.0h-1.0zM190.7 48.1h1.4v1.4h-1.4zM203.1 48.2h0.9v0.9h-0.9zM203.0 35.1h1.0v1.0h-1.0zM193.3 41.8h0.9v0.9h-0.9zM210.8 37.5h0.8v0.8h-0.8zM210.1 35.5h1.1v1.1h-1.1zM203.3 40.8h1.5v1.5h-1.5zM212.8 42.6h1.3v1.3h-1.3zM205.3 47.5h1.3v1.3h-1.3zM206.8 42.8h1.5v1.5h-1.5zM206.0 39.5h1.1v1.1h-1.1zM191.7 48.8h1.1v1.1h-1.1zM194.1 51.8h0.8v0.8h-0.8zM198.9 53.9h1.4v1.4h-1.4zM204.2 32.7h1.4v1.4h-1.4zM204.7 50.7h1.4v1.4h-1.4zM198.1 53.8h1.3v1.3h-1.3zM195.8 35.4h0.8v0.8h-0.8zM196.4 38.6h1.1v1.1h-1.1zM196.3 39.7h0.9v0.9h-0.9zM208.2 30.2h1.2v1.2h-1.2zM209.9 29.8h1.0v1.0h-1.0zM213.0 32.3h1.3v1.3h-1.3zM208.6 33.5h1.1v1.1h-1.1zM200.4 52.7h1.0v1.0h-1.0zM202.8 51.3h1.1v1.1h-1.1zM207.1 49.7h1.1v1.1h-1.1zM205.8 50.8h1.0v1.0h-1.0zM183.2 47.5h0.9v0.9h-0.9zM185.9 47.9h1.3v1.3h-1.3zM186.8 43.7h0.9v0.9h-0.9zM184.9 48.7h1.3v1.3h-1.3zM186.5 46.1h1.1v1.1h-1.1zM213.4 22.7h0.7v0.7h-0.7zM216.4 25.7h1.1v1.1h-1.1zM211.6 22.8h0.8v0.8h-0.8z" fill="#f8992a" opacity="0.4"/><path d="M175.3 45.9h0.9v0.9h-0.9zM173.6 51.8h1.6v1.6h-1.6zM180.2 46.4h1.4v1.4h-1.4zM177.7 48.0h1.6v1.6h-1.6zM179.4 47.3h1.5v1.5h-1.5zM175.1 50.4h1.5v1.5h-1.5zM177.9 51.9h1.1v1.1h-1.1zM187.5 52.8h1.0v1.0h-1.0zM191.7 60.3h1.2v1.2h-1.2zM180.8 62.5h1.7v1.7h-1.7zM187.8 65.5h1.4v1.4h-1.4zM180.2 61.8h1.1v1.1h-1.1zM191.7 60.7h1.3v1.3h-1.3zM182.4 59.8h1.5v1.5h-1.5zM190.9 46.1h1.2v1.2h-1.2zM189.5 50.4h1.0v1.0h-1.0zM194.0 53.2h1.2v1.2h-1.2zM195.2 45.5h1.1v1.1h-1.1zM193.9 49.0h1.2v1.2h-1.2zM193.6 49.4h1.5v1.5h-1.5zM193.3 53.7h1.3v1.3h-1.3zM195.6 67.6h0.9v0.9h-0.9zM195.8 64.9h0.7v0.7h-0.7zM194.3 61.6h1.0v1.0h-1.0zM196.8 66.5h0.9v0.9h-0.9zM195.0 64.9h0.9v0.9h-0.9zM181.5 71.7h0.8v0.8h-0.8zM178.5 69.9h1.0v1.0h-1.0zM218.6 72.7h1.0v1.0h-1.0zM182.9 85.9h1.1v1.1h-1.1zM186.8 90.6h0.9v0.9h-0.9zM208.4 48.3h0.9v0.9h-0.9zM213.8 44.7h0.7v0.7h-0.7zM208.8 40.1h0.9v0.9h-0.9zM202.0 47.8h0.7v0.7h-0.7zM193.3 40.9h0.8v0.8h-0.8zM212.9 38.6h1.0v1.0h-1.0zM208.7 42.6h0.9v0.9h-0.9zM196.4 37.5h0.8v0.8h-0.8zM198.7 35.2h0.9v0.9h-0.9zM192.4 37.4h0.8v0.8h-0.8zM198.9 40.6h0.8v0.8h-0.8zM199.8 38.4h1.0v1.0h-1.0zM191.6 38.5h0.9v0.9h-0.9zM201.5 37.7h1.1v1.1h-1.1zM198.3 39.1h0.7v0.7h-0.7zM200.4 34.2h1.0v1.0h-1.0zM204.9 37.5h0.9v0.9h-0.9zM212.8 32.5h1.0v1.0h-1.0zM208.2 32.5h0.8v0.8h-0.8zM207.9 32.0h0.9v0.9h-0.9zM211.5 31.9h0.9v0.9h-0.9zM207.4 31.6h1.1v1.1h-1.1zM209.9 32.9h0.9v0.9h-0.9zM210.6 29.6h1.0v1.0h-1.0zM207.8 31.8h1.2v1.2h-1.2zM205.6 51.1h1.1v1.1h-1.1zM213.4 47.6h1.0v1.0h-1.0zM209.4 48.2h1.2v1.2h-1.2zM199.6 54.3h1.1v1.1h-1.1zM200.7 55.2h0.9v0.9h-0.9zM197.3 54.9h1.0v1.0h-1.0zM198.2 55.7h0.7v0.7h-0.7zM211.1 47.8h1.0v1.0h-1.0zM198.3 55.1h1.1v1.1h-1.1zM187.0 47.7h1.0v1.0h-1.0zM189.4 46.6h0.8v0.8h-0.8zM186.0 45.7h1.0v1.0h-1.0zM213.0 23.8h1.1v1.1h-1.1z" fill="#f8992a" opacity="0.5"/><path d="M168.0 47.3h0.7v0.7h-0.7zM166.9 47.3h0.9v0.9h-0.9zM174.3 54.7h1.1v1.1h-1.1zM187.0 61.5h1.1v1.1h-1.1zM183.2 57.6h1.4v1.4h-1.4zM185.4 63.2h1.2v1.2h-1.2zM189.1 59.5h1.7v1.7h-1.7zM184.2 64.2h1.2v1.2h-1.2zM180.1 59.6h1.2v1.2h-1.2zM184.1 60.4h1.8v1.8h-1.8zM188.9 58.1h1.6v1.6h-1.6zM185.3 65.8h1.6v1.6h-1.6zM196.8 47.8h1.1v1.1h-1.1zM188.5 48.7h1.2v1.2h-1.2zM196.9 65.5h1.1v1.1h-1.1zM195.8 63.6h0.8v0.8h-0.8zM195.1 66.6h0.8v0.8h-0.8zM196.5 64.9h0.9v0.9h-0.9zM214.7 57.9h1.1v1.1h-1.1zM212.5 63.3h0.8v0.8h-0.8zM196.2 96.9h0.7v0.7h-0.7zM201.2 97.1h1.0v1.0h-1.0zM212.1 88.9h1.1v1.1h-1.1zM187.4 89.2h0.8v0.8h-0.8zM185.9 86.2h0.9v0.9h-0.9zM193.8 44.0h1.1v1.1h-1.1zM200.8 46.1h1.2v1.2h-1.2zM201.7 52.5h1.0v1.0h-1.0zM197.4 49.2h1.0v1.0h-1.0zM201.5 43.9h1.2v1.2h-1.2zM207.5 38.9h0.9v0.9h-0.9zM193.9 50.8h0.8v0.8h-0.8zM214.0 38.2h1.1v1.1h-1.1zM197.6 34.7h0.8v0.8h-0.8zM199.2 38.2h0.8v0.8h-0.8zM200.7 37.1h1.0v1.0h-1.0zM210.4 29.5h1.2v1.2h-1.2zM208.5 31.7h1.2v1.2h-1.2zM208.5 31.1h1.1v1.1h-1.1zM212.9 30.3h1.1v1.1h-1.1zM207.2 49.8h1.0v1.0h-1.0zM202.8 52.1h1.1v1.1h-1.1zM205.3 50.5h0.8v0.8h-0.8zM200.3 53.3h0.9v0.9h-0.9zM207.0 51.0h1.1v1.1h-1.1zM211.7 46.5h0.8v0.8h-0.8zM196.1 53.8h0.8v0.8h-0.8zM199.2 53.6h0.8v0.8h-0.8zM212.7 21.9h1.0v1.0h-1.0z" fill="#f8992a" opacity="0.6"/><path d="M167.9 47.1h0.9v0.9h-0.9zM167.4 47.0h0.7v0.7h-0.7zM163.7 46.5h0.9v0.9h-0.9zM181.7 59.0h1.5v1.5h-1.5zM174.3 55.9h1.3v1.3h-1.3zM174.4 42.5h1.8v1.8h-1.8zM190.5 62.7h1.4v1.4h-1.4zM184.2 56.6h1.4v1.4h-1.4zM186.9 58.7h1.1v1.1h-1.1zM179.9 60.0h1.6v1.6h-1.6zM182.7 63.8h1.0v1.0h-1.0zM193.5 47.2h1.1v1.1h-1.1zM190.5 50.5h1.0v1.0h-1.0zM194.8 65.1h1.1v1.1h-1.1zM182.1 76.1h0.8v0.8h-0.8zM214.0 59.2h1.1v1.1h-1.1zM214.8 58.3h1.0v1.0h-1.0zM220.5 73.2h1.1v1.1h-1.1zM196.2 96.9h0.7v0.7h-0.7zM191.3 96.2h0.8v0.8h-0.8zM203.3 97.6h1.0v1.0h-1.0zM198.0 97.0h0.8v0.8h-0.8zM212.0 89.1h1.0v1.0h-1.0zM186.3 91.1h1.1v1.1h-1.1zM184.9 83.6h0.9v0.9h-0.9zM201.9 42.5h1.0v1.0h-1.0zM205.2 38.5h1.2v1.2h-1.2zM212.1 45.0h0.9v0.9h-0.9zM192.5 37.5h0.7v0.7h-0.7zM191.2 36.8h1.1v1.1h-1.1zM200.2 34.5h1.1v1.1h-1.1zM193.6 40.4h0.8v0.8h-0.8zM200.0 38.1h0.8v0.8h-0.8zM206.2 25.5h1.3v1.3h-1.3zM207.7 25.9h1.4v1.4h-1.4zM207.8 28.7h1.1v1.1h-1.1zM209.2 25.9h0.9v0.9h-0.9zM209.3 26.7h1.0v1.0h-1.0zM209.6 26.8h1.3v1.3h-1.3zM205.6 26.5h0.9v0.9h-0.9zM207.8 26.1h1.3v1.3h-1.3zM208.9 28.6h1.2v1.2h-1.2zM209.2 27.3h1.3v1.3h-1.3zM207.5 26.6h1.0v1.0h-1.0zM206.5 26.6h1.0v1.0h-1.0zM207.9 25.0h1.5v1.5h-1.5zM212.9 28.9h1.3v1.3h-1.3zM213.5 29.2h1.2v1.2h-1.2zM214.0 29.2h1.0v1.0h-1.0zM212.7 29.4h1.1v1.1h-1.1zM211.1 31.4h1.1v1.1h-1.1zM209.8 31.5h1.0v1.0h-1.0zM210.0 29.4h0.8v0.8h-0.8zM209.7 31.8h1.2v1.2h-1.2zM215.7 37.7h0.8v0.8h-0.8zM216.0 35.9h0.9v0.9h-0.9zM216.5 38.0h1.1v1.1h-1.1zM215.7 37.5h0.8v0.8h-0.8zM204.3 50.6h0.8v0.8h-0.8zM203.1 51.6h0.9v0.9h-0.9zM206.8 50.6h1.1v1.1h-1.1zM203.9 50.2h1.0v1.0h-1.0zM206.5 50.3h0.9v0.9h-0.9zM207.3 49.1h1.2v1.2h-1.2zM205.9 50.6h1.1v1.1h-1.1zM205.6 51.9h1.2v1.2h-1.2zM208.0 48.5h1.0v1.0h-1.0zM201.9 52.5h1.0v1.0h-1.0zM211.8 23.4h0.9v0.9h-0.9zM212.8 24.8h1.1v1.1h-1.1z" fill="#f8992a" opacity="0.7"/><path d="M9.6 68.7h1.0v1.0h-1.0zM8.3 68.6h1.2v1.2h-1.2zM8.7 68.1h1.0v1.0h-1.0zM171.1 44.9h0.7v0.7h-0.7zM173.8 44.4h0.9v0.9h-0.9zM165.0 46.4h0.8v0.8h-0.8zM166.0 47.2h0.7v0.7h-0.7zM212.2 61.7h0.8v0.8h-0.8zM201.4 97.5h1.0v1.0h-1.0zM197.2 96.6h1.0v1.0h-1.0zM185.8 85.2h0.7v0.7h-0.7zM201.3 50.9h1.1v1.1h-1.1zM206.1 41.2h1.1v1.1h-1.1zM196.1 35.2h0.9v0.9h-0.9zM195.2 41.2h1.2v1.2h-1.2zM194.5 39.8h0.9v0.9h-0.9zM198.8 41.1h1.1v1.1h-1.1zM208.8 25.7h0.9v0.9h-0.9zM205.4 27.7h1.1v1.1h-1.1zM207.0 28.4h1.2v1.2h-1.2zM207.7 27.0h1.0v1.0h-1.0zM206.8 25.3h1.1v1.1h-1.1zM208.1 24.7h1.0v1.0h-1.0zM208.4 26.9h1.4v1.4h-1.4zM205.4 27.8h1.3v1.3h-1.3zM206.8 26.3h1.2v1.2h-1.2zM208.0 28.6h1.4v1.4h-1.4zM209.9 25.7h1.0v1.0h-1.0zM206.3 25.1h1.3v1.3h-1.3zM209.3 28.4h1.1v1.1h-1.1zM208.2 28.6h1.4v1.4h-1.4zM206.7 26.3h1.1v1.1h-1.1zM207.1 26.6h1.2v1.2h-1.2zM206.0 25.7h1.2v1.2h-1.2zM213.5 28.9h0.9v0.9h-0.9zM212.1 29.1h1.0v1.0h-1.0zM211.9 33.5h1.1v1.1h-1.1zM210.7 31.0h0.9v0.9h-0.9zM215.8 38.6h1.1v1.1h-1.1zM216.3 38.1h0.8v0.8h-0.8zM216.7 37.6h0.8v0.8h-0.8zM198.7 54.4h1.2v1.2h-1.2zM198.4 54.6h0.8v0.8h-0.8zM199.2 54.2h0.8v0.8h-0.8zM203.6 51.5h0.8v0.8h-0.8zM207.1 49.3h1.1v1.1h-1.1zM202.3 52.7h0.9v0.9h-0.9zM205.2 50.6h1.1v1.1h-1.1zM212.6 47.9h1.0v1.0h-1.0z" fill="#f8992a" opacity="0.8"/><path d="M6.3 66.9h1.0v1.0h-1.0zM6.0 67.6h1.0v1.0h-1.0zM7.8 68.1h0.9v0.9h-0.9zM7.8 67.6h0.9v0.9h-0.9zM213.8 58.8h1.0v1.0h-1.0zM220.6 73.9h1.0v1.0h-1.0zM222.0 74.6h0.8v0.8h-0.8zM195.3 97.3h1.0v1.0h-1.0zM191.1 95.7h0.9v0.9h-0.9zM212.4 90.2h0.9v0.9h-0.9zM247.6 97.0h1.0v1.0h-1.0zM214.2 36.9h1.1v1.1h-1.1zM211.9 45.6h1.1v1.1h-1.1zM195.3 48.8h0.8v0.8h-0.8zM197.9 52.4h1.1v1.1h-1.1zM206.9 42.2h1.1v1.1h-1.1zM197.9 49.4h1.0v1.0h-1.0zM201.7 44.0h1.0v1.0h-1.0zM201.2 47.0h1.0v1.0h-1.0zM202.7 44.3h0.9v0.9h-0.9zM207.1 34.3h1.2v1.2h-1.2zM194.5 38.0h0.9v0.9h-0.9zM196.8 36.2h1.1v1.1h-1.1zM207.5 28.3h1.4v1.4h-1.4zM208.9 26.4h0.9v0.9h-0.9zM210.2 26.2h1.1v1.1h-1.1zM205.5 26.8h1.0v1.0h-1.0zM206.6 25.0h1.3v1.3h-1.3zM207.1 28.5h0.9v0.9h-0.9zM208.4 27.8h1.3v1.3h-1.3zM205.4 26.8h1.4v1.4h-1.4zM206.4 26.0h1.3v1.3h-1.3zM207.7 24.9h1.0v1.0h-1.0zM209.8 27.3h1.5v1.5h-1.5zM209.2 27.5h1.1v1.1h-1.1zM209.0 26.4h1.2v1.2h-1.2zM206.6 27.2h1.0v1.0h-1.0zM207.5 25.5h1.4v1.4h-1.4zM208.2 28.2h1.4v1.4h-1.4zM209.1 26.9h1.0v1.0h-1.0zM208.6 27.3h1.1v1.1h-1.1zM206.9 28.4h1.5v1.5h-1.5zM207.8 27.4h1.4v1.4h-1.4zM207.8 26.4h1.5v1.5h-1.5zM210.3 25.5h1.2v1.2h-1.2zM206.9 26.7h1.2v1.2h-1.2zM213.7 29.4h1.0v1.0h-1.0zM214.5 28.3h1.2v1.2h-1.2zM216.8 37.3h1.1v1.1h-1.1zM215.7 37.9h0.9v0.9h-0.9zM215.7 37.7h1.0v1.0h-1.0zM210.5 50.7h0.9v0.9h-0.9zM207.8 47.5h0.8v0.8h-0.8zM209.1 48.3h0.9v0.9h-0.9zM207.6 50.5h0.7v0.7h-0.7zM201.7 53.5h1.0v1.0h-1.0zM225.3 28.6h1.3v1.3h-1.3zM225.9 32.4h0.8v0.8h-0.8zM226.1 30.2h1.2v1.2h-1.2zM224.8 30.6h0.9v0.9h-0.9zM224.9 29.8h0.8v0.8h-0.8zM224.9 30.9h1.2v1.2h-1.2zM225.4 31.4h1.0v1.0h-1.0z" fill="#f8992a" opacity="0.9"/><path d="M7.4 67.9h1.2v1.2h-1.2zM194.4 96.8h1.0v1.0h-1.0zM212.5 91.0h0.8v0.8h-0.8zM210.2 26.8h1.0v1.0h-1.0zM207.8 26.9h1.2v1.2h-1.2zM205.8 26.5h1.0v1.0h-1.0zM206.3 26.3h0.9v0.9h-0.9zM210.2 26.1h1.0v1.0h-1.0zM209.1 27.1h1.5v1.5h-1.5zM206.8 26.1h1.5v1.5h-1.5zM213.0 28.5h1.1v1.1h-1.1zM215.1 28.6h0.9v0.9h-0.9zM216.8 37.3h1.0v1.0h-1.0zM216.4 37.2h0.8v0.8h-0.8zM216.8 36.0h1.2v1.2h-1.2z" fill="#f8992a" opacity="1.0"/><path d="M30.8 68.9h1.4v1.4h-1.4zM31.3 68.2h0.9v0.9h-0.9zM28.6 67.6h1.4v1.4h-1.4zM27.0 68.1h1.3v1.3h-1.3zM25.5 67.6h1.0v1.0h-1.0zM27.2 64.7h1.1v1.1h-1.1zM26.9 67.9h1.1v1.1h-1.1zM32.2 67.6h1.4v1.4h-1.4zM24.6 67.5h1.1v1.1h-1.1zM34.0 67.5h0.9v0.9h-0.9zM34.6 68.2h1.1v1.1h-1.1zM33.0 68.4h1.2v1.2h-1.2zM33.4 65.9h1.0v1.0h-1.0zM35.4 66.9h1.1v1.1h-1.1zM36.6 69.2h1.5v1.5h-1.5zM35.9 66.4h1.3v1.3h-1.3zM35.9 68.0h1.5v1.5h-1.5zM33.4 67.1h1.4v1.4h-1.4zM59.3 70.7h1.2v1.2h-1.2zM56.2 71.9h1.4v1.4h-1.4zM58.7 69.4h1.2v1.2h-1.2zM54.8 71.7h1.0v1.0h-1.0zM57.3 70.3h1.5v1.5h-1.5zM54.7 70.2h1.0v1.0h-1.0zM54.4 72.0h1.2v1.2h-1.2zM59.4 69.6h1.1v1.1h-1.1zM57.3 72.0h1.0v1.0h-1.0zM26.5 67.6h1.1v1.1h-1.1zM27.3 67.9h1.1v1.1h-1.1zM28.0 68.3h1.1v1.1h-1.1zM28.6 68.8h1.1v1.1h-1.1zM29.0 69.4h1.1v1.1h-1.1zM29.3 70.2h1.1v1.1h-1.1zM29.8 70.8h1.1v1.1h-1.1zM142.6 41.0h1.0v1.0h-1.0zM142.7 40.0h1.0v1.0h-1.0zM141.8 40.9h0.9v0.9h-0.9zM142.8 41.4h1.2v1.2h-1.2zM142.3 38.7h1.3v1.3h-1.3zM141.7 40.1h1.3v1.3h-1.3zM139.9 38.4h0.9v0.9h-0.9zM175.8 42.4h1.3v1.3h-1.3zM176.0 42.2h1.0v1.0h-1.0zM175.3 42.6h1.2v1.2h-1.2zM175.7 42.8h1.1v1.1h-1.1z" fill="#47a5e6" opacity="0.9"/><path d="M30.9 68.5h1.1v1.1h-1.1zM28.9 67.3h0.9v0.9h-0.9zM25.3 66.6h1.5v1.5h-1.5zM37.6 67.0h0.9v0.9h-0.9zM37.4 68.3h1.3v1.3h-1.3zM35.0 68.0h1.4v1.4h-1.4zM60.1 70.2h1.3v1.3h-1.3zM56.5 69.8h1.4v1.4h-1.4zM54.4 69.5h1.0v1.0h-1.0zM141.4 38.7h1.4v1.4h-1.4zM141.8 40.3h1.0v1.0h-1.0zM142.1 39.5h1.0v1.0h-1.0zM142.1 40.8h1.1v1.1h-1.1zM141.6 40.1h1.0v1.0h-1.0zM142.4 40.5h1.1v1.1h-1.1zM141.4 39.1h1.3v1.3h-1.3zM141.5 39.6h1.1v1.1h-1.1zM139.4 38.4h1.0v1.0h-1.0zM139.6 37.8h0.9v0.9h-0.9zM175.7 41.3h1.3v1.3h-1.3zM176.3 42.4h1.2v1.2h-1.2zM176.2 41.7h1.3v1.3h-1.3z" fill="#47a5e6" opacity="1.0"/><path d="M6.9 67.1h1.2v1.2h-1.2zM5.6 67.3h1.1v1.1h-1.1zM5.4 66.4h1.2v1.2h-1.2zM6.6 66.6h1.1v1.1h-1.1z" fill="#d4421b" opacity="0.9"/><path d="M5.2 66.7h0.9v0.9h-0.9zM6.2 67.6h1.2v1.2h-1.2z" fill="#d4421b" opacity="1.0"/></g><use href="#lines"/></g><use href="#legend" transform="translate(-0.3 -1.0)"/></g>
<g transform="translate(277.3 157.2)" clip-path="url(#cpd)"><g transform="scale(1.0020 0.9916)"><use href="#base"/><g clip-path="url(#lc)"><path transform="translate(1.3 0.3)" d="M88.6 63.8L84 68.2L79.1 72.7" stroke="#efc53f" stroke-width="1.5" fill="none"/><path transform="translate(1.3 0.3)" d="M80.5 72.6L78 73" stroke="#efc53f" stroke-width="1.2" fill="none"/><path d="M69.6 74.5L71 76.1L71.4 74.7M71 76.1L71.9 77.3" stroke="#efc53f" stroke-width="1.6" fill="none" stroke-linecap="round"/><path d="M83.7 104.4L84 106L84.5 107.8" stroke="#efc53f" stroke-width="0.8" fill="none"/><path d="M206.6 46.6h1.5v1.5h-1.5zM208.3 35.2h1.2v1.2h-1.2zM201.1 48.3h1.3v1.3h-1.3zM203.9 47.3h1.0v1.0h-1.0zM205.1 34.6h1.1v1.1h-1.1zM201.4 38.8h1.5v1.5h-1.5zM202.6 45.4h1.1v1.1h-1.1z" fill="#efc53f" opacity="0.1"/><path d="M193.7 47.9h1.3v1.3h-1.3zM206.0 52.1h1.2v1.2h-1.2zM195.6 42.1h0.9v0.9h-0.9zM190.9 45.7h0.9v0.9h-0.9zM194.7 37.7h1.2v1.2h-1.2zM202.1 40.6h1.0v1.0h-1.0zM197.6 49.7h1.3v1.3h-1.3zM200.4 53.4h1.5v1.5h-1.5zM195.5 36.6h1.3v1.3h-1.3zM202.4 48.3h1.2v1.2h-1.2zM205.4 47.0h1.5v1.5h-1.5zM208.5 51.7h1.1v1.1h-1.1zM212.6 38.2h1.5v1.5h-1.5zM211.7 42.5h1.5v1.5h-1.5zM203.2 43.4h1.2v1.2h-1.2zM205.5 52.3h1.2v1.2h-1.2zM197.3 51.1h0.9v0.9h-0.9zM207.2 42.6h1.2v1.2h-1.2zM185.0 44.3h1.0v1.0h-1.0zM186.3 44.7h1.0v1.0h-1.0z" fill="#efc53f" opacity="0.2"/><path d="M176.8 59.8h1.4v1.4h-1.4zM176.1 48.5h1.3v1.3h-1.3zM178.8 61.9h1.7v1.7h-1.7zM173.6 56.4h1.7v1.7h-1.7zM173.9 51.0h1.1v1.1h-1.1zM176.0 46.6h1.5v1.5h-1.5zM182.2 52.3h1.5v1.5h-1.5zM178.1 59.0h1.1v1.1h-1.1zM172.7 54.5h1.5v1.5h-1.5zM177.4 46.6h1.4v1.4h-1.4zM178.3 61.5h1.2v1.2h-1.2zM178.1 48.6h1.4v1.4h-1.4zM178.3 46.7h1.4v1.4h-1.4zM172.8 50.6h1.7v1.7h-1.7zM177.0 46.8h1.5v1.5h-1.5zM181.1 52.3h1.2v1.2h-1.2zM174.1 44.8h1.2v1.2h-1.2zM172.7 46.8h1.1v1.1h-1.1zM184.1 54.9h1.5v1.5h-1.5zM189.7 62.5h1.2v1.2h-1.2zM183.8 53.2h1.5v1.5h-1.5zM180.5 60.1h1.4v1.4h-1.4zM182.4 55.1h1.5v1.5h-1.5zM187.0 58.4h1.8v1.8h-1.8zM181.0 63.7h1.5v1.5h-1.5zM184.3 59.4h1.6v1.6h-1.6zM187.3 61.4h1.1v1.1h-1.1zM187.4 56.4h1.2v1.2h-1.2zM181.8 61.8h1.3v1.3h-1.3zM186.2 62.4h1.4v1.4h-1.4zM180.6 61.0h1.7v1.7h-1.7zM184.9 52.6h1.5v1.5h-1.5zM189.0 64.2h1.7v1.7h-1.7zM183.2 59.2h1.1v1.1h-1.1zM188.0 62.0h1.7v1.7h-1.7zM183.3 54.6h1.5v1.5h-1.5zM184.2 63.2h1.8v1.8h-1.8zM188.4 66.3h1.0v1.0h-1.0zM190.3 61.3h1.4v1.4h-1.4zM188.8 60.8h1.7v1.7h-1.7zM183.4 58.3h1.2v1.2h-1.2zM185.5 64.1h1.6v1.6h-1.6zM186.8 62.3h1.3v1.3h-1.3zM194.7 48.8h1.4v1.4h-1.4zM193.7 49.2h1.4v1.4h-1.4zM190.0 50.2h1.4v1.4h-1.4zM193.4 53.9h1.4v1.4h-1.4zM188.3 49.5h1.5v1.5h-1.5zM194.5 51.0h1.2v1.2h-1.2zM195.8 47.2h1.5v1.5h-1.5zM181.7 74.1h0.7v0.7h-0.7zM198.0 39.3h1.0v1.0h-1.0zM214.2 37.9h1.4v1.4h-1.4zM203.1 37.8h1.1v1.1h-1.1zM190.4 45.4h1.3v1.3h-1.3zM205.6 37.6h1.1v1.1h-1.1zM203.7 47.5h0.9v0.9h-0.9zM204.3 39.0h1.4v1.4h-1.4zM199.9 40.3h1.1v1.1h-1.1zM197.9 50.7h1.3v1.3h-1.3zM208.0 36.1h1.2v1.2h-1.2zM199.7 37.9h1.5v1.5h-1.5zM200.1 52.6h1.0v1.0h-1.0zM200.1 41.1h1.2v1.2h-1.2zM201.3 39.2h1.1v1.1h-1.1zM216.1 42.5h1.2v1.2h-1.2zM202.4 49.7h1.3v1.3h-1.3zM216.3 40.0h1.4v1.4h-1.4zM207.4 45.4h0.9v0.9h-0.9zM186.1 48.3h0.8v0.8h-0.8zM188.8 44.9h1.2v1.2h-1.2zM189.5 47.9h1.1v1.1h-1.1zM185.6 45.4h1.1v1.1h-1.1zM191.7 46.5h1.0v1.0h-1.0zM187.8 46.9h1.1v1.1h-1.1zM187.0 45.7h1.3v1.3h-1.3zM186.3 46.8h1.4v1.4h-1.4z" fill="#efc53f" opacity="0.3"/><path d="M178.6 59.3h1.2v1.2h-1.2zM174.2 51.4h1.7v1.7h-1.7zM177.4 54.9h1.2v1.2h-1.2zM176.8 57.4h1.5v1.5h-1.5zM178.5 53.1h1.5v1.5h-1.5zM178.8 52.3h1.3v1.3h-1.3zM180.2 48.3h1.5v1.5h-1.5zM182.0 52.7h1.3v1.3h-1.3zM179.3 50.3h1.3v1.3h-1.3zM176.5 47.7h1.4v1.4h-1.4zM178.7 61.2h1.5v1.5h-1.5zM174.3 51.6h1.7v1.7h-1.7zM174.5 49.6h1.1v1.1h-1.1zM179.1 59.2h1.5v1.5h-1.5zM181.0 57.2h1.1v1.1h-1.1zM177.9 62.6h1.4v1.4h-1.4zM173.1 52.1h1.6v1.6h-1.6zM174.9 55.9h1.2v1.2h-1.2zM175.8 50.8h1.6v1.6h-1.6zM173.5 54.9h1.0v1.0h-1.0zM175.9 48.6h1.3v1.3h-1.3zM172.6 49.3h1.6v1.6h-1.6zM180.9 52.8h1.2v1.2h-1.2zM177.0 46.6h1.0v1.0h-1.0zM179.1 59.8h1.6v1.6h-1.6zM177.9 51.6h1.5v1.5h-1.5zM173.4 56.8h1.8v1.8h-1.8zM177.1 49.5h1.5v1.5h-1.5zM177.7 42.6h1.0v1.0h-1.0zM175.7 59.8h1.1v1.1h-1.1zM178.4 46.2h1.1v1.1h-1.1zM176.3 51.5h1.7v1.7h-1.7zM178.8 54.6h1.1v1.1h-1.1zM177.2 50.0h1.7v1.7h-1.7zM177.6 43.6h1.2v1.2h-1.2zM177.9 59.5h1.5v1.5h-1.5zM178.2 61.4h1.6v1.6h-1.6zM176.0 49.9h1.7v1.7h-1.7zM177.7 51.8h1.4v1.4h-1.4zM191.3 61.2h1.3v1.3h-1.3zM189.1 59.2h1.4v1.4h-1.4zM182.5 57.5h1.3v1.3h-1.3zM180.5 56.1h1.6v1.6h-1.6zM183.0 54.5h1.4v1.4h-1.4zM180.0 57.7h1.7v1.7h-1.7zM184.7 58.7h1.1v1.1h-1.1zM182.2 63.5h1.0v1.0h-1.0zM183.2 54.7h1.4v1.4h-1.4zM181.6 59.4h1.8v1.8h-1.8zM190.5 58.5h1.5v1.5h-1.5zM187.4 61.5h1.6v1.6h-1.6zM190.1 63.5h1.3v1.3h-1.3zM186.7 56.7h1.5v1.5h-1.5zM180.5 56.4h1.3v1.3h-1.3zM184.7 62.7h1.6v1.6h-1.6zM181.9 55.9h1.4v1.4h-1.4zM181.3 61.1h1.6v1.6h-1.6zM189.4 55.3h1.7v1.7h-1.7zM183.3 57.7h1.0v1.0h-1.0zM190.7 57.2h1.1v1.1h-1.1zM181.4 60.3h1.1v1.1h-1.1zM187.7 53.1h1.2v1.2h-1.2zM182.2 59.4h1.6v1.6h-1.6zM183.4 57.6h1.7v1.7h-1.7zM190.5 61.1h1.8v1.8h-1.8zM181.8 64.2h1.6v1.6h-1.6zM181.7 52.9h1.6v1.6h-1.6zM184.3 65.0h1.3v1.3h-1.3zM191.1 57.0h1.6v1.6h-1.6zM184.7 56.1h1.2v1.2h-1.2zM180.6 63.2h1.4v1.4h-1.4zM181.7 62.9h1.5v1.5h-1.5zM185.6 55.0h1.7v1.7h-1.7zM189.8 62.8h1.2v1.2h-1.2zM189.1 53.7h1.7v1.7h-1.7zM189.7 54.4h1.7v1.7h-1.7zM185.8 60.7h1.6v1.6h-1.6zM186.4 55.7h1.6v1.6h-1.6zM187.3 62.4h1.3v1.3h-1.3zM187.7 59.7h1.8v1.8h-1.8zM185.7 61.8h1.6v1.6h-1.6zM184.4 55.6h1.4v1.4h-1.4zM188.9 47.8h1.1v1.1h-1.1zM192.5 52.3h1.1v1.1h-1.1zM196.6 46.9h1.3v1.3h-1.3zM189.2 48.4h1.2v1.2h-1.2zM193.0 50.4h1.4v1.4h-1.4zM194.1 48.1h0.9v0.9h-0.9zM194.5 50.2h1.5v1.5h-1.5zM191.5 53.5h0.9v0.9h-0.9zM193.7 51.6h1.1v1.1h-1.1zM192.8 47.2h1.0v1.0h-1.0zM194.9 48.5h1.3v1.3h-1.3zM194.6 47.0h1.4v1.4h-1.4zM194.0 49.3h1.2v1.2h-1.2zM191.9 52.3h1.0v1.0h-1.0zM195.0 64.7h1.0v1.0h-1.0zM197.2 68.7h0.7v0.7h-0.7zM181.9 74.5h1.1v1.1h-1.1zM181.7 77.7h0.8v0.8h-0.8zM181.1 76.9h0.8v0.8h-0.8zM178.7 69.7h1.0v1.0h-1.0zM180.6 75.0h0.8v0.8h-0.8zM201.8 47.9h1.5v1.5h-1.5zM191.5 48.4h1.4v1.4h-1.4zM210.8 49.0h1.4v1.4h-1.4zM194.9 38.0h0.9v0.9h-0.9zM192.2 50.3h0.9v0.9h-0.9zM196.2 46.3h1.4v1.4h-1.4zM201.5 48.4h1.6v1.6h-1.6zM195.9 44.4h1.4v1.4h-1.4zM190.8 47.5h1.2v1.2h-1.2zM190.5 43.8h1.0v1.0h-1.0zM208.0 39.9h0.9v0.9h-0.9zM196.9 36.8h1.5v1.5h-1.5zM205.4 47.3h0.8v0.8h-0.8zM212.0 44.0h1.6v1.6h-1.6zM211.3 34.3h0.8v0.8h-0.8zM210.2 34.2h1.3v1.3h-1.3zM201.9 33.5h1.2v1.2h-1.2zM200.9 51.4h1.6v1.6h-1.6zM195.5 45.6h1.3v1.3h-1.3zM189.3 46.8h1.4v1.4h-1.4zM190.1 43.9h1.4v1.4h-1.4zM189.5 47.0h1.1v1.1h-1.1zM188.8 48.6h1.3v1.3h-1.3zM187.6 44.9h1.1v1.1h-1.1zM185.2 45.8h1.0v1.0h-1.0zM187.6 48.4h0.8v0.8h-0.8z" fill="#efc53f" opacity="0.4"/><path d="M134.9 41.8h0.9v0.9h-0.9zM135.7 41.8h1.4v1.4h-1.4zM136.9 43.6h1.1v1.1h-1.1zM135.2 43.4h1.0v1.0h-1.0zM133.6 39.4h1.1v1.1h-1.1zM131.6 40.5h1.4v1.4h-1.4zM135.4 41.4h0.8v0.8h-0.8zM137.5 42.5h1.1v1.1h-1.1zM134.8 42.6h1.4v1.4h-1.4zM135.5 44.1h1.1v1.1h-1.1zM134.1 38.0h0.9v0.9h-0.9zM132.8 42.1h1.1v1.1h-1.1zM165.0 47.6h0.8v0.8h-0.8zM166.8 48.3h0.7v0.7h-0.7zM167.2 46.8h0.8v0.8h-0.8zM181.0 53.4h1.1v1.1h-1.1zM176.3 52.6h1.4v1.4h-1.4zM173.7 57.4h1.2v1.2h-1.2zM174.8 50.2h1.0v1.0h-1.0zM173.0 45.3h1.8v1.8h-1.8zM179.5 54.6h1.5v1.5h-1.5zM179.6 48.0h1.7v1.7h-1.7zM177.4 47.4h1.4v1.4h-1.4zM176.7 47.2h1.1v1.1h-1.1zM175.9 57.9h1.7v1.7h-1.7zM175.3 54.9h1.8v1.8h-1.8zM176.5 47.8h1.7v1.7h-1.7zM174.8 48.9h1.5v1.5h-1.5zM181.7 58.2h1.8v1.8h-1.8zM172.9 46.3h1.5v1.5h-1.5zM175.8 42.5h1.4v1.4h-1.4zM178.9 46.7h1.6v1.6h-1.6zM172.6 46.7h1.5v1.5h-1.5zM175.9 56.2h1.3v1.3h-1.3zM173.8 48.4h1.1v1.1h-1.1zM176.7 60.5h1.8v1.8h-1.8zM178.9 47.8h1.7v1.7h-1.7zM180.4 58.2h1.5v1.5h-1.5zM176.4 45.5h1.6v1.6h-1.6zM176.8 46.6h1.4v1.4h-1.4zM181.8 59.7h1.1v1.1h-1.1zM172.6 46.5h1.5v1.5h-1.5zM177.0 57.2h1.7v1.7h-1.7zM180.2 56.2h1.4v1.4h-1.4zM180.5 56.2h1.5v1.5h-1.5zM181.3 50.9h1.5v1.5h-1.5zM174.2 49.3h1.7v1.7h-1.7zM190.1 64.8h1.0v1.0h-1.0zM187.8 54.8h1.7v1.7h-1.7zM189.4 57.8h1.3v1.3h-1.3zM191.4 57.3h1.8v1.8h-1.8zM188.7 65.0h1.3v1.3h-1.3zM179.6 59.0h1.7v1.7h-1.7zM186.4 52.6h1.1v1.1h-1.1zM186.7 62.5h1.1v1.1h-1.1zM186.2 63.4h1.7v1.7h-1.7zM184.9 63.1h1.6v1.6h-1.6zM184.5 59.3h1.6v1.6h-1.6zM187.9 65.8h1.0v1.0h-1.0zM185.1 66.6h1.3v1.3h-1.3zM188.6 57.4h1.6v1.6h-1.6zM187.4 52.1h1.1v1.1h-1.1zM185.6 52.9h1.6v1.6h-1.6zM179.8 62.9h1.2v1.2h-1.2zM186.6 56.9h1.6v1.6h-1.6zM181.7 65.2h1.7v1.7h-1.7zM190.9 62.0h1.6v1.6h-1.6zM188.7 53.8h1.3v1.3h-1.3zM190.7 55.0h1.1v1.1h-1.1zM186.4 52.5h1.5v1.5h-1.5zM181.6 65.4h1.0v1.0h-1.0zM182.5 65.1h1.2v1.2h-1.2zM181.0 54.2h1.2v1.2h-1.2zM186.3 65.0h1.1v1.1h-1.1zM188.9 56.3h1.1v1.1h-1.1zM187.0 51.9h1.7v1.7h-1.7zM181.4 54.1h1.2v1.2h-1.2zM180.0 60.5h1.5v1.5h-1.5zM188.2 60.3h1.1v1.1h-1.1zM180.8 64.3h1.4v1.4h-1.4zM183.7 62.5h1.2v1.2h-1.2zM183.5 65.7h1.0v1.0h-1.0zM184.0 58.7h1.8v1.8h-1.8zM194.4 44.7h1.5v1.5h-1.5zM192.1 52.7h0.9v0.9h-0.9zM194.0 48.8h1.5v1.5h-1.5zM189.8 50.9h1.5v1.5h-1.5zM188.1 51.9h1.5v1.5h-1.5zM189.8 49.0h1.4v1.4h-1.4zM195.3 65.5h0.9v0.9h-0.9zM195.4 65.0h0.7v0.7h-0.7zM195.5 61.2h1.1v1.1h-1.1zM197.0 65.1h1.0v1.0h-1.0zM195.0 67.2h1.1v1.1h-1.1zM194.6 62.4h0.8v0.8h-0.8zM195.1 64.8h0.8v0.8h-0.8zM195.0 67.7h1.1v1.1h-1.1zM180.0 70.7h0.9v0.9h-0.9zM212.5 64.4h0.9v0.9h-0.9zM212.9 62.2h0.7v0.7h-0.7zM223.4 73.8h1.0v1.0h-1.0zM185.3 47.9h1.0v1.0h-1.0z" fill="#efc53f" opacity="0.5"/><path d="M145.6 37.2h0.9v0.9h-0.9zM147.9 43.9h1.2v1.2h-1.2zM154.7 46.7h1.0v1.0h-1.0zM154.3 45.9h0.9v0.9h-0.9zM152.7 42.7h0.9v0.9h-0.9zM164.1 48.6h0.9v0.9h-0.9zM135.1 41.0h1.3v1.3h-1.3zM136.0 38.9h1.3v1.3h-1.3zM132.0 42.3h1.0v1.0h-1.0zM133.6 43.3h1.0v1.0h-1.0zM135.4 38.1h0.9v0.9h-0.9zM136.7 41.0h0.8v0.8h-0.8zM133.5 44.0h0.9v0.9h-0.9zM136.9 39.0h1.1v1.1h-1.1zM137.8 42.4h1.0v1.0h-1.0zM137.1 42.3h0.9v0.9h-0.9zM136.0 43.3h1.2v1.2h-1.2zM136.4 42.4h1.1v1.1h-1.1zM133.8 37.8h1.1v1.1h-1.1zM132.6 39.7h1.2v1.2h-1.2zM137.5 40.3h1.3v1.3h-1.3zM134.8 41.0h1.2v1.2h-1.2zM134.1 42.2h0.9v0.9h-0.9zM132.9 39.8h1.3v1.3h-1.3zM135.6 41.3h0.8v0.8h-0.8zM133.4 44.3h1.2v1.2h-1.2zM133.2 41.3h1.1v1.1h-1.1zM132.8 43.7h1.0v1.0h-1.0zM132.7 44.4h0.8v0.8h-0.8zM134.3 43.8h1.0v1.0h-1.0zM133.6 41.4h1.2v1.2h-1.2zM165.4 48.4h1.0v1.0h-1.0zM176.6 55.2h1.5v1.5h-1.5zM178.8 62.3h1.3v1.3h-1.3zM174.5 55.7h1.2v1.2h-1.2zM177.0 48.6h1.6v1.6h-1.6zM175.1 45.4h1.4v1.4h-1.4zM176.3 48.9h1.3v1.3h-1.3zM176.8 59.8h1.1v1.1h-1.1zM175.8 55.2h1.5v1.5h-1.5zM177.1 46.6h1.5v1.5h-1.5zM181.1 56.3h1.2v1.2h-1.2zM180.9 56.6h1.6v1.6h-1.6zM174.6 50.9h1.5v1.5h-1.5zM174.2 44.3h1.4v1.4h-1.4zM173.1 46.6h1.2v1.2h-1.2zM173.3 48.3h1.1v1.1h-1.1zM174.8 54.3h1.7v1.7h-1.7zM176.7 58.2h1.2v1.2h-1.2zM180.5 48.4h1.7v1.7h-1.7zM174.1 51.0h1.6v1.6h-1.6zM181.5 50.4h1.3v1.3h-1.3zM172.5 50.4h1.1v1.1h-1.1zM174.8 56.5h1.1v1.1h-1.1zM174.9 54.3h1.3v1.3h-1.3zM176.8 45.7h1.6v1.6h-1.6zM177.8 57.4h1.3v1.3h-1.3zM178.8 60.1h1.7v1.7h-1.7zM176.7 54.6h1.3v1.3h-1.3zM175.7 61.1h1.7v1.7h-1.7zM178.0 44.5h1.1v1.1h-1.1zM180.0 46.8h1.3v1.3h-1.3zM175.5 53.1h1.2v1.2h-1.2zM188.3 59.8h1.1v1.1h-1.1zM180.6 54.0h1.3v1.3h-1.3zM190.2 58.7h1.7v1.7h-1.7zM181.6 58.8h1.5v1.5h-1.5zM184.0 57.0h1.1v1.1h-1.1zM182.9 66.5h1.3v1.3h-1.3zM188.8 54.5h1.1v1.1h-1.1zM190.9 56.6h1.3v1.3h-1.3zM190.8 56.1h1.4v1.4h-1.4zM189.2 62.5h1.5v1.5h-1.5zM180.5 58.0h1.1v1.1h-1.1zM182.2 65.5h1.8v1.8h-1.8zM180.3 54.3h1.3v1.3h-1.3zM187.2 54.3h1.2v1.2h-1.2zM189.6 55.0h1.6v1.6h-1.6zM191.1 57.3h1.0v1.0h-1.0zM189.4 55.5h1.6v1.6h-1.6zM189.0 65.9h1.1v1.1h-1.1zM188.2 65.5h1.1v1.1h-1.1zM188.5 59.3h1.6v1.6h-1.6zM184.8 55.6h1.1v1.1h-1.1zM182.3 56.2h1.6v1.6h-1.6zM186.2 64.8h1.2v1.2h-1.2zM179.5 55.4h1.6v1.6h-1.6zM190.0 64.2h1.0v1.0h-1.0zM187.8 61.2h1.7v1.7h-1.7zM188.0 60.2h1.4v1.4h-1.4zM181.4 60.8h1.6v1.6h-1.6zM182.2 54.0h1.2v1.2h-1.2zM180.6 57.2h1.3v1.3h-1.3zM184.2 59.3h1.7v1.7h-1.7zM186.9 64.4h1.4v1.4h-1.4zM188.2 62.4h1.7v1.7h-1.7zM190.2 55.9h1.3v1.3h-1.3zM186.5 57.6h1.3v1.3h-1.3zM186.5 53.0h1.1v1.1h-1.1zM185.8 54.8h1.6v1.6h-1.6zM190.6 59.5h1.7v1.7h-1.7zM185.0 57.8h1.4v1.4h-1.4zM184.3 63.1h1.6v1.6h-1.6zM186.5 58.7h1.3v1.3h-1.3zM191.8 53.9h1.1v1.1h-1.1zM195.5 49.5h0.9v0.9h-0.9zM193.2 46.5h1.4v1.4h-1.4zM192.9 49.2h1.3v1.3h-1.3zM189.5 51.9h1.4v1.4h-1.4zM193.4 44.9h1.5v1.5h-1.5zM192.7 53.1h1.3v1.3h-1.3zM190.9 45.1h1.6v1.6h-1.6zM193.3 48.5h1.1v1.1h-1.1zM193.3 43.9h1.3v1.3h-1.3zM192.7 45.1h1.5v1.5h-1.5zM194.1 48.6h1.5v1.5h-1.5zM191.6 51.6h1.3v1.3h-1.3zM194.3 45.3h1.5v1.5h-1.5zM193.7 48.8h1.3v1.3h-1.3zM194.6 44.8h1.4v1.4h-1.4zM191.7 46.1h0.9v0.9h-0.9zM191.2 53.7h1.3v1.3h-1.3zM188.2 52.9h1.3v1.3h-1.3zM193.3 51.7h0.9v0.9h-0.9zM196.9 68.9h0.9v0.9h-0.9zM194.6 61.8h0.7v0.7h-0.7zM195.7 63.2h1.0v1.0h-1.0zM194.8 65.8h0.7v0.7h-0.7zM196.0 67.6h0.7v0.7h-0.7zM194.4 62.8h0.9v0.9h-0.9zM194.7 61.5h1.0v1.0h-1.0zM195.5 65.7h1.0v1.0h-1.0zM213.2 64.7h0.9v0.9h-0.9zM219.3 73.2h1.0v1.0h-1.0zM220.1 72.0h0.8v0.8h-0.8zM195.3 96.6h0.9v0.9h-0.9zM189.3 90.9h0.9v0.9h-0.9zM187.8 90.2h0.9v0.9h-0.9zM189.9 87.7h0.8v0.8h-0.8zM185.3 88.0h0.8v0.8h-0.8zM186.0 43.7h1.2v1.2h-1.2zM183.5 45.0h1.3v1.3h-1.3zM183.8 48.2h1.1v1.1h-1.1z" fill="#efc53f" opacity="0.6"/><path d="M10.5 71.2h1.3v1.3h-1.3zM10.4 72.2h1.2v1.2h-1.2zM28.4 73.5h0.9v0.9h-0.9zM24.9 73.9h1.0v1.0h-1.0zM25.0 73.2h0.9v0.9h-0.9zM30.6 74.3h0.9v0.9h-0.9zM46.3 74.7h1.4v1.4h-1.4zM47.1 75.2h1.3v1.3h-1.3zM41.0 73.3h1.0v1.0h-1.0zM47.3 75.6h0.8v0.8h-0.8zM146.6 36.9h0.9v0.9h-0.9zM141.1 38.6h1.3v1.3h-1.3zM144.2 41.0h1.2v1.2h-1.2zM151.2 42.1h0.9v0.9h-0.9zM149.5 43.0h1.2v1.2h-1.2zM148.6 40.5h1.3v1.3h-1.3zM147.5 39.5h1.0v1.0h-1.0zM156.6 44.0h1.2v1.2h-1.2zM157.9 44.3h1.1v1.1h-1.1zM160.0 45.5h1.2v1.2h-1.2zM159.7 54.0h0.9v0.9h-0.9zM163.0 45.9h1.2v1.2h-1.2zM158.7 51.0h1.2v1.2h-1.2zM162.4 48.2h0.9v0.9h-0.9zM160.3 54.6h0.6v0.6h-0.6zM135.2 41.6h1.2v1.2h-1.2zM134.1 37.9h1.3v1.3h-1.3zM134.2 40.1h1.2v1.2h-1.2zM133.3 38.9h1.3v1.3h-1.3zM137.8 40.8h1.1v1.1h-1.1zM132.6 38.5h1.3v1.3h-1.3zM135.0 44.0h1.3v1.3h-1.3zM135.4 40.5h0.8v0.8h-0.8zM136.0 38.2h1.3v1.3h-1.3zM134.1 43.2h1.4v1.4h-1.4zM135.5 40.2h1.1v1.1h-1.1zM135.9 41.1h1.0v1.0h-1.0zM138.1 42.1h0.9v0.9h-0.9zM133.9 40.0h1.2v1.2h-1.2zM135.1 38.6h1.2v1.2h-1.2zM135.0 42.9h1.4v1.4h-1.4zM131.7 40.7h1.0v1.0h-1.0zM134.1 44.6h1.1v1.1h-1.1zM167.8 45.2h0.7v0.7h-0.7zM172.0 44.7h0.7v0.7h-0.7zM163.9 47.1h0.8v0.8h-0.8zM176.2 42.8h1.4v1.4h-1.4zM178.2 60.7h1.2v1.2h-1.2zM176.5 60.2h1.6v1.6h-1.6zM175.8 46.2h1.5v1.5h-1.5zM177.3 55.2h1.3v1.3h-1.3zM177.5 42.3h1.7v1.7h-1.7zM173.2 53.8h1.7v1.7h-1.7zM177.6 54.8h1.4v1.4h-1.4zM175.8 51.9h1.5v1.5h-1.5zM177.0 45.8h1.3v1.3h-1.3zM180.7 50.5h1.8v1.8h-1.8zM180.4 51.6h1.2v1.2h-1.2zM177.0 43.9h1.8v1.8h-1.8zM176.1 60.8h1.4v1.4h-1.4zM173.0 46.4h1.7v1.7h-1.7zM172.8 52.3h1.7v1.7h-1.7zM178.3 51.5h1.4v1.4h-1.4zM184.6 51.8h1.8v1.8h-1.8zM181.8 58.5h1.2v1.2h-1.2zM187.8 61.6h1.3v1.3h-1.3zM190.4 56.2h1.8v1.8h-1.8zM179.6 57.1h1.3v1.3h-1.3zM183.7 61.0h1.2v1.2h-1.2zM180.8 57.8h1.4v1.4h-1.4zM187.9 65.4h1.3v1.3h-1.3zM187.4 52.6h1.1v1.1h-1.1zM185.0 52.1h1.1v1.1h-1.1zM188.5 64.4h1.1v1.1h-1.1zM183.8 58.3h1.3v1.3h-1.3zM183.2 61.2h1.2v1.2h-1.2zM181.5 54.7h1.6v1.6h-1.6zM183.1 66.5h1.6v1.6h-1.6zM185.1 62.6h1.7v1.7h-1.7zM187.1 62.5h1.6v1.6h-1.6zM180.7 59.4h1.2v1.2h-1.2zM187.5 54.0h1.0v1.0h-1.0zM184.9 60.5h1.4v1.4h-1.4zM188.9 60.4h1.2v1.2h-1.2zM190.1 58.7h1.0v1.0h-1.0zM183.5 55.7h1.3v1.3h-1.3zM181.6 55.3h1.1v1.1h-1.1zM182.5 54.6h1.7v1.7h-1.7zM190.2 59.6h1.7v1.7h-1.7zM188.7 58.6h1.7v1.7h-1.7zM186.2 59.4h1.4v1.4h-1.4zM187.7 63.4h1.7v1.7h-1.7zM191.3 62.9h1.1v1.1h-1.1zM189.1 51.9h1.3v1.3h-1.3zM190.2 48.7h1.4v1.4h-1.4zM193.2 48.1h1.3v1.3h-1.3zM192.7 53.2h1.1v1.1h-1.1zM194.2 44.2h1.1v1.1h-1.1zM196.1 49.2h1.4v1.4h-1.4zM194.8 47.3h1.3v1.3h-1.3zM190.6 53.0h1.5v1.5h-1.5zM196.5 67.5h1.0v1.0h-1.0zM195.0 64.1h1.0v1.0h-1.0zM181.8 74.1h0.7v0.7h-0.7zM181.7 72.2h1.0v1.0h-1.0zM213.9 63.5h0.7v0.7h-0.7zM213.6 57.2h1.0v1.0h-1.0zM220.4 74.7h0.7v0.7h-0.7zM221.9 73.8h0.9v0.9h-0.9zM221.0 72.5h1.0v1.0h-1.0zM192.1 97.1h0.8v0.8h-0.8zM196.8 97.3h1.0v1.0h-1.0zM200.2 97.6h0.8v0.8h-0.8zM195.7 96.7h0.9v0.9h-0.9zM198.7 96.7h0.9v0.9h-0.9zM212.7 91.6h1.0v1.0h-1.0zM212.0 90.0h1.1v1.1h-1.1zM211.7 89.5h0.9v0.9h-0.9zM188.0 88.1h0.9v0.9h-0.9zM187.4 86.0h0.9v0.9h-0.9zM184.2 88.0h0.8v0.8h-0.8z" fill="#efc53f" opacity="0.7"/><path d="M12.3 63.5h0.8v0.8h-0.8zM7.3 65.1h1.2v1.2h-1.2zM11.0 67.3h1.0v1.0h-1.0zM21.3 66.0h1.4v1.4h-1.4zM10.3 66.8h0.8v0.8h-0.8zM10.2 64.3h0.8v0.8h-0.8zM6.6 65.8h1.1v1.1h-1.1zM15.5 69.7h1.4v1.4h-1.4zM17.7 66.1h1.3v1.3h-1.3zM14.3 68.1h1.1v1.1h-1.1zM9.0 65.1h1.2v1.2h-1.2zM9.1 63.9h0.8v0.8h-0.8zM7.6 64.7h0.9v0.9h-0.9zM18.3 66.0h0.9v0.9h-0.9zM19.9 64.1h1.0v1.0h-1.0zM18.1 65.4h1.1v1.1h-1.1zM18.3 63.7h1.4v1.4h-1.4zM13.2 65.7h1.1v1.1h-1.1zM18.5 63.2h0.9v0.9h-0.9zM13.5 66.4h1.0v1.0h-1.0zM19.5 66.2h1.3v1.3h-1.3zM15.5 64.8h1.4v1.4h-1.4zM14.0 67.7h1.0v1.0h-1.0zM7.1 63.8h0.8v0.8h-0.8zM16.7 66.4h1.0v1.0h-1.0zM8.8 64.7h0.8v0.8h-0.8zM10.3 66.6h1.2v1.2h-1.2zM20.7 67.3h1.0v1.0h-1.0zM20.0 65.8h1.4v1.4h-1.4zM6.8 66.6h0.8v0.8h-0.8zM21.5 66.0h0.8v0.8h-0.8zM8.4 64.6h1.0v1.0h-1.0zM11.9 66.7h1.2v1.2h-1.2zM18.9 64.4h1.2v1.2h-1.2zM16.3 67.5h1.4v1.4h-1.4zM8.3 65.2h1.2v1.2h-1.2zM20.9 66.8h1.3v1.3h-1.3zM6.3 66.7h0.8v0.8h-0.8zM20.2 67.4h1.3v1.3h-1.3zM9.1 66.1h1.4v1.4h-1.4zM20.4 66.4h1.1v1.1h-1.1zM19.0 67.9h1.1v1.1h-1.1zM12.5 66.7h1.2v1.2h-1.2zM10.7 65.2h0.8v0.8h-0.8zM18.2 64.5h1.3v1.3h-1.3zM17.5 64.8h0.9v0.9h-0.9zM7.4 65.6h1.3v1.3h-1.3zM7.0 66.5h1.4v1.4h-1.4zM22.1 66.1h1.0v1.0h-1.0zM35.6 67.0h1.2v1.2h-1.2zM37.9 67.6h0.8v0.8h-0.8zM35.6 67.9h1.4v1.4h-1.4zM26.9 65.8h1.0v1.0h-1.0zM39.1 65.9h1.3v1.3h-1.3zM25.0 65.9h1.1v1.1h-1.1zM33.7 65.3h1.3v1.3h-1.3zM27.4 68.8h1.0v1.0h-1.0zM24.5 66.4h1.3v1.3h-1.3zM21.9 65.6h1.5v1.5h-1.5zM27.6 65.0h1.4v1.4h-1.4zM35.7 66.3h0.9v0.9h-0.9zM29.8 66.2h1.0v1.0h-1.0zM26.8 67.3h0.9v0.9h-0.9zM30.2 69.0h0.9v0.9h-0.9zM31.9 70.7h1.2v1.2h-1.2zM24.5 66.7h1.1v1.1h-1.1zM38.0 68.0h1.4v1.4h-1.4zM36.7 67.8h1.3v1.3h-1.3zM32.5 67.9h1.1v1.1h-1.1zM31.9 67.5h1.1v1.1h-1.1zM25.0 64.8h1.0v1.0h-1.0zM37.2 67.3h1.3v1.3h-1.3zM35.6 67.6h1.2v1.2h-1.2zM25.1 66.7h1.1v1.1h-1.1zM23.9 67.8h0.9v0.9h-0.9zM23.0 66.3h1.0v1.0h-1.0zM21.8 65.0h1.5v1.5h-1.5zM37.7 68.0h1.2v1.2h-1.2zM22.2 67.6h1.0v1.0h-1.0zM39.1 65.8h1.2v1.2h-1.2zM22.1 66.2h1.4v1.4h-1.4zM22.7 69.6h1.0v1.0h-1.0zM32.8 67.8h1.0v1.0h-1.0zM28.1 67.6h1.1v1.1h-1.1zM29.5 64.8h1.1v1.1h-1.1zM29.2 65.8h0.9v0.9h-0.9zM38.1 66.6h1.0v1.0h-1.0zM22.5 68.3h1.0v1.0h-1.0zM30.0 69.2h0.9v0.9h-0.9zM33.3 68.5h1.4v1.4h-1.4zM26.7 66.5h1.3v1.3h-1.3zM49.5 67.9h0.8v0.8h-0.8zM60.5 71.7h1.0v1.0h-1.0zM50.0 68.1h1.1v1.1h-1.1zM60.2 68.3h1.4v1.4h-1.4zM48.9 68.9h1.3v1.3h-1.3zM46.7 70.6h1.4v1.4h-1.4zM61.5 68.5h1.1v1.1h-1.1zM59.4 69.3h1.1v1.1h-1.1zM45.6 72.1h0.9v0.9h-0.9zM45.6 65.0h1.2v1.2h-1.2zM48.6 68.8h1.2v1.2h-1.2zM42.2 65.2h0.8v0.8h-0.8zM57.2 67.2h1.0v1.0h-1.0zM59.3 69.3h1.1v1.1h-1.1zM42.3 68.9h1.0v1.0h-1.0zM53.0 70.6h1.0v1.0h-1.0zM56.5 71.7h0.8v0.8h-0.8zM60.6 67.7h1.4v1.4h-1.4zM49.2 70.1h0.8v0.8h-0.8zM40.7 67.0h1.3v1.3h-1.3zM44.3 67.4h1.0v1.0h-1.0zM62.2 69.0h1.4v1.4h-1.4zM41.2 68.1h1.1v1.1h-1.1zM45.0 69.9h0.8v0.8h-0.8zM42.4 67.7h1.4v1.4h-1.4zM52.2 68.7h0.9v0.9h-0.9zM47.8 70.0h1.4v1.4h-1.4zM53.5 68.4h0.8v0.8h-0.8zM60.8 66.9h1.4v1.4h-1.4zM44.3 69.3h1.0v1.0h-1.0zM58.9 66.4h1.4v1.4h-1.4zM63.5 67.9h1.0v1.0h-1.0zM46.6 69.2h1.0v1.0h-1.0zM47.9 68.8h1.2v1.2h-1.2zM43.8 66.1h1.4v1.4h-1.4zM52.7 68.0h1.2v1.2h-1.2zM50.9 67.5h0.8v0.8h-0.8zM41.1 68.3h1.3v1.3h-1.3zM53.9 68.7h1.0v1.0h-1.0zM54.2 67.6h1.3v1.3h-1.3zM53.0 67.2h0.8v0.8h-0.8zM62.2 68.4h1.4v1.4h-1.4zM39.9 68.4h1.5v1.5h-1.5zM52.3 69.8h1.5v1.5h-1.5zM46.9 67.7h0.8v0.8h-0.8zM62.2 68.0h1.0v1.0h-1.0zM47.9 65.8h1.0v1.0h-1.0zM51.3 69.4h1.4v1.4h-1.4zM47.8 69.1h1.1v1.1h-1.1zM60.8 67.1h1.4v1.4h-1.4zM62.4 72.5h1.3v1.3h-1.3zM56.9 68.8h1.3v1.3h-1.3zM45.7 68.8h0.9v0.9h-0.9zM59.9 70.2h1.5v1.5h-1.5zM46.6 67.1h0.9v0.9h-0.9zM51.6 70.0h1.0v1.0h-1.0zM57.0 70.8h1.3v1.3h-1.3zM55.8 66.6h1.0v1.0h-1.0zM45.0 67.3h0.9v0.9h-0.9zM53.3 69.0h1.2v1.2h-1.2zM17.7 71.5h1.3v1.3h-1.3zM14.1 70.5h0.9v0.9h-0.9zM14.3 71.1h1.3v1.3h-1.3zM8.6 69.8h0.9v0.9h-0.9zM7.5 70.1h1.2v1.2h-1.2zM8.9 69.2h1.4v1.4h-1.4zM15.7 72.7h1.2v1.2h-1.2zM12.6 70.9h1.3v1.3h-1.3zM8.0 68.6h0.9v0.9h-0.9zM12.2 70.8h1.1v1.1h-1.1zM25.9 73.1h1.4v1.4h-1.4zM23.9 73.1h0.8v0.8h-0.8zM28.9 74.0h1.0v1.0h-1.0zM24.4 73.6h1.2v1.2h-1.2zM31.6 73.1h1.2v1.2h-1.2zM30.9 71.7h1.2v1.2h-1.2zM24.7 72.9h1.4v1.4h-1.4zM32.5 75.1h1.2v1.2h-1.2zM28.5 73.9h1.1v1.1h-1.1zM34.7 73.7h1.1v1.1h-1.1zM36.5 73.3h1.4v1.4h-1.4zM42.1 76.1h1.2v1.2h-1.2zM39.5 74.8h1.0v1.0h-1.0zM45.6 76.6h0.9v0.9h-0.9zM43.9 74.7h1.0v1.0h-1.0zM45.1 76.7h1.3v1.3h-1.3zM40.6 74.1h1.4v1.4h-1.4zM38.7 74.5h0.9v0.9h-0.9zM41.0 74.2h1.1v1.1h-1.1zM41.1 74.3h1.3v1.3h-1.3zM57.9 74.5h1.2v1.2h-1.2zM55.0 73.6h0.9v0.9h-0.9zM48.7 74.5h1.3v1.3h-1.3zM53.9 73.8h1.1v1.1h-1.1zM54.7 73.4h1.4v1.4h-1.4zM52.9 72.8h1.3v1.3h-1.3zM56.1 73.0h1.0v1.0h-1.0zM57.5 73.7h1.0v1.0h-1.0zM51.9 73.1h1.1v1.1h-1.1zM56.8 73.5h1.0v1.0h-1.0zM51.0 75.4h0.9v0.9h-0.9zM53.0 73.6h1.0v1.0h-1.0zM50.0 74.7h1.4v1.4h-1.4zM52.3 73.3h1.0v1.0h-1.0zM51.3 75.0h1.3v1.3h-1.3zM54.1 72.8h1.4v1.4h-1.4zM56.3 73.8h0.9v0.9h-0.9zM54.2 73.2h1.1v1.1h-1.1zM54.1 74.4h0.8v0.8h-0.8zM57.0 72.2h1.2v1.2h-1.2zM54.4 75.0h1.0v1.0h-1.0zM56.4 75.4h1.3v1.3h-1.3zM53.2 74.3h1.4v1.4h-1.4zM54.0 75.4h1.2v1.2h-1.2zM53.4 73.4h0.8v0.8h-0.8zM52.9 73.8h0.8v0.8h-0.8zM49.0 74.0h1.4v1.4h-1.4zM53.6 74.4h1.2v1.2h-1.2zM55.4 72.3h1.2v1.2h-1.2zM54.6 71.8h1.2v1.2h-1.2zM53.9 75.1h1.0v1.0h-1.0zM51.5 73.7h1.1v1.1h-1.1zM57.4 72.6h1.3v1.3h-1.3zM59.3 75.6h1.1v1.1h-1.1zM56.0 76.9h1.3v1.3h-1.3zM55.3 72.5h1.0v1.0h-1.0zM55.8 73.5h1.3v1.3h-1.3zM54.0 71.8h1.0v1.0h-1.0zM52.6 71.9h1.2v1.2h-1.2zM56.5 75.8h0.8v0.8h-0.8zM54.7 75.4h1.3v1.3h-1.3zM56.7 75.4h0.8v0.8h-0.8zM59.3 73.8h1.4v1.4h-1.4zM54.9 72.3h0.9v0.9h-0.9zM60.2 69.8h1.0v1.0h-1.0zM60.6 72.7h1.2v1.2h-1.2zM58.5 70.3h0.9v0.9h-0.9zM60.9 72.1h1.2v1.2h-1.2zM64.1 72.8h1.0v1.0h-1.0zM62.2 72.7h1.1v1.1h-1.1zM57.7 72.7h1.0v1.0h-1.0zM57.3 71.4h1.0v1.0h-1.0zM56.6 72.0h1.0v1.0h-1.0zM63.8 72.4h1.2v1.2h-1.2zM60.0 73.7h1.1v1.1h-1.1zM59.5 71.8h1.4v1.4h-1.4zM59.8 73.5h0.8v0.8h-0.8zM56.5 72.1h0.9v0.9h-0.9zM56.7 72.8h1.0v1.0h-1.0zM144.5 36.2h1.2v1.2h-1.2zM145.1 34.8h0.8v0.8h-0.8zM145.5 40.9h0.8v0.8h-0.8zM147.3 45.9h1.0v1.0h-1.0zM155.3 48.9h1.1v1.1h-1.1zM156.2 46.1h1.1v1.1h-1.1zM154.6 48.5h1.2v1.2h-1.2zM156.4 45.1h1.1v1.1h-1.1zM160.8 49.1h1.0v1.0h-1.0zM159.9 51.8h0.9v0.9h-0.9zM164.1 45.2h0.9v0.9h-0.9zM159.2 45.1h1.1v1.1h-1.1zM159.4 54.6h0.8v0.8h-0.8zM159.8 54.8h0.8v0.8h-0.8zM133.7 41.5h0.9v0.9h-0.9zM135.8 42.1h1.2v1.2h-1.2zM134.9 42.2h1.3v1.3h-1.3zM133.4 40.1h1.3v1.3h-1.3zM135.7 38.6h1.3v1.3h-1.3zM136.3 43.0h0.9v0.9h-0.9zM135.2 42.0h1.3v1.3h-1.3zM135.5 43.2h1.2v1.2h-1.2zM134.5 41.5h0.9v0.9h-0.9zM135.0 41.2h1.2v1.2h-1.2zM136.1 41.4h0.9v0.9h-0.9zM131.5 42.7h1.1v1.1h-1.1zM132.1 44.4h0.8v0.8h-0.8zM132.3 43.9h1.0v1.0h-1.0zM173.6 46.6h0.8v0.8h-0.8zM172.7 43.8h0.9v0.9h-0.9zM165.9 47.8h0.6v0.6h-0.6zM166.0 45.5h1.0v1.0h-1.0zM172.2 44.6h0.9v0.9h-0.9zM171.3 45.1h0.9v0.9h-0.9zM174.5 44.0h0.6v0.6h-0.6zM164.6 48.0h0.8v0.8h-0.8zM169.5 45.9h0.7v0.7h-0.7zM174.8 45.0h0.7v0.7h-0.7zM169.8 45.5h0.7v0.7h-0.7zM169.4 45.5h0.6v0.6h-0.6zM212.3 59.5h0.9v0.9h-0.9zM212.9 58.5h0.9v0.9h-0.9zM222.3 75.3h0.8v0.8h-0.8zM220.7 74.6h0.7v0.7h-0.7zM194.9 96.7h1.0v1.0h-1.0zM212.7 89.8h0.7v0.7h-0.7zM244.3 94.8h1.0v1.0h-1.0z" fill="#efc53f" opacity="0.8"/><path d="M21.3 66.3h1.0v1.0h-1.0zM6.8 64.6h0.9v0.9h-0.9zM6.2 68.7h1.5v1.5h-1.5zM5.7 67.7h1.4v1.4h-1.4zM8.3 65.7h1.4v1.4h-1.4zM12.3 67.2h1.3v1.3h-1.3zM15.9 65.1h1.2v1.2h-1.2zM8.9 68.3h1.3v1.3h-1.3zM5.8 63.2h1.2v1.2h-1.2zM15.2 67.2h0.8v0.8h-0.8zM13.6 67.6h1.0v1.0h-1.0zM10.2 64.4h1.5v1.5h-1.5zM7.6 66.9h1.2v1.2h-1.2zM10.4 65.5h1.4v1.4h-1.4zM21.0 64.9h1.1v1.1h-1.1zM20.0 67.7h1.3v1.3h-1.3zM14.1 68.2h1.5v1.5h-1.5zM7.9 65.9h0.9v0.9h-0.9zM5.4 66.1h1.3v1.3h-1.3zM13.2 68.1h1.3v1.3h-1.3zM9.6 66.5h1.1v1.1h-1.1zM20.7 66.8h1.4v1.4h-1.4zM15.6 66.2h1.3v1.3h-1.3zM10.7 65.4h1.2v1.2h-1.2zM7.7 68.1h1.5v1.5h-1.5zM20.1 64.8h1.0v1.0h-1.0zM5.7 69.3h1.0v1.0h-1.0zM14.3 66.0h1.1v1.1h-1.1zM11.7 66.2h1.4v1.4h-1.4zM11.0 66.2h1.3v1.3h-1.3zM12.3 66.3h0.8v0.8h-0.8zM11.7 65.4h1.1v1.1h-1.1zM11.5 66.5h1.1v1.1h-1.1zM19.1 63.3h1.3v1.3h-1.3zM7.0 64.8h1.2v1.2h-1.2zM17.9 66.3h1.3v1.3h-1.3zM9.9 66.2h0.8v0.8h-0.8zM22.0 66.6h1.3v1.3h-1.3zM35.8 67.2h1.4v1.4h-1.4zM21.7 66.3h1.1v1.1h-1.1zM37.1 66.4h1.4v1.4h-1.4zM29.0 66.1h1.3v1.3h-1.3zM24.4 67.4h0.9v0.9h-0.9zM25.1 67.4h1.3v1.3h-1.3zM38.7 68.1h1.4v1.4h-1.4zM37.9 64.8h1.4v1.4h-1.4zM30.3 65.6h0.9v0.9h-0.9zM28.3 69.1h1.4v1.4h-1.4zM22.2 66.0h1.3v1.3h-1.3zM30.7 65.3h0.9v0.9h-0.9zM24.1 67.3h1.3v1.3h-1.3zM31.3 67.4h0.9v0.9h-0.9zM31.3 68.2h1.2v1.2h-1.2zM39.3 66.1h0.9v0.9h-0.9zM26.6 65.3h1.1v1.1h-1.1zM28.8 66.1h0.9v0.9h-0.9zM33.3 65.7h1.4v1.4h-1.4zM35.6 68.8h1.2v1.2h-1.2zM37.2 68.0h0.9v0.9h-0.9zM34.9 67.0h1.3v1.3h-1.3zM35.5 67.6h0.9v0.9h-0.9zM37.9 64.3h1.0v1.0h-1.0zM26.3 64.6h1.5v1.5h-1.5zM29.0 67.8h1.0v1.0h-1.0zM29.9 67.6h0.8v0.8h-0.8zM30.7 66.5h1.1v1.1h-1.1zM33.4 67.9h1.4v1.4h-1.4zM36.9 67.2h1.2v1.2h-1.2zM38.8 70.5h1.1v1.1h-1.1zM38.4 69.3h1.2v1.2h-1.2zM29.5 68.1h1.3v1.3h-1.3zM26.9 65.3h1.3v1.3h-1.3zM26.5 67.7h1.4v1.4h-1.4zM31.3 67.1h1.1v1.1h-1.1zM25.2 68.4h1.3v1.3h-1.3zM24.9 68.4h1.1v1.1h-1.1zM31.1 67.2h1.5v1.5h-1.5zM26.8 64.1h1.1v1.1h-1.1zM26.0 66.9h0.9v0.9h-0.9zM29.1 68.0h1.2v1.2h-1.2zM33.1 67.0h1.2v1.2h-1.2zM27.3 64.2h1.2v1.2h-1.2zM56.7 69.7h1.2v1.2h-1.2zM52.7 71.3h0.9v0.9h-0.9zM41.4 67.2h1.4v1.4h-1.4zM52.6 68.0h0.9v0.9h-0.9zM58.3 70.2h1.1v1.1h-1.1zM57.5 70.9h0.9v0.9h-0.9zM60.9 66.9h1.3v1.3h-1.3zM51.8 66.5h1.5v1.5h-1.5zM43.1 68.2h1.4v1.4h-1.4zM44.8 67.8h1.2v1.2h-1.2zM45.7 68.8h0.9v0.9h-0.9zM55.0 68.6h1.3v1.3h-1.3zM63.5 65.8h1.2v1.2h-1.2zM55.8 70.8h0.8v0.8h-0.8zM42.5 68.0h1.0v1.0h-1.0zM60.5 69.9h1.3v1.3h-1.3zM54.1 68.9h1.3v1.3h-1.3zM45.5 67.1h1.3v1.3h-1.3zM42.7 67.7h1.4v1.4h-1.4zM55.2 69.0h0.8v0.8h-0.8zM50.7 66.8h1.5v1.5h-1.5zM57.6 68.1h0.9v0.9h-0.9zM40.5 68.0h1.3v1.3h-1.3zM58.3 71.0h1.1v1.1h-1.1zM56.7 68.4h1.2v1.2h-1.2zM42.1 69.9h1.4v1.4h-1.4zM60.4 68.1h1.4v1.4h-1.4zM61.6 68.3h1.3v1.3h-1.3zM59.2 67.1h1.3v1.3h-1.3zM50.2 67.1h1.5v1.5h-1.5zM40.8 69.8h1.5v1.5h-1.5zM40.5 66.4h0.9v0.9h-0.9zM43.0 68.1h1.1v1.1h-1.1zM50.9 69.6h0.8v0.8h-0.8zM41.1 68.5h1.1v1.1h-1.1zM41.4 69.5h1.0v1.0h-1.0zM60.9 70.7h1.2v1.2h-1.2zM55.9 68.4h1.2v1.2h-1.2zM53.3 69.6h0.9v0.9h-0.9zM55.7 68.2h1.5v1.5h-1.5zM50.8 69.1h1.0v1.0h-1.0zM52.8 70.0h1.2v1.2h-1.2zM54.6 68.2h1.3v1.3h-1.3zM46.8 70.7h1.0v1.0h-1.0zM56.9 69.4h1.4v1.4h-1.4zM55.4 69.7h1.3v1.3h-1.3zM40.9 70.4h0.8v0.8h-0.8zM42.6 68.7h0.9v0.9h-0.9zM59.6 69.9h0.8v0.8h-0.8zM45.7 66.9h1.1v1.1h-1.1zM49.1 69.1h1.3v1.3h-1.3zM49.7 70.4h0.8v0.8h-0.8zM52.4 65.3h1.1v1.1h-1.1zM44.6 66.7h1.4v1.4h-1.4zM40.6 70.8h1.2v1.2h-1.2zM47.9 69.9h0.9v0.9h-0.9zM41.6 67.2h1.2v1.2h-1.2zM58.5 66.7h1.1v1.1h-1.1zM54.6 69.2h0.8v0.8h-0.8zM49.7 66.4h1.2v1.2h-1.2zM18.6 74.1h1.2v1.2h-1.2zM9.0 69.5h0.9v0.9h-0.9zM14.3 70.7h0.9v0.9h-0.9zM13.5 71.1h1.4v1.4h-1.4zM7.7 69.7h0.9v0.9h-0.9zM15.2 70.5h1.0v1.0h-1.0zM9.8 68.1h1.3v1.3h-1.3zM16.4 71.2h1.4v1.4h-1.4zM11.9 71.1h1.3v1.3h-1.3zM25.9 73.1h0.9v0.9h-0.9zM25.2 75.3h1.4v1.4h-1.4zM29.5 74.5h0.9v0.9h-0.9zM29.0 73.2h1.3v1.3h-1.3zM23.3 73.4h1.0v1.0h-1.0zM21.4 71.1h1.1v1.1h-1.1zM21.5 74.5h0.8v0.8h-0.8zM32.6 74.8h1.2v1.2h-1.2zM30.2 74.7h0.8v0.8h-0.8zM20.4 72.2h1.0v1.0h-1.0zM28.7 72.1h1.1v1.1h-1.1zM23.1 70.0h1.1v1.1h-1.1zM46.9 74.9h1.3v1.3h-1.3zM43.3 74.1h1.0v1.0h-1.0zM39.6 74.4h1.4v1.4h-1.4zM43.0 74.0h1.0v1.0h-1.0zM43.1 75.5h0.8v0.8h-0.8zM41.1 76.4h1.3v1.3h-1.3zM39.6 73.6h1.3v1.3h-1.3zM41.3 75.3h1.3v1.3h-1.3zM54.9 73.1h0.9v0.9h-0.9zM55.1 75.8h1.0v1.0h-1.0zM49.3 72.8h1.2v1.2h-1.2zM54.6 74.4h1.1v1.1h-1.1zM58.2 72.7h1.0v1.0h-1.0zM49.7 74.3h0.9v0.9h-0.9zM58.4 75.4h0.9v0.9h-0.9zM57.8 76.1h1.1v1.1h-1.1zM56.7 75.3h0.9v0.9h-0.9zM49.0 73.5h0.8v0.8h-0.8zM56.4 72.5h1.1v1.1h-1.1zM53.3 73.8h1.4v1.4h-1.4zM52.0 72.5h1.0v1.0h-1.0zM49.4 72.8h1.3v1.3h-1.3zM57.1 72.3h1.5v1.5h-1.5zM56.1 76.2h1.4v1.4h-1.4zM53.6 76.9h1.2v1.2h-1.2zM53.5 76.7h1.2v1.2h-1.2zM52.6 76.2h1.2v1.2h-1.2zM55.5 74.7h1.2v1.2h-1.2zM51.0 75.9h0.9v0.9h-0.9zM55.9 75.5h0.9v0.9h-0.9zM52.6 73.7h1.1v1.1h-1.1zM50.2 72.4h1.1v1.1h-1.1zM50.7 73.8h1.4v1.4h-1.4zM56.4 77.3h1.3v1.3h-1.3zM54.0 72.5h1.4v1.4h-1.4zM49.7 75.4h0.8v0.8h-0.8zM50.5 72.8h0.8v0.8h-0.8zM58.5 74.9h0.9v0.9h-0.9zM56.6 72.2h1.1v1.1h-1.1zM57.5 72.5h1.2v1.2h-1.2zM58.8 73.1h1.4v1.4h-1.4zM63.3 70.7h1.1v1.1h-1.1zM60.4 72.3h0.9v0.9h-0.9zM61.6 71.1h0.8v0.8h-0.8zM63.1 72.7h1.3v1.3h-1.3zM63.1 71.2h1.0v1.0h-1.0zM58.5 72.0h1.4v1.4h-1.4zM58.9 70.8h1.1v1.1h-1.1zM60.8 71.9h1.0v1.0h-1.0zM63.3 71.9h0.8v0.8h-0.8zM57.8 72.1h1.1v1.1h-1.1zM64.3 72.9h0.9v0.9h-0.9zM57.0 71.7h1.4v1.4h-1.4zM62.3 70.2h1.4v1.4h-1.4zM58.7 70.3h0.9v0.9h-0.9zM58.3 71.3h1.4v1.4h-1.4zM59.9 69.7h1.3v1.3h-1.3zM58.5 71.8h0.8v0.8h-0.8zM64.0 72.1h1.5v1.5h-1.5zM59.8 73.4h1.1v1.1h-1.1zM64.2 70.7h1.1v1.1h-1.1zM62.7 72.5h1.5v1.5h-1.5zM62.9 72.5h0.8v0.8h-0.8zM57.0 71.6h1.3v1.3h-1.3zM59.0 72.3h1.3v1.3h-1.3zM58.8 68.2h1.1v1.1h-1.1zM59.6 67.9h1.1v1.1h-1.1zM60.3 67.8h1.1v1.1h-1.1zM61.1 67.8h1.1v1.1h-1.1zM61.9 67.6h1.1v1.1h-1.1zM62.5 67.0h1.1v1.1h-1.1zM27.4 67.5h1.1v1.1h-1.1zM28.2 67.5h1.1v1.1h-1.1zM29.0 67.7h1.1v1.1h-1.1zM29.6 68.2h1.1v1.1h-1.1zM30.0 68.9h1.1v1.1h-1.1zM30.6 69.5h1.1v1.1h-1.1zM31.2 70.0h1.1v1.1h-1.1zM31.9 70.4h1.1v1.1h-1.1zM22.8 66.3h1.1v1.1h-1.1zM22.1 66.7h1.1v1.1h-1.1zM21.5 67.2h1.1v1.1h-1.1zM21.2 68.0h1.1v1.1h-1.1zM21.0 68.7h1.1v1.1h-1.1zM21.1 69.5h1.1v1.1h-1.1zM20.9 70.3h1.1v1.1h-1.1zM8.5 63.6h1.1v1.1h-1.1zM7.7 63.5h1.1v1.1h-1.1zM7.0 63.7h1.1v1.1h-1.1zM6.2 63.8h1.1v1.1h-1.1zM5.4 64.0h1.1v1.1h-1.1zM43.2 69.1h1.1v1.1h-1.1zM42.6 69.6h1.1v1.1h-1.1zM42.1 70.2h1.1v1.1h-1.1zM42.0 71.0h1.1v1.1h-1.1zM42.0 71.8h1.1v1.1h-1.1zM41.8 72.6h1.1v1.1h-1.1zM41.7 73.4h1.1v1.1h-1.1zM53.9 69.3h1.1v1.1h-1.1zM54.7 69.3h1.1v1.1h-1.1zM55.4 69.7h1.1v1.1h-1.1zM56.1 70.2h1.1v1.1h-1.1zM56.7 70.6h1.1v1.1h-1.1zM57.5 70.8h1.1v1.1h-1.1zM58.3 70.9h1.1v1.1h-1.1zM59.0 71.2h1.1v1.1h-1.1zM32.1 68.1h1.1v1.1h-1.1zM32.8 67.6h1.1v1.1h-1.1zM33.4 67.2h1.1v1.1h-1.1zM33.8 66.5h1.1v1.1h-1.1zM34.1 65.7h1.1v1.1h-1.1zM26.3 67.7h1.1v1.1h-1.1zM27.1 67.7h1.1v1.1h-1.1zM27.9 67.5h1.1v1.1h-1.1zM28.7 67.6h1.1v1.1h-1.1zM29.4 68.0h1.1v1.1h-1.1zM30.0 68.5h1.1v1.1h-1.1zM61.0 67.6h1.1v1.1h-1.1zM60.4 67.0h1.1v1.1h-1.1zM60.1 66.3h1.1v1.1h-1.1zM59.5 65.8h1.1v1.1h-1.1zM58.8 65.3h1.1v1.1h-1.1zM58.2 64.9h1.1v1.1h-1.1zM57.4 64.6h1.1v1.1h-1.1zM13.6 67.4h1.1v1.1h-1.1zM13.0 68.0h1.1v1.1h-1.1zM12.7 68.7h1.1v1.1h-1.1zM12.5 69.5h1.1v1.1h-1.1zM12.5 70.3h1.1v1.1h-1.1zM12.4 71.0h1.1v1.1h-1.1zM12.3 71.8h1.1v1.1h-1.1zM12.6 72.6h1.1v1.1h-1.1zM13.0 73.3h1.1v1.1h-1.1zM13.6 73.8h1.1v1.1h-1.1zM20.2 65.2h1.1v1.1h-1.1zM19.6 64.6h1.1v1.1h-1.1zM18.9 64.4h1.1v1.1h-1.1zM18.1 64.1h1.1v1.1h-1.1zM17.3 63.9h1.1v1.1h-1.1zM20.5 66.4h1.1v1.1h-1.1zM19.8 66.8h1.1v1.1h-1.1zM19.0 67.0h1.1v1.1h-1.1zM18.3 67.2h1.1v1.1h-1.1zM17.5 67.1h1.1v1.1h-1.1zM16.8 66.7h1.1v1.1h-1.1zM52.9 69.8h1.1v1.1h-1.1zM53.4 69.2h1.1v1.1h-1.1zM53.9 68.6h1.1v1.1h-1.1zM54.6 68.2h1.1v1.1h-1.1zM55.1 67.6h1.1v1.1h-1.1zM35.3 67.8h1.1v1.1h-1.1zM36.0 68.2h1.1v1.1h-1.1zM36.7 68.7h1.1v1.1h-1.1zM37.1 69.4h1.1v1.1h-1.1zM37.4 70.1h1.1v1.1h-1.1zM37.8 70.8h1.1v1.1h-1.1zM38.0 71.6h1.1v1.1h-1.1zM38.1 72.4h1.1v1.1h-1.1zM38.0 73.1h1.1v1.1h-1.1zM12.0 68.7h1.1v1.1h-1.1zM12.8 68.4h1.1v1.1h-1.1zM13.4 67.9h1.1v1.1h-1.1zM14.2 67.6h1.1v1.1h-1.1zM14.8 67.1h1.1v1.1h-1.1zM15.5 66.7h1.1v1.1h-1.1zM16.2 66.3h1.1v1.1h-1.1zM16.9 65.9h1.1v1.1h-1.1zM17.5 65.4h1.1v1.1h-1.1zM30.8 65.1h1.1v1.1h-1.1zM31.4 65.6h1.1v1.1h-1.1zM31.8 66.3h1.1v1.1h-1.1zM31.8 67.1h1.1v1.1h-1.1zM32.0 67.9h1.1v1.1h-1.1zM32.5 68.6h1.1v1.1h-1.1zM32.8 69.3h1.1v1.1h-1.1zM32.9 70.1h1.1v1.1h-1.1zM32.8 70.9h1.1v1.1h-1.1zM26.5 64.7h1.1v1.1h-1.1zM25.9 64.2h1.1v1.1h-1.1zM25.1 64.1h1.1v1.1h-1.1zM24.3 64.3h1.1v1.1h-1.1zM23.5 64.5h1.1v1.1h-1.1zM25.1 63.7h1.1v1.1h-1.1zM24.3 63.5h1.1v1.1h-1.1zM23.5 63.3h1.1v1.1h-1.1zM22.7 63.3h1.1v1.1h-1.1zM22.0 63.4h1.1v1.1h-1.1zM21.2 63.3h1.1v1.1h-1.1zM20.4 63.0h1.1v1.1h-1.1zM19.8 62.5h1.1v1.1h-1.1zM19.0 62.2h1.1v1.1h-1.1zM18.4 61.8h1.1v1.1h-1.1zM47.3 68.0h1.1v1.1h-1.1zM46.6 67.7h1.1v1.1h-1.1zM45.8 67.5h1.1v1.1h-1.1zM45.1 67.1h1.1v1.1h-1.1zM44.4 66.9h1.1v1.1h-1.1zM43.7 66.4h1.1v1.1h-1.1zM43.0 66.1h1.1v1.1h-1.1zM42.2 66.2h1.1v1.1h-1.1zM41.5 65.9h1.1v1.1h-1.1zM40.8 65.4h1.1v1.1h-1.1zM29.4 64.4h1.1v1.1h-1.1zM30.2 64.2h1.1v1.1h-1.1zM31.0 64.0h1.1v1.1h-1.1zM31.8 64.0h1.1v1.1h-1.1zM32.5 64.3h1.1v1.1h-1.1zM33.3 64.6h1.1v1.1h-1.1zM32.1 65.8h1.1v1.1h-1.1zM31.4 66.2h1.1v1.1h-1.1zM30.6 66.3h1.1v1.1h-1.1zM29.8 66.4h1.1v1.1h-1.1zM29.0 66.5h1.1v1.1h-1.1zM33.0 68.7h1.1v1.1h-1.1zM33.7 68.2h1.1v1.1h-1.1zM34.4 67.8h1.1v1.1h-1.1zM35.1 67.6h1.1v1.1h-1.1zM35.9 67.8h1.1v1.1h-1.1zM36.6 68.2h1.1v1.1h-1.1zM37.4 68.3h1.1v1.1h-1.1zM38.2 68.2h1.1v1.1h-1.1zM38.9 68.5h1.1v1.1h-1.1zM18.4 65.9h1.1v1.1h-1.1zM17.7 65.6h1.1v1.1h-1.1zM17.0 65.3h1.1v1.1h-1.1zM16.2 65.2h1.1v1.1h-1.1zM15.4 64.9h1.1v1.1h-1.1zM15.2 64.7h1.1v1.1h-1.1zM16.0 64.4h1.1v1.1h-1.1zM16.6 64.0h1.1v1.1h-1.1zM17.3 63.5h1.1v1.1h-1.1zM17.8 63.0h1.1v1.1h-1.1zM18.2 62.2h1.1v1.1h-1.1zM18.4 61.5h1.1v1.1h-1.1zM18.9 60.9h1.1v1.1h-1.1zM19.6 60.4h1.1v1.1h-1.1zM20.0 59.7h1.1v1.1h-1.1zM19.1 66.0h1.1v1.1h-1.1zM18.6 65.5h1.1v1.1h-1.1zM17.8 65.2h1.1v1.1h-1.1zM17.0 65.0h1.1v1.1h-1.1zM16.4 64.5h1.1v1.1h-1.1zM15.9 63.9h1.1v1.1h-1.1zM15.3 63.4h1.1v1.1h-1.1zM14.9 62.7h1.1v1.1h-1.1zM14.2 62.3h1.1v1.1h-1.1zM13.4 62.2h1.1v1.1h-1.1zM8.8 65.9h1.1v1.1h-1.1zM9.6 65.9h1.1v1.1h-1.1zM10.4 65.8h1.1v1.1h-1.1zM11.2 65.7h1.1v1.1h-1.1zM12.0 65.7h1.1v1.1h-1.1zM12.7 65.9h1.1v1.1h-1.1zM13.5 65.7h1.1v1.1h-1.1zM14.3 65.9h1.1v1.1h-1.1zM15.1 65.7h1.1v1.1h-1.1zM15.9 65.6h1.1v1.1h-1.1zM33.5 65.0h1.1v1.1h-1.1zM32.7 65.1h1.1v1.1h-1.1zM32.0 65.4h1.1v1.1h-1.1zM31.2 65.4h1.1v1.1h-1.1zM30.4 65.7h1.1v1.1h-1.1zM49.0 68.5h1.1v1.1h-1.1zM48.4 69.0h1.1v1.1h-1.1zM47.7 69.4h1.1v1.1h-1.1zM46.9 69.6h1.1v1.1h-1.1zM46.3 70.1h1.1v1.1h-1.1zM45.8 70.7h1.1v1.1h-1.1zM45.6 71.5h1.1v1.1h-1.1zM45.2 72.2h1.1v1.1h-1.1zM44.9 72.9h1.1v1.1h-1.1zM48.9 68.0h1.1v1.1h-1.1zM49.7 67.9h1.1v1.1h-1.1zM50.5 67.8h1.1v1.1h-1.1zM51.3 67.5h1.1v1.1h-1.1zM52.0 67.2h1.1v1.1h-1.1zM23.8 66.8h1.1v1.1h-1.1zM23.0 66.8h1.1v1.1h-1.1zM22.3 66.4h1.1v1.1h-1.1zM21.8 65.8h1.1v1.1h-1.1zM21.4 65.1h1.1v1.1h-1.1zM21.2 64.3h1.1v1.1h-1.1zM23.0 66.0h1.1v1.1h-1.1zM23.8 66.0h1.1v1.1h-1.1zM24.5 65.8h1.1v1.1h-1.1zM25.3 65.4h1.1v1.1h-1.1zM25.9 65.0h1.1v1.1h-1.1zM26.5 64.4h1.1v1.1h-1.1zM27.3 64.2h1.1v1.1h-1.1zM27.9 63.6h1.1v1.1h-1.1zM28.5 63.2h1.1v1.1h-1.1zM33.4 67.1h1.1v1.1h-1.1zM34.2 67.3h1.1v1.1h-1.1zM34.8 67.8h1.1v1.1h-1.1zM35.5 68.2h1.1v1.1h-1.1zM36.3 68.5h1.1v1.1h-1.1zM37.1 68.5h1.1v1.1h-1.1zM37.8 68.8h1.1v1.1h-1.1zM38.6 69.0h1.1v1.1h-1.1zM39.4 69.2h1.1v1.1h-1.1zM40.2 69.2h1.1v1.1h-1.1zM20.3 70.0h1.1v1.1h-1.1zM19.6 69.8h1.1v1.1h-1.1zM18.9 69.3h1.1v1.1h-1.1zM18.2 68.9h1.1v1.1h-1.1zM17.7 68.3h1.1v1.1h-1.1zM24.7 68.4h1.1v1.1h-1.1zM24.2 69.0h1.1v1.1h-1.1zM23.9 69.8h1.1v1.1h-1.1zM23.6 70.5h1.1v1.1h-1.1zM23.6 71.3h1.1v1.1h-1.1zM23.5 72.1h1.1v1.1h-1.1zM23.1 72.8h1.1v1.1h-1.1zM22.6 73.4h1.1v1.1h-1.1zM22.1 74.1h1.1v1.1h-1.1zM21.8 74.8h1.1v1.1h-1.1zM15.9 68.5h1.1v1.1h-1.1zM15.1 68.8h1.1v1.1h-1.1zM14.5 69.3h1.1v1.1h-1.1zM13.8 69.6h1.1v1.1h-1.1zM13.2 70.1h1.1v1.1h-1.1zM12.6 70.7h1.1v1.1h-1.1zM12.3 71.4h1.1v1.1h-1.1zM11.9 72.1h1.1v1.1h-1.1zM11.8 72.9h1.1v1.1h-1.1zM12.0 73.7h1.1v1.1h-1.1zM12.2 74.4h1.1v1.1h-1.1zM24.2 66.1h1.1v1.1h-1.1zM24.8 66.7h1.1v1.1h-1.1zM25.4 67.1h1.1v1.1h-1.1zM26.2 67.4h1.1v1.1h-1.1zM27.0 67.4h1.1v1.1h-1.1zM27.7 67.8h1.1v1.1h-1.1zM28.2 68.4h1.1v1.1h-1.1zM28.7 69.1h1.1v1.1h-1.1zM29.0 69.8h1.1v1.1h-1.1zM29.5 70.3h1.1v1.1h-1.1zM48.8 69.0h1.1v1.1h-1.1zM48.1 68.6h1.1v1.1h-1.1zM47.4 68.3h1.1v1.1h-1.1zM46.7 67.9h1.1v1.1h-1.1zM45.9 67.6h1.1v1.1h-1.1zM45.1 67.6h1.1v1.1h-1.1zM44.4 67.7h1.1v1.1h-1.1zM43.6 67.6h1.1v1.1h-1.1zM42.8 67.6h1.1v1.1h-1.1zM71.1 75.2h1.1v1.1h-1.1zM71.8 75.3h1.1v1.1h-1.1zM72.3 74.7h1.0v1.0h-1.0zM72.5 75.4h1.2v1.2h-1.2zM71.1 74.3h1.1v1.1h-1.1zM69.5 75.7h1.1v1.1h-1.1zM69.8 74.3h1.3v1.3h-1.3zM72.1 75.8h1.2v1.2h-1.2zM72.2 75.0h1.1v1.1h-1.1zM135.9 38.8h1.4v1.4h-1.4zM135.6 38.6h1.1v1.1h-1.1zM137.6 36.1h1.1v1.1h-1.1zM136.6 37.9h1.5v1.5h-1.5zM135.8 38.9h1.5v1.5h-1.5zM135.4 38.9h1.4v1.4h-1.4zM137.7 36.4h1.5v1.5h-1.5zM137.0 38.2h1.1v1.1h-1.1zM138.0 34.8h1.6v1.6h-1.6zM138.6 33.5h1.5v1.5h-1.5zM138.5 36.1h1.4v1.4h-1.4zM138.1 34.2h1.4v1.4h-1.4zM138.3 35.9h1.5v1.5h-1.5zM141.4 32.9h1.3v1.3h-1.3zM141.5 31.9h1.5v1.5h-1.5zM140.3 33.7h1.5v1.5h-1.5zM142.0 35.7h1.5v1.5h-1.5zM142.5 34.8h1.5v1.5h-1.5zM142.4 33.5h1.5v1.5h-1.5zM142.5 34.5h1.4v1.4h-1.4zM142.4 33.4h1.2v1.2h-1.2zM141.5 38.3h1.1v1.1h-1.1zM141.4 39.4h1.4v1.4h-1.4zM142.2 37.4h1.3v1.3h-1.3zM141.6 35.7h1.3v1.3h-1.3zM141.4 38.9h1.3v1.3h-1.3zM143.0 35.8h1.5v1.5h-1.5zM141.3 38.5h1.4v1.4h-1.4zM142.3 35.7h1.2v1.2h-1.2zM144.1 39.3h1.7v1.7h-1.7zM145.0 38.4h1.4v1.4h-1.4zM143.3 36.9h1.4v1.4h-1.4zM144.3 35.6h2.0v2.0h-2.0zM145.4 37.9h1.5v1.5h-1.5zM145.9 39.9h1.4v1.4h-1.4zM143.7 38.2h1.8v1.8h-1.8zM144.4 39.5h1.8v1.8h-1.8zM142.8 36.5h1.3v1.3h-1.3zM142.2 37.3h1.8v1.8h-1.8zM144.2 36.4h1.6v1.6h-1.6zM144.4 38.4h2.0v2.0h-2.0zM146.4 37.6h1.2v1.2h-1.2zM146.5 38.2h1.5v1.5h-1.5zM144.7 38.0h1.5v1.5h-1.5zM144.4 38.5h1.2v1.2h-1.2zM145.3 38.2h1.6v1.6h-1.6zM143.8 38.1h1.2v1.2h-1.2zM144.4 39.7h1.7v1.7h-1.7zM146.6 39.6h1.4v1.4h-1.4zM145.6 40.5h1.4v1.4h-1.4zM145.5 39.7h2.0v2.0h-2.0zM145.5 36.4h1.9v1.9h-1.9zM147.5 41.0h1.8v1.8h-1.8zM149.3 41.0h1.6v1.6h-1.6zM148.5 39.6h1.8v1.8h-1.8zM146.7 42.1h1.6v1.6h-1.6zM147.5 41.1h1.9v1.9h-1.9zM146.9 40.0h1.9v1.9h-1.9zM150.2 41.6h1.5v1.5h-1.5zM148.2 41.9h1.8v1.8h-1.8zM149.5 41.5h1.8v1.8h-1.8zM149.9 41.0h1.9v1.9h-1.9zM148.4 39.5h1.5v1.5h-1.5zM147.9 38.7h1.3v1.3h-1.3zM149.8 41.2h1.8v1.8h-1.8zM147.1 41.5h1.7v1.7h-1.7zM148.1 42.6h1.5v1.5h-1.5zM147.9 42.0h1.9v1.9h-1.9zM148.4 42.7h2.0v2.0h-2.0zM147.7 41.0h1.5v1.5h-1.5zM147.5 39.8h1.4v1.4h-1.4zM148.5 39.4h1.5v1.5h-1.5zM154.8 47.1h1.7v1.7h-1.7zM151.7 45.0h1.4v1.4h-1.4zM152.3 43.9h1.7v1.7h-1.7zM154.8 46.7h1.6v1.6h-1.6zM153.5 46.0h1.8v1.8h-1.8zM154.3 45.0h2.0v2.0h-2.0zM151.2 44.6h2.0v2.0h-2.0zM155.4 43.1h1.3v1.3h-1.3zM154.6 43.2h1.9v1.9h-1.9zM154.1 45.0h1.3v1.3h-1.3zM150.7 45.9h1.7v1.7h-1.7zM153.3 45.3h1.4v1.4h-1.4zM155.6 43.8h1.4v1.4h-1.4zM154.8 44.6h2.0v2.0h-2.0zM155.9 43.6h1.3v1.3h-1.3zM150.5 43.9h1.8v1.8h-1.8zM154.4 45.3h1.8v1.8h-1.8zM154.0 43.8h1.3v1.3h-1.3zM153.0 42.1h1.7v1.7h-1.7zM153.9 47.1h1.4v1.4h-1.4zM155.7 44.1h1.4v1.4h-1.4zM149.3 44.8h1.9v1.9h-1.9zM154.4 44.6h1.8v1.8h-1.8zM154.8 46.8h1.8v1.8h-1.8zM150.6 43.6h2.0v2.0h-2.0zM156.0 44.6h1.2v1.2h-1.2zM151.2 42.6h1.9v1.9h-1.9zM152.7 43.3h1.3v1.3h-1.3zM155.0 46.7h1.6v1.6h-1.6zM152.7 48.4h2.1v2.1h-2.1zM153.4 45.1h1.7v1.7h-1.7zM155.6 46.4h2.1v2.1h-2.1zM154.3 48.2h1.2v1.2h-1.2zM151.9 39.8h1.8v1.8h-1.8zM152.8 47.4h2.0v2.0h-2.0zM152.1 42.9h1.7v1.7h-1.7zM152.1 41.9h1.8v1.8h-1.8zM149.6 43.8h1.8v1.8h-1.8zM156.3 46.1h2.0v2.0h-2.0zM152.4 44.7h1.9v1.9h-1.9zM156.2 41.8h2.1v2.1h-2.1zM154.8 46.8h2.0v2.0h-2.0zM156.6 46.4h1.4v1.4h-1.4zM153.6 44.9h1.3v1.3h-1.3zM152.8 40.4h1.7v1.7h-1.7zM156.9 47.0h1.5v1.5h-1.5zM159.9 47.4h1.6v1.6h-1.6zM158.5 45.7h1.3v1.3h-1.3zM159.1 47.1h1.6v1.6h-1.6zM164.0 45.7h1.5v1.5h-1.5zM161.5 50.5h1.7v1.7h-1.7zM162.0 49.1h1.2v1.2h-1.2zM160.5 47.7h1.7v1.7h-1.7zM158.8 46.2h1.9v1.9h-1.9zM162.3 46.6h1.4v1.4h-1.4zM161.9 48.4h1.5v1.5h-1.5zM157.4 48.0h1.2v1.2h-1.2zM161.2 45.8h1.9v1.9h-1.9zM159.1 44.4h1.4v1.4h-1.4zM161.1 46.2h2.0v2.0h-2.0zM159.9 48.9h1.3v1.3h-1.3zM157.7 45.3h2.0v2.0h-2.0zM162.4 46.3h1.9v1.9h-1.9zM157.5 48.1h1.4v1.4h-1.4zM162.2 47.5h1.6v1.6h-1.6zM161.2 49.5h1.2v1.2h-1.2zM157.7 44.6h2.1v2.1h-2.1zM159.2 45.3h1.5v1.5h-1.5zM162.1 45.9h1.6v1.6h-1.6zM156.5 47.1h1.7v1.7h-1.7zM161.6 45.5h1.4v1.4h-1.4zM163.0 46.7h1.8v1.8h-1.8zM162.9 50.7h1.7v1.7h-1.7zM160.0 47.3h1.6v1.6h-1.6zM160.8 48.3h2.1v2.1h-2.1zM162.5 46.6h1.2v1.2h-1.2zM161.4 50.2h1.9v1.9h-1.9zM160.8 49.0h1.8v1.8h-1.8zM159.6 46.3h1.3v1.3h-1.3zM159.2 49.5h1.8v1.8h-1.8zM161.2 49.8h1.9v1.9h-1.9zM160.5 50.6h1.6v1.6h-1.6zM157.7 48.0h1.5v1.5h-1.5zM158.9 48.4h2.0v2.0h-2.0zM159.3 47.2h1.7v1.7h-1.7zM157.1 45.0h1.8v1.8h-1.8zM157.7 49.0h1.9v1.9h-1.9zM160.5 49.0h1.5v1.5h-1.5zM157.3 46.8h1.5v1.5h-1.5zM160.5 47.3h1.4v1.4h-1.4zM162.0 47.8h1.5v1.5h-1.5zM157.8 47.8h1.9v1.9h-1.9zM160.9 45.2h1.3v1.3h-1.3zM159.4 50.7h1.4v1.4h-1.4zM158.3 45.1h1.9v1.9h-1.9zM158.2 48.6h1.6v1.6h-1.6zM156.5 48.3h1.7v1.7h-1.7zM159.1 44.4h1.9v1.9h-1.9zM158.7 47.5h1.3v1.3h-1.3zM162.7 49.4h1.2v1.2h-1.2zM160.1 46.0h1.8v1.8h-1.8zM161.8 46.0h1.8v1.8h-1.8zM147.9 34.1h1.3v1.3h-1.3zM150.4 37.4h1.2v1.2h-1.2zM148.7 40.0h1.0v1.0h-1.0zM156.5 45.8h0.8v0.8h-0.8zM154.5 51.1h1.0v1.0h-1.0zM149.6 46.5h1.0v1.0h-1.0zM158.8 44.9h1.2v1.2h-1.2zM160.4 46.9h1.2v1.2h-1.2zM163.6 49.7h0.8v0.8h-0.8zM155.3 51.6h1.1v1.1h-1.1zM155.6 51.4h1.1v1.1h-1.1zM158.2 51.8h1.1v1.1h-1.1zM154.3 52.5h1.3v1.3h-1.3zM154.8 52.6h1.4v1.4h-1.4zM154.4 52.4h1.0v1.0h-1.0zM155.0 52.2h1.3v1.3h-1.3zM156.3 52.1h1.2v1.2h-1.2zM154.8 52.5h1.4v1.4h-1.4zM154.7 51.4h1.2v1.2h-1.2zM157.2 52.1h1.3v1.3h-1.3zM157.6 52.2h1.2v1.2h-1.2zM157.1 52.0h1.1v1.1h-1.1zM155.1 52.1h1.1v1.1h-1.1zM156.1 52.7h1.0v1.0h-1.0zM156.0 51.4h1.0v1.0h-1.0zM155.1 52.3h1.2v1.2h-1.2zM156.6 52.5h1.1v1.1h-1.1zM157.4 52.5h1.2v1.2h-1.2zM161.7 54.8h0.9v0.9h-0.9zM161.6 54.2h0.8v0.8h-0.8zM134.3 41.7h1.0v1.0h-1.0zM132.2 42.5h1.2v1.2h-1.2zM133.0 42.3h1.3v1.3h-1.3zM171.9 44.5h0.9v0.9h-0.9zM170.4 45.7h0.6v0.6h-0.6zM211.8 61.2h0.9v0.9h-0.9zM221.7 72.7h0.7v0.7h-0.7zM223.1 73.4h1.0v1.0h-1.0zM219.3 74.2h0.7v0.7h-0.7zM200.8 97.2h1.0v1.0h-1.0zM200.4 97.1h0.8v0.8h-0.8zM187.6 84.8h0.8v0.8h-0.8z" fill="#efc53f" opacity="0.9"/><path d="M15.3 67.0h1.2v1.2h-1.2zM9.7 65.1h1.4v1.4h-1.4zM6.5 68.8h1.1v1.1h-1.1zM10.8 65.2h0.8v0.8h-0.8zM8.2 67.4h1.1v1.1h-1.1zM6.0 65.1h1.1v1.1h-1.1zM10.7 64.9h1.0v1.0h-1.0zM11.0 66.2h0.9v0.9h-0.9zM14.8 65.4h1.5v1.5h-1.5zM9.7 67.1h1.2v1.2h-1.2zM18.8 68.6h1.1v1.1h-1.1zM10.3 64.6h1.0v1.0h-1.0zM18.3 67.7h1.2v1.2h-1.2zM21.1 67.0h1.1v1.1h-1.1zM32.8 65.1h0.8v0.8h-0.8zM31.6 68.6h1.2v1.2h-1.2zM28.0 69.7h0.8v0.8h-0.8zM34.1 65.1h1.5v1.5h-1.5zM31.6 68.2h0.8v0.8h-0.8zM26.6 66.5h1.5v1.5h-1.5zM33.6 67.7h1.2v1.2h-1.2zM28.2 65.3h1.0v1.0h-1.0zM38.3 67.4h1.0v1.0h-1.0zM30.2 69.2h1.2v1.2h-1.2zM37.8 68.1h1.5v1.5h-1.5zM38.0 67.0h1.1v1.1h-1.1zM28.7 68.5h0.9v0.9h-0.9zM23.6 66.2h1.4v1.4h-1.4zM28.5 69.3h1.5v1.5h-1.5zM36.8 68.8h1.3v1.3h-1.3zM29.1 70.6h0.9v0.9h-0.9zM32.9 66.6h0.9v0.9h-0.9zM32.7 65.4h1.2v1.2h-1.2zM31.1 69.5h0.9v0.9h-0.9zM29.1 67.6h1.3v1.3h-1.3zM35.5 66.4h1.1v1.1h-1.1zM38.6 66.0h1.1v1.1h-1.1zM56.1 69.6h1.1v1.1h-1.1zM44.6 68.7h1.5v1.5h-1.5zM49.5 66.8h0.8v0.8h-0.8zM57.3 67.5h1.4v1.4h-1.4zM52.4 65.4h1.4v1.4h-1.4zM62.6 68.3h1.3v1.3h-1.3zM45.9 67.8h1.1v1.1h-1.1zM47.2 71.1h0.8v0.8h-0.8zM41.8 69.4h1.3v1.3h-1.3zM51.2 69.0h1.5v1.5h-1.5zM57.2 69.3h1.5v1.5h-1.5zM52.8 69.1h0.9v0.9h-0.9zM57.4 69.5h1.0v1.0h-1.0zM47.2 67.5h1.0v1.0h-1.0zM39.2 68.8h1.5v1.5h-1.5zM51.5 68.8h1.1v1.1h-1.1zM47.7 73.4h1.4v1.4h-1.4zM42.8 69.0h0.9v0.9h-0.9zM46.7 69.5h1.2v1.2h-1.2zM44.3 66.2h1.1v1.1h-1.1zM42.3 68.6h0.9v0.9h-0.9zM52.3 68.9h1.1v1.1h-1.1zM46.3 67.3h1.4v1.4h-1.4zM51.1 68.9h1.0v1.0h-1.0zM46.3 68.6h1.5v1.5h-1.5zM46.0 68.1h1.2v1.2h-1.2zM50.0 67.2h1.3v1.3h-1.3zM62.1 69.6h1.2v1.2h-1.2zM42.9 67.0h1.4v1.4h-1.4zM46.4 66.8h1.2v1.2h-1.2zM60.3 68.1h1.3v1.3h-1.3zM55.4 69.7h1.3v1.3h-1.3zM14.8 68.5h1.0v1.0h-1.0zM9.6 69.9h1.1v1.1h-1.1zM17.0 73.4h1.4v1.4h-1.4zM10.0 71.2h1.1v1.1h-1.1zM28.3 74.0h1.2v1.2h-1.2zM21.6 73.2h0.8v0.8h-0.8zM32.5 74.1h0.9v0.9h-0.9zM40.9 73.4h0.9v0.9h-0.9zM44.0 74.0h0.9v0.9h-0.9zM38.4 75.2h1.4v1.4h-1.4zM33.9 73.4h1.1v1.1h-1.1zM43.6 76.5h1.3v1.3h-1.3zM55.6 73.8h1.2v1.2h-1.2zM52.8 73.9h1.3v1.3h-1.3zM50.9 73.7h1.4v1.4h-1.4zM58.4 75.6h1.3v1.3h-1.3zM53.6 75.6h1.1v1.1h-1.1zM56.0 72.3h1.1v1.1h-1.1zM59.9 75.1h1.1v1.1h-1.1zM52.5 72.3h0.9v0.9h-0.9zM58.8 75.6h1.2v1.2h-1.2zM55.3 76.7h0.9v0.9h-0.9zM58.5 76.7h1.0v1.0h-1.0zM53.6 76.2h1.0v1.0h-1.0zM57.7 72.1h1.4v1.4h-1.4zM60.9 72.8h1.5v1.5h-1.5zM59.4 70.6h1.3v1.3h-1.3zM62.5 71.3h1.2v1.2h-1.2zM58.8 71.7h0.8v0.8h-0.8zM61.9 72.4h1.3v1.3h-1.3zM61.2 71.1h1.4v1.4h-1.4zM58.5 73.6h0.9v0.9h-0.9zM62.2 70.9h1.4v1.4h-1.4zM71.1 76.0h1.3v1.3h-1.3zM70.6 74.3h1.2v1.2h-1.2zM69.5 76.2h1.2v1.2h-1.2zM88.1 103.9h1.3v1.3h-1.3zM89.1 102.5h1.3v1.3h-1.3zM89.8 103.7h1.4v1.4h-1.4zM89.4 103.4h1.2v1.2h-1.2zM89.8 103.9h1.1v1.1h-1.1zM88.6 103.0h1.3v1.3h-1.3zM88.6 103.7h1.2v1.2h-1.2zM88.1 102.7h1.3v1.3h-1.3zM137.5 35.9h1.2v1.2h-1.2zM136.4 37.5h1.2v1.2h-1.2zM136.9 37.4h1.5v1.5h-1.5zM137.2 35.5h1.4v1.4h-1.4zM139.2 33.9h1.3v1.3h-1.3zM137.4 35.3h1.4v1.4h-1.4zM141.4 33.2h1.3v1.3h-1.3zM141.1 33.6h1.4v1.4h-1.4zM142.4 34.1h1.2v1.2h-1.2zM142.6 33.5h1.1v1.1h-1.1zM141.3 39.5h1.2v1.2h-1.2zM141.9 37.7h1.5v1.5h-1.5zM142.2 37.5h1.5v1.5h-1.5zM141.0 39.6h1.2v1.2h-1.2zM142.4 35.8h1.5v1.5h-1.5zM144.5 37.2h1.9v1.9h-1.9zM146.4 39.6h1.5v1.5h-1.5zM146.3 37.1h1.8v1.8h-1.8zM146.7 38.7h1.4v1.4h-1.4zM146.5 39.2h2.0v2.0h-2.0zM147.5 36.6h1.4v1.4h-1.4zM144.5 37.2h1.3v1.3h-1.3zM143.9 36.4h1.9v1.9h-1.9zM145.1 38.1h1.3v1.3h-1.3zM144.1 35.2h1.7v1.7h-1.7zM147.1 39.2h1.3v1.3h-1.3zM142.3 37.2h1.9v1.9h-1.9zM150.0 43.2h1.3v1.3h-1.3zM147.1 39.2h2.0v2.0h-2.0zM150.0 42.9h1.3v1.3h-1.3zM150.1 41.5h1.4v1.4h-1.4zM147.1 39.6h1.6v1.6h-1.6zM146.9 42.2h1.4v1.4h-1.4zM149.3 42.7h1.5v1.5h-1.5zM148.8 42.1h1.7v1.7h-1.7zM150.2 42.4h1.6v1.6h-1.6zM147.4 41.0h1.3v1.3h-1.3zM149.2 43.7h1.4v1.4h-1.4zM147.8 39.6h1.3v1.3h-1.3zM146.9 40.7h2.0v2.0h-2.0zM146.8 42.5h1.8v1.8h-1.8zM152.5 41.4h1.3v1.3h-1.3zM151.3 44.9h1.8v1.8h-1.8zM153.8 45.6h2.0v2.0h-2.0zM155.1 43.4h2.0v2.0h-2.0zM151.4 44.7h1.3v1.3h-1.3zM153.9 42.3h1.3v1.3h-1.3zM152.8 43.9h1.3v1.3h-1.3zM155.6 44.7h1.5v1.5h-1.5zM153.9 44.1h1.8v1.8h-1.8zM154.0 46.1h1.7v1.7h-1.7zM153.9 42.0h2.0v2.0h-2.0zM154.3 45.0h1.6v1.6h-1.6zM154.2 47.0h2.0v2.0h-2.0zM154.2 44.8h1.6v1.6h-1.6zM152.6 43.9h1.8v1.8h-1.8zM150.6 43.2h2.1v2.1h-2.1zM154.9 47.0h1.6v1.6h-1.6zM154.1 44.0h1.6v1.6h-1.6zM150.8 44.6h1.7v1.7h-1.7zM151.3 42.7h1.7v1.7h-1.7zM152.8 47.1h1.9v1.9h-1.9zM155.1 43.9h1.8v1.8h-1.8zM151.8 44.2h1.8v1.8h-1.8zM153.0 44.9h1.7v1.7h-1.7zM156.5 45.5h1.8v1.8h-1.8zM156.7 42.9h2.1v2.1h-2.1zM155.4 42.2h1.6v1.6h-1.6zM150.4 43.9h1.6v1.6h-1.6zM153.3 47.6h1.4v1.4h-1.4zM155.0 45.8h1.9v1.9h-1.9zM156.5 44.2h1.9v1.9h-1.9zM155.3 45.5h1.8v1.8h-1.8zM163.5 46.3h1.3v1.3h-1.3zM158.5 45.3h1.3v1.3h-1.3zM159.6 49.1h1.9v1.9h-1.9zM158.4 45.1h1.5v1.5h-1.5zM158.4 44.2h1.3v1.3h-1.3zM159.5 45.5h2.0v2.0h-2.0zM163.2 46.1h2.1v2.1h-2.1zM161.1 43.9h1.8v1.8h-1.8zM157.0 46.6h1.7v1.7h-1.7zM159.5 47.7h1.5v1.5h-1.5zM163.6 46.9h1.7v1.7h-1.7zM160.5 48.7h1.6v1.6h-1.6zM162.8 49.2h1.9v1.9h-1.9zM157.9 46.3h1.4v1.4h-1.4zM160.1 46.6h1.6v1.6h-1.6zM158.3 45.6h1.9v1.9h-1.9zM157.7 47.3h1.8v1.8h-1.8zM159.2 47.0h1.2v1.2h-1.2zM163.8 46.3h1.9v1.9h-1.9zM160.7 47.8h1.7v1.7h-1.7zM163.5 48.2h2.1v2.1h-2.1zM159.0 41.9h1.6v1.6h-1.6zM157.4 49.0h1.4v1.4h-1.4zM157.0 52.3h1.3v1.3h-1.3zM155.1 52.7h1.1v1.1h-1.1zM155.3 52.5h1.3v1.3h-1.3zM154.3 52.0h1.3v1.3h-1.3zM154.3 52.1h1.0v1.0h-1.0zM201.5 97.9h0.8v0.8h-0.8zM197.2 97.0h0.8v0.8h-0.8z" fill="#efc53f" opacity="1.0"/><path d="M197.9 47.9h1.6v1.6h-1.6zM198.8 43.2h1.0v1.0h-1.0zM206.4 33.0h1.1v1.1h-1.1zM198.7 51.6h0.8v0.8h-0.8zM209.3 33.1h1.3v1.3h-1.3zM198.6 51.0h1.5v1.5h-1.5zM197.6 42.5h1.1v1.1h-1.1zM211.5 36.9h1.2v1.2h-1.2zM204.4 42.5h0.8v0.8h-0.8zM201.9 48.3h1.0v1.0h-1.0zM209.0 45.1h1.6v1.6h-1.6zM207.3 39.5h0.9v0.9h-0.9zM205.6 52.4h1.0v1.0h-1.0zM203.2 36.1h1.4v1.4h-1.4zM199.8 49.1h0.8v0.8h-0.8zM191.2 44.1h1.4v1.4h-1.4zM200.8 35.0h1.3v1.3h-1.3zM210.4 42.8h0.8v0.8h-0.8zM206.4 51.1h1.0v1.0h-1.0zM193.1 50.1h0.9v0.9h-0.9zM208.2 37.7h1.0v1.0h-1.0zM203.9 39.7h1.4v1.4h-1.4zM210.3 50.7h1.0v1.0h-1.0zM201.9 44.9h1.3v1.3h-1.3z" fill="#f8992a" opacity="0.1"/><path d="M195.1 38.1h1.4v1.4h-1.4zM200.2 45.7h1.2v1.2h-1.2zM206.5 42.1h1.1v1.1h-1.1zM201.8 43.0h1.2v1.2h-1.2zM201.5 39.8h1.1v1.1h-1.1zM192.9 44.8h1.5v1.5h-1.5zM194.6 39.6h1.5v1.5h-1.5zM199.0 51.8h0.9v0.9h-0.9zM200.8 49.8h1.2v1.2h-1.2zM199.8 52.5h1.6v1.6h-1.6zM211.2 36.2h1.6v1.6h-1.6zM200.9 40.5h1.0v1.0h-1.0zM206.0 41.7h1.3v1.3h-1.3zM198.2 38.1h1.0v1.0h-1.0zM206.6 38.7h0.9v0.9h-0.9zM202.3 51.8h1.1v1.1h-1.1zM198.8 38.7h0.9v0.9h-0.9zM192.3 40.6h1.3v1.3h-1.3zM201.7 43.9h1.3v1.3h-1.3zM195.8 50.2h1.3v1.3h-1.3zM210.3 38.4h0.8v0.8h-0.8zM210.2 35.2h1.5v1.5h-1.5zM194.9 39.3h1.0v1.0h-1.0zM201.9 34.2h1.2v1.2h-1.2zM211.3 39.8h1.0v1.0h-1.0zM213.0 43.2h1.3v1.3h-1.3zM192.5 49.8h0.9v0.9h-0.9zM212.2 34.9h0.9v0.9h-0.9zM202.8 49.8h1.4v1.4h-1.4zM198.1 37.0h1.0v1.0h-1.0zM203.7 45.5h0.8v0.8h-0.8zM194.9 41.2h0.8v0.8h-0.8zM197.6 38.1h1.0v1.0h-1.0zM207.2 38.6h1.6v1.6h-1.6zM208.5 47.8h1.4v1.4h-1.4zM192.0 40.4h1.2v1.2h-1.2zM207.7 45.0h1.4v1.4h-1.4zM208.8 34.8h1.2v1.2h-1.2zM200.7 45.7h1.1v1.1h-1.1zM215.0 38.2h1.5v1.5h-1.5zM194.4 47.0h1.1v1.1h-1.1zM203.8 41.9h1.5v1.5h-1.5zM195.0 37.8h1.0v1.0h-1.0zM212.6 35.2h1.0v1.0h-1.0zM212.3 45.6h1.6v1.6h-1.6zM192.5 41.4h1.1v1.1h-1.1zM201.8 51.7h1.4v1.4h-1.4zM195.5 43.3h1.0v1.0h-1.0zM194.6 39.2h0.9v0.9h-0.9zM197.9 41.6h1.4v1.4h-1.4zM202.1 50.9h1.5v1.5h-1.5zM209.5 49.2h0.8v0.8h-0.8zM206.3 42.5h1.3v1.3h-1.3zM205.6 44.2h1.2v1.2h-1.2zM203.2 51.5h1.1v1.1h-1.1zM216.5 39.3h1.4v1.4h-1.4zM196.3 51.9h1.2v1.2h-1.2zM194.6 47.4h1.1v1.1h-1.1zM198.2 36.8h0.8v0.8h-0.8zM207.1 46.4h1.0v1.0h-1.0zM199.3 54.2h1.2v1.2h-1.2zM208.4 48.2h0.9v0.9h-0.9zM209.2 39.8h1.2v1.2h-1.2zM190.6 47.7h1.0v1.0h-1.0zM211.5 39.0h1.4v1.4h-1.4zM210.4 48.7h1.1v1.1h-1.1zM214.8 38.1h0.8v0.8h-0.8zM202.6 49.2h1.4v1.4h-1.4zM202.5 41.6h0.9v0.9h-0.9zM198.4 44.8h1.3v1.3h-1.3zM210.5 36.1h1.3v1.3h-1.3zM196.3 51.6h1.4v1.4h-1.4zM195.8 39.0h1.3v1.3h-1.3zM210.8 38.5h0.9v0.9h-0.9zM196.2 48.8h1.6v1.6h-1.6zM207.4 45.8h0.9v0.9h-0.9zM198.2 52.7h0.9v0.9h-0.9zM202.8 54.1h0.8v0.8h-0.8zM196.4 47.2h0.9v0.9h-0.9zM213.4 48.2h0.9v0.9h-0.9zM210.7 34.4h1.1v1.1h-1.1zM192.1 48.9h1.1v1.1h-1.1zM205.9 51.3h1.1v1.1h-1.1zM216.6 41.8h0.9v0.9h-0.9zM194.1 43.2h0.9v0.9h-0.9zM207.0 37.8h1.0v1.0h-1.0zM208.4 46.3h1.6v1.6h-1.6zM199.7 35.0h1.0v1.0h-1.0zM206.6 50.0h1.1v1.1h-1.1zM184.5 46.9h1.0v1.0h-1.0z" fill="#f8992a" opacity="0.2"/><path d="M181.0 55.1h1.6v1.6h-1.6zM182.4 58.8h1.2v1.2h-1.2zM180.5 60.0h1.4v1.4h-1.4zM184.7 56.7h1.4v1.4h-1.4zM184.5 57.1h1.5v1.5h-1.5zM179.5 61.9h1.4v1.4h-1.4zM183.6 59.5h1.1v1.1h-1.1zM190.4 48.9h1.6v1.6h-1.6zM190.8 45.6h1.1v1.1h-1.1zM197.3 64.7h1.1v1.1h-1.1zM196.4 67.9h1.0v1.0h-1.0zM195.7 65.0h0.9v0.9h-0.9zM196.7 69.8h0.8v0.8h-0.8zM178.8 70.6h0.9v0.9h-0.9zM199.7 35.0h1.3v1.3h-1.3zM209.1 47.1h1.2v1.2h-1.2zM196.6 46.8h1.3v1.3h-1.3zM200.7 36.8h1.2v1.2h-1.2zM192.6 43.8h1.0v1.0h-1.0zM206.3 36.9h1.3v1.3h-1.3zM197.0 49.0h1.5v1.5h-1.5zM192.8 40.3h1.2v1.2h-1.2zM202.0 45.1h1.6v1.6h-1.6zM204.0 51.7h1.0v1.0h-1.0zM204.6 49.4h1.1v1.1h-1.1zM193.0 42.6h1.5v1.5h-1.5zM193.5 50.4h1.1v1.1h-1.1zM211.0 35.4h1.2v1.2h-1.2zM207.4 40.5h1.1v1.1h-1.1zM212.5 39.8h1.5v1.5h-1.5zM209.5 38.8h0.9v0.9h-0.9zM201.0 41.3h1.5v1.5h-1.5zM202.0 46.0h1.4v1.4h-1.4zM205.6 52.5h0.8v0.8h-0.8zM215.2 41.8h1.0v1.0h-1.0zM199.3 50.6h1.0v1.0h-1.0zM211.0 35.7h0.8v0.8h-0.8zM205.3 32.9h0.9v0.9h-0.9zM194.4 49.8h1.2v1.2h-1.2zM197.2 51.5h1.2v1.2h-1.2zM193.5 38.4h1.2v1.2h-1.2zM195.9 45.4h1.4v1.4h-1.4zM203.1 51.8h0.9v0.9h-0.9zM198.1 38.3h0.9v0.9h-0.9zM211.4 48.8h0.9v0.9h-0.9zM195.7 49.6h1.3v1.3h-1.3zM193.3 43.3h1.1v1.1h-1.1zM194.7 39.2h1.0v1.0h-1.0zM202.7 46.2h1.3v1.3h-1.3zM210.6 50.8h1.1v1.1h-1.1zM209.4 41.3h0.9v0.9h-0.9zM196.7 41.9h1.0v1.0h-1.0zM199.1 50.1h1.0v1.0h-1.0zM204.0 53.3h1.2v1.2h-1.2zM191.5 48.5h1.1v1.1h-1.1zM211.5 38.8h1.1v1.1h-1.1zM202.2 37.3h1.2v1.2h-1.2zM203.1 50.9h1.2v1.2h-1.2zM197.4 51.0h0.8v0.8h-0.8zM197.5 35.2h1.5v1.5h-1.5zM205.1 47.7h1.5v1.5h-1.5zM201.3 46.9h1.2v1.2h-1.2zM210.9 37.3h0.8v0.8h-0.8zM211.5 38.1h1.2v1.2h-1.2zM195.9 40.2h1.1v1.1h-1.1zM207.7 41.2h1.3v1.3h-1.3zM202.0 45.8h0.9v0.9h-0.9zM201.1 37.7h1.2v1.2h-1.2zM196.7 42.0h0.9v0.9h-0.9zM197.0 39.7h0.9v0.9h-0.9zM209.3 51.0h1.3v1.3h-1.3zM199.6 52.0h1.3v1.3h-1.3zM197.9 50.6h1.4v1.4h-1.4zM209.0 48.1h0.9v0.9h-0.9zM200.1 41.1h1.4v1.4h-1.4zM199.0 53.6h1.1v1.1h-1.1zM206.4 44.1h1.2v1.2h-1.2zM203.3 44.9h1.1v1.1h-1.1zM197.5 50.4h1.3v1.3h-1.3zM198.4 43.0h0.9v0.9h-0.9zM213.1 38.3h1.5v1.5h-1.5zM210.6 38.8h1.1v1.1h-1.1zM207.4 37.1h0.8v0.8h-0.8zM205.6 34.3h1.4v1.4h-1.4zM199.8 44.2h1.0v1.0h-1.0zM205.9 33.4h1.2v1.2h-1.2zM205.2 45.6h1.3v1.3h-1.3zM211.2 48.1h0.8v0.8h-0.8zM200.1 46.1h1.2v1.2h-1.2zM199.1 48.7h1.2v1.2h-1.2zM195.3 51.2h1.6v1.6h-1.6zM208.5 44.0h1.3v1.3h-1.3zM214.4 45.7h0.9v0.9h-0.9zM203.7 45.6h1.2v1.2h-1.2zM196.9 36.7h1.4v1.4h-1.4zM206.5 51.2h1.1v1.1h-1.1zM196.6 46.4h1.5v1.5h-1.5zM192.9 52.0h1.5v1.5h-1.5zM197.5 49.7h1.3v1.3h-1.3zM198.3 41.4h1.5v1.5h-1.5zM198.9 51.1h1.3v1.3h-1.3zM203.1 42.4h1.5v1.5h-1.5zM205.1 42.9h0.9v0.9h-0.9zM193.2 43.6h1.1v1.1h-1.1zM198.9 47.9h1.3v1.3h-1.3zM197.1 42.5h1.0v1.0h-1.0zM201.1 34.9h0.9v0.9h-0.9zM194.9 49.0h1.2v1.2h-1.2zM197.4 51.3h1.5v1.5h-1.5zM201.2 34.1h1.2v1.2h-1.2zM195.6 47.5h1.4v1.4h-1.4zM193.2 42.4h1.0v1.0h-1.0zM203.5 49.9h0.8v0.8h-0.8zM213.4 38.5h1.3v1.3h-1.3zM195.4 46.5h1.2v1.2h-1.2zM199.3 51.0h1.4v1.4h-1.4zM202.5 44.7h1.5v1.5h-1.5zM214.5 40.6h1.2v1.2h-1.2zM208.8 42.1h1.4v1.4h-1.4zM200.8 46.0h1.0v1.0h-1.0zM204.7 35.5h1.1v1.1h-1.1zM192.1 44.6h1.2v1.2h-1.2zM210.1 37.4h1.4v1.4h-1.4zM207.8 48.4h0.8v0.8h-0.8zM198.2 51.4h1.0v1.0h-1.0zM204.4 46.9h1.0v1.0h-1.0zM212.0 33.2h1.2v1.2h-1.2zM189.1 45.2h0.9v0.9h-0.9zM185.0 48.2h1.3v1.3h-1.3zM189.8 44.6h1.2v1.2h-1.2zM184.0 48.4h0.9v0.9h-0.9z" fill="#f8992a" opacity="0.3"/><path d="M176.3 58.2h1.7v1.7h-1.7zM178.6 54.5h1.8v1.8h-1.8zM175.0 59.3h1.1v1.1h-1.1zM181.2 50.5h1.0v1.0h-1.0zM181.3 52.1h1.4v1.4h-1.4zM172.2 52.3h1.6v1.6h-1.6zM184.7 53.2h1.0v1.0h-1.0zM186.2 66.1h1.3v1.3h-1.3zM190.2 57.9h1.5v1.5h-1.5zM191.1 58.4h1.1v1.1h-1.1zM183.8 63.9h1.2v1.2h-1.2zM190.1 57.1h1.2v1.2h-1.2zM186.6 67.2h1.3v1.3h-1.3zM189.2 54.0h1.3v1.3h-1.3zM191.2 53.0h1.6v1.6h-1.6zM188.2 51.3h1.3v1.3h-1.3zM188.6 51.2h1.6v1.6h-1.6zM194.6 48.6h1.4v1.4h-1.4zM191.2 52.2h1.4v1.4h-1.4zM194.2 50.6h1.1v1.1h-1.1zM193.5 51.6h1.6v1.6h-1.6zM196.8 68.4h0.8v0.8h-0.8zM195.8 61.3h0.8v0.8h-0.8zM194.9 61.2h0.9v0.9h-0.9zM182.0 73.3h1.0v1.0h-1.0zM180.9 74.6h1.0v1.0h-1.0zM195.5 37.8h0.9v0.9h-0.9zM204.5 37.8h1.3v1.3h-1.3zM207.3 36.6h0.8v0.8h-0.8zM215.8 43.9h1.6v1.6h-1.6zM203.9 33.3h1.6v1.6h-1.6zM212.8 40.5h0.9v0.9h-0.9zM204.7 50.6h1.6v1.6h-1.6zM209.8 33.3h1.0v1.0h-1.0zM205.2 40.6h1.6v1.6h-1.6zM192.5 40.2h1.0v1.0h-1.0zM205.8 39.7h1.1v1.1h-1.1zM200.2 40.2h1.3v1.3h-1.3zM204.5 37.3h1.3v1.3h-1.3zM208.6 40.6h0.9v0.9h-0.9zM197.3 48.9h1.3v1.3h-1.3zM204.6 39.5h1.1v1.1h-1.1zM194.0 46.7h1.2v1.2h-1.2zM196.5 53.1h1.6v1.6h-1.6zM211.7 33.5h1.3v1.3h-1.3zM202.4 44.6h1.2v1.2h-1.2zM209.2 44.4h0.8v0.8h-0.8zM203.7 38.3h1.1v1.1h-1.1zM193.7 43.0h1.6v1.6h-1.6zM200.4 50.7h1.3v1.3h-1.3zM210.8 34.6h1.0v1.0h-1.0zM198.5 36.1h1.5v1.5h-1.5zM200.0 40.3h1.5v1.5h-1.5zM201.1 49.1h1.3v1.3h-1.3zM211.8 46.1h1.0v1.0h-1.0zM195.4 38.8h1.4v1.4h-1.4zM198.5 45.9h0.9v0.9h-0.9zM215.9 40.4h1.5v1.5h-1.5zM206.0 43.5h1.6v1.6h-1.6zM199.8 53.2h1.1v1.1h-1.1zM204.2 51.1h1.4v1.4h-1.4zM204.0 48.9h0.9v0.9h-0.9zM194.4 50.4h1.2v1.2h-1.2zM204.8 43.1h0.9v0.9h-0.9zM211.3 43.7h1.2v1.2h-1.2zM203.6 33.0h1.6v1.6h-1.6zM197.7 43.6h1.4v1.4h-1.4zM204.0 42.2h1.1v1.1h-1.1zM200.8 53.6h1.3v1.3h-1.3zM211.8 47.6h1.4v1.4h-1.4zM210.6 34.4h1.5v1.5h-1.5zM191.8 48.9h1.3v1.3h-1.3zM215.1 38.6h1.4v1.4h-1.4zM192.6 48.6h1.3v1.3h-1.3zM206.2 38.8h1.2v1.2h-1.2zM195.2 48.0h1.6v1.6h-1.6zM204.6 41.0h1.5v1.5h-1.5zM200.0 52.6h1.3v1.3h-1.3zM211.3 41.5h1.2v1.2h-1.2zM206.0 38.8h1.5v1.5h-1.5zM194.7 45.3h1.2v1.2h-1.2zM207.9 49.0h1.2v1.2h-1.2zM194.4 51.0h1.3v1.3h-1.3zM199.3 50.3h1.4v1.4h-1.4zM209.9 49.8h1.0v1.0h-1.0zM194.9 50.5h1.5v1.5h-1.5zM201.1 45.2h1.5v1.5h-1.5zM205.6 40.2h1.6v1.6h-1.6zM213.2 38.7h0.9v0.9h-0.9zM202.6 52.3h1.0v1.0h-1.0zM202.9 49.7h1.6v1.6h-1.6zM212.7 45.9h1.3v1.3h-1.3zM210.5 48.9h1.2v1.2h-1.2zM197.9 39.0h1.5v1.5h-1.5zM199.9 49.6h1.1v1.1h-1.1zM208.5 34.0h1.2v1.2h-1.2zM195.3 50.0h0.9v0.9h-0.9zM209.9 37.3h1.5v1.5h-1.5zM207.4 42.6h1.4v1.4h-1.4zM194.8 35.4h1.2v1.2h-1.2zM194.9 40.5h0.9v0.9h-0.9zM194.3 35.3h1.1v1.1h-1.1zM192.0 40.5h1.1v1.1h-1.1zM210.7 30.4h1.1v1.1h-1.1zM212.6 32.1h1.0v1.0h-1.0zM212.0 30.6h1.3v1.3h-1.3zM209.5 33.4h1.3v1.3h-1.3zM202.4 55.0h0.7v0.7h-0.7zM201.2 54.4h0.9v0.9h-0.9zM202.3 53.2h0.7v0.7h-0.7zM199.3 54.9h0.8v0.8h-0.8zM212.5 46.2h1.0v1.0h-1.0zM205.8 50.1h1.2v1.2h-1.2zM210.4 49.1h0.8v0.8h-0.8zM183.3 45.2h1.3v1.3h-1.3zM188.2 46.9h0.8v0.8h-0.8zM190.8 44.5h1.0v1.0h-1.0zM190.9 46.8h0.9v0.9h-0.9zM187.9 47.3h0.8v0.8h-0.8zM186.7 47.8h1.1v1.1h-1.1zM217.5 24.1h1.0v1.0h-1.0zM212.5 22.8h0.9v0.9h-0.9z" fill="#f8992a" opacity="0.4"/><path d="M166.6 45.5h0.9v0.9h-0.9zM169.7 45.9h0.6v0.6h-0.6zM177.8 62.4h1.7v1.7h-1.7zM180.0 52.7h1.0v1.0h-1.0zM182.5 56.9h1.2v1.2h-1.2zM177.9 59.7h1.7v1.7h-1.7zM177.2 57.5h1.5v1.5h-1.5zM177.3 48.8h1.5v1.5h-1.5zM178.6 45.6h1.2v1.2h-1.2zM183.9 61.1h1.6v1.6h-1.6zM181.5 58.7h1.2v1.2h-1.2zM186.4 59.3h1.7v1.7h-1.7zM180.1 61.1h1.5v1.5h-1.5zM182.9 60.9h1.3v1.3h-1.3zM185.1 54.4h1.1v1.1h-1.1zM181.8 60.2h1.4v1.4h-1.4zM191.6 50.7h0.9v0.9h-0.9zM192.9 46.8h1.5v1.5h-1.5zM189.1 52.7h1.0v1.0h-1.0zM196.4 48.5h1.0v1.0h-1.0zM191.2 48.9h1.3v1.3h-1.3zM193.7 46.0h1.2v1.2h-1.2zM188.5 50.4h1.0v1.0h-1.0zM195.7 62.3h0.9v0.9h-0.9zM182.1 74.8h0.9v0.9h-0.9zM182.2 74.4h0.9v0.9h-0.9zM180.0 75.1h0.9v0.9h-0.9zM211.8 61.1h0.9v0.9h-0.9zM212.4 57.4h1.0v1.0h-1.0zM195.0 41.5h1.1v1.1h-1.1zM204.9 43.3h1.1v1.1h-1.1zM205.0 38.6h1.0v1.0h-1.0zM192.8 38.3h0.8v0.8h-0.8zM196.2 37.8h0.7v0.7h-0.7zM191.5 38.3h1.0v1.0h-1.0zM198.3 39.9h1.1v1.1h-1.1zM201.1 40.1h1.1v1.1h-1.1zM198.6 36.6h1.2v1.2h-1.2zM195.4 39.2h1.0v1.0h-1.0zM194.1 36.4h0.8v0.8h-0.8zM204.9 38.7h0.8v0.8h-0.8zM213.2 32.7h0.8v0.8h-0.8zM211.2 33.6h1.1v1.1h-1.1zM207.7 31.5h0.9v0.9h-0.9zM209.7 32.3h1.0v1.0h-1.0zM211.5 29.7h0.9v0.9h-0.9zM210.9 32.5h1.3v1.3h-1.3zM211.8 29.6h0.9v0.9h-0.9zM207.3 31.4h0.9v0.9h-0.9zM212.0 31.9h1.1v1.1h-1.1zM201.6 52.7h0.8v0.8h-0.8zM203.9 51.7h1.0v1.0h-1.0zM211.3 46.1h0.8v0.8h-0.8zM205.4 51.0h0.8v0.8h-0.8zM203.1 53.0h1.0v1.0h-1.0zM202.5 53.5h1.2v1.2h-1.2zM209.1 47.9h0.8v0.8h-0.8zM209.5 48.7h1.1v1.1h-1.1zM210.4 48.5h1.1v1.1h-1.1zM210.4 48.6h1.0v1.0h-1.0zM205.9 47.9h1.2v1.2h-1.2zM209.8 48.2h1.2v1.2h-1.2zM207.9 50.1h0.8v0.8h-0.8zM212.7 47.1h1.0v1.0h-1.0zM212.0 48.0h0.9v0.9h-0.9zM188.7 46.9h0.8v0.8h-0.8zM184.8 44.9h1.1v1.1h-1.1zM185.0 48.2h1.0v1.0h-1.0zM183.7 47.5h1.0v1.0h-1.0zM214.3 22.6h0.7v0.7h-0.7zM215.6 24.9h1.0v1.0h-1.0zM213.0 21.9h1.0v1.0h-1.0zM214.8 21.7h0.9v0.9h-0.9z" fill="#f8992a" opacity="0.5"/><path d="M174.1 44.8h0.9v0.9h-0.9zM165.0 46.4h0.7v0.7h-0.7zM164.6 47.9h0.7v0.7h-0.7zM174.0 45.8h0.7v0.7h-0.7zM181.4 55.6h1.2v1.2h-1.2zM177.8 47.2h1.3v1.3h-1.3zM179.4 62.9h1.4v1.4h-1.4zM176.9 50.3h1.0v1.0h-1.0zM178.7 46.7h1.0v1.0h-1.0zM176.5 49.1h1.5v1.5h-1.5zM174.1 51.0h1.5v1.5h-1.5zM178.4 61.3h1.7v1.7h-1.7zM178.1 44.6h1.4v1.4h-1.4zM172.7 45.7h1.4v1.4h-1.4zM180.6 61.8h1.1v1.1h-1.1zM187.7 64.0h1.1v1.1h-1.1zM191.2 57.6h1.8v1.8h-1.8zM180.4 63.7h1.0v1.0h-1.0zM184.0 57.9h1.7v1.7h-1.7zM183.6 62.1h1.5v1.5h-1.5zM180.1 57.5h1.4v1.4h-1.4zM185.1 63.7h1.4v1.4h-1.4zM189.6 50.4h1.6v1.6h-1.6zM193.1 47.5h1.4v1.4h-1.4zM194.4 48.0h1.2v1.2h-1.2zM190.7 48.8h1.1v1.1h-1.1zM189.9 49.3h1.1v1.1h-1.1zM194.0 49.3h1.5v1.5h-1.5zM195.9 65.2h1.0v1.0h-1.0zM195.5 65.2h1.1v1.1h-1.1zM196.4 65.3h0.8v0.8h-0.8zM197.4 66.1h1.1v1.1h-1.1zM195.4 65.8h0.9v0.9h-0.9zM196.0 62.3h0.9v0.9h-0.9zM196.7 66.6h1.1v1.1h-1.1zM197.8 69.6h1.0v1.0h-1.0zM180.6 77.3h1.1v1.1h-1.1zM215.5 62.4h0.9v0.9h-0.9zM212.6 58.6h0.9v0.9h-0.9zM211.9 64.0h0.8v0.8h-0.8zM191.3 96.3h0.8v0.8h-0.8zM186.1 91.5h0.7v0.7h-0.7zM185.7 90.3h1.0v1.0h-1.0zM247.0 95.5h1.1v1.1h-1.1zM200.2 49.8h1.2v1.2h-1.2zM196.0 52.5h1.1v1.1h-1.1zM199.9 42.2h1.1v1.1h-1.1zM206.0 45.7h0.9v0.9h-0.9zM193.0 50.6h0.8v0.8h-0.8zM196.6 39.1h1.1v1.1h-1.1zM203.7 46.7h1.0v1.0h-1.0zM200.3 50.7h1.0v1.0h-1.0zM205.9 43.5h0.9v0.9h-0.9zM196.3 51.7h0.7v0.7h-0.7zM201.6 39.4h0.8v0.8h-0.8zM191.2 38.9h0.9v0.9h-0.9zM196.0 36.9h0.7v0.7h-0.7zM191.7 37.2h1.0v1.0h-1.0zM200.9 38.9h0.9v0.9h-0.9zM194.0 36.1h0.8v0.8h-0.8zM201.0 33.7h1.2v1.2h-1.2zM197.7 38.1h1.0v1.0h-1.0zM208.1 29.8h1.0v1.0h-1.0zM212.2 30.9h1.0v1.0h-1.0zM210.6 33.0h1.0v1.0h-1.0zM211.9 29.6h1.1v1.1h-1.1zM200.4 54.2h1.1v1.1h-1.1zM200.8 51.7h1.0v1.0h-1.0zM205.6 48.8h1.1v1.1h-1.1zM213.7 48.6h1.0v1.0h-1.0zM211.8 47.9h1.2v1.2h-1.2zM202.9 51.4h0.8v0.8h-0.8zM210.2 47.8h1.2v1.2h-1.2zM208.1 48.9h1.2v1.2h-1.2zM199.6 54.0h1.0v1.0h-1.0zM187.7 46.2h0.9v0.9h-0.9zM213.1 23.3h1.0v1.0h-1.0zM217.8 22.3h1.1v1.1h-1.1z" fill="#f8992a" opacity="0.6"/><path d="M174.7 44.8h0.8v0.8h-0.8zM167.7 47.2h1.0v1.0h-1.0zM164.7 46.5h0.8v0.8h-0.8zM166.4 47.1h0.8v0.8h-0.8zM164.4 47.5h1.0v1.0h-1.0zM177.0 48.7h1.5v1.5h-1.5zM175.5 53.0h1.5v1.5h-1.5zM178.1 53.2h1.4v1.4h-1.4zM182.1 52.3h1.3v1.3h-1.3zM175.4 54.4h1.1v1.1h-1.1zM185.7 65.7h1.7v1.7h-1.7zM184.5 55.1h1.2v1.2h-1.2zM189.0 61.6h1.6v1.6h-1.6zM188.0 62.1h1.2v1.2h-1.2zM187.7 51.9h1.4v1.4h-1.4zM193.8 52.8h1.3v1.3h-1.3zM192.7 54.2h1.2v1.2h-1.2zM189.1 51.5h1.3v1.3h-1.3zM193.9 45.8h1.0v1.0h-1.0zM193.0 45.8h1.4v1.4h-1.4zM197.9 69.0h1.1v1.1h-1.1zM179.7 72.3h0.8v0.8h-0.8zM181.7 71.9h1.0v1.0h-1.0zM191.3 95.4h1.0v1.0h-1.0zM201.8 97.7h1.1v1.1h-1.1zM190.8 96.1h0.7v0.7h-0.7zM192.3 95.9h1.0v1.0h-1.0zM212.6 91.2h0.8v0.8h-0.8zM212.6 90.6h0.8v0.8h-0.8zM212.8 89.8h1.0v1.0h-1.0zM211.8 89.1h0.8v0.8h-0.8zM212.7 89.1h0.8v0.8h-0.8zM182.8 88.2h1.0v1.0h-1.0zM248.7 96.4h0.9v0.9h-0.9zM206.3 43.8h0.8v0.8h-0.8zM195.5 52.1h0.9v0.9h-0.9zM202.7 41.1h0.7v0.7h-0.7zM198.2 49.0h0.8v0.8h-0.8zM198.7 40.2h1.1v1.1h-1.1zM193.6 50.7h0.8v0.8h-0.8zM192.1 44.4h1.1v1.1h-1.1zM197.5 34.9h1.0v1.0h-1.0zM196.7 40.7h0.8v0.8h-0.8zM198.8 34.4h0.8v0.8h-0.8zM200.7 36.3h0.9v0.9h-0.9zM197.0 39.0h0.8v0.8h-0.8zM201.8 39.2h0.9v0.9h-0.9zM198.2 40.0h0.8v0.8h-0.8zM199.4 36.5h0.9v0.9h-0.9zM204.5 37.9h1.0v1.0h-1.0zM206.1 36.6h1.2v1.2h-1.2zM208.8 26.7h1.2v1.2h-1.2zM210.1 26.0h1.4v1.4h-1.4zM206.1 24.8h1.3v1.3h-1.3zM208.2 26.9h0.9v0.9h-0.9zM209.6 26.6h1.2v1.2h-1.2zM207.8 25.3h1.3v1.3h-1.3zM206.7 27.0h1.1v1.1h-1.1zM205.7 28.7h1.0v1.0h-1.0zM208.7 24.7h1.3v1.3h-1.3zM206.6 27.3h0.9v0.9h-0.9zM208.0 26.1h1.0v1.0h-1.0zM207.4 28.5h1.0v1.0h-1.0zM209.6 27.4h1.1v1.1h-1.1zM214.6 28.4h1.2v1.2h-1.2zM212.2 29.4h1.0v1.0h-1.0zM214.1 28.6h1.1v1.1h-1.1zM209.5 32.5h0.8v0.8h-0.8zM212.1 30.5h1.0v1.0h-1.0zM213.8 32.5h0.8v0.8h-0.8zM210.3 34.0h0.9v0.9h-0.9zM211.2 29.0h1.2v1.2h-1.2zM208.6 32.9h0.9v0.9h-0.9zM211.0 29.7h1.1v1.1h-1.1zM209.8 30.0h1.2v1.2h-1.2zM210.4 31.1h0.9v0.9h-0.9zM213.2 32.8h0.9v0.9h-0.9zM215.4 37.7h1.2v1.2h-1.2zM215.3 38.2h1.1v1.1h-1.1zM215.3 37.6h0.9v0.9h-0.9zM216.9 37.1h0.8v0.8h-0.8zM215.8 37.9h1.2v1.2h-1.2zM216.0 35.5h0.9v0.9h-0.9zM205.7 51.1h1.2v1.2h-1.2zM209.2 48.9h0.7v0.7h-0.7zM209.6 47.1h0.8v0.8h-0.8zM208.1 48.8h1.0v1.0h-1.0zM201.6 52.9h0.7v0.7h-0.7zM199.9 53.8h1.1v1.1h-1.1zM202.6 52.2h0.7v0.7h-0.7zM199.6 55.1h1.0v1.0h-1.0zM198.4 55.0h1.0v1.0h-1.0zM198.0 54.6h1.1v1.1h-1.1zM203.0 52.3h1.0v1.0h-1.0zM210.6 47.7h1.1v1.1h-1.1zM213.1 26.7h0.7v0.7h-0.7z" fill="#f8992a" opacity="0.7"/><path d="M8.4 68.5h0.9v0.9h-0.9zM164.1 47.1h0.6v0.6h-0.6zM166.1 47.6h0.8v0.8h-0.8zM174.2 43.9h0.8v0.8h-0.8zM167.1 45.8h0.9v0.9h-0.9zM214.6 60.2h0.9v0.9h-0.9zM213.7 58.7h0.8v0.8h-0.8zM220.0 72.9h1.1v1.1h-1.1zM191.9 96.7h0.7v0.7h-0.7zM199.8 97.3h1.0v1.0h-1.0zM196.0 96.3h1.0v1.0h-1.0zM211.9 88.7h0.9v0.9h-0.9zM247.6 97.1h0.9v0.9h-0.9zM246.8 95.8h1.0v1.0h-1.0zM248.2 95.7h0.9v0.9h-0.9zM198.0 50.8h1.0v1.0h-1.0zM194.7 48.7h1.0v1.0h-1.0zM201.9 41.1h0.9v0.9h-0.9zM199.8 43.4h1.0v1.0h-1.0zM197.4 50.6h1.2v1.2h-1.2zM212.1 36.2h0.8v0.8h-0.8zM200.2 52.2h0.9v0.9h-0.9zM208.0 40.3h0.9v0.9h-0.9zM202.6 47.5h0.9v0.9h-0.9zM201.6 40.0h0.9v0.9h-0.9zM203.8 35.9h1.0v1.0h-1.0zM194.2 36.8h1.1v1.1h-1.1zM200.6 40.3h1.0v1.0h-1.0zM198.3 40.6h1.1v1.1h-1.1zM206.5 28.5h1.3v1.3h-1.3zM208.9 28.5h1.1v1.1h-1.1zM205.6 27.2h1.0v1.0h-1.0zM205.1 27.5h1.4v1.4h-1.4zM207.4 27.6h0.9v0.9h-0.9zM208.9 26.7h1.2v1.2h-1.2zM208.5 25.9h1.5v1.5h-1.5zM210.8 26.2h1.3v1.3h-1.3zM209.2 24.7h1.1v1.1h-1.1zM208.7 25.2h1.4v1.4h-1.4zM205.9 28.6h1.0v1.0h-1.0zM209.6 26.0h1.3v1.3h-1.3zM207.5 25.9h1.2v1.2h-1.2zM206.0 25.0h1.3v1.3h-1.3zM208.5 27.9h1.1v1.1h-1.1zM206.1 25.5h1.0v1.0h-1.0zM206.8 26.3h0.9v0.9h-0.9zM208.4 27.7h1.1v1.1h-1.1zM206.2 25.8h0.9v0.9h-0.9zM207.6 27.8h1.3v1.3h-1.3zM210.4 25.6h1.3v1.3h-1.3zM214.0 28.4h1.3v1.3h-1.3zM212.6 28.7h1.2v1.2h-1.2zM213.2 29.4h1.3v1.3h-1.3zM208.4 33.2h0.9v0.9h-0.9zM211.2 29.3h0.8v0.8h-0.8zM213.2 31.0h0.9v0.9h-0.9zM210.1 31.1h0.8v0.8h-0.8zM213.0 30.5h0.8v0.8h-0.8zM216.6 35.8h0.8v0.8h-0.8zM215.5 37.8h1.2v1.2h-1.2zM215.1 37.5h1.2v1.2h-1.2zM216.3 36.1h1.2v1.2h-1.2zM215.0 36.0h1.3v1.3h-1.3zM206.0 52.3h1.1v1.1h-1.1zM213.7 47.3h0.7v0.7h-0.7zM202.9 53.6h0.7v0.7h-0.7zM201.9 52.8h1.2v1.2h-1.2zM198.9 54.8h1.1v1.1h-1.1zM206.9 50.2h1.1v1.1h-1.1zM210.3 50.0h0.9v0.9h-0.9zM205.1 51.6h0.8v0.8h-0.8zM205.7 51.1h1.0v1.0h-1.0zM198.2 56.1h0.7v0.7h-0.7zM205.5 51.8h1.1v1.1h-1.1zM199.6 53.5h1.0v1.0h-1.0zM211.3 47.0h1.1v1.1h-1.1zM209.8 48.5h0.8v0.8h-0.8zM215.4 22.0h0.9v0.9h-0.9zM216.3 20.5h0.7v0.7h-0.7zM214.8 23.2h0.9v0.9h-0.9zM225.2 31.7h0.9v0.9h-0.9zM225.1 28.7h0.9v0.9h-0.9zM225.8 32.3h1.0v1.0h-1.0zM224.4 30.1h1.0v1.0h-1.0zM224.2 30.1h1.1v1.1h-1.1zM225.3 30.0h1.0v1.0h-1.0z" fill="#f8992a" opacity="0.8"/><path d="M5.8 67.1h1.1v1.1h-1.1zM6.3 67.5h1.1v1.1h-1.1zM7.6 67.4h0.9v0.9h-0.9zM8.9 67.5h1.0v1.0h-1.0zM9.2 68.2h1.1v1.1h-1.1zM165.6 47.1h1.0v1.0h-1.0zM203.2 97.6h0.8v0.8h-0.8zM212.6 91.8h0.9v0.9h-0.9zM211.7 90.6h1.1v1.1h-1.1zM186.9 91.4h1.1v1.1h-1.1zM247.3 97.1h0.8v0.8h-0.8zM245.7 96.7h0.9v0.9h-0.9zM247.4 96.6h0.9v0.9h-0.9zM200.2 43.1h1.0v1.0h-1.0zM207.5 35.9h0.7v0.7h-0.7zM192.8 49.0h1.0v1.0h-1.0zM212.8 39.0h0.9v0.9h-0.9zM202.8 39.4h1.0v1.0h-1.0zM205.8 44.0h0.9v0.9h-0.9zM194.9 52.1h1.0v1.0h-1.0zM198.2 48.2h0.9v0.9h-0.9zM195.8 47.3h1.1v1.1h-1.1zM211.0 41.8h0.9v0.9h-0.9zM202.0 47.6h1.0v1.0h-1.0zM213.0 43.4h0.8v0.8h-0.8zM193.6 39.9h1.1v1.1h-1.1zM201.8 37.9h1.2v1.2h-1.2zM205.2 27.7h1.1v1.1h-1.1zM208.8 27.8h1.4v1.4h-1.4zM207.8 25.0h1.3v1.3h-1.3zM210.6 26.3h1.4v1.4h-1.4zM208.2 25.5h1.4v1.4h-1.4zM206.3 28.0h1.1v1.1h-1.1zM208.6 26.1h1.4v1.4h-1.4zM210.4 25.6h1.4v1.4h-1.4zM207.2 26.5h1.3v1.3h-1.3zM205.5 28.4h1.4v1.4h-1.4zM207.5 29.0h1.1v1.1h-1.1zM210.6 27.0h1.2v1.2h-1.2zM208.1 28.9h1.0v1.0h-1.0zM207.3 27.7h1.3v1.3h-1.3zM207.0 29.1h1.1v1.1h-1.1zM208.0 28.9h1.0v1.0h-1.0zM205.5 27.6h1.1v1.1h-1.1zM208.9 27.4h1.3v1.3h-1.3zM208.2 27.7h1.2v1.2h-1.2zM209.4 25.1h1.3v1.3h-1.3zM206.3 26.6h1.3v1.3h-1.3zM207.5 25.9h1.2v1.2h-1.2zM205.6 28.5h1.0v1.0h-1.0zM205.6 28.7h1.1v1.1h-1.1zM210.7 27.2h1.0v1.0h-1.0zM209.4 25.5h1.0v1.0h-1.0zM207.3 25.6h1.5v1.5h-1.5zM206.6 24.6h1.2v1.2h-1.2zM210.2 26.2h0.9v0.9h-0.9zM210.1 25.7h1.2v1.2h-1.2zM205.5 27.0h1.3v1.3h-1.3zM209.8 27.7h1.1v1.1h-1.1zM215.3 28.4h1.0v1.0h-1.0zM214.9 37.0h1.1v1.1h-1.1zM215.8 38.0h1.1v1.1h-1.1zM216.6 38.3h0.8v0.8h-0.8zM201.5 52.7h1.0v1.0h-1.0zM213.3 46.4h1.0v1.0h-1.0zM200.7 54.6h0.8v0.8h-0.8zM224.5 30.7h1.2v1.2h-1.2zM225.1 32.0h1.3v1.3h-1.3zM224.4 30.2h1.1v1.1h-1.1zM225.5 30.0h1.2v1.2h-1.2zM226.4 30.5h1.2v1.2h-1.2zM224.7 29.3h1.2v1.2h-1.2zM225.5 30.5h0.8v0.8h-0.8zM226.0 30.4h1.0v1.0h-1.0zM226.6 30.6h1.0v1.0h-1.0zM224.6 29.2h1.1v1.1h-1.1zM225.7 29.2h1.2v1.2h-1.2zM224.1 29.0h1.1v1.1h-1.1zM224.9 29.2h1.3v1.3h-1.3zM224.1 29.3h1.0v1.0h-1.0z" fill="#f8992a" opacity="0.9"/><path d="M5.8 66.6h1.2v1.2h-1.2zM7.0 67.0h1.1v1.1h-1.1zM8.4 67.4h0.8v0.8h-0.8zM8.3 68.1h1.1v1.1h-1.1zM199.9 97.4h0.8v0.8h-0.8zM196.2 96.6h0.8v0.8h-0.8zM202.9 98.0h0.9v0.9h-0.9zM194.7 96.7h1.0v1.0h-1.0zM247.3 97.4h0.8v0.8h-0.8zM245.3 94.7h0.9v0.9h-0.9zM246.6 95.9h0.9v0.9h-0.9zM208.5 27.4h1.0v1.0h-1.0zM206.4 27.7h1.0v1.0h-1.0zM205.9 28.2h1.2v1.2h-1.2zM210.1 25.6h1.1v1.1h-1.1zM207.8 24.4h1.1v1.1h-1.1zM208.6 26.3h1.3v1.3h-1.3zM205.9 27.2h1.2v1.2h-1.2zM206.9 27.6h0.9v0.9h-0.9zM207.7 27.1h1.4v1.4h-1.4zM214.4 28.7h1.0v1.0h-1.0zM213.4 28.5h0.9v0.9h-0.9zM213.5 28.6h0.9v0.9h-0.9zM215.4 38.4h0.9v0.9h-0.9zM215.5 35.8h0.9v0.9h-0.9zM216.1 38.5h0.9v0.9h-0.9zM216.1 36.3h1.0v1.0h-1.0zM224.7 28.4h1.0v1.0h-1.0zM225.7 28.9h1.0v1.0h-1.0zM224.6 30.9h1.0v1.0h-1.0zM224.5 30.8h1.1v1.1h-1.1zM224.5 31.0h1.0v1.0h-1.0zM225.9 29.7h1.1v1.1h-1.1z" fill="#f8992a" opacity="1.0"/><path d="M30.8 67.9h1.2v1.2h-1.2zM25.5 65.8h0.9v0.9h-0.9zM25.3 67.1h1.5v1.5h-1.5zM26.8 67.3h1.2v1.2h-1.2zM31.4 67.6h1.3v1.3h-1.3zM27.1 67.4h1.4v1.4h-1.4zM29.0 65.9h1.3v1.3h-1.3zM28.7 67.2h1.0v1.0h-1.0zM30.1 66.6h1.0v1.0h-1.0zM25.7 65.1h1.5v1.5h-1.5zM30.1 66.9h1.0v1.0h-1.0zM25.5 66.5h1.0v1.0h-1.0zM25.6 66.5h1.3v1.3h-1.3zM26.1 66.7h1.2v1.2h-1.2zM30.5 67.4h1.0v1.0h-1.0zM28.4 67.3h1.4v1.4h-1.4zM26.5 66.8h0.9v0.9h-0.9zM26.7 63.8h1.3v1.3h-1.3zM30.6 67.1h1.3v1.3h-1.3zM32.6 65.9h1.3v1.3h-1.3zM33.7 65.9h1.4v1.4h-1.4zM33.3 68.7h1.2v1.2h-1.2zM39.9 67.6h1.1v1.1h-1.1zM32.5 68.4h1.0v1.0h-1.0zM34.3 68.8h1.2v1.2h-1.2zM34.0 66.3h1.3v1.3h-1.3zM35.0 67.7h1.0v1.0h-1.0zM34.2 68.1h1.2v1.2h-1.2zM34.5 66.5h1.2v1.2h-1.2zM37.4 69.1h0.9v0.9h-0.9zM35.4 68.1h1.3v1.3h-1.3zM39.9 67.7h0.9v0.9h-0.9zM34.8 68.1h1.5v1.5h-1.5zM33.8 68.2h1.1v1.1h-1.1zM36.8 67.4h1.3v1.3h-1.3zM39.7 67.5h1.0v1.0h-1.0zM55.1 70.6h1.3v1.3h-1.3zM59.5 72.5h1.0v1.0h-1.0zM57.4 68.4h0.9v0.9h-0.9zM57.8 71.1h1.4v1.4h-1.4zM54.6 72.4h1.1v1.1h-1.1zM54.9 70.2h1.1v1.1h-1.1zM53.4 69.8h1.2v1.2h-1.2zM58.5 71.4h0.9v0.9h-0.9zM60.4 69.7h1.0v1.0h-1.0zM55.3 71.2h1.3v1.3h-1.3zM53.3 71.5h1.4v1.4h-1.4zM59.0 69.1h1.5v1.5h-1.5zM54.4 71.0h1.2v1.2h-1.2zM59.5 71.8h1.4v1.4h-1.4zM57.7 70.4h1.2v1.2h-1.2zM58.7 71.3h1.3v1.3h-1.3zM55.8 69.1h1.5v1.5h-1.5zM35.7 67.9h1.1v1.1h-1.1zM36.4 68.0h1.1v1.1h-1.1zM37.2 68.0h1.1v1.1h-1.1zM38.0 67.8h1.1v1.1h-1.1zM38.8 67.9h1.1v1.1h-1.1zM39.6 67.9h1.1v1.1h-1.1zM35.8 68.2h1.1v1.1h-1.1zM36.5 68.5h1.1v1.1h-1.1zM37.2 69.0h1.1v1.1h-1.1zM37.6 69.7h1.1v1.1h-1.1zM37.9 70.5h1.1v1.1h-1.1zM38.3 71.1h1.1v1.1h-1.1zM38.7 71.8h1.1v1.1h-1.1zM36.7 68.2h1.1v1.1h-1.1zM37.4 67.9h1.1v1.1h-1.1zM38.2 67.8h1.1v1.1h-1.1zM39.0 67.9h1.1v1.1h-1.1zM39.8 67.7h1.1v1.1h-1.1zM35.2 66.0h1.1v1.1h-1.1zM27.2 70.6h0.9v0.9h-0.9zM34.7 69.9h0.9v0.9h-0.9zM35.8 70.5h1.3v1.3h-1.3zM36.6 68.5h1.0v1.0h-1.0zM27.0 68.3h0.9v0.9h-0.9zM38.6 68.8h1.1v1.1h-1.1zM36.7 68.6h1.2v1.2h-1.2zM25.2 68.9h1.0v1.0h-1.0zM31.6 68.1h1.1v1.1h-1.1zM38.9 68.9h0.9v0.9h-0.9zM28.8 70.3h1.0v1.0h-1.0zM41.7 70.1h0.9v0.9h-0.9zM38.9 69.8h1.2v1.2h-1.2zM42.4 70.6h1.2v1.2h-1.2zM37.4 69.1h1.2v1.2h-1.2zM56.9 72.7h1.1v1.1h-1.1zM49.4 67.9h0.9v0.9h-0.9zM48.3 67.9h1.0v1.0h-1.0zM51.4 70.9h0.8v0.8h-0.8zM51.9 70.7h1.0v1.0h-1.0zM44.8 70.1h0.8v0.8h-0.8zM46.1 71.9h1.2v1.2h-1.2zM45.2 70.1h0.9v0.9h-0.9zM44.9 72.2h1.3v1.3h-1.3zM57.2 72.9h1.0v1.0h-1.0zM56.7 72.0h0.8v0.8h-0.8zM53.8 69.5h1.1v1.1h-1.1zM56.7 70.4h1.0v1.0h-1.0zM52.9 70.4h0.9v0.9h-0.9zM51.8 71.1h1.2v1.2h-1.2zM51.7 72.2h0.8v0.8h-0.8zM53.7 69.8h1.3v1.3h-1.3zM56.2 70.9h0.9v0.9h-0.9zM56.3 72.1h1.1v1.1h-1.1zM54.3 69.1h1.1v1.1h-1.1zM53.8 71.9h1.1v1.1h-1.1zM56.2 69.4h1.3v1.3h-1.3zM58.9 70.4h0.8v0.8h-0.8zM143.1 41.1h1.1v1.1h-1.1zM141.9 40.9h1.2v1.2h-1.2zM142.9 41.3h0.9v0.9h-0.9zM141.8 38.5h1.3v1.3h-1.3zM142.0 39.4h1.3v1.3h-1.3zM142.9 41.1h1.3v1.3h-1.3zM142.3 40.6h1.4v1.4h-1.4zM142.3 40.9h1.1v1.1h-1.1zM139.8 37.9h0.9v0.9h-0.9zM176.1 42.0h1.1v1.1h-1.1zM175.5 42.5h1.1v1.1h-1.1zM174.7 41.9h1.0v1.0h-1.0zM175.2 42.1h1.3v1.3h-1.3zM174.8 42.1h1.2v1.2h-1.2z" fill="#47a5e6" opacity="0.9"/><path d="M28.8 66.2h1.1v1.1h-1.1zM27.7 67.3h1.3v1.3h-1.3zM26.4 68.6h1.4v1.4h-1.4zM29.7 66.6h1.3v1.3h-1.3zM26.4 67.4h1.3v1.3h-1.3zM27.8 66.9h1.0v1.0h-1.0zM29.5 68.8h1.5v1.5h-1.5zM25.2 67.9h1.3v1.3h-1.3zM37.9 69.4h1.4v1.4h-1.4zM38.5 67.2h1.3v1.3h-1.3zM34.3 67.6h1.4v1.4h-1.4zM32.9 67.7h1.0v1.0h-1.0zM33.0 65.6h1.4v1.4h-1.4zM33.7 66.7h1.3v1.3h-1.3zM36.6 68.8h1.2v1.2h-1.2zM33.6 67.0h1.0v1.0h-1.0zM35.6 70.3h1.3v1.3h-1.3zM33.5 66.9h1.5v1.5h-1.5zM58.6 69.5h1.2v1.2h-1.2zM56.2 70.0h0.9v0.9h-0.9zM60.7 69.7h0.9v0.9h-0.9zM59.0 70.9h1.1v1.1h-1.1zM57.6 70.1h1.5v1.5h-1.5zM60.1 70.1h1.5v1.5h-1.5zM54.9 72.3h1.3v1.3h-1.3zM58.4 70.3h1.0v1.0h-1.0zM57.3 69.5h1.4v1.4h-1.4zM31.3 69.0h1.3v1.3h-1.3zM27.5 68.7h1.0v1.0h-1.0zM26.0 70.1h0.9v0.9h-0.9zM34.8 69.0h0.9v0.9h-0.9zM42.7 69.7h0.8v0.8h-0.8zM35.5 69.7h1.0v1.0h-1.0zM24.8 69.1h1.1v1.1h-1.1zM44.2 70.7h0.9v0.9h-0.9zM59.4 70.6h1.0v1.0h-1.0zM51.1 70.2h1.2v1.2h-1.2zM50.7 72.3h1.1v1.1h-1.1zM51.5 70.2h1.0v1.0h-1.0zM52.9 69.3h1.0v1.0h-1.0zM52.6 72.2h1.0v1.0h-1.0zM54.5 74.0h1.2v1.2h-1.2zM47.1 69.5h1.1v1.1h-1.1zM56.3 71.0h1.3v1.3h-1.3zM57.8 71.6h0.9v0.9h-0.9zM57.0 72.7h1.2v1.2h-1.2zM54.8 69.4h1.1v1.1h-1.1zM57.9 70.8h1.0v1.0h-1.0zM56.4 70.8h1.3v1.3h-1.3zM57.7 70.1h0.8v0.8h-0.8zM54.7 72.1h1.1v1.1h-1.1zM141.4 40.0h1.0v1.0h-1.0zM142.3 39.4h1.2v1.2h-1.2zM142.3 40.7h1.1v1.1h-1.1zM142.3 41.1h1.0v1.0h-1.0zM142.9 40.3h1.2v1.2h-1.2zM142.8 40.6h1.3v1.3h-1.3zM141.2 39.7h1.2v1.2h-1.2zM142.5 39.9h1.4v1.4h-1.4zM142.9 40.5h1.3v1.3h-1.3zM141.8 38.7h1.4v1.4h-1.4zM142.6 41.0h1.3v1.3h-1.3zM142.2 40.9h0.9v0.9h-0.9zM142.1 40.5h1.0v1.0h-1.0zM138.9 38.3h0.9v0.9h-0.9zM139.8 38.0h0.9v0.9h-0.9zM175.7 42.1h1.2v1.2h-1.2zM176.0 41.6h1.1v1.1h-1.1z" fill="#47a5e6" opacity="1.0"/><path d="M5.2 66.5h1.1v1.1h-1.1zM5.3 66.9h1.0v1.0h-1.0zM5.9 67.1h0.9v0.9h-0.9zM5.9 66.5h1.0v1.0h-1.0z" fill="#d4421b" opacity="1.0"/></g><use href="#lines"/></g><use href="#legend" transform="translate(-0.7 -1.0)"/></g>
<path d="M8.5 16.5H545.5V297.3H8.5ZM277.3 16.5V297.3M8.5 157.2H545.5" fill="none" stroke="#1a1a1a" stroke-width="0.9"/>
<g font-family="'Liberation Sans',Arial,sans-serif" font-weight="bold" font-size="10" fill="#111">
<text x="8.5" y="11.6">(a) ssp126</text>
<text x="277.5" y="11.6">(b) ssp245</text>
<text x="8.5" y="309.7">(c) ssp370</text>
<text x="277.7" y="309.7">(d) ssp585</text>
</g>
</svg>
</body></html>
